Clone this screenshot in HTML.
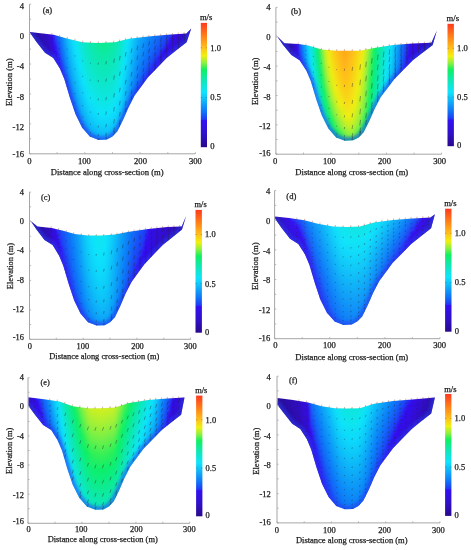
<!DOCTYPE html>
<html><head><meta charset="utf-8"><title>Figure</title><style>html,body{margin:0;padding:0;background:#fff}svg{display:block}text{stroke:#1a1a1a;stroke-width:.25px}</style></head><body>
<svg width="471" height="550" viewBox="0 0 471 550" font-family="'Liberation Serif', serif" font-size="8.6" fill="#1a1a1a">
<rect width="471" height="550" fill="#fff"/>
<defs><linearGradient id="cb" x1="0" y1="0" x2="0" y2="1"><stop offset="0.0000" stop-color="#ff3a20"/><stop offset="0.0960" stop-color="#ff7a18"/><stop offset="0.2000" stop-color="#ffc01a"/><stop offset="0.2640" stop-color="#f0f010"/><stop offset="0.3200" stop-color="#90f040"/><stop offset="0.3760" stop-color="#10f060"/><stop offset="0.4560" stop-color="#10e8b0"/><stop offset="0.5560" stop-color="#10e4fc"/><stop offset="0.6000" stop-color="#10c8f8"/><stop offset="0.7200" stop-color="#1070f8"/><stop offset="0.7776" stop-color="#2038f4"/><stop offset="0.7856" stop-color="#3210f4"/><stop offset="0.8960" stop-color="#3010c8"/><stop offset="1.0000" stop-color="#28088c"/></linearGradient>
<filter id="hb" x="-2%" y="-2%" width="104%" height="104%"><feGaussianBlur stdDeviation="1.3 0"/></filter>
<filter id="bl" x="-5%" y="-5%" width="110%" height="110%"><feGaussianBlur stdDeviation="1.6"/></filter>
<clipPath id="cp_a"><path d="M29.5,32.1 L53.7,34.8 L67.0,38.4 L82.3,42.2 L97.5,43.1 L114.7,42.2 L129.0,38.8 L148.2,36.5 L167.2,34.8 L186.4,33.6 L191.2,28.4 L186.6,42.3 L176.0,50.6 L166.6,58.0 L157.2,67.8 L147.8,77.5 L141.8,85.7 L134.6,95.4 L128.5,107.4 L123.0,120.1 L117.4,131.3 L112.5,136.6 L106.9,139.6 L98.6,139.9 L89.8,136.6 L82.0,127.6 L75.4,114.1 L69.9,97.7 L64.3,79.0 L59.9,68.5 L53.3,58.0 L45.0,52.8 L36.7,42.3 L29.5,31.9Z"/></clipPath>
<linearGradient id="ga0" gradientUnits="userSpaceOnUse" x1="0" y1="32.1" x2="0" y2="32.6"><stop offset="0.00" stop-color="#28088e"/><stop offset="0.15" stop-color="#28088e"/><stop offset="0.30" stop-color="#28088e"/><stop offset="0.45" stop-color="#28088d"/><stop offset="0.60" stop-color="#28088d"/><stop offset="0.73" stop-color="#28088d"/><stop offset="0.85" stop-color="#28088d"/><stop offset="0.94" stop-color="#28088d"/><stop offset="1.00" stop-color="#28088d"/></linearGradient>
<linearGradient id="ga1" gradientUnits="userSpaceOnUse" x1="0" y1="32.4" x2="0" y2="35.5"><stop offset="0.00" stop-color="#290994"/><stop offset="0.15" stop-color="#290994"/><stop offset="0.30" stop-color="#290994"/><stop offset="0.45" stop-color="#290993"/><stop offset="0.60" stop-color="#290993"/><stop offset="0.73" stop-color="#290993"/><stop offset="0.85" stop-color="#290992"/><stop offset="0.94" stop-color="#290992"/><stop offset="1.00" stop-color="#290991"/></linearGradient>
<linearGradient id="ga2" gradientUnits="userSpaceOnUse" x1="0" y1="32.6" x2="0" y2="38.4"><stop offset="0.00" stop-color="#2a0a9b"/><stop offset="0.15" stop-color="#2a0a9b"/><stop offset="0.30" stop-color="#2a0a9a"/><stop offset="0.45" stop-color="#2a0a99"/><stop offset="0.60" stop-color="#2a0a99"/><stop offset="0.73" stop-color="#2a0a98"/><stop offset="0.85" stop-color="#290997"/><stop offset="0.94" stop-color="#290996"/><stop offset="1.00" stop-color="#290995"/></linearGradient>
<linearGradient id="ga3" gradientUnits="userSpaceOnUse" x1="0" y1="32.8" x2="0" y2="41.3"><stop offset="0.00" stop-color="#2b0ba2"/><stop offset="0.15" stop-color="#2b0ba1"/><stop offset="0.30" stop-color="#2b0ba0"/><stop offset="0.45" stop-color="#2b0b9f"/><stop offset="0.60" stop-color="#2a0a9e"/><stop offset="0.73" stop-color="#2a0a9d"/><stop offset="0.85" stop-color="#2a0a9c"/><stop offset="0.94" stop-color="#2a0a9b"/><stop offset="1.00" stop-color="#2a0a99"/></linearGradient>
<linearGradient id="ga4" gradientUnits="userSpaceOnUse" x1="0" y1="33.1" x2="0" y2="44.0"><stop offset="0.00" stop-color="#2c0ca9"/><stop offset="0.15" stop-color="#2c0ca8"/><stop offset="0.30" stop-color="#2c0ca7"/><stop offset="0.45" stop-color="#2b0ba5"/><stop offset="0.60" stop-color="#2b0ba4"/><stop offset="0.73" stop-color="#2b0ba2"/><stop offset="0.85" stop-color="#2b0ba1"/><stop offset="0.94" stop-color="#2b0b9f"/><stop offset="1.00" stop-color="#2a0a9d"/></linearGradient>
<linearGradient id="ga5" gradientUnits="userSpaceOnUse" x1="0" y1="33.3" x2="0" y2="46.5"><stop offset="0.00" stop-color="#2d0db0"/><stop offset="0.15" stop-color="#2d0dae"/><stop offset="0.30" stop-color="#2c0cad"/><stop offset="0.45" stop-color="#2c0cab"/><stop offset="0.60" stop-color="#2c0ca9"/><stop offset="0.73" stop-color="#2c0ca8"/><stop offset="0.85" stop-color="#2b0ba6"/><stop offset="0.94" stop-color="#2b0ba4"/><stop offset="1.00" stop-color="#2b0ba1"/></linearGradient>
<linearGradient id="ga6" gradientUnits="userSpaceOnUse" x1="0" y1="33.5" x2="0" y2="49.0"><stop offset="0.00" stop-color="#2e0eb6"/><stop offset="0.15" stop-color="#2d0db5"/><stop offset="0.30" stop-color="#2d0db3"/><stop offset="0.45" stop-color="#2d0db1"/><stop offset="0.60" stop-color="#2d0daf"/><stop offset="0.73" stop-color="#2c0cad"/><stop offset="0.85" stop-color="#2c0cab"/><stop offset="0.94" stop-color="#2c0ca8"/><stop offset="1.00" stop-color="#2b0ba5"/></linearGradient>
<linearGradient id="ga7" gradientUnits="userSpaceOnUse" x1="0" y1="33.7" x2="0" y2="51.6"><stop offset="0.00" stop-color="#2f0fbd"/><stop offset="0.15" stop-color="#2e0ebb"/><stop offset="0.30" stop-color="#2e0eb9"/><stop offset="0.45" stop-color="#2e0eb7"/><stop offset="0.60" stop-color="#2d0db5"/><stop offset="0.73" stop-color="#2d0db2"/><stop offset="0.85" stop-color="#2d0daf"/><stop offset="0.94" stop-color="#2c0cad"/><stop offset="1.00" stop-color="#2c0ca9"/></linearGradient>
<linearGradient id="ga8" gradientUnits="userSpaceOnUse" x1="0" y1="34.0" x2="0" y2="53.4"><stop offset="0.00" stop-color="#2f0fc4"/><stop offset="0.15" stop-color="#2f0fc2"/><stop offset="0.30" stop-color="#2f0fbf"/><stop offset="0.45" stop-color="#2f0fbd"/><stop offset="0.60" stop-color="#2e0eba"/><stop offset="0.73" stop-color="#2e0eb7"/><stop offset="0.85" stop-color="#2d0db4"/><stop offset="0.94" stop-color="#2d0db1"/><stop offset="1.00" stop-color="#2c0cad"/></linearGradient>
<linearGradient id="ga9" gradientUnits="userSpaceOnUse" x1="0" y1="34.2" x2="0" y2="54.7"><stop offset="0.00" stop-color="#3010ca"/><stop offset="0.15" stop-color="#3010c8"/><stop offset="0.30" stop-color="#3010c6"/><stop offset="0.45" stop-color="#2f0fc3"/><stop offset="0.60" stop-color="#2f0fc0"/><stop offset="0.73" stop-color="#2e0ebd"/><stop offset="0.85" stop-color="#2e0eb9"/><stop offset="0.94" stop-color="#2e0eb6"/><stop offset="1.00" stop-color="#2d0db1"/></linearGradient>
<linearGradient id="ga10" gradientUnits="userSpaceOnUse" x1="0" y1="34.4" x2="0" y2="56.0"><stop offset="0.00" stop-color="#3010cf"/><stop offset="0.15" stop-color="#3010cd"/><stop offset="0.30" stop-color="#3010cb"/><stop offset="0.45" stop-color="#3010c9"/><stop offset="0.60" stop-color="#3010c5"/><stop offset="0.73" stop-color="#2f0fc2"/><stop offset="0.85" stop-color="#2f0fbe"/><stop offset="0.94" stop-color="#2e0eba"/><stop offset="1.00" stop-color="#2d0db5"/></linearGradient>
<linearGradient id="ga11" gradientUnits="userSpaceOnUse" x1="0" y1="34.7" x2="0" y2="57.2"><stop offset="0.00" stop-color="#3110e3"/><stop offset="0.15" stop-color="#3110e0"/><stop offset="0.30" stop-color="#3110dd"/><stop offset="0.45" stop-color="#3110da"/><stop offset="0.60" stop-color="#3110d6"/><stop offset="0.73" stop-color="#3010d3"/><stop offset="0.85" stop-color="#3010cf"/><stop offset="0.94" stop-color="#3010cb"/><stop offset="1.00" stop-color="#3010c5"/></linearGradient>
<linearGradient id="ga12" gradientUnits="userSpaceOnUse" x1="0" y1="34.9" x2="0" y2="59.2"><stop offset="0.00" stop-color="#2a21f4"/><stop offset="0.15" stop-color="#3210f2"/><stop offset="0.30" stop-color="#3210ef"/><stop offset="0.45" stop-color="#3210eb"/><stop offset="0.60" stop-color="#3110e6"/><stop offset="0.73" stop-color="#3110e2"/><stop offset="0.85" stop-color="#3110dd"/><stop offset="0.94" stop-color="#3110d8"/><stop offset="1.00" stop-color="#3010d2"/></linearGradient>
<linearGradient id="ga13" gradientUnits="userSpaceOnUse" x1="0" y1="35.5" x2="0" y2="62.3"><stop offset="0.00" stop-color="#1b49f5"/><stop offset="0.15" stop-color="#1e40f5"/><stop offset="0.30" stop-color="#2430f4"/><stop offset="0.45" stop-color="#3210f2"/><stop offset="0.60" stop-color="#3210ed"/><stop offset="0.73" stop-color="#3110e9"/><stop offset="0.85" stop-color="#3110e3"/><stop offset="0.94" stop-color="#3110de"/><stop offset="1.00" stop-color="#3110d7"/></linearGradient>
<linearGradient id="ga14" gradientUnits="userSpaceOnUse" x1="0" y1="36.0" x2="0" y2="65.5"><stop offset="0.00" stop-color="#155ef7"/><stop offset="0.15" stop-color="#1854f6"/><stop offset="0.30" stop-color="#1b4af5"/><stop offset="0.45" stop-color="#1e3ef4"/><stop offset="0.60" stop-color="#2f17f4"/><stop offset="0.73" stop-color="#3210ef"/><stop offset="0.85" stop-color="#3210ea"/><stop offset="0.94" stop-color="#3110e4"/><stop offset="1.00" stop-color="#3110dc"/></linearGradient>
<linearGradient id="ga15" gradientUnits="userSpaceOnUse" x1="0" y1="36.5" x2="0" y2="68.7"><stop offset="0.00" stop-color="#1072f8"/><stop offset="0.15" stop-color="#1269f7"/><stop offset="0.30" stop-color="#155df7"/><stop offset="0.45" stop-color="#1951f6"/><stop offset="0.60" stop-color="#1d43f5"/><stop offset="0.73" stop-color="#2729f4"/><stop offset="0.85" stop-color="#3210f0"/><stop offset="0.94" stop-color="#3210e9"/><stop offset="1.00" stop-color="#3110e1"/></linearGradient>
<linearGradient id="ga16" gradientUnits="userSpaceOnUse" x1="0" y1="37.0" x2="0" y2="73.4"><stop offset="0.00" stop-color="#1085f8"/><stop offset="0.15" stop-color="#107cf8"/><stop offset="0.30" stop-color="#1073f8"/><stop offset="0.45" stop-color="#1366f7"/><stop offset="0.60" stop-color="#1757f6"/><stop offset="0.73" stop-color="#1c48f5"/><stop offset="0.85" stop-color="#2430f4"/><stop offset="0.94" stop-color="#3210f0"/><stop offset="1.00" stop-color="#3110e7"/></linearGradient>
<linearGradient id="ga17" gradientUnits="userSpaceOnUse" x1="0" y1="37.6" x2="0" y2="78.2"><stop offset="0.00" stop-color="#1099f8"/><stop offset="0.15" stop-color="#108ff8"/><stop offset="0.30" stop-color="#1085f8"/><stop offset="0.45" stop-color="#107af8"/><stop offset="0.60" stop-color="#116cf8"/><stop offset="0.73" stop-color="#165bf7"/><stop offset="0.85" stop-color="#1b49f5"/><stop offset="0.94" stop-color="#242ff4"/><stop offset="1.00" stop-color="#3210ed"/></linearGradient>
<linearGradient id="ga18" gradientUnits="userSpaceOnUse" x1="0" y1="38.1" x2="0" y2="84.6"><stop offset="0.00" stop-color="#10acf8"/><stop offset="0.15" stop-color="#10a2f8"/><stop offset="0.30" stop-color="#1097f8"/><stop offset="0.45" stop-color="#108bf8"/><stop offset="0.60" stop-color="#107df8"/><stop offset="0.73" stop-color="#106ff8"/><stop offset="0.85" stop-color="#165af6"/><stop offset="0.94" stop-color="#1c46f5"/><stop offset="1.00" stop-color="#3210f2"/></linearGradient>
<linearGradient id="ga19" gradientUnits="userSpaceOnUse" x1="0" y1="38.6" x2="0" y2="91.4"><stop offset="0.00" stop-color="#10c0f8"/><stop offset="0.15" stop-color="#10b5f8"/><stop offset="0.30" stop-color="#10a9f8"/><stop offset="0.45" stop-color="#109cf8"/><stop offset="0.60" stop-color="#108cf8"/><stop offset="0.73" stop-color="#107df8"/><stop offset="0.85" stop-color="#116bf8"/><stop offset="0.94" stop-color="#1756f6"/><stop offset="1.00" stop-color="#1f3af4"/></linearGradient>
<linearGradient id="ga20" gradientUnits="userSpaceOnUse" x1="0" y1="39.1" x2="0" y2="98.1"><stop offset="0.00" stop-color="#10cdf9"/><stop offset="0.15" stop-color="#10c2f8"/><stop offset="0.30" stop-color="#10b6f8"/><stop offset="0.45" stop-color="#10a8f8"/><stop offset="0.60" stop-color="#1098f8"/><stop offset="0.73" stop-color="#1089f8"/><stop offset="0.85" stop-color="#1077f8"/><stop offset="0.94" stop-color="#1464f7"/><stop offset="1.00" stop-color="#1c46f5"/></linearGradient>
<linearGradient id="ga21" gradientUnits="userSpaceOnUse" x1="0" y1="39.6" x2="0" y2="104.0"><stop offset="0.00" stop-color="#10d8fa"/><stop offset="0.15" stop-color="#10cef9"/><stop offset="0.30" stop-color="#10c1f8"/><stop offset="0.45" stop-color="#10b3f8"/><stop offset="0.60" stop-color="#10a2f8"/><stop offset="0.73" stop-color="#1092f8"/><stop offset="0.85" stop-color="#1080f8"/><stop offset="0.94" stop-color="#116ef8"/><stop offset="1.00" stop-color="#194ff6"/></linearGradient>
<linearGradient id="ga22" gradientUnits="userSpaceOnUse" x1="0" y1="40.1" x2="0" y2="110.0"><stop offset="0.00" stop-color="#10e3fc"/><stop offset="0.15" stop-color="#10d8fa"/><stop offset="0.30" stop-color="#10ccf9"/><stop offset="0.45" stop-color="#10bef8"/><stop offset="0.60" stop-color="#10acf8"/><stop offset="0.73" stop-color="#109bf8"/><stop offset="0.85" stop-color="#1088f8"/><stop offset="0.94" stop-color="#1076f8"/><stop offset="1.00" stop-color="#1758f6"/></linearGradient>
<linearGradient id="ga23" gradientUnits="userSpaceOnUse" x1="0" y1="40.6" x2="0" y2="115.4"><stop offset="0.00" stop-color="#10e4f3"/><stop offset="0.15" stop-color="#10e1fc"/><stop offset="0.30" stop-color="#10d5fa"/><stop offset="0.45" stop-color="#10c7f8"/><stop offset="0.60" stop-color="#10b5f8"/><stop offset="0.73" stop-color="#10a3f8"/><stop offset="0.85" stop-color="#1090f8"/><stop offset="0.94" stop-color="#107df8"/><stop offset="1.00" stop-color="#1560f7"/></linearGradient>
<linearGradient id="ga24" gradientUnits="userSpaceOnUse" x1="0" y1="41.1" x2="0" y2="119.4"><stop offset="0.00" stop-color="#10e5e8"/><stop offset="0.15" stop-color="#10e4f5"/><stop offset="0.30" stop-color="#10ddfb"/><stop offset="0.45" stop-color="#10cff9"/><stop offset="0.60" stop-color="#10bef8"/><stop offset="0.73" stop-color="#10abf8"/><stop offset="0.85" stop-color="#1097f8"/><stop offset="0.94" stop-color="#1083f8"/><stop offset="1.00" stop-color="#1268f7"/></linearGradient>
<linearGradient id="ga25" gradientUnits="userSpaceOnUse" x1="0" y1="41.6" x2="0" y2="123.5"><stop offset="0.00" stop-color="#10e6dd"/><stop offset="0.15" stop-color="#10e5eb"/><stop offset="0.30" stop-color="#10e4fa"/><stop offset="0.45" stop-color="#10d7fa"/><stop offset="0.60" stop-color="#10c6f8"/><stop offset="0.73" stop-color="#10b3f8"/><stop offset="0.85" stop-color="#109ef8"/><stop offset="0.94" stop-color="#108af8"/><stop offset="1.00" stop-color="#106ff8"/></linearGradient>
<linearGradient id="ga26" gradientUnits="userSpaceOnUse" x1="0" y1="42.1" x2="0" y2="127.5"><stop offset="0.00" stop-color="#10e6d3"/><stop offset="0.15" stop-color="#10e5e1"/><stop offset="0.30" stop-color="#10e5f1"/><stop offset="0.45" stop-color="#10defb"/><stop offset="0.60" stop-color="#10cdf9"/><stop offset="0.73" stop-color="#10baf8"/><stop offset="0.85" stop-color="#10a5f8"/><stop offset="0.94" stop-color="#1090f8"/><stop offset="1.00" stop-color="#1075f8"/></linearGradient>
<linearGradient id="ga27" gradientUnits="userSpaceOnUse" x1="0" y1="42.3" x2="0" y2="129.9"><stop offset="0.00" stop-color="#10e7c8"/><stop offset="0.15" stop-color="#10e6d7"/><stop offset="0.30" stop-color="#10e5e8"/><stop offset="0.45" stop-color="#10e4fa"/><stop offset="0.60" stop-color="#10d4fa"/><stop offset="0.73" stop-color="#10c2f8"/><stop offset="0.85" stop-color="#10acf8"/><stop offset="0.94" stop-color="#1096f8"/><stop offset="1.00" stop-color="#107bf8"/></linearGradient>
<linearGradient id="ga28" gradientUnits="userSpaceOnUse" x1="0" y1="42.4" x2="0" y2="132.2"><stop offset="0.00" stop-color="#10e7be"/><stop offset="0.15" stop-color="#10e6cd"/><stop offset="0.30" stop-color="#10e6de"/><stop offset="0.45" stop-color="#10e5f1"/><stop offset="0.60" stop-color="#10dbfb"/><stop offset="0.73" stop-color="#10c9f8"/><stop offset="0.85" stop-color="#10b3f8"/><stop offset="0.94" stop-color="#109df8"/><stop offset="1.00" stop-color="#1080f8"/></linearGradient>
<linearGradient id="ga29" gradientUnits="userSpaceOnUse" x1="0" y1="42.5" x2="0" y2="134.5"><stop offset="0.00" stop-color="#10e8b5"/><stop offset="0.15" stop-color="#10e7c4"/><stop offset="0.30" stop-color="#10e6d5"/><stop offset="0.45" stop-color="#10e5e8"/><stop offset="0.60" stop-color="#10e2fc"/><stop offset="0.73" stop-color="#10d0f9"/><stop offset="0.85" stop-color="#10b9f8"/><stop offset="0.94" stop-color="#10a3f8"/><stop offset="1.00" stop-color="#1086f8"/></linearGradient>
<linearGradient id="ga30" gradientUnits="userSpaceOnUse" x1="0" y1="42.6" x2="0" y2="136.7"><stop offset="0.00" stop-color="#10e8b0"/><stop offset="0.15" stop-color="#10e7bf"/><stop offset="0.30" stop-color="#10e6d0"/><stop offset="0.45" stop-color="#10e5e3"/><stop offset="0.60" stop-color="#10e4f9"/><stop offset="0.73" stop-color="#10d5fa"/><stop offset="0.85" stop-color="#10c0f8"/><stop offset="0.94" stop-color="#10a9f8"/><stop offset="1.00" stop-color="#108cf8"/></linearGradient>
<linearGradient id="ga31" gradientUnits="userSpaceOnUse" x1="0" y1="42.8" x2="0" y2="137.4"><stop offset="0.00" stop-color="#10e9a9"/><stop offset="0.15" stop-color="#10e7ba"/><stop offset="0.30" stop-color="#10e7cc"/><stop offset="0.45" stop-color="#10e6df"/><stop offset="0.60" stop-color="#10e4f4"/><stop offset="0.73" stop-color="#10d8fa"/><stop offset="0.85" stop-color="#10c4f8"/><stop offset="0.94" stop-color="#10aef8"/><stop offset="1.00" stop-color="#1090f8"/></linearGradient>
<linearGradient id="ga32" gradientUnits="userSpaceOnUse" x1="0" y1="42.9" x2="0" y2="138.2"><stop offset="0.00" stop-color="#10e9a2"/><stop offset="0.15" stop-color="#10e8b6"/><stop offset="0.30" stop-color="#10e7c7"/><stop offset="0.45" stop-color="#10e6da"/><stop offset="0.60" stop-color="#10e5f0"/><stop offset="0.73" stop-color="#10dcfb"/><stop offset="0.85" stop-color="#10c8f8"/><stop offset="0.94" stop-color="#10b1f8"/><stop offset="1.00" stop-color="#1093f8"/></linearGradient>
<linearGradient id="ga33" gradientUnits="userSpaceOnUse" x1="0" y1="43.0" x2="0" y2="138.9"><stop offset="0.00" stop-color="#10ea9c"/><stop offset="0.15" stop-color="#10e8b1"/><stop offset="0.30" stop-color="#10e7c2"/><stop offset="0.45" stop-color="#10e6d6"/><stop offset="0.60" stop-color="#10e5ec"/><stop offset="0.73" stop-color="#10dffb"/><stop offset="0.85" stop-color="#10cbf8"/><stop offset="0.94" stop-color="#10b4f8"/><stop offset="1.00" stop-color="#1096f8"/></linearGradient>
<linearGradient id="ga34" gradientUnits="userSpaceOnUse" x1="0" y1="43.1" x2="0" y2="139.7"><stop offset="0.00" stop-color="#10ea98"/><stop offset="0.15" stop-color="#10e8ad"/><stop offset="0.30" stop-color="#10e7c0"/><stop offset="0.45" stop-color="#10e6d3"/><stop offset="0.60" stop-color="#10e5e8"/><stop offset="0.73" stop-color="#10e2fc"/><stop offset="0.85" stop-color="#10cef9"/><stop offset="0.94" stop-color="#10b7f8"/><stop offset="1.00" stop-color="#1099f8"/></linearGradient>
<linearGradient id="ga35" gradientUnits="userSpaceOnUse" x1="0" y1="42.9" x2="0" y2="139.9"><stop offset="0.00" stop-color="#10eb95"/><stop offset="0.15" stop-color="#10e9aa"/><stop offset="0.30" stop-color="#10e7bd"/><stop offset="0.45" stop-color="#10e6d0"/><stop offset="0.60" stop-color="#10e5e6"/><stop offset="0.73" stop-color="#10e4fc"/><stop offset="0.85" stop-color="#10d0f9"/><stop offset="0.94" stop-color="#10baf8"/><stop offset="1.00" stop-color="#109bf8"/></linearGradient>
<linearGradient id="ga36" gradientUnits="userSpaceOnUse" x1="0" y1="42.8" x2="0" y2="139.8"><stop offset="0.00" stop-color="#10eb91"/><stop offset="0.15" stop-color="#10e9a6"/><stop offset="0.30" stop-color="#10e7ba"/><stop offset="0.45" stop-color="#10e6ce"/><stop offset="0.60" stop-color="#10e5e4"/><stop offset="0.73" stop-color="#10e4fa"/><stop offset="0.85" stop-color="#10d2f9"/><stop offset="0.94" stop-color="#10bcf8"/><stop offset="1.00" stop-color="#109df8"/></linearGradient>
<linearGradient id="ga37" gradientUnits="userSpaceOnUse" x1="0" y1="42.7" x2="0" y2="139.7"><stop offset="0.00" stop-color="#10eb92"/><stop offset="0.15" stop-color="#10e9a7"/><stop offset="0.30" stop-color="#10e7ba"/><stop offset="0.45" stop-color="#10e6cd"/><stop offset="0.60" stop-color="#10e5e2"/><stop offset="0.73" stop-color="#10e4f8"/><stop offset="0.85" stop-color="#10d3fa"/><stop offset="0.94" stop-color="#10bef8"/><stop offset="1.00" stop-color="#109ff8"/></linearGradient>
<linearGradient id="ga38" gradientUnits="userSpaceOnUse" x1="0" y1="42.6" x2="0" y2="139.6"><stop offset="0.00" stop-color="#10eb94"/><stop offset="0.15" stop-color="#10e9a9"/><stop offset="0.30" stop-color="#10e7bc"/><stop offset="0.45" stop-color="#10e6cf"/><stop offset="0.60" stop-color="#10e5e3"/><stop offset="0.73" stop-color="#10e4f8"/><stop offset="0.85" stop-color="#10d4fa"/><stop offset="0.94" stop-color="#10bff8"/><stop offset="1.00" stop-color="#10a0f8"/></linearGradient>
<linearGradient id="ga39" gradientUnits="userSpaceOnUse" x1="0" y1="42.5" x2="0" y2="139.0"><stop offset="0.00" stop-color="#10eb97"/><stop offset="0.15" stop-color="#10e8ac"/><stop offset="0.30" stop-color="#10e7be"/><stop offset="0.45" stop-color="#10e6d0"/><stop offset="0.60" stop-color="#10e5e5"/><stop offset="0.73" stop-color="#10e4f9"/><stop offset="0.85" stop-color="#10d3fa"/><stop offset="0.94" stop-color="#10bef8"/><stop offset="1.00" stop-color="#109ff8"/></linearGradient>
<linearGradient id="ga40" gradientUnits="userSpaceOnUse" x1="0" y1="42.4" x2="0" y2="137.9"><stop offset="0.00" stop-color="#10ea99"/><stop offset="0.15" stop-color="#10e8ae"/><stop offset="0.30" stop-color="#10e7bf"/><stop offset="0.45" stop-color="#10e6d2"/><stop offset="0.60" stop-color="#10e5e6"/><stop offset="0.73" stop-color="#10e4fb"/><stop offset="0.85" stop-color="#10d2f9"/><stop offset="0.94" stop-color="#10bdf8"/><stop offset="1.00" stop-color="#109ef8"/></linearGradient>
<linearGradient id="ga41" gradientUnits="userSpaceOnUse" x1="0" y1="42.3" x2="0" y2="136.8"><stop offset="0.00" stop-color="#10ea9b"/><stop offset="0.15" stop-color="#10e8b0"/><stop offset="0.30" stop-color="#10e7c1"/><stop offset="0.45" stop-color="#10e6d4"/><stop offset="0.60" stop-color="#10e5e8"/><stop offset="0.73" stop-color="#10e4fc"/><stop offset="0.85" stop-color="#10d1f9"/><stop offset="0.94" stop-color="#10bcf8"/><stop offset="1.00" stop-color="#109df8"/></linearGradient>
<linearGradient id="ga42" gradientUnits="userSpaceOnUse" x1="0" y1="42.2" x2="0" y2="134.9"><stop offset="0.00" stop-color="#10e9a4"/><stop offset="0.15" stop-color="#10e8b6"/><stop offset="0.30" stop-color="#10e7c6"/><stop offset="0.45" stop-color="#10e6d7"/><stop offset="0.60" stop-color="#10e5ea"/><stop offset="0.73" stop-color="#10e2fc"/><stop offset="0.85" stop-color="#10cff9"/><stop offset="0.94" stop-color="#10baf8"/><stop offset="1.00" stop-color="#109cf8"/></linearGradient>
<linearGradient id="ga43" gradientUnits="userSpaceOnUse" x1="0" y1="41.9" x2="0" y2="132.8"><stop offset="0.00" stop-color="#10e8ae"/><stop offset="0.15" stop-color="#10e7bd"/><stop offset="0.30" stop-color="#10e6cd"/><stop offset="0.45" stop-color="#10e6de"/><stop offset="0.60" stop-color="#10e5f1"/><stop offset="0.73" stop-color="#10defb"/><stop offset="0.85" stop-color="#10ccf9"/><stop offset="0.94" stop-color="#10b8f8"/><stop offset="1.00" stop-color="#109af8"/></linearGradient>
<linearGradient id="ga44" gradientUnits="userSpaceOnUse" x1="0" y1="41.4" x2="0" y2="130.2"><stop offset="0.00" stop-color="#10e8b6"/><stop offset="0.15" stop-color="#10e7c5"/><stop offset="0.30" stop-color="#10e6d4"/><stop offset="0.45" stop-color="#10e5e5"/><stop offset="0.60" stop-color="#10e4f7"/><stop offset="0.73" stop-color="#10d9fa"/><stop offset="0.85" stop-color="#10c7f8"/><stop offset="0.94" stop-color="#10b3f8"/><stop offset="1.00" stop-color="#1096f8"/></linearGradient>
<linearGradient id="ga45" gradientUnits="userSpaceOnUse" x1="0" y1="40.9" x2="0" y2="126.1"><stop offset="0.00" stop-color="#10e7bf"/><stop offset="0.15" stop-color="#10e6cd"/><stop offset="0.30" stop-color="#10e6dc"/><stop offset="0.45" stop-color="#10e5ec"/><stop offset="0.60" stop-color="#10e3fc"/><stop offset="0.73" stop-color="#10d3fa"/><stop offset="0.85" stop-color="#10c1f8"/><stop offset="0.94" stop-color="#10adf8"/><stop offset="1.00" stop-color="#1091f8"/></linearGradient>
<linearGradient id="ga46" gradientUnits="userSpaceOnUse" x1="0" y1="40.5" x2="0" y2="122.1"><stop offset="0.00" stop-color="#10e6cd"/><stop offset="0.15" stop-color="#10e6db"/><stop offset="0.30" stop-color="#10e5e9"/><stop offset="0.45" stop-color="#10e4f8"/><stop offset="0.60" stop-color="#10dafb"/><stop offset="0.73" stop-color="#10ccf9"/><stop offset="0.85" stop-color="#10bbf8"/><stop offset="0.94" stop-color="#10a8f8"/><stop offset="1.00" stop-color="#108cf8"/></linearGradient>
<linearGradient id="ga47" gradientUnits="userSpaceOnUse" x1="0" y1="40.0" x2="0" y2="117.7"><stop offset="0.00" stop-color="#10e6dc"/><stop offset="0.15" stop-color="#10e5e9"/><stop offset="0.30" stop-color="#10e4f7"/><stop offset="0.45" stop-color="#10dcfb"/><stop offset="0.60" stop-color="#10cff9"/><stop offset="0.73" stop-color="#10c1f8"/><stop offset="0.85" stop-color="#10aff8"/><stop offset="0.94" stop-color="#109df8"/><stop offset="1.00" stop-color="#1083f8"/></linearGradient>
<linearGradient id="ga48" gradientUnits="userSpaceOnUse" x1="0" y1="39.5" x2="0" y2="113.1"><stop offset="0.00" stop-color="#10e5eb"/><stop offset="0.15" stop-color="#10e4f8"/><stop offset="0.30" stop-color="#10ddfb"/><stop offset="0.45" stop-color="#10d1f9"/><stop offset="0.60" stop-color="#10c4f8"/><stop offset="0.73" stop-color="#10b5f8"/><stop offset="0.85" stop-color="#10a4f8"/><stop offset="0.94" stop-color="#1093f8"/><stop offset="1.00" stop-color="#1079f8"/></linearGradient>
<linearGradient id="ga49" gradientUnits="userSpaceOnUse" x1="0" y1="39.1" x2="0" y2="108.5"><stop offset="0.00" stop-color="#10e4f9"/><stop offset="0.15" stop-color="#10dcfb"/><stop offset="0.30" stop-color="#10d1f9"/><stop offset="0.45" stop-color="#10c6f8"/><stop offset="0.60" stop-color="#10b7f8"/><stop offset="0.73" stop-color="#10a9f8"/><stop offset="0.85" stop-color="#1099f8"/><stop offset="0.94" stop-color="#1088f8"/><stop offset="1.00" stop-color="#1070f8"/></linearGradient>
<linearGradient id="ga50" gradientUnits="userSpaceOnUse" x1="0" y1="38.7" x2="0" y2="104.4"><stop offset="0.00" stop-color="#10dcfb"/><stop offset="0.15" stop-color="#10d2f9"/><stop offset="0.30" stop-color="#10c7f8"/><stop offset="0.45" stop-color="#10baf8"/><stop offset="0.60" stop-color="#10acf8"/><stop offset="0.73" stop-color="#109ef8"/><stop offset="0.85" stop-color="#108ef8"/><stop offset="0.94" stop-color="#107ef8"/><stop offset="1.00" stop-color="#1464f7"/></linearGradient>
<linearGradient id="ga51" gradientUnits="userSpaceOnUse" x1="0" y1="38.5" x2="0" y2="100.5"><stop offset="0.00" stop-color="#10d1f9"/><stop offset="0.15" stop-color="#10c7f8"/><stop offset="0.30" stop-color="#10bcf8"/><stop offset="0.45" stop-color="#10aff8"/><stop offset="0.60" stop-color="#10a2f8"/><stop offset="0.73" stop-color="#1094f8"/><stop offset="0.85" stop-color="#1085f8"/><stop offset="0.94" stop-color="#1075f8"/><stop offset="1.00" stop-color="#1759f6"/></linearGradient>
<linearGradient id="ga52" gradientUnits="userSpaceOnUse" x1="0" y1="38.2" x2="0" y2="96.6"><stop offset="0.00" stop-color="#10c6f8"/><stop offset="0.15" stop-color="#10bbf8"/><stop offset="0.30" stop-color="#10b0f8"/><stop offset="0.45" stop-color="#10a4f8"/><stop offset="0.60" stop-color="#1097f8"/><stop offset="0.73" stop-color="#108af8"/><stop offset="0.85" stop-color="#107bf8"/><stop offset="0.94" stop-color="#116bf8"/><stop offset="1.00" stop-color="#1a4ef6"/></linearGradient>
<linearGradient id="ga53" gradientUnits="userSpaceOnUse" x1="0" y1="38.0" x2="0" y2="93.5"><stop offset="0.00" stop-color="#10baf8"/><stop offset="0.15" stop-color="#10aff8"/><stop offset="0.30" stop-color="#10a5f8"/><stop offset="0.45" stop-color="#1099f8"/><stop offset="0.60" stop-color="#108df8"/><stop offset="0.73" stop-color="#1080f8"/><stop offset="0.85" stop-color="#1072f8"/><stop offset="0.94" stop-color="#155ff7"/><stop offset="1.00" stop-color="#1d44f5"/></linearGradient>
<linearGradient id="ga54" gradientUnits="userSpaceOnUse" x1="0" y1="37.7" x2="0" y2="90.8"><stop offset="0.00" stop-color="#10adf8"/><stop offset="0.15" stop-color="#10a4f8"/><stop offset="0.30" stop-color="#1099f8"/><stop offset="0.45" stop-color="#108ef8"/><stop offset="0.60" stop-color="#1082f8"/><stop offset="0.73" stop-color="#1076f8"/><stop offset="0.85" stop-color="#1366f7"/><stop offset="0.94" stop-color="#1854f6"/><stop offset="1.00" stop-color="#203af4"/></linearGradient>
<linearGradient id="ga55" gradientUnits="userSpaceOnUse" x1="0" y1="37.5" x2="0" y2="88.1"><stop offset="0.00" stop-color="#10a5f8"/><stop offset="0.15" stop-color="#109cf8"/><stop offset="0.30" stop-color="#1092f8"/><stop offset="0.45" stop-color="#1087f8"/><stop offset="0.60" stop-color="#107bf8"/><stop offset="0.73" stop-color="#116ef8"/><stop offset="0.85" stop-color="#165cf7"/><stop offset="0.94" stop-color="#1b4af5"/><stop offset="1.00" stop-color="#3211f4"/></linearGradient>
<linearGradient id="ga56" gradientUnits="userSpaceOnUse" x1="0" y1="37.2" x2="0" y2="85.4"><stop offset="0.00" stop-color="#109ff8"/><stop offset="0.15" stop-color="#1095f8"/><stop offset="0.30" stop-color="#108cf8"/><stop offset="0.45" stop-color="#1081f8"/><stop offset="0.60" stop-color="#1075f8"/><stop offset="0.73" stop-color="#1367f7"/><stop offset="0.85" stop-color="#1855f6"/><stop offset="0.94" stop-color="#1d44f5"/><stop offset="1.00" stop-color="#3210f2"/></linearGradient>
<linearGradient id="ga57" gradientUnits="userSpaceOnUse" x1="0" y1="37.0" x2="0" y2="82.7"><stop offset="0.00" stop-color="#1098f8"/><stop offset="0.15" stop-color="#108ff8"/><stop offset="0.30" stop-color="#1085f8"/><stop offset="0.45" stop-color="#107bf8"/><stop offset="0.60" stop-color="#106ff8"/><stop offset="0.73" stop-color="#1560f7"/><stop offset="0.85" stop-color="#1a4ff6"/><stop offset="0.94" stop-color="#1e3df4"/><stop offset="1.00" stop-color="#3210f0"/></linearGradient>
<linearGradient id="ga58" gradientUnits="userSpaceOnUse" x1="0" y1="36.8" x2="0" y2="80.0"><stop offset="0.00" stop-color="#1091f8"/><stop offset="0.15" stop-color="#1089f8"/><stop offset="0.30" stop-color="#107ff8"/><stop offset="0.45" stop-color="#1075f8"/><stop offset="0.60" stop-color="#1268f7"/><stop offset="0.73" stop-color="#1759f6"/><stop offset="0.85" stop-color="#1b48f5"/><stop offset="0.94" stop-color="#2233f4"/><stop offset="1.00" stop-color="#3210ed"/></linearGradient>
<linearGradient id="ga59" gradientUnits="userSpaceOnUse" x1="0" y1="36.5" x2="0" y2="77.3"><stop offset="0.00" stop-color="#108bf8"/><stop offset="0.15" stop-color="#1082f8"/><stop offset="0.30" stop-color="#1079f8"/><stop offset="0.45" stop-color="#106ff8"/><stop offset="0.60" stop-color="#1560f7"/><stop offset="0.73" stop-color="#1952f6"/><stop offset="0.85" stop-color="#1d41f5"/><stop offset="0.94" stop-color="#3113f4"/><stop offset="1.00" stop-color="#3210eb"/></linearGradient>
<linearGradient id="ga60" gradientUnits="userSpaceOnUse" x1="0" y1="36.3" x2="0" y2="75.3"><stop offset="0.00" stop-color="#1084f8"/><stop offset="0.15" stop-color="#107cf8"/><stop offset="0.30" stop-color="#1073f8"/><stop offset="0.45" stop-color="#1267f7"/><stop offset="0.60" stop-color="#1759f6"/><stop offset="0.73" stop-color="#1b4bf5"/><stop offset="0.85" stop-color="#1f3bf4"/><stop offset="0.94" stop-color="#3210f2"/><stop offset="1.00" stop-color="#3110e9"/></linearGradient>
<linearGradient id="ga61" gradientUnits="userSpaceOnUse" x1="0" y1="36.2" x2="0" y2="73.2"><stop offset="0.00" stop-color="#107ff8"/><stop offset="0.15" stop-color="#1077f8"/><stop offset="0.30" stop-color="#116df8"/><stop offset="0.45" stop-color="#1461f7"/><stop offset="0.60" stop-color="#1853f6"/><stop offset="0.73" stop-color="#1c45f5"/><stop offset="0.85" stop-color="#262bf4"/><stop offset="0.94" stop-color="#3210f0"/><stop offset="1.00" stop-color="#3110e7"/></linearGradient>
<linearGradient id="ga62" gradientUnits="userSpaceOnUse" x1="0" y1="36.0" x2="0" y2="71.1"><stop offset="0.00" stop-color="#1079f8"/><stop offset="0.15" stop-color="#1071f8"/><stop offset="0.30" stop-color="#1366f7"/><stop offset="0.45" stop-color="#165af6"/><stop offset="0.60" stop-color="#1a4df5"/><stop offset="0.73" stop-color="#1e3ff5"/><stop offset="0.85" stop-color="#3210f4"/><stop offset="0.94" stop-color="#3210ee"/><stop offset="1.00" stop-color="#3110e5"/></linearGradient>
<linearGradient id="ga63" gradientUnits="userSpaceOnUse" x1="0" y1="35.8" x2="0" y2="69.0"><stop offset="0.00" stop-color="#1074f8"/><stop offset="0.15" stop-color="#126af8"/><stop offset="0.30" stop-color="#155ff7"/><stop offset="0.45" stop-color="#1854f6"/><stop offset="0.60" stop-color="#1c46f5"/><stop offset="0.73" stop-color="#2039f4"/><stop offset="0.85" stop-color="#3210f2"/><stop offset="0.94" stop-color="#3210eb"/><stop offset="1.00" stop-color="#3110e3"/></linearGradient>
<linearGradient id="ga64" gradientUnits="userSpaceOnUse" x1="0" y1="35.6" x2="0" y2="67.0"><stop offset="0.00" stop-color="#116df8"/><stop offset="0.15" stop-color="#1463f7"/><stop offset="0.30" stop-color="#1759f6"/><stop offset="0.45" stop-color="#1a4df5"/><stop offset="0.60" stop-color="#1e40f5"/><stop offset="0.73" stop-color="#2b1ff4"/><stop offset="0.85" stop-color="#3210ef"/><stop offset="0.94" stop-color="#3210e9"/><stop offset="1.00" stop-color="#3110e1"/></linearGradient>
<linearGradient id="ga65" gradientUnits="userSpaceOnUse" x1="0" y1="35.5" x2="0" y2="64.9"><stop offset="0.00" stop-color="#1366f7"/><stop offset="0.15" stop-color="#165cf7"/><stop offset="0.30" stop-color="#1952f6"/><stop offset="0.45" stop-color="#1c46f5"/><stop offset="0.60" stop-color="#1f3af4"/><stop offset="0.73" stop-color="#3210f3"/><stop offset="0.85" stop-color="#3210ed"/><stop offset="0.94" stop-color="#3110e7"/><stop offset="1.00" stop-color="#3110df"/></linearGradient>
<linearGradient id="ga66" gradientUnits="userSpaceOnUse" x1="0" y1="35.3" x2="0" y2="62.8"><stop offset="0.00" stop-color="#155ef7"/><stop offset="0.15" stop-color="#1855f6"/><stop offset="0.30" stop-color="#1b4bf5"/><stop offset="0.45" stop-color="#1e40f5"/><stop offset="0.60" stop-color="#2a21f4"/><stop offset="0.73" stop-color="#3210f0"/><stop offset="0.85" stop-color="#3210eb"/><stop offset="0.94" stop-color="#3110e5"/><stop offset="1.00" stop-color="#3110dd"/></linearGradient>
<linearGradient id="ga67" gradientUnits="userSpaceOnUse" x1="0" y1="35.1" x2="0" y2="60.8"><stop offset="0.00" stop-color="#1757f6"/><stop offset="0.15" stop-color="#1a4ef6"/><stop offset="0.30" stop-color="#1d44f5"/><stop offset="0.45" stop-color="#2039f4"/><stop offset="0.60" stop-color="#3210f3"/><stop offset="0.73" stop-color="#3210ee"/><stop offset="0.85" stop-color="#3110e8"/><stop offset="0.94" stop-color="#3110e3"/><stop offset="1.00" stop-color="#3110dc"/></linearGradient>
<linearGradient id="ga68" gradientUnits="userSpaceOnUse" x1="0" y1="35.0" x2="0" y2="58.7"><stop offset="0.00" stop-color="#1a4ff6"/><stop offset="0.15" stop-color="#1c46f5"/><stop offset="0.30" stop-color="#1f3cf4"/><stop offset="0.45" stop-color="#2e1af4"/><stop offset="0.60" stop-color="#3210f0"/><stop offset="0.73" stop-color="#3210eb"/><stop offset="0.85" stop-color="#3110e6"/><stop offset="0.94" stop-color="#3110e1"/><stop offset="1.00" stop-color="#3110da"/></linearGradient>
<linearGradient id="ga69" gradientUnits="userSpaceOnUse" x1="0" y1="34.8" x2="0" y2="57.0"><stop offset="0.00" stop-color="#1c45f5"/><stop offset="0.15" stop-color="#1f3df4"/><stop offset="0.30" stop-color="#2a22f4"/><stop offset="0.45" stop-color="#3210f1"/><stop offset="0.60" stop-color="#3210ed"/><stop offset="0.73" stop-color="#3110e8"/><stop offset="0.85" stop-color="#3110e3"/><stop offset="0.94" stop-color="#3110de"/><stop offset="1.00" stop-color="#3110d7"/></linearGradient>
<linearGradient id="ga70" gradientUnits="userSpaceOnUse" x1="0" y1="34.7" x2="0" y2="55.4"><stop offset="0.00" stop-color="#1f3cf4"/><stop offset="0.15" stop-color="#2a22f4"/><stop offset="0.30" stop-color="#3210f2"/><stop offset="0.45" stop-color="#3210ee"/><stop offset="0.60" stop-color="#3210ea"/><stop offset="0.73" stop-color="#3110e5"/><stop offset="0.85" stop-color="#3110e0"/><stop offset="0.94" stop-color="#3110dc"/><stop offset="1.00" stop-color="#3110d5"/></linearGradient>
<linearGradient id="ga71" gradientUnits="userSpaceOnUse" x1="0" y1="34.5" x2="0" y2="53.8"><stop offset="0.00" stop-color="#2d1cf4"/><stop offset="0.15" stop-color="#3210f2"/><stop offset="0.30" stop-color="#3210ee"/><stop offset="0.45" stop-color="#3210eb"/><stop offset="0.60" stop-color="#3110e6"/><stop offset="0.73" stop-color="#3110e2"/><stop offset="0.85" stop-color="#3110de"/><stop offset="0.94" stop-color="#3110d9"/><stop offset="1.00" stop-color="#3010d3"/></linearGradient>
<linearGradient id="ga72" gradientUnits="userSpaceOnUse" x1="0" y1="34.4" x2="0" y2="52.2"><stop offset="0.00" stop-color="#3210ed"/><stop offset="0.15" stop-color="#3210ea"/><stop offset="0.30" stop-color="#3110e7"/><stop offset="0.45" stop-color="#3110e4"/><stop offset="0.60" stop-color="#3110e0"/><stop offset="0.73" stop-color="#3110dc"/><stop offset="0.85" stop-color="#3110d8"/><stop offset="0.94" stop-color="#3110d4"/><stop offset="1.00" stop-color="#3010ce"/></linearGradient>
<linearGradient id="ga73" gradientUnits="userSpaceOnUse" x1="0" y1="34.3" x2="0" y2="50.6"><stop offset="0.00" stop-color="#3110e5"/><stop offset="0.15" stop-color="#3110e3"/><stop offset="0.30" stop-color="#3110e0"/><stop offset="0.45" stop-color="#3110dd"/><stop offset="0.60" stop-color="#3110d9"/><stop offset="0.73" stop-color="#3110d6"/><stop offset="0.85" stop-color="#3010d2"/><stop offset="0.94" stop-color="#3010ce"/><stop offset="1.00" stop-color="#3010c9"/></linearGradient>
<linearGradient id="ga74" gradientUnits="userSpaceOnUse" x1="0" y1="34.1" x2="0" y2="49.0"><stop offset="0.00" stop-color="#3110dd"/><stop offset="0.15" stop-color="#3110db"/><stop offset="0.30" stop-color="#3110d9"/><stop offset="0.45" stop-color="#3110d6"/><stop offset="0.60" stop-color="#3010d3"/><stop offset="0.73" stop-color="#3010d0"/><stop offset="0.85" stop-color="#3010cc"/><stop offset="0.94" stop-color="#3010c9"/><stop offset="1.00" stop-color="#2f0fc3"/></linearGradient>
<linearGradient id="ga75" gradientUnits="userSpaceOnUse" x1="0" y1="34.0" x2="0" y2="47.5"><stop offset="0.00" stop-color="#3110d7"/><stop offset="0.15" stop-color="#3110d5"/><stop offset="0.30" stop-color="#3010d3"/><stop offset="0.45" stop-color="#3010d0"/><stop offset="0.60" stop-color="#3010cd"/><stop offset="0.73" stop-color="#3010cb"/><stop offset="0.85" stop-color="#3010c8"/><stop offset="0.94" stop-color="#2f0fc3"/><stop offset="1.00" stop-color="#2f0fbd"/></linearGradient>
<linearGradient id="ga76" gradientUnits="userSpaceOnUse" x1="0" y1="33.9" x2="0" y2="45.9"><stop offset="0.00" stop-color="#3010d1"/><stop offset="0.15" stop-color="#3010cf"/><stop offset="0.30" stop-color="#3010cd"/><stop offset="0.45" stop-color="#3010cb"/><stop offset="0.60" stop-color="#3010c8"/><stop offset="0.73" stop-color="#3010c5"/><stop offset="0.85" stop-color="#2f0fc1"/><stop offset="0.94" stop-color="#2f0fbd"/><stop offset="1.00" stop-color="#2e0eb8"/></linearGradient>
<linearGradient id="ga77" gradientUnits="userSpaceOnUse" x1="0" y1="33.7" x2="0" y2="44.3"><stop offset="0.00" stop-color="#3010ca"/><stop offset="0.15" stop-color="#3010c9"/><stop offset="0.30" stop-color="#3010c6"/><stop offset="0.45" stop-color="#2f0fc4"/><stop offset="0.60" stop-color="#2f0fc1"/><stop offset="0.73" stop-color="#2f0fbd"/><stop offset="0.85" stop-color="#2e0eba"/><stop offset="0.94" stop-color="#2e0eb7"/><stop offset="1.00" stop-color="#2d0db2"/></linearGradient>
<linearGradient id="ga78" gradientUnits="userSpaceOnUse" x1="0" y1="33.6" x2="0" y2="42.8"><stop offset="0.00" stop-color="#2f0fc2"/><stop offset="0.15" stop-color="#2f0fc0"/><stop offset="0.30" stop-color="#2f0fbe"/><stop offset="0.45" stop-color="#2e0ebb"/><stop offset="0.60" stop-color="#2e0eb9"/><stop offset="0.73" stop-color="#2e0eb6"/><stop offset="0.85" stop-color="#2d0db3"/><stop offset="0.94" stop-color="#2d0db0"/><stop offset="1.00" stop-color="#2c0cac"/></linearGradient>
<linearGradient id="ga79" gradientUnits="userSpaceOnUse" x1="0" y1="31.8" x2="0" y2="38.0"><stop offset="0.00" stop-color="#2e0eb9"/><stop offset="0.15" stop-color="#2e0eb7"/><stop offset="0.30" stop-color="#2d0db5"/><stop offset="0.45" stop-color="#2d0db3"/><stop offset="0.60" stop-color="#2d0db1"/><stop offset="0.73" stop-color="#2d0daf"/><stop offset="0.85" stop-color="#2c0cac"/><stop offset="0.94" stop-color="#2c0caa"/><stop offset="1.00" stop-color="#2c0ca7"/></linearGradient>
<linearGradient id="ga80" gradientUnits="userSpaceOnUse" x1="0" y1="29.7" x2="0" y2="32.0"><stop offset="0.00" stop-color="#2d0daf"/><stop offset="0.15" stop-color="#2d0dae"/><stop offset="0.30" stop-color="#2c0cad"/><stop offset="0.45" stop-color="#2c0cab"/><stop offset="0.60" stop-color="#2c0ca9"/><stop offset="0.73" stop-color="#2c0ca8"/><stop offset="0.85" stop-color="#2b0ba6"/><stop offset="0.94" stop-color="#2b0ba4"/><stop offset="1.00" stop-color="#2b0ba1"/></linearGradient>
<linearGradient id="ga81" gradientUnits="userSpaceOnUse" x1="0" y1="28.4" x2="0" y2="30.7"><stop offset="0.00" stop-color="#2b0ba6"/><stop offset="0.15" stop-color="#2b0ba5"/><stop offset="0.30" stop-color="#2b0ba4"/><stop offset="0.45" stop-color="#2b0ba3"/><stop offset="0.60" stop-color="#2b0ba2"/><stop offset="0.73" stop-color="#2b0ba0"/><stop offset="0.85" stop-color="#2b0b9f"/><stop offset="0.94" stop-color="#2a0a9e"/><stop offset="1.00" stop-color="#2a0a9c"/></linearGradient>
<linearGradient id="ga82" gradientUnits="userSpaceOnUse" x1="0" y1="28.4" x2="0" y2="30.7"><stop offset="0.00" stop-color="#2b0ba3"/><stop offset="0.15" stop-color="#2b0ba2"/><stop offset="0.30" stop-color="#2b0ba1"/><stop offset="0.45" stop-color="#2b0ba0"/><stop offset="0.60" stop-color="#2b0b9f"/><stop offset="0.73" stop-color="#2a0a9e"/><stop offset="0.85" stop-color="#2a0a9d"/><stop offset="0.94" stop-color="#2a0a9c"/><stop offset="1.00" stop-color="#2a0a9a"/></linearGradient>
<clipPath id="cp_b"><path d="M275.9,34.9 L284.3,43.2 L298.7,44.1 L308.2,45.6 L321.6,49.5 L336.9,50.7 L359.8,50.7 L374.1,47.9 L393.2,45.1 L412.3,43.5 L431.4,42.8 L436.8,30.7 L432.7,44.9 L422.2,52.9 L412.8,60.3 L403.4,69.8 L394.0,79.4 L388.0,87.4 L380.8,97.0 L374.7,108.7 L369.2,121.2 L363.7,132.2 L358.7,137.4 L353.2,140.3 L344.9,140.7 L336.1,137.4 L328.3,128.6 L321.7,115.3 L316.2,99.2 L310.7,80.8 L306.3,70.6 L299.6,60.3 L291.4,55.1 L283.1,44.9 L275.9,34.6Z"/></clipPath>
<linearGradient id="gb0" gradientUnits="userSpaceOnUse" x1="0" y1="35.4" x2="0" y2="37.6"><stop offset="0.00" stop-color="#28088d"/><stop offset="0.15" stop-color="#28088d"/><stop offset="0.30" stop-color="#28088d"/><stop offset="0.45" stop-color="#28088d"/><stop offset="0.60" stop-color="#28088d"/><stop offset="0.73" stop-color="#28088d"/><stop offset="0.85" stop-color="#28088d"/><stop offset="0.94" stop-color="#28088d"/><stop offset="1.00" stop-color="#28088d"/></linearGradient>
<linearGradient id="gb1" gradientUnits="userSpaceOnUse" x1="0" y1="37.4" x2="0" y2="38.2"><stop offset="0.00" stop-color="#290993"/><stop offset="0.15" stop-color="#290993"/><stop offset="0.30" stop-color="#290993"/><stop offset="0.45" stop-color="#290993"/><stop offset="0.60" stop-color="#290992"/><stop offset="0.73" stop-color="#290992"/><stop offset="0.85" stop-color="#290992"/><stop offset="0.94" stop-color="#290992"/><stop offset="1.00" stop-color="#290991"/></linearGradient>
<linearGradient id="gb2" gradientUnits="userSpaceOnUse" x1="0" y1="39.3" x2="0" y2="41.0"><stop offset="0.00" stop-color="#2a0a99"/><stop offset="0.15" stop-color="#2a0a98"/><stop offset="0.30" stop-color="#2a0a98"/><stop offset="0.45" stop-color="#2a0a98"/><stop offset="0.60" stop-color="#2a0a97"/><stop offset="0.73" stop-color="#290997"/><stop offset="0.85" stop-color="#290997"/><stop offset="0.94" stop-color="#290996"/><stop offset="1.00" stop-color="#290995"/></linearGradient>
<linearGradient id="gb3" gradientUnits="userSpaceOnUse" x1="0" y1="41.3" x2="0" y2="43.9"><stop offset="0.00" stop-color="#2a0a9e"/><stop offset="0.15" stop-color="#2a0a9e"/><stop offset="0.30" stop-color="#2a0a9d"/><stop offset="0.45" stop-color="#2a0a9d"/><stop offset="0.60" stop-color="#2a0a9d"/><stop offset="0.73" stop-color="#2a0a9c"/><stop offset="0.85" stop-color="#2a0a9b"/><stop offset="0.94" stop-color="#2a0a9b"/><stop offset="1.00" stop-color="#2a0a99"/></linearGradient>
<linearGradient id="gb4" gradientUnits="userSpaceOnUse" x1="0" y1="43.2" x2="0" y2="46.5"><stop offset="0.00" stop-color="#2b0ba4"/><stop offset="0.15" stop-color="#2b0ba3"/><stop offset="0.30" stop-color="#2b0ba3"/><stop offset="0.45" stop-color="#2b0ba2"/><stop offset="0.60" stop-color="#2b0ba2"/><stop offset="0.73" stop-color="#2b0ba1"/><stop offset="0.85" stop-color="#2b0ba0"/><stop offset="0.94" stop-color="#2b0b9f"/><stop offset="1.00" stop-color="#2a0a9e"/></linearGradient>
<linearGradient id="gb5" gradientUnits="userSpaceOnUse" x1="0" y1="43.3" x2="0" y2="49.0"><stop offset="0.00" stop-color="#2c0ca9"/><stop offset="0.15" stop-color="#2c0ca9"/><stop offset="0.30" stop-color="#2c0ca8"/><stop offset="0.45" stop-color="#2c0ca7"/><stop offset="0.60" stop-color="#2c0ca7"/><stop offset="0.73" stop-color="#2b0ba6"/><stop offset="0.85" stop-color="#2b0ba5"/><stop offset="0.94" stop-color="#2b0ba4"/><stop offset="1.00" stop-color="#2b0ba2"/></linearGradient>
<linearGradient id="gb6" gradientUnits="userSpaceOnUse" x1="0" y1="43.5" x2="0" y2="51.5"><stop offset="0.00" stop-color="#2d0daf"/><stop offset="0.15" stop-color="#2d0dae"/><stop offset="0.30" stop-color="#2c0cad"/><stop offset="0.45" stop-color="#2c0cad"/><stop offset="0.60" stop-color="#2c0cac"/><stop offset="0.73" stop-color="#2c0cab"/><stop offset="0.85" stop-color="#2c0caa"/><stop offset="0.94" stop-color="#2c0ca8"/><stop offset="1.00" stop-color="#2b0ba6"/></linearGradient>
<linearGradient id="gb7" gradientUnits="userSpaceOnUse" x1="0" y1="43.6" x2="0" y2="54.0"><stop offset="0.00" stop-color="#2d0db4"/><stop offset="0.15" stop-color="#2d0db4"/><stop offset="0.30" stop-color="#2d0db3"/><stop offset="0.45" stop-color="#2d0db2"/><stop offset="0.60" stop-color="#2d0db1"/><stop offset="0.73" stop-color="#2d0db0"/><stop offset="0.85" stop-color="#2d0dae"/><stop offset="0.94" stop-color="#2c0cad"/><stop offset="1.00" stop-color="#2c0caa"/></linearGradient>
<linearGradient id="gb8" gradientUnits="userSpaceOnUse" x1="0" y1="43.7" x2="0" y2="55.8"><stop offset="0.00" stop-color="#2e0eba"/><stop offset="0.15" stop-color="#2e0eb9"/><stop offset="0.30" stop-color="#2e0eb8"/><stop offset="0.45" stop-color="#2e0eb7"/><stop offset="0.60" stop-color="#2e0eb6"/><stop offset="0.73" stop-color="#2d0db4"/><stop offset="0.85" stop-color="#2d0db3"/><stop offset="0.94" stop-color="#2d0db1"/><stop offset="1.00" stop-color="#2d0dae"/></linearGradient>
<linearGradient id="gb9" gradientUnits="userSpaceOnUse" x1="0" y1="43.9" x2="0" y2="57.0"><stop offset="0.00" stop-color="#3010d1"/><stop offset="0.15" stop-color="#3010d0"/><stop offset="0.30" stop-color="#3010cf"/><stop offset="0.45" stop-color="#3010ce"/><stop offset="0.60" stop-color="#3010cc"/><stop offset="0.73" stop-color="#3010cb"/><stop offset="0.85" stop-color="#3010c9"/><stop offset="0.94" stop-color="#3010c6"/><stop offset="1.00" stop-color="#2f0fc1"/></linearGradient>
<linearGradient id="gb10" gradientUnits="userSpaceOnUse" x1="0" y1="44.0" x2="0" y2="58.3"><stop offset="0.00" stop-color="#3110e3"/><stop offset="0.15" stop-color="#3110e2"/><stop offset="0.30" stop-color="#3110e0"/><stop offset="0.45" stop-color="#3110df"/><stop offset="0.60" stop-color="#3110dd"/><stop offset="0.73" stop-color="#3110db"/><stop offset="0.85" stop-color="#3110d8"/><stop offset="0.94" stop-color="#3110d5"/><stop offset="1.00" stop-color="#3010d0"/></linearGradient>
<linearGradient id="gb11" gradientUnits="userSpaceOnUse" x1="0" y1="44.1" x2="0" y2="59.5"><stop offset="0.00" stop-color="#3210f3"/><stop offset="0.15" stop-color="#3210f1"/><stop offset="0.30" stop-color="#3210ef"/><stop offset="0.45" stop-color="#3210ed"/><stop offset="0.60" stop-color="#3210eb"/><stop offset="0.73" stop-color="#3110e8"/><stop offset="0.85" stop-color="#3110e5"/><stop offset="0.94" stop-color="#3110e2"/><stop offset="1.00" stop-color="#3110dc"/></linearGradient>
<linearGradient id="gb12" gradientUnits="userSpaceOnUse" x1="0" y1="44.4" x2="0" y2="61.5"><stop offset="0.00" stop-color="#1855f6"/><stop offset="0.15" stop-color="#1951f6"/><stop offset="0.30" stop-color="#1a4bf5"/><stop offset="0.45" stop-color="#1c45f5"/><stop offset="0.60" stop-color="#1e3ef4"/><stop offset="0.73" stop-color="#2430f4"/><stop offset="0.85" stop-color="#3210f3"/><stop offset="0.94" stop-color="#3210ef"/><stop offset="1.00" stop-color="#3110e7"/></linearGradient>
<linearGradient id="gb13" gradientUnits="userSpaceOnUse" x1="0" y1="44.7" x2="0" y2="64.6"><stop offset="0.00" stop-color="#107cf8"/><stop offset="0.15" stop-color="#1078f8"/><stop offset="0.30" stop-color="#1073f8"/><stop offset="0.45" stop-color="#116df8"/><stop offset="0.60" stop-color="#1364f7"/><stop offset="0.73" stop-color="#165bf6"/><stop offset="0.85" stop-color="#1950f6"/><stop offset="0.94" stop-color="#1c45f5"/><stop offset="1.00" stop-color="#3210f4"/></linearGradient>
<linearGradient id="gb14" gradientUnits="userSpaceOnUse" x1="0" y1="45.0" x2="0" y2="67.7"><stop offset="0.00" stop-color="#109bf8"/><stop offset="0.15" stop-color="#1096f8"/><stop offset="0.30" stop-color="#1091f8"/><stop offset="0.45" stop-color="#108bf8"/><stop offset="0.60" stop-color="#1083f8"/><stop offset="0.73" stop-color="#107bf8"/><stop offset="0.85" stop-color="#1072f8"/><stop offset="0.94" stop-color="#1365f7"/><stop offset="1.00" stop-color="#1a4df5"/></linearGradient>
<linearGradient id="gb15" gradientUnits="userSpaceOnUse" x1="0" y1="45.3" x2="0" y2="70.9"><stop offset="0.00" stop-color="#10baf8"/><stop offset="0.15" stop-color="#10b5f8"/><stop offset="0.30" stop-color="#10aef8"/><stop offset="0.45" stop-color="#10a7f8"/><stop offset="0.60" stop-color="#109ff8"/><stop offset="0.73" stop-color="#1095f8"/><stop offset="0.85" stop-color="#108bf8"/><stop offset="0.94" stop-color="#1080f8"/><stop offset="1.00" stop-color="#1269f8"/></linearGradient>
<linearGradient id="gb16" gradientUnits="userSpaceOnUse" x1="0" y1="45.7" x2="0" y2="75.5"><stop offset="0.00" stop-color="#10d6fa"/><stop offset="0.15" stop-color="#10d1f9"/><stop offset="0.30" stop-color="#10cbf8"/><stop offset="0.45" stop-color="#10c3f8"/><stop offset="0.60" stop-color="#10b9f8"/><stop offset="0.73" stop-color="#10aff8"/><stop offset="0.85" stop-color="#10a3f8"/><stop offset="0.94" stop-color="#1096f8"/><stop offset="1.00" stop-color="#107ff8"/></linearGradient>
<linearGradient id="gb17" gradientUnits="userSpaceOnUse" x1="0" y1="46.2" x2="0" y2="80.2"><stop offset="0.00" stop-color="#10e5ec"/><stop offset="0.15" stop-color="#10e4f3"/><stop offset="0.30" stop-color="#10e4fb"/><stop offset="0.45" stop-color="#10dcfb"/><stop offset="0.60" stop-color="#10d3fa"/><stop offset="0.73" stop-color="#10c9f8"/><stop offset="0.85" stop-color="#10bbf8"/><stop offset="0.94" stop-color="#10adf8"/><stop offset="1.00" stop-color="#1094f8"/></linearGradient>
<linearGradient id="gb18" gradientUnits="userSpaceOnUse" x1="0" y1="46.8" x2="0" y2="86.6"><stop offset="0.00" stop-color="#10e6cd"/><stop offset="0.15" stop-color="#10e6d4"/><stop offset="0.30" stop-color="#10e6dd"/><stop offset="0.45" stop-color="#10e5e8"/><stop offset="0.60" stop-color="#10e4f5"/><stop offset="0.73" stop-color="#10defb"/><stop offset="0.85" stop-color="#10d1f9"/><stop offset="0.94" stop-color="#10c2f8"/><stop offset="1.00" stop-color="#10a6f8"/></linearGradient>
<linearGradient id="gb19" gradientUnits="userSpaceOnUse" x1="0" y1="47.4" x2="0" y2="93.2"><stop offset="0.00" stop-color="#10e8af"/><stop offset="0.15" stop-color="#10e8b8"/><stop offset="0.30" stop-color="#10e7c1"/><stop offset="0.45" stop-color="#10e6cd"/><stop offset="0.60" stop-color="#10e6dc"/><stop offset="0.73" stop-color="#10e5eb"/><stop offset="0.85" stop-color="#10e4fc"/><stop offset="0.94" stop-color="#10d4fa"/><stop offset="1.00" stop-color="#10b8f8"/></linearGradient>
<linearGradient id="gb20" gradientUnits="userSpaceOnUse" x1="0" y1="48.0" x2="0" y2="99.8"><stop offset="0.00" stop-color="#10ec8c"/><stop offset="0.15" stop-color="#10ea98"/><stop offset="0.30" stop-color="#10e9a6"/><stop offset="0.45" stop-color="#10e8b6"/><stop offset="0.60" stop-color="#10e7c6"/><stop offset="0.73" stop-color="#10e6d6"/><stop offset="0.85" stop-color="#10e5e9"/><stop offset="0.94" stop-color="#10e3fc"/><stop offset="1.00" stop-color="#10c8f8"/></linearGradient>
<linearGradient id="gb21" gradientUnits="userSpaceOnUse" x1="0" y1="48.6" x2="0" y2="105.6"><stop offset="0.00" stop-color="#10ef6a"/><stop offset="0.15" stop-color="#10ee76"/><stop offset="0.30" stop-color="#10ec86"/><stop offset="0.45" stop-color="#10ea99"/><stop offset="0.60" stop-color="#10e8b0"/><stop offset="0.73" stop-color="#10e7c2"/><stop offset="0.85" stop-color="#10e6d7"/><stop offset="0.94" stop-color="#10e5ec"/><stop offset="1.00" stop-color="#10d4fa"/></linearGradient>
<linearGradient id="gb22" gradientUnits="userSpaceOnUse" x1="0" y1="49.1" x2="0" y2="111.5"><stop offset="0.00" stop-color="#40f054"/><stop offset="0.15" stop-color="#22f05b"/><stop offset="0.30" stop-color="#10ef68"/><stop offset="0.45" stop-color="#10ed7c"/><stop offset="0.60" stop-color="#10eb94"/><stop offset="0.73" stop-color="#10e8ad"/><stop offset="0.85" stop-color="#10e7c5"/><stop offset="0.94" stop-color="#10e6dc"/><stop offset="1.00" stop-color="#10e0fb"/></linearGradient>
<linearGradient id="gb23" gradientUnits="userSpaceOnUse" x1="0" y1="49.6" x2="0" y2="116.7"><stop offset="0.00" stop-color="#82f043"/><stop offset="0.15" stop-color="#63f04b"/><stop offset="0.30" stop-color="#3cf055"/><stop offset="0.45" stop-color="#10f062"/><stop offset="0.60" stop-color="#10ed7c"/><stop offset="0.73" stop-color="#10eb96"/><stop offset="0.85" stop-color="#10e8b4"/><stop offset="0.94" stop-color="#10e7cb"/><stop offset="1.00" stop-color="#10e5f2"/></linearGradient>
<linearGradient id="gb24" gradientUnits="userSpaceOnUse" x1="0" y1="49.7" x2="0" y2="120.7"><stop offset="0.00" stop-color="#b4f02e"/><stop offset="0.15" stop-color="#9cf03a"/><stop offset="0.30" stop-color="#79f046"/><stop offset="0.45" stop-color="#47f052"/><stop offset="0.60" stop-color="#10f063"/><stop offset="0.73" stop-color="#10ed80"/><stop offset="0.85" stop-color="#10eaa0"/><stop offset="0.94" stop-color="#10e7bd"/><stop offset="1.00" stop-color="#10e5e5"/></linearGradient>
<linearGradient id="gb25" gradientUnits="userSpaceOnUse" x1="0" y1="49.9" x2="0" y2="124.7"><stop offset="0.00" stop-color="#daf01b"/><stop offset="0.15" stop-color="#c1f028"/><stop offset="0.30" stop-color="#a2f037"/><stop offset="0.45" stop-color="#76f046"/><stop offset="0.60" stop-color="#3af056"/><stop offset="0.73" stop-color="#10ef69"/><stop offset="0.85" stop-color="#10ec8c"/><stop offset="0.94" stop-color="#10e8ae"/><stop offset="1.00" stop-color="#10e6d9"/></linearGradient>
<linearGradient id="gb26" gradientUnits="userSpaceOnUse" x1="0" y1="50.1" x2="0" y2="128.6"><stop offset="0.00" stop-color="#f2ea11"/><stop offset="0.15" stop-color="#e5f015"/><stop offset="0.30" stop-color="#c5f025"/><stop offset="0.45" stop-color="#9ef039"/><stop offset="0.60" stop-color="#63f04b"/><stop offset="0.73" stop-color="#21f05c"/><stop offset="0.85" stop-color="#10ed7a"/><stop offset="0.94" stop-color="#10ea9c"/><stop offset="1.00" stop-color="#10e7cc"/></linearGradient>
<linearGradient id="gb27" gradientUnits="userSpaceOnUse" x1="0" y1="50.2" x2="0" y2="130.9"><stop offset="0.00" stop-color="#f5df14"/><stop offset="0.15" stop-color="#f2ea11"/><stop offset="0.30" stop-color="#dff018"/><stop offset="0.45" stop-color="#baf02b"/><stop offset="0.60" stop-color="#8ef041"/><stop offset="0.73" stop-color="#4af052"/><stop offset="0.85" stop-color="#10ef69"/><stop offset="0.94" stop-color="#10ec8c"/><stop offset="1.00" stop-color="#10e7c0"/></linearGradient>
<linearGradient id="gb28" gradientUnits="userSpaceOnUse" x1="0" y1="50.4" x2="0" y2="133.2"><stop offset="0.00" stop-color="#f9d416"/><stop offset="0.15" stop-color="#f5df13"/><stop offset="0.30" stop-color="#f1ed11"/><stop offset="0.45" stop-color="#d1f01f"/><stop offset="0.60" stop-color="#a4f036"/><stop offset="0.73" stop-color="#6bf049"/><stop offset="0.85" stop-color="#21f05c"/><stop offset="0.94" stop-color="#10ed7d"/><stop offset="1.00" stop-color="#10e8b6"/></linearGradient>
<linearGradient id="gb29" gradientUnits="userSpaceOnUse" x1="0" y1="50.5" x2="0" y2="135.5"><stop offset="0.00" stop-color="#fcca18"/><stop offset="0.15" stop-color="#f8d516"/><stop offset="0.30" stop-color="#f4e313"/><stop offset="0.45" stop-color="#e8f014"/><stop offset="0.60" stop-color="#b9f02b"/><stop offset="0.73" stop-color="#86f042"/><stop offset="0.85" stop-color="#3bf055"/><stop offset="0.94" stop-color="#10ee6f"/><stop offset="1.00" stop-color="#10e9aa"/></linearGradient>
<linearGradient id="gb30" gradientUnits="userSpaceOnUse" x1="0" y1="50.7" x2="0" y2="137.5"><stop offset="0.00" stop-color="#ffc11a"/><stop offset="0.15" stop-color="#fbcd17"/><stop offset="0.30" stop-color="#f7da14"/><stop offset="0.45" stop-color="#f2eb11"/><stop offset="0.60" stop-color="#cef021"/><stop offset="0.73" stop-color="#9df03a"/><stop offset="0.85" stop-color="#55f04f"/><stop offset="0.94" stop-color="#10f065"/><stop offset="1.00" stop-color="#10eaa1"/></linearGradient>
<linearGradient id="gb31" gradientUnits="userSpaceOnUse" x1="0" y1="50.7" x2="0" y2="138.2"><stop offset="0.00" stop-color="#ffb91a"/><stop offset="0.15" stop-color="#fec419"/><stop offset="0.30" stop-color="#f9d216"/><stop offset="0.45" stop-color="#f4e313"/><stop offset="0.60" stop-color="#e0f018"/><stop offset="0.73" stop-color="#b0f030"/><stop offset="0.85" stop-color="#70f048"/><stop offset="0.94" stop-color="#1ff05c"/><stop offset="1.00" stop-color="#10eb97"/></linearGradient>
<linearGradient id="gb32" gradientUnits="userSpaceOnUse" x1="0" y1="50.7" x2="0" y2="139.0"><stop offset="0.00" stop-color="#ffb21a"/><stop offset="0.15" stop-color="#ffbd1a"/><stop offset="0.30" stop-color="#fcca18"/><stop offset="0.45" stop-color="#f7db14"/><stop offset="0.60" stop-color="#f0ef10"/><stop offset="0.73" stop-color="#c1f027"/><stop offset="0.85" stop-color="#86f043"/><stop offset="0.94" stop-color="#36f056"/><stop offset="1.00" stop-color="#10ec8c"/></linearGradient>
<linearGradient id="gb33" gradientUnits="userSpaceOnUse" x1="0" y1="50.7" x2="0" y2="139.7"><stop offset="0.00" stop-color="#ffad19"/><stop offset="0.15" stop-color="#ffb81a"/><stop offset="0.30" stop-color="#fec519"/><stop offset="0.45" stop-color="#f8d516"/><stop offset="0.60" stop-color="#f2e812"/><stop offset="0.73" stop-color="#d2f01f"/><stop offset="0.85" stop-color="#99f03c"/><stop offset="0.94" stop-color="#4bf051"/><stop offset="1.00" stop-color="#10ec84"/></linearGradient>
<linearGradient id="gb34" gradientUnits="userSpaceOnUse" x1="0" y1="50.7" x2="0" y2="140.5"><stop offset="0.00" stop-color="#ffa819"/><stop offset="0.15" stop-color="#ffb21a"/><stop offset="0.30" stop-color="#ffbf1a"/><stop offset="0.45" stop-color="#facf17"/><stop offset="0.60" stop-color="#f4e313"/><stop offset="0.73" stop-color="#dff018"/><stop offset="0.85" stop-color="#a9f034"/><stop offset="0.94" stop-color="#5ff04c"/><stop offset="1.00" stop-color="#10ed7b"/></linearGradient>
<linearGradient id="gb35" gradientUnits="userSpaceOnUse" x1="0" y1="50.7" x2="0" y2="140.6"><stop offset="0.00" stop-color="#ffac19"/><stop offset="0.15" stop-color="#ffb61a"/><stop offset="0.30" stop-color="#ffc11a"/><stop offset="0.45" stop-color="#fbcd17"/><stop offset="0.60" stop-color="#f6dd14"/><stop offset="0.73" stop-color="#ecf012"/><stop offset="0.85" stop-color="#b4f02e"/><stop offset="0.94" stop-color="#72f048"/><stop offset="1.00" stop-color="#10ee73"/></linearGradient>
<linearGradient id="gb36" gradientUnits="userSpaceOnUse" x1="0" y1="50.7" x2="0" y2="140.5"><stop offset="0.00" stop-color="#ffb11a"/><stop offset="0.15" stop-color="#ffbb1a"/><stop offset="0.30" stop-color="#fdc519"/><stop offset="0.45" stop-color="#f9d216"/><stop offset="0.60" stop-color="#f5e013"/><stop offset="0.73" stop-color="#f0ee10"/><stop offset="0.85" stop-color="#c0f028"/><stop offset="0.94" stop-color="#81f044"/><stop offset="1.00" stop-color="#10ef6d"/></linearGradient>
<linearGradient id="gb37" gradientUnits="userSpaceOnUse" x1="0" y1="50.7" x2="0" y2="140.4"><stop offset="0.00" stop-color="#ffb51a"/><stop offset="0.15" stop-color="#ffbf1a"/><stop offset="0.30" stop-color="#fcca18"/><stop offset="0.45" stop-color="#f8d615"/><stop offset="0.60" stop-color="#f4e412"/><stop offset="0.73" stop-color="#eaf013"/><stop offset="0.85" stop-color="#c0f028"/><stop offset="0.94" stop-color="#90f040"/><stop offset="1.00" stop-color="#10ef67"/></linearGradient>
<linearGradient id="gb38" gradientUnits="userSpaceOnUse" x1="0" y1="50.7" x2="0" y2="140.3"><stop offset="0.00" stop-color="#ffbd1a"/><stop offset="0.15" stop-color="#fdc719"/><stop offset="0.30" stop-color="#fad116"/><stop offset="0.45" stop-color="#f6dc14"/><stop offset="0.60" stop-color="#f2e912"/><stop offset="0.73" stop-color="#e0f018"/><stop offset="0.85" stop-color="#b7f02d"/><stop offset="0.94" stop-color="#84f043"/><stop offset="1.00" stop-color="#10ef69"/></linearGradient>
<linearGradient id="gb39" gradientUnits="userSpaceOnUse" x1="0" y1="50.7" x2="0" y2="139.6"><stop offset="0.00" stop-color="#fec519"/><stop offset="0.15" stop-color="#facf17"/><stop offset="0.30" stop-color="#f7d915"/><stop offset="0.45" stop-color="#f4e413"/><stop offset="0.60" stop-color="#f0f010"/><stop offset="0.73" stop-color="#d4f01e"/><stop offset="0.85" stop-color="#adf032"/><stop offset="0.94" stop-color="#77f046"/><stop offset="1.00" stop-color="#10ef6e"/></linearGradient>
<linearGradient id="gb40" gradientUnits="userSpaceOnUse" x1="0" y1="50.7" x2="0" y2="138.6"><stop offset="0.00" stop-color="#fbcd17"/><stop offset="0.15" stop-color="#f8d715"/><stop offset="0.30" stop-color="#f5e113"/><stop offset="0.45" stop-color="#f1ec11"/><stop offset="0.60" stop-color="#dff019"/><stop offset="0.73" stop-color="#c2f027"/><stop offset="0.85" stop-color="#9ef039"/><stop offset="0.94" stop-color="#69f04a"/><stop offset="1.00" stop-color="#10ee73"/></linearGradient>
<linearGradient id="gb41" gradientUnits="userSpaceOnUse" x1="0" y1="50.7" x2="0" y2="137.5"><stop offset="0.00" stop-color="#f8d615"/><stop offset="0.15" stop-color="#f5e013"/><stop offset="0.30" stop-color="#f2e911"/><stop offset="0.45" stop-color="#e7f014"/><stop offset="0.60" stop-color="#cdf022"/><stop offset="0.73" stop-color="#b1f030"/><stop offset="0.85" stop-color="#8cf041"/><stop offset="0.94" stop-color="#53f04f"/><stop offset="1.00" stop-color="#10ed7b"/></linearGradient>
<linearGradient id="gb42" gradientUnits="userSpaceOnUse" x1="0" y1="50.6" x2="0" y2="135.6"><stop offset="0.00" stop-color="#f5e013"/><stop offset="0.15" stop-color="#f2e911"/><stop offset="0.30" stop-color="#e9f013"/><stop offset="0.45" stop-color="#d3f01f"/><stop offset="0.60" stop-color="#baf02b"/><stop offset="0.73" stop-color="#9ff039"/><stop offset="0.85" stop-color="#75f047"/><stop offset="0.94" stop-color="#3cf055"/><stop offset="1.00" stop-color="#10ec84"/></linearGradient>
<linearGradient id="gb43" gradientUnits="userSpaceOnUse" x1="0" y1="50.2" x2="0" y2="133.5"><stop offset="0.00" stop-color="#f2e911"/><stop offset="0.15" stop-color="#eaf013"/><stop offset="0.30" stop-color="#d4f01e"/><stop offset="0.45" stop-color="#bef029"/><stop offset="0.60" stop-color="#a5f036"/><stop offset="0.73" stop-color="#89f042"/><stop offset="0.85" stop-color="#5cf04d"/><stop offset="0.94" stop-color="#25f05b"/><stop offset="1.00" stop-color="#10eb8d"/></linearGradient>
<linearGradient id="gb44" gradientUnits="userSpaceOnUse" x1="0" y1="49.8" x2="0" y2="130.8"><stop offset="0.00" stop-color="#def019"/><stop offset="0.15" stop-color="#c9f023"/><stop offset="0.30" stop-color="#b6f02d"/><stop offset="0.45" stop-color="#a4f036"/><stop offset="0.60" stop-color="#8ff040"/><stop offset="0.73" stop-color="#6cf049"/><stop offset="0.85" stop-color="#40f054"/><stop offset="0.94" stop-color="#10f063"/><stop offset="1.00" stop-color="#10ea98"/></linearGradient>
<linearGradient id="gb45" gradientUnits="userSpaceOnUse" x1="0" y1="49.4" x2="0" y2="126.8"><stop offset="0.00" stop-color="#bbf02a"/><stop offset="0.15" stop-color="#a7f035"/><stop offset="0.30" stop-color="#94f03e"/><stop offset="0.45" stop-color="#7df045"/><stop offset="0.60" stop-color="#63f04b"/><stop offset="0.73" stop-color="#47f052"/><stop offset="0.85" stop-color="#22f05c"/><stop offset="0.94" stop-color="#10ee6f"/><stop offset="1.00" stop-color="#10e9a3"/></linearGradient>
<linearGradient id="gb46" gradientUnits="userSpaceOnUse" x1="0" y1="49.0" x2="0" y2="122.8"><stop offset="0.00" stop-color="#98f03c"/><stop offset="0.15" stop-color="#81f044"/><stop offset="0.30" stop-color="#68f04a"/><stop offset="0.45" stop-color="#4ff050"/><stop offset="0.60" stop-color="#35f057"/><stop offset="0.73" stop-color="#19f05e"/><stop offset="0.85" stop-color="#10ef6c"/><stop offset="0.94" stop-color="#10ed81"/><stop offset="1.00" stop-color="#10e8b2"/></linearGradient>
<linearGradient id="gb47" gradientUnits="userSpaceOnUse" x1="0" y1="48.6" x2="0" y2="118.5"><stop offset="0.00" stop-color="#6df049"/><stop offset="0.15" stop-color="#53f04f"/><stop offset="0.30" stop-color="#3af055"/><stop offset="0.45" stop-color="#22f05c"/><stop offset="0.60" stop-color="#10f064"/><stop offset="0.73" stop-color="#10ee71"/><stop offset="0.85" stop-color="#10ed81"/><stop offset="0.94" stop-color="#10eb95"/><stop offset="1.00" stop-color="#10e7c0"/></linearGradient>
<linearGradient id="gb48" gradientUnits="userSpaceOnUse" x1="0" y1="48.2" x2="0" y2="113.9"><stop offset="0.00" stop-color="#3ef054"/><stop offset="0.15" stop-color="#25f05b"/><stop offset="0.30" stop-color="#10f061"/><stop offset="0.45" stop-color="#10ef6c"/><stop offset="0.60" stop-color="#10ee78"/><stop offset="0.73" stop-color="#10ec85"/><stop offset="0.85" stop-color="#10eb95"/><stop offset="0.94" stop-color="#10e9a9"/><stop offset="1.00" stop-color="#10e6ce"/></linearGradient>
<linearGradient id="gb49" gradientUnits="userSpaceOnUse" x1="0" y1="47.8" x2="0" y2="109.4"><stop offset="0.00" stop-color="#10f061"/><stop offset="0.15" stop-color="#10ef6b"/><stop offset="0.30" stop-color="#10ee76"/><stop offset="0.45" stop-color="#10ed80"/><stop offset="0.60" stop-color="#10ec8c"/><stop offset="0.73" stop-color="#10ea99"/><stop offset="0.85" stop-color="#10e9a9"/><stop offset="0.94" stop-color="#10e7ba"/><stop offset="1.00" stop-color="#10e6dc"/></linearGradient>
<linearGradient id="gb50" gradientUnits="userSpaceOnUse" x1="0" y1="47.5" x2="0" y2="105.5"><stop offset="0.00" stop-color="#10ee77"/><stop offset="0.15" stop-color="#10ed81"/><stop offset="0.30" stop-color="#10ec8b"/><stop offset="0.45" stop-color="#10eb96"/><stop offset="0.60" stop-color="#10e9a1"/><stop offset="0.73" stop-color="#10e8ae"/><stop offset="0.85" stop-color="#10e7ba"/><stop offset="0.94" stop-color="#10e7c9"/><stop offset="1.00" stop-color="#10e5ea"/></linearGradient>
<linearGradient id="gb51" gradientUnits="userSpaceOnUse" x1="0" y1="47.3" x2="0" y2="101.6"><stop offset="0.00" stop-color="#10eb8d"/><stop offset="0.15" stop-color="#10ea97"/><stop offset="0.30" stop-color="#10e9a1"/><stop offset="0.45" stop-color="#10e8ab"/><stop offset="0.60" stop-color="#10e8b5"/><stop offset="0.73" stop-color="#10e7bf"/><stop offset="0.85" stop-color="#10e7ca"/><stop offset="0.94" stop-color="#10e6d8"/><stop offset="1.00" stop-color="#10e4f8"/></linearGradient>
<linearGradient id="gb52" gradientUnits="userSpaceOnUse" x1="0" y1="47.0" x2="0" y2="97.7"><stop offset="0.00" stop-color="#10e9a4"/><stop offset="0.15" stop-color="#10e8ad"/><stop offset="0.30" stop-color="#10e8b5"/><stop offset="0.45" stop-color="#10e7bd"/><stop offset="0.60" stop-color="#10e7c6"/><stop offset="0.73" stop-color="#10e6cf"/><stop offset="0.85" stop-color="#10e6da"/><stop offset="0.94" stop-color="#10e5e8"/><stop offset="1.00" stop-color="#10dbfb"/></linearGradient>
<linearGradient id="gb53" gradientUnits="userSpaceOnUse" x1="0" y1="46.7" x2="0" y2="94.8"><stop offset="0.00" stop-color="#10e8b7"/><stop offset="0.15" stop-color="#10e7be"/><stop offset="0.30" stop-color="#10e7c6"/><stop offset="0.45" stop-color="#10e6cd"/><stop offset="0.60" stop-color="#10e6d6"/><stop offset="0.73" stop-color="#10e6df"/><stop offset="0.85" stop-color="#10e5ea"/><stop offset="0.94" stop-color="#10e4f7"/><stop offset="1.00" stop-color="#10cff9"/></linearGradient>
<linearGradient id="gb54" gradientUnits="userSpaceOnUse" x1="0" y1="46.4" x2="0" y2="92.2"><stop offset="0.00" stop-color="#10e7c8"/><stop offset="0.15" stop-color="#10e6cf"/><stop offset="0.30" stop-color="#10e6d6"/><stop offset="0.45" stop-color="#10e6dd"/><stop offset="0.60" stop-color="#10e5e6"/><stop offset="0.73" stop-color="#10e5ee"/><stop offset="0.85" stop-color="#10e4f9"/><stop offset="0.94" stop-color="#10dcfb"/><stop offset="1.00" stop-color="#10c3f8"/></linearGradient>
<linearGradient id="gb55" gradientUnits="userSpaceOnUse" x1="0" y1="46.1" x2="0" y2="89.5"><stop offset="0.00" stop-color="#10e6d9"/><stop offset="0.15" stop-color="#10e5e0"/><stop offset="0.30" stop-color="#10e5e6"/><stop offset="0.45" stop-color="#10e5ed"/><stop offset="0.60" stop-color="#10e4f5"/><stop offset="0.73" stop-color="#10e2fc"/><stop offset="0.85" stop-color="#10dafb"/><stop offset="0.94" stop-color="#10cff9"/><stop offset="1.00" stop-color="#10b6f8"/></linearGradient>
<linearGradient id="gb56" gradientUnits="userSpaceOnUse" x1="0" y1="45.8" x2="0" y2="86.9"><stop offset="0.00" stop-color="#10e5ea"/><stop offset="0.15" stop-color="#10e5f0"/><stop offset="0.30" stop-color="#10e4f7"/><stop offset="0.45" stop-color="#10e3fc"/><stop offset="0.60" stop-color="#10dcfb"/><stop offset="0.73" stop-color="#10d5fa"/><stop offset="0.85" stop-color="#10cdf9"/><stop offset="0.94" stop-color="#10c2f8"/><stop offset="1.00" stop-color="#10a9f8"/></linearGradient>
<linearGradient id="gb57" gradientUnits="userSpaceOnUse" x1="0" y1="45.5" x2="0" y2="84.2"><stop offset="0.00" stop-color="#10e4fb"/><stop offset="0.15" stop-color="#10e0fb"/><stop offset="0.30" stop-color="#10dbfb"/><stop offset="0.45" stop-color="#10d5fa"/><stop offset="0.60" stop-color="#10cff9"/><stop offset="0.73" stop-color="#10c8f8"/><stop offset="0.85" stop-color="#10bff8"/><stop offset="0.94" stop-color="#10b4f8"/><stop offset="1.00" stop-color="#109cf8"/></linearGradient>
<linearGradient id="gb58" gradientUnits="userSpaceOnUse" x1="0" y1="45.2" x2="0" y2="81.5"><stop offset="0.00" stop-color="#10d3fa"/><stop offset="0.15" stop-color="#10cef9"/><stop offset="0.30" stop-color="#10c9f8"/><stop offset="0.45" stop-color="#10c4f8"/><stop offset="0.60" stop-color="#10bdf8"/><stop offset="0.73" stop-color="#10b6f8"/><stop offset="0.85" stop-color="#10aef8"/><stop offset="0.94" stop-color="#10a4f8"/><stop offset="1.00" stop-color="#108df8"/></linearGradient>
<linearGradient id="gb59" gradientUnits="userSpaceOnUse" x1="0" y1="45.0" x2="0" y2="79.0"><stop offset="0.00" stop-color="#10c0f8"/><stop offset="0.15" stop-color="#10bbf8"/><stop offset="0.30" stop-color="#10b6f8"/><stop offset="0.45" stop-color="#10b0f8"/><stop offset="0.60" stop-color="#10aaf8"/><stop offset="0.73" stop-color="#10a4f8"/><stop offset="0.85" stop-color="#109cf8"/><stop offset="0.94" stop-color="#1092f8"/><stop offset="1.00" stop-color="#107df8"/></linearGradient>
<linearGradient id="gb60" gradientUnits="userSpaceOnUse" x1="0" y1="44.8" x2="0" y2="77.0"><stop offset="0.00" stop-color="#10acf8"/><stop offset="0.15" stop-color="#10a7f8"/><stop offset="0.30" stop-color="#10a2f8"/><stop offset="0.45" stop-color="#109df8"/><stop offset="0.60" stop-color="#1097f8"/><stop offset="0.73" stop-color="#1091f8"/><stop offset="0.85" stop-color="#108af8"/><stop offset="0.94" stop-color="#1081f8"/><stop offset="1.00" stop-color="#116cf8"/></linearGradient>
<linearGradient id="gb61" gradientUnits="userSpaceOnUse" x1="0" y1="44.7" x2="0" y2="74.9"><stop offset="0.00" stop-color="#1097f8"/><stop offset="0.15" stop-color="#1093f8"/><stop offset="0.30" stop-color="#108ef8"/><stop offset="0.45" stop-color="#108af8"/><stop offset="0.60" stop-color="#1084f8"/><stop offset="0.73" stop-color="#107ff8"/><stop offset="0.85" stop-color="#1078f8"/><stop offset="0.94" stop-color="#106ff8"/><stop offset="1.00" stop-color="#1757f6"/></linearGradient>
<linearGradient id="gb62" gradientUnits="userSpaceOnUse" x1="0" y1="44.5" x2="0" y2="72.9"><stop offset="0.00" stop-color="#1083f8"/><stop offset="0.15" stop-color="#107ff8"/><stop offset="0.30" stop-color="#107bf8"/><stop offset="0.45" stop-color="#1076f8"/><stop offset="0.60" stop-color="#1071f8"/><stop offset="0.73" stop-color="#116bf8"/><stop offset="0.85" stop-color="#1462f7"/><stop offset="0.94" stop-color="#1758f6"/><stop offset="1.00" stop-color="#1d43f5"/></linearGradient>
<linearGradient id="gb63" gradientUnits="userSpaceOnUse" x1="0" y1="44.3" x2="0" y2="70.9"><stop offset="0.00" stop-color="#116ef8"/><stop offset="0.15" stop-color="#1269f8"/><stop offset="0.30" stop-color="#1364f7"/><stop offset="0.45" stop-color="#155ff7"/><stop offset="0.60" stop-color="#1759f6"/><stop offset="0.73" stop-color="#1852f6"/><stop offset="0.85" stop-color="#1b4bf5"/><stop offset="0.94" stop-color="#1d41f5"/><stop offset="1.00" stop-color="#3210f3"/></linearGradient>
<linearGradient id="gb64" gradientUnits="userSpaceOnUse" x1="0" y1="44.1" x2="0" y2="68.8"><stop offset="0.00" stop-color="#1855f6"/><stop offset="0.15" stop-color="#1950f6"/><stop offset="0.30" stop-color="#1a4cf5"/><stop offset="0.45" stop-color="#1c47f5"/><stop offset="0.60" stop-color="#1d41f5"/><stop offset="0.73" stop-color="#1f3bf4"/><stop offset="0.85" stop-color="#2b1ff4"/><stop offset="0.94" stop-color="#3210f2"/><stop offset="1.00" stop-color="#3210ea"/></linearGradient>
<linearGradient id="gb65" gradientUnits="userSpaceOnUse" x1="0" y1="44.0" x2="0" y2="66.8"><stop offset="0.00" stop-color="#1d43f5"/><stop offset="0.15" stop-color="#1e3ff5"/><stop offset="0.30" stop-color="#1f3bf4"/><stop offset="0.45" stop-color="#252ef4"/><stop offset="0.60" stop-color="#3112f4"/><stop offset="0.73" stop-color="#3210f2"/><stop offset="0.85" stop-color="#3210ef"/><stop offset="0.94" stop-color="#3210ec"/><stop offset="1.00" stop-color="#3110e5"/></linearGradient>
<linearGradient id="gb66" gradientUnits="userSpaceOnUse" x1="0" y1="43.8" x2="0" y2="64.8"><stop offset="0.00" stop-color="#2f17f4"/><stop offset="0.15" stop-color="#3210f3"/><stop offset="0.30" stop-color="#3210f1"/><stop offset="0.45" stop-color="#3210f0"/><stop offset="0.60" stop-color="#3210ed"/><stop offset="0.73" stop-color="#3210eb"/><stop offset="0.85" stop-color="#3110e9"/><stop offset="0.94" stop-color="#3110e5"/><stop offset="1.00" stop-color="#3110df"/></linearGradient>
<linearGradient id="gb67" gradientUnits="userSpaceOnUse" x1="0" y1="43.6" x2="0" y2="62.7"><stop offset="0.00" stop-color="#3210f0"/><stop offset="0.15" stop-color="#3210ee"/><stop offset="0.30" stop-color="#3210ed"/><stop offset="0.45" stop-color="#3210eb"/><stop offset="0.60" stop-color="#3110e9"/><stop offset="0.73" stop-color="#3110e7"/><stop offset="0.85" stop-color="#3110e4"/><stop offset="0.94" stop-color="#3110e1"/><stop offset="1.00" stop-color="#3110db"/></linearGradient>
<linearGradient id="gb68" gradientUnits="userSpaceOnUse" x1="0" y1="43.5" x2="0" y2="60.7"><stop offset="0.00" stop-color="#3210eb"/><stop offset="0.15" stop-color="#3210ea"/><stop offset="0.30" stop-color="#3110e8"/><stop offset="0.45" stop-color="#3110e7"/><stop offset="0.60" stop-color="#3110e5"/><stop offset="0.73" stop-color="#3110e3"/><stop offset="0.85" stop-color="#3110e0"/><stop offset="0.94" stop-color="#3110dd"/><stop offset="1.00" stop-color="#3110d8"/></linearGradient>
<linearGradient id="gb69" gradientUnits="userSpaceOnUse" x1="0" y1="43.4" x2="0" y2="59.0"><stop offset="0.00" stop-color="#3110e6"/><stop offset="0.15" stop-color="#3110e5"/><stop offset="0.30" stop-color="#3110e4"/><stop offset="0.45" stop-color="#3110e2"/><stop offset="0.60" stop-color="#3110e0"/><stop offset="0.73" stop-color="#3110de"/><stop offset="0.85" stop-color="#3110dc"/><stop offset="0.94" stop-color="#3110d9"/><stop offset="1.00" stop-color="#3110d4"/></linearGradient>
<linearGradient id="gb70" gradientUnits="userSpaceOnUse" x1="0" y1="43.3" x2="0" y2="57.5"><stop offset="0.00" stop-color="#3110e2"/><stop offset="0.15" stop-color="#3110e0"/><stop offset="0.30" stop-color="#3110df"/><stop offset="0.45" stop-color="#3110de"/><stop offset="0.60" stop-color="#3110dc"/><stop offset="0.73" stop-color="#3110da"/><stop offset="0.85" stop-color="#3110d8"/><stop offset="0.94" stop-color="#3110d5"/><stop offset="1.00" stop-color="#3010d1"/></linearGradient>
<linearGradient id="gb71" gradientUnits="userSpaceOnUse" x1="0" y1="43.3" x2="0" y2="55.9"><stop offset="0.00" stop-color="#3110dd"/><stop offset="0.15" stop-color="#3110dc"/><stop offset="0.30" stop-color="#3110db"/><stop offset="0.45" stop-color="#3110d9"/><stop offset="0.60" stop-color="#3110d8"/><stop offset="0.73" stop-color="#3110d6"/><stop offset="0.85" stop-color="#3110d4"/><stop offset="0.94" stop-color="#3010d2"/><stop offset="1.00" stop-color="#3010cd"/></linearGradient>
<linearGradient id="gb72" gradientUnits="userSpaceOnUse" x1="0" y1="43.2" x2="0" y2="54.3"><stop offset="0.00" stop-color="#3110d8"/><stop offset="0.15" stop-color="#3110d7"/><stop offset="0.30" stop-color="#3110d6"/><stop offset="0.45" stop-color="#3110d5"/><stop offset="0.60" stop-color="#3110d3"/><stop offset="0.73" stop-color="#3010d2"/><stop offset="0.85" stop-color="#3010d0"/><stop offset="0.94" stop-color="#3010ce"/><stop offset="1.00" stop-color="#3010c9"/></linearGradient>
<linearGradient id="gb73" gradientUnits="userSpaceOnUse" x1="0" y1="43.1" x2="0" y2="52.8"><stop offset="0.00" stop-color="#3110d3"/><stop offset="0.15" stop-color="#3010d2"/><stop offset="0.30" stop-color="#3010d1"/><stop offset="0.45" stop-color="#3010d0"/><stop offset="0.60" stop-color="#3010ce"/><stop offset="0.73" stop-color="#3010cd"/><stop offset="0.85" stop-color="#3010cb"/><stop offset="0.94" stop-color="#3010c9"/><stop offset="1.00" stop-color="#3010c4"/></linearGradient>
<linearGradient id="gb74" gradientUnits="userSpaceOnUse" x1="0" y1="43.1" x2="0" y2="51.2"><stop offset="0.00" stop-color="#3010ce"/><stop offset="0.15" stop-color="#3010cd"/><stop offset="0.30" stop-color="#3010cc"/><stop offset="0.45" stop-color="#3010cb"/><stop offset="0.60" stop-color="#3010ca"/><stop offset="0.73" stop-color="#3010c8"/><stop offset="0.85" stop-color="#3010c6"/><stop offset="0.94" stop-color="#2f0fc4"/><stop offset="1.00" stop-color="#2f0fbf"/></linearGradient>
<linearGradient id="gb75" gradientUnits="userSpaceOnUse" x1="0" y1="43.0" x2="0" y2="49.7"><stop offset="0.00" stop-color="#3010c9"/><stop offset="0.15" stop-color="#3010c8"/><stop offset="0.30" stop-color="#3010c6"/><stop offset="0.45" stop-color="#3010c5"/><stop offset="0.60" stop-color="#2f0fc3"/><stop offset="0.73" stop-color="#2f0fc2"/><stop offset="0.85" stop-color="#2f0fc0"/><stop offset="0.94" stop-color="#2f0fbe"/><stop offset="1.00" stop-color="#2e0eb9"/></linearGradient>
<linearGradient id="gb76" gradientUnits="userSpaceOnUse" x1="0" y1="42.9" x2="0" y2="48.2"><stop offset="0.00" stop-color="#2f0fc1"/><stop offset="0.15" stop-color="#2f0fc0"/><stop offset="0.30" stop-color="#2f0fbf"/><stop offset="0.45" stop-color="#2f0fbe"/><stop offset="0.60" stop-color="#2e0ebd"/><stop offset="0.73" stop-color="#2e0ebb"/><stop offset="0.85" stop-color="#2e0eb9"/><stop offset="0.94" stop-color="#2e0eb7"/><stop offset="1.00" stop-color="#2d0db3"/></linearGradient>
<linearGradient id="gb77" gradientUnits="userSpaceOnUse" x1="0" y1="42.9" x2="0" y2="46.6"><stop offset="0.00" stop-color="#2e0eba"/><stop offset="0.15" stop-color="#2e0eb9"/><stop offset="0.30" stop-color="#2e0eb8"/><stop offset="0.45" stop-color="#2e0eb7"/><stop offset="0.60" stop-color="#2e0eb6"/><stop offset="0.73" stop-color="#2d0db4"/><stop offset="0.85" stop-color="#2d0db3"/><stop offset="0.94" stop-color="#2d0db1"/><stop offset="1.00" stop-color="#2c0cae"/></linearGradient>
<linearGradient id="gb78" gradientUnits="userSpaceOnUse" x1="0" y1="40.6" x2="0" y2="45.1"><stop offset="0.00" stop-color="#2d0db2"/><stop offset="0.15" stop-color="#2d0db1"/><stop offset="0.30" stop-color="#2d0db0"/><stop offset="0.45" stop-color="#2d0db0"/><stop offset="0.60" stop-color="#2d0daf"/><stop offset="0.73" stop-color="#2c0cae"/><stop offset="0.85" stop-color="#2c0cac"/><stop offset="0.94" stop-color="#2c0cab"/><stop offset="1.00" stop-color="#2c0ca8"/></linearGradient>
<linearGradient id="gb79" gradientUnits="userSpaceOnUse" x1="0" y1="36.1" x2="0" y2="38.9"><stop offset="0.00" stop-color="#2c0caa"/><stop offset="0.15" stop-color="#2c0caa"/><stop offset="0.30" stop-color="#2c0ca9"/><stop offset="0.45" stop-color="#2c0ca8"/><stop offset="0.60" stop-color="#2c0ca8"/><stop offset="0.73" stop-color="#2c0ca7"/><stop offset="0.85" stop-color="#2b0ba6"/><stop offset="0.94" stop-color="#2b0ba5"/><stop offset="1.00" stop-color="#2b0ba2"/></linearGradient>
<linearGradient id="gb80" gradientUnits="userSpaceOnUse" x1="0" y1="31.6" x2="0" y2="32.1"><stop offset="0.00" stop-color="#2b0ba3"/><stop offset="0.15" stop-color="#2b0ba2"/><stop offset="0.30" stop-color="#2b0ba2"/><stop offset="0.45" stop-color="#2b0ba1"/><stop offset="0.60" stop-color="#2b0ba1"/><stop offset="0.73" stop-color="#2b0ba0"/><stop offset="0.85" stop-color="#2b0b9f"/><stop offset="0.94" stop-color="#2a0a9e"/><stop offset="1.00" stop-color="#2a0a9d"/></linearGradient>
<linearGradient id="gb81" gradientUnits="userSpaceOnUse" x1="0" y1="30.7" x2="0" y2="32.9"><stop offset="0.00" stop-color="#2a0a9b"/><stop offset="0.15" stop-color="#2a0a9b"/><stop offset="0.30" stop-color="#2a0a9b"/><stop offset="0.45" stop-color="#2a0a9a"/><stop offset="0.60" stop-color="#2a0a9a"/><stop offset="0.73" stop-color="#2a0a99"/><stop offset="0.85" stop-color="#2a0a99"/><stop offset="0.94" stop-color="#2a0a98"/><stop offset="1.00" stop-color="#290997"/></linearGradient>
<clipPath id="cp_c"><path d="M29.5,219.9 L37.4,226.6 L51.8,227.9 L63.2,230.8 L74.7,234.0 L88.0,235.6 L101.4,235.6 L114.8,234.6 L129.1,231.8 L148.2,228.9 L167.3,227.0 L181.7,226.4 L186.1,216.1 L182.0,229.6 L171.8,237.7 L162.7,245.1 L153.5,254.6 L144.4,264.2 L138.5,272.3 L131.5,281.9 L125.6,293.6 L120.3,306.1 L114.9,317.2 L110.1,322.3 L104.7,325.3 L96.6,325.6 L88.0,322.3 L80.5,313.5 L74.1,300.3 L68.7,284.1 L63.3,265.7 L59.0,255.4 L52.6,245.1 L44.5,239.9 L36.5,229.6 L29.5,219.3Z"/></clipPath>
<linearGradient id="gc0" gradientUnits="userSpaceOnUse" x1="0" y1="220.3" x2="0" y2="222.5"><stop offset="0.00" stop-color="#28088d"/><stop offset="0.15" stop-color="#28088d"/><stop offset="0.30" stop-color="#28088d"/><stop offset="0.45" stop-color="#28088d"/><stop offset="0.60" stop-color="#28088d"/><stop offset="0.73" stop-color="#28088d"/><stop offset="0.85" stop-color="#28088d"/><stop offset="0.94" stop-color="#28088d"/><stop offset="1.00" stop-color="#28088d"/></linearGradient>
<linearGradient id="gc1" gradientUnits="userSpaceOnUse" x1="0" y1="222.0" x2="0" y2="223.0"><stop offset="0.00" stop-color="#290992"/><stop offset="0.15" stop-color="#290992"/><stop offset="0.30" stop-color="#290992"/><stop offset="0.45" stop-color="#290992"/><stop offset="0.60" stop-color="#290991"/><stop offset="0.73" stop-color="#290991"/><stop offset="0.85" stop-color="#290991"/><stop offset="0.94" stop-color="#290991"/><stop offset="1.00" stop-color="#290990"/></linearGradient>
<linearGradient id="gc2" gradientUnits="userSpaceOnUse" x1="0" y1="223.7" x2="0" y2="225.9"><stop offset="0.00" stop-color="#290997"/><stop offset="0.15" stop-color="#290997"/><stop offset="0.30" stop-color="#290996"/><stop offset="0.45" stop-color="#290996"/><stop offset="0.60" stop-color="#290996"/><stop offset="0.73" stop-color="#290995"/><stop offset="0.85" stop-color="#290995"/><stop offset="0.94" stop-color="#290994"/><stop offset="1.00" stop-color="#290994"/></linearGradient>
<linearGradient id="gc3" gradientUnits="userSpaceOnUse" x1="0" y1="225.4" x2="0" y2="228.9"><stop offset="0.00" stop-color="#2a0a9c"/><stop offset="0.15" stop-color="#2a0a9c"/><stop offset="0.30" stop-color="#2a0a9b"/><stop offset="0.45" stop-color="#2a0a9b"/><stop offset="0.60" stop-color="#2a0a9a"/><stop offset="0.73" stop-color="#2a0a9a"/><stop offset="0.85" stop-color="#2a0a99"/><stop offset="0.94" stop-color="#2a0a98"/><stop offset="1.00" stop-color="#290997"/></linearGradient>
<linearGradient id="gc4" gradientUnits="userSpaceOnUse" x1="0" y1="226.6" x2="0" y2="231.5"><stop offset="0.00" stop-color="#2b0ba1"/><stop offset="0.15" stop-color="#2b0ba0"/><stop offset="0.30" stop-color="#2b0ba0"/><stop offset="0.45" stop-color="#2b0b9f"/><stop offset="0.60" stop-color="#2a0a9e"/><stop offset="0.73" stop-color="#2a0a9e"/><stop offset="0.85" stop-color="#2a0a9d"/><stop offset="0.94" stop-color="#2a0a9c"/><stop offset="1.00" stop-color="#2a0a9a"/></linearGradient>
<linearGradient id="gc5" gradientUnits="userSpaceOnUse" x1="0" y1="226.8" x2="0" y2="234.1"><stop offset="0.00" stop-color="#2b0ba6"/><stop offset="0.15" stop-color="#2b0ba5"/><stop offset="0.30" stop-color="#2b0ba4"/><stop offset="0.45" stop-color="#2b0ba4"/><stop offset="0.60" stop-color="#2b0ba3"/><stop offset="0.73" stop-color="#2b0ba2"/><stop offset="0.85" stop-color="#2b0ba1"/><stop offset="0.94" stop-color="#2b0ba0"/><stop offset="1.00" stop-color="#2a0a9d"/></linearGradient>
<linearGradient id="gc6" gradientUnits="userSpaceOnUse" x1="0" y1="227.0" x2="0" y2="236.7"><stop offset="0.00" stop-color="#2c0cab"/><stop offset="0.15" stop-color="#2c0caa"/><stop offset="0.30" stop-color="#2c0ca9"/><stop offset="0.45" stop-color="#2c0ca8"/><stop offset="0.60" stop-color="#2c0ca7"/><stop offset="0.73" stop-color="#2b0ba6"/><stop offset="0.85" stop-color="#2b0ba5"/><stop offset="0.94" stop-color="#2b0ba3"/><stop offset="1.00" stop-color="#2b0ba1"/></linearGradient>
<linearGradient id="gc7" gradientUnits="userSpaceOnUse" x1="0" y1="227.2" x2="0" y2="239.2"><stop offset="0.00" stop-color="#2d0db0"/><stop offset="0.15" stop-color="#2d0daf"/><stop offset="0.30" stop-color="#2c0cae"/><stop offset="0.45" stop-color="#2c0cad"/><stop offset="0.60" stop-color="#2c0cab"/><stop offset="0.73" stop-color="#2c0caa"/><stop offset="0.85" stop-color="#2c0ca9"/><stop offset="0.94" stop-color="#2c0ca7"/><stop offset="1.00" stop-color="#2b0ba4"/></linearGradient>
<linearGradient id="gc8" gradientUnits="userSpaceOnUse" x1="0" y1="227.4" x2="0" y2="240.8"><stop offset="0.00" stop-color="#2d0db5"/><stop offset="0.15" stop-color="#2d0db4"/><stop offset="0.30" stop-color="#2d0db2"/><stop offset="0.45" stop-color="#2d0db1"/><stop offset="0.60" stop-color="#2d0db0"/><stop offset="0.73" stop-color="#2d0dae"/><stop offset="0.85" stop-color="#2c0cac"/><stop offset="0.94" stop-color="#2c0cab"/><stop offset="1.00" stop-color="#2c0ca7"/></linearGradient>
<linearGradient id="gc9" gradientUnits="userSpaceOnUse" x1="0" y1="227.6" x2="0" y2="242.1"><stop offset="0.00" stop-color="#2e0eb9"/><stop offset="0.15" stop-color="#2e0eb8"/><stop offset="0.30" stop-color="#2e0eb7"/><stop offset="0.45" stop-color="#2e0eb6"/><stop offset="0.60" stop-color="#2d0db4"/><stop offset="0.73" stop-color="#2d0db2"/><stop offset="0.85" stop-color="#2d0db0"/><stop offset="0.94" stop-color="#2d0dae"/><stop offset="1.00" stop-color="#2c0cab"/></linearGradient>
<linearGradient id="gc10" gradientUnits="userSpaceOnUse" x1="0" y1="227.7" x2="0" y2="243.4"><stop offset="0.00" stop-color="#3010c9"/><stop offset="0.15" stop-color="#3010c7"/><stop offset="0.30" stop-color="#3010c6"/><stop offset="0.45" stop-color="#2f0fc4"/><stop offset="0.60" stop-color="#2f0fc1"/><stop offset="0.73" stop-color="#2f0fbf"/><stop offset="0.85" stop-color="#2e0ebc"/><stop offset="0.94" stop-color="#2e0eb9"/><stop offset="1.00" stop-color="#2d0db5"/></linearGradient>
<linearGradient id="gc11" gradientUnits="userSpaceOnUse" x1="0" y1="228.0" x2="0" y2="244.7"><stop offset="0.00" stop-color="#3110d4"/><stop offset="0.15" stop-color="#3110d3"/><stop offset="0.30" stop-color="#3010d2"/><stop offset="0.45" stop-color="#3010d0"/><stop offset="0.60" stop-color="#3010ce"/><stop offset="0.73" stop-color="#3010cc"/><stop offset="0.85" stop-color="#3010c9"/><stop offset="0.94" stop-color="#3010c6"/><stop offset="1.00" stop-color="#2f0fc0"/></linearGradient>
<linearGradient id="gc12" gradientUnits="userSpaceOnUse" x1="0" y1="228.5" x2="0" y2="247.3"><stop offset="0.00" stop-color="#3110e0"/><stop offset="0.15" stop-color="#3110df"/><stop offset="0.30" stop-color="#3110dd"/><stop offset="0.45" stop-color="#3110db"/><stop offset="0.60" stop-color="#3110d8"/><stop offset="0.73" stop-color="#3110d6"/><stop offset="0.85" stop-color="#3010d3"/><stop offset="0.94" stop-color="#3010d0"/><stop offset="1.00" stop-color="#3010ca"/></linearGradient>
<linearGradient id="gc13" gradientUnits="userSpaceOnUse" x1="0" y1="229.0" x2="0" y2="250.5"><stop offset="0.00" stop-color="#3210ec"/><stop offset="0.15" stop-color="#3210ea"/><stop offset="0.30" stop-color="#3110e8"/><stop offset="0.45" stop-color="#3110e5"/><stop offset="0.60" stop-color="#3110e3"/><stop offset="0.73" stop-color="#3110e0"/><stop offset="0.85" stop-color="#3110dc"/><stop offset="0.94" stop-color="#3110d8"/><stop offset="1.00" stop-color="#3010d2"/></linearGradient>
<linearGradient id="gc14" gradientUnits="userSpaceOnUse" x1="0" y1="229.5" x2="0" y2="253.7"><stop offset="0.00" stop-color="#1f3af4"/><stop offset="0.15" stop-color="#2925f4"/><stop offset="0.30" stop-color="#3210f3"/><stop offset="0.45" stop-color="#3210f0"/><stop offset="0.60" stop-color="#3210ed"/><stop offset="0.73" stop-color="#3210e9"/><stop offset="0.85" stop-color="#3110e5"/><stop offset="0.94" stop-color="#3110e1"/><stop offset="1.00" stop-color="#3110da"/></linearGradient>
<linearGradient id="gc15" gradientUnits="userSpaceOnUse" x1="0" y1="230.0" x2="0" y2="257.7"><stop offset="0.00" stop-color="#1c44f5"/><stop offset="0.15" stop-color="#1e3ff4"/><stop offset="0.30" stop-color="#2038f4"/><stop offset="0.45" stop-color="#3014f4"/><stop offset="0.60" stop-color="#3210f1"/><stop offset="0.73" stop-color="#3210ed"/><stop offset="0.85" stop-color="#3210e9"/><stop offset="0.94" stop-color="#3110e5"/><stop offset="1.00" stop-color="#3110de"/></linearGradient>
<linearGradient id="gc16" gradientUnits="userSpaceOnUse" x1="0" y1="230.5" x2="0" y2="262.5"><stop offset="0.00" stop-color="#194ff6"/><stop offset="0.15" stop-color="#1b49f5"/><stop offset="0.30" stop-color="#1d42f5"/><stop offset="0.45" stop-color="#1f3bf4"/><stop offset="0.60" stop-color="#2e18f4"/><stop offset="0.73" stop-color="#3210f1"/><stop offset="0.85" stop-color="#3210ed"/><stop offset="0.94" stop-color="#3110e8"/><stop offset="1.00" stop-color="#3110e0"/></linearGradient>
<linearGradient id="gc17" gradientUnits="userSpaceOnUse" x1="0" y1="231.0" x2="0" y2="268.0"><stop offset="0.00" stop-color="#1659f6"/><stop offset="0.15" stop-color="#1853f6"/><stop offset="0.30" stop-color="#1a4cf5"/><stop offset="0.45" stop-color="#1d44f5"/><stop offset="0.60" stop-color="#1f3bf4"/><stop offset="0.73" stop-color="#3015f4"/><stop offset="0.85" stop-color="#3210f0"/><stop offset="0.94" stop-color="#3210eb"/><stop offset="1.00" stop-color="#3110e3"/></linearGradient>
<linearGradient id="gc18" gradientUnits="userSpaceOnUse" x1="0" y1="231.6" x2="0" y2="274.8"><stop offset="0.00" stop-color="#1364f7"/><stop offset="0.15" stop-color="#155df7"/><stop offset="0.30" stop-color="#1756f6"/><stop offset="0.45" stop-color="#1a4df6"/><stop offset="0.60" stop-color="#1d44f5"/><stop offset="0.73" stop-color="#2039f4"/><stop offset="0.85" stop-color="#3210f3"/><stop offset="0.94" stop-color="#3210ee"/><stop offset="1.00" stop-color="#3110e6"/></linearGradient>
<linearGradient id="gc19" gradientUnits="userSpaceOnUse" x1="0" y1="232.1" x2="0" y2="281.7"><stop offset="0.00" stop-color="#106ef8"/><stop offset="0.15" stop-color="#1268f7"/><stop offset="0.30" stop-color="#1560f7"/><stop offset="0.45" stop-color="#1757f6"/><stop offset="0.60" stop-color="#1a4cf5"/><stop offset="0.73" stop-color="#1d42f5"/><stop offset="0.85" stop-color="#262af4"/><stop offset="0.94" stop-color="#3210f1"/><stop offset="1.00" stop-color="#3110e8"/></linearGradient>
<linearGradient id="gc20" gradientUnits="userSpaceOnUse" x1="0" y1="232.7" x2="0" y2="288.0"><stop offset="0.00" stop-color="#1077f8"/><stop offset="0.15" stop-color="#1071f8"/><stop offset="0.30" stop-color="#126af8"/><stop offset="0.45" stop-color="#1560f7"/><stop offset="0.60" stop-color="#1855f6"/><stop offset="0.73" stop-color="#1b4af5"/><stop offset="0.85" stop-color="#1f3df4"/><stop offset="0.94" stop-color="#3210f4"/><stop offset="1.00" stop-color="#3210ea"/></linearGradient>
<linearGradient id="gc21" gradientUnits="userSpaceOnUse" x1="0" y1="233.2" x2="0" y2="294.0"><stop offset="0.00" stop-color="#1081f8"/><stop offset="0.15" stop-color="#107bf8"/><stop offset="0.30" stop-color="#1074f8"/><stop offset="0.45" stop-color="#116bf8"/><stop offset="0.60" stop-color="#155ff7"/><stop offset="0.73" stop-color="#1853f6"/><stop offset="0.85" stop-color="#1c45f5"/><stop offset="0.94" stop-color="#242ff4"/><stop offset="1.00" stop-color="#3210ed"/></linearGradient>
<linearGradient id="gc22" gradientUnits="userSpaceOnUse" x1="0" y1="233.8" x2="0" y2="300.0"><stop offset="0.00" stop-color="#108af8"/><stop offset="0.15" stop-color="#1084f8"/><stop offset="0.30" stop-color="#107df8"/><stop offset="0.45" stop-color="#1075f8"/><stop offset="0.60" stop-color="#126af8"/><stop offset="0.73" stop-color="#165cf7"/><stop offset="0.85" stop-color="#1a4ef6"/><stop offset="0.94" stop-color="#1e3ef4"/><stop offset="1.00" stop-color="#3210f0"/></linearGradient>
<linearGradient id="gc23" gradientUnits="userSpaceOnUse" x1="0" y1="234.2" x2="0" y2="304.2"><stop offset="0.00" stop-color="#1094f8"/><stop offset="0.15" stop-color="#108df8"/><stop offset="0.30" stop-color="#1086f8"/><stop offset="0.45" stop-color="#107df8"/><stop offset="0.60" stop-color="#1073f8"/><stop offset="0.73" stop-color="#1366f7"/><stop offset="0.85" stop-color="#1757f6"/><stop offset="0.94" stop-color="#1c47f5"/><stop offset="1.00" stop-color="#3210f3"/></linearGradient>
<linearGradient id="gc24" gradientUnits="userSpaceOnUse" x1="0" y1="234.4" x2="0" y2="308.3"><stop offset="0.00" stop-color="#109df8"/><stop offset="0.15" stop-color="#1097f8"/><stop offset="0.30" stop-color="#108ff8"/><stop offset="0.45" stop-color="#1086f8"/><stop offset="0.60" stop-color="#107bf8"/><stop offset="0.73" stop-color="#1070f8"/><stop offset="0.85" stop-color="#1560f7"/><stop offset="0.94" stop-color="#194ff6"/><stop offset="1.00" stop-color="#2827f4"/></linearGradient>
<linearGradient id="gc25" gradientUnits="userSpaceOnUse" x1="0" y1="234.7" x2="0" y2="312.4"><stop offset="0.00" stop-color="#10a9f8"/><stop offset="0.15" stop-color="#10a2f8"/><stop offset="0.30" stop-color="#109af8"/><stop offset="0.45" stop-color="#1090f8"/><stop offset="0.60" stop-color="#1084f8"/><stop offset="0.73" stop-color="#1078f8"/><stop offset="0.85" stop-color="#1269f7"/><stop offset="0.94" stop-color="#1757f6"/><stop offset="1.00" stop-color="#1f3cf4"/></linearGradient>
<linearGradient id="gc26" gradientUnits="userSpaceOnUse" x1="0" y1="234.9" x2="0" y2="315.2"><stop offset="0.00" stop-color="#10b6f8"/><stop offset="0.15" stop-color="#10aff8"/><stop offset="0.30" stop-color="#10a6f8"/><stop offset="0.45" stop-color="#109bf8"/><stop offset="0.60" stop-color="#108ef8"/><stop offset="0.73" stop-color="#1082f8"/><stop offset="0.85" stop-color="#1073f8"/><stop offset="0.94" stop-color="#1461f7"/><stop offset="1.00" stop-color="#1d44f5"/></linearGradient>
<linearGradient id="gc27" gradientUnits="userSpaceOnUse" x1="0" y1="235.1" x2="0" y2="317.6"><stop offset="0.00" stop-color="#10c3f8"/><stop offset="0.15" stop-color="#10bbf8"/><stop offset="0.30" stop-color="#10b2f8"/><stop offset="0.45" stop-color="#10a7f8"/><stop offset="0.60" stop-color="#1099f8"/><stop offset="0.73" stop-color="#108cf8"/><stop offset="0.85" stop-color="#107cf8"/><stop offset="0.94" stop-color="#116cf8"/><stop offset="1.00" stop-color="#1a4ef6"/></linearGradient>
<linearGradient id="gc28" gradientUnits="userSpaceOnUse" x1="0" y1="235.4" x2="0" y2="319.9"><stop offset="0.00" stop-color="#10cdf9"/><stop offset="0.15" stop-color="#10c6f8"/><stop offset="0.30" stop-color="#10bcf8"/><stop offset="0.45" stop-color="#10b1f8"/><stop offset="0.60" stop-color="#10a4f8"/><stop offset="0.73" stop-color="#1096f8"/><stop offset="0.85" stop-color="#1086f8"/><stop offset="0.94" stop-color="#1076f8"/><stop offset="1.00" stop-color="#1758f6"/></linearGradient>
<linearGradient id="gc29" gradientUnits="userSpaceOnUse" x1="0" y1="235.6" x2="0" y2="322.3"><stop offset="0.00" stop-color="#10d5fa"/><stop offset="0.15" stop-color="#10cef9"/><stop offset="0.30" stop-color="#10c5f8"/><stop offset="0.45" stop-color="#10baf8"/><stop offset="0.60" stop-color="#10acf8"/><stop offset="0.73" stop-color="#109ff8"/><stop offset="0.85" stop-color="#108ff8"/><stop offset="0.94" stop-color="#107ff8"/><stop offset="1.00" stop-color="#1463f7"/></linearGradient>
<linearGradient id="gc30" gradientUnits="userSpaceOnUse" x1="0" y1="235.6" x2="0" y2="323.1"><stop offset="0.00" stop-color="#10dcfb"/><stop offset="0.15" stop-color="#10d5fa"/><stop offset="0.30" stop-color="#10cdf9"/><stop offset="0.45" stop-color="#10c2f8"/><stop offset="0.60" stop-color="#10b4f8"/><stop offset="0.73" stop-color="#10a6f8"/><stop offset="0.85" stop-color="#1096f8"/><stop offset="0.94" stop-color="#1086f8"/><stop offset="1.00" stop-color="#116cf8"/></linearGradient>
<linearGradient id="gc31" gradientUnits="userSpaceOnUse" x1="0" y1="235.6" x2="0" y2="323.9"><stop offset="0.00" stop-color="#10e3fc"/><stop offset="0.15" stop-color="#10dcfb"/><stop offset="0.30" stop-color="#10d4fa"/><stop offset="0.45" stop-color="#10caf8"/><stop offset="0.60" stop-color="#10bcf8"/><stop offset="0.73" stop-color="#10aef8"/><stop offset="0.85" stop-color="#109df8"/><stop offset="0.94" stop-color="#108df8"/><stop offset="1.00" stop-color="#1073f8"/></linearGradient>
<linearGradient id="gc32" gradientUnits="userSpaceOnUse" x1="0" y1="235.6" x2="0" y2="324.6"><stop offset="0.00" stop-color="#10e4f8"/><stop offset="0.15" stop-color="#10e0fb"/><stop offset="0.30" stop-color="#10d8fa"/><stop offset="0.45" stop-color="#10cef9"/><stop offset="0.60" stop-color="#10c2f8"/><stop offset="0.73" stop-color="#10b5f8"/><stop offset="0.85" stop-color="#10a5f8"/><stop offset="0.94" stop-color="#1094f8"/><stop offset="1.00" stop-color="#1079f8"/></linearGradient>
<linearGradient id="gc33" gradientUnits="userSpaceOnUse" x1="0" y1="235.6" x2="0" y2="325.4"><stop offset="0.00" stop-color="#10e4f3"/><stop offset="0.15" stop-color="#10e4fc"/><stop offset="0.30" stop-color="#10dcfb"/><stop offset="0.45" stop-color="#10d2f9"/><stop offset="0.60" stop-color="#10c6f8"/><stop offset="0.73" stop-color="#10b9f8"/><stop offset="0.85" stop-color="#10a9f8"/><stop offset="0.94" stop-color="#1099f8"/><stop offset="1.00" stop-color="#107ff8"/></linearGradient>
<linearGradient id="gc34" gradientUnits="userSpaceOnUse" x1="0" y1="235.6" x2="0" y2="325.6"><stop offset="0.00" stop-color="#10e5ed"/><stop offset="0.15" stop-color="#10e4f6"/><stop offset="0.30" stop-color="#10e0fb"/><stop offset="0.45" stop-color="#10d6fa"/><stop offset="0.60" stop-color="#10caf8"/><stop offset="0.73" stop-color="#10bdf8"/><stop offset="0.85" stop-color="#10adf8"/><stop offset="0.94" stop-color="#109df8"/><stop offset="1.00" stop-color="#1082f8"/></linearGradient>
<linearGradient id="gc35" gradientUnits="userSpaceOnUse" x1="0" y1="235.6" x2="0" y2="325.5"><stop offset="0.00" stop-color="#10e5ee"/><stop offset="0.15" stop-color="#10e4f7"/><stop offset="0.30" stop-color="#10e0fb"/><stop offset="0.45" stop-color="#10d8fa"/><stop offset="0.60" stop-color="#10cef9"/><stop offset="0.73" stop-color="#10c1f8"/><stop offset="0.85" stop-color="#10b1f8"/><stop offset="0.94" stop-color="#10a1f8"/><stop offset="1.00" stop-color="#1086f8"/></linearGradient>
<linearGradient id="gc36" gradientUnits="userSpaceOnUse" x1="0" y1="235.6" x2="0" y2="325.4"><stop offset="0.00" stop-color="#10e5f0"/><stop offset="0.15" stop-color="#10e4f9"/><stop offset="0.30" stop-color="#10dffb"/><stop offset="0.45" stop-color="#10d6fa"/><stop offset="0.60" stop-color="#10ccf9"/><stop offset="0.73" stop-color="#10c2f8"/><stop offset="0.85" stop-color="#10b4f8"/><stop offset="0.94" stop-color="#10a4f8"/><stop offset="1.00" stop-color="#1089f8"/></linearGradient>
<linearGradient id="gc37" gradientUnits="userSpaceOnUse" x1="0" y1="235.4" x2="0" y2="325.3"><stop offset="0.00" stop-color="#10e5f2"/><stop offset="0.15" stop-color="#10e4fb"/><stop offset="0.30" stop-color="#10ddfb"/><stop offset="0.45" stop-color="#10d5fa"/><stop offset="0.60" stop-color="#10cbf8"/><stop offset="0.73" stop-color="#10c0f8"/><stop offset="0.85" stop-color="#10b2f8"/><stop offset="0.94" stop-color="#10a3f8"/><stop offset="1.00" stop-color="#1089f8"/></linearGradient>
<linearGradient id="gc38" gradientUnits="userSpaceOnUse" x1="0" y1="235.3" x2="0" y2="324.6"><stop offset="0.00" stop-color="#10e4f9"/><stop offset="0.15" stop-color="#10e0fb"/><stop offset="0.30" stop-color="#10d9fa"/><stop offset="0.45" stop-color="#10d2f9"/><stop offset="0.60" stop-color="#10caf8"/><stop offset="0.73" stop-color="#10bef8"/><stop offset="0.85" stop-color="#10b1f8"/><stop offset="0.94" stop-color="#10a2f8"/><stop offset="1.00" stop-color="#1088f8"/></linearGradient>
<linearGradient id="gc39" gradientUnits="userSpaceOnUse" x1="0" y1="235.1" x2="0" y2="323.5"><stop offset="0.00" stop-color="#10dffb"/><stop offset="0.15" stop-color="#10d8fa"/><stop offset="0.30" stop-color="#10d1f9"/><stop offset="0.45" stop-color="#10cbf8"/><stop offset="0.60" stop-color="#10c3f8"/><stop offset="0.73" stop-color="#10baf8"/><stop offset="0.85" stop-color="#10aff8"/><stop offset="0.94" stop-color="#10a1f8"/><stop offset="1.00" stop-color="#1087f8"/></linearGradient>
<linearGradient id="gc40" gradientUnits="userSpaceOnUse" x1="0" y1="235.0" x2="0" y2="322.4"><stop offset="0.00" stop-color="#10d7fa"/><stop offset="0.15" stop-color="#10d0f9"/><stop offset="0.30" stop-color="#10caf8"/><stop offset="0.45" stop-color="#10c3f8"/><stop offset="0.60" stop-color="#10baf8"/><stop offset="0.73" stop-color="#10b2f8"/><stop offset="0.85" stop-color="#10a7f8"/><stop offset="0.94" stop-color="#109bf8"/><stop offset="1.00" stop-color="#1083f8"/></linearGradient>
<linearGradient id="gc41" gradientUnits="userSpaceOnUse" x1="0" y1="234.8" x2="0" y2="320.3"><stop offset="0.00" stop-color="#10cef9"/><stop offset="0.15" stop-color="#10c8f8"/><stop offset="0.30" stop-color="#10c1f8"/><stop offset="0.45" stop-color="#10baf8"/><stop offset="0.60" stop-color="#10b2f8"/><stop offset="0.73" stop-color="#10aaf8"/><stop offset="0.85" stop-color="#109ff8"/><stop offset="0.94" stop-color="#1093f8"/><stop offset="1.00" stop-color="#107cf8"/></linearGradient>
<linearGradient id="gc42" gradientUnits="userSpaceOnUse" x1="0" y1="234.7" x2="0" y2="318.1"><stop offset="0.00" stop-color="#10c5f8"/><stop offset="0.15" stop-color="#10bef8"/><stop offset="0.30" stop-color="#10b7f8"/><stop offset="0.45" stop-color="#10b1f8"/><stop offset="0.60" stop-color="#10a9f8"/><stop offset="0.73" stop-color="#10a1f8"/><stop offset="0.85" stop-color="#1097f8"/><stop offset="0.94" stop-color="#108cf8"/><stop offset="1.00" stop-color="#1075f8"/></linearGradient>
<linearGradient id="gc43" gradientUnits="userSpaceOnUse" x1="0" y1="234.4" x2="0" y2="314.9"><stop offset="0.00" stop-color="#10bbf8"/><stop offset="0.15" stop-color="#10b4f8"/><stop offset="0.30" stop-color="#10aef8"/><stop offset="0.45" stop-color="#10a7f8"/><stop offset="0.60" stop-color="#10a0f8"/><stop offset="0.73" stop-color="#1098f8"/><stop offset="0.85" stop-color="#108ef8"/><stop offset="0.94" stop-color="#1083f8"/><stop offset="1.00" stop-color="#116df8"/></linearGradient>
<linearGradient id="gc44" gradientUnits="userSpaceOnUse" x1="0" y1="234.0" x2="0" y2="310.8"><stop offset="0.00" stop-color="#10b0f8"/><stop offset="0.15" stop-color="#10aaf8"/><stop offset="0.30" stop-color="#10a4f8"/><stop offset="0.45" stop-color="#109df8"/><stop offset="0.60" stop-color="#1096f8"/><stop offset="0.73" stop-color="#108ef8"/><stop offset="0.85" stop-color="#1085f8"/><stop offset="0.94" stop-color="#107af8"/><stop offset="1.00" stop-color="#1462f7"/></linearGradient>
<linearGradient id="gc45" gradientUnits="userSpaceOnUse" x1="0" y1="233.6" x2="0" y2="306.7"><stop offset="0.00" stop-color="#10a6f8"/><stop offset="0.15" stop-color="#10a0f8"/><stop offset="0.30" stop-color="#109af8"/><stop offset="0.45" stop-color="#1093f8"/><stop offset="0.60" stop-color="#108cf8"/><stop offset="0.73" stop-color="#1085f8"/><stop offset="0.85" stop-color="#107cf8"/><stop offset="0.94" stop-color="#1072f8"/><stop offset="1.00" stop-color="#1757f6"/></linearGradient>
<linearGradient id="gc46" gradientUnits="userSpaceOnUse" x1="0" y1="233.2" x2="0" y2="302.1"><stop offset="0.00" stop-color="#109df8"/><stop offset="0.15" stop-color="#1097f8"/><stop offset="0.30" stop-color="#1091f8"/><stop offset="0.45" stop-color="#108af8"/><stop offset="0.60" stop-color="#1083f8"/><stop offset="0.73" stop-color="#107cf8"/><stop offset="0.85" stop-color="#1073f8"/><stop offset="0.94" stop-color="#1366f7"/><stop offset="1.00" stop-color="#1a4df5"/></linearGradient>
<linearGradient id="gc47" gradientUnits="userSpaceOnUse" x1="0" y1="232.8" x2="0" y2="297.4"><stop offset="0.00" stop-color="#1094f8"/><stop offset="0.15" stop-color="#108ef8"/><stop offset="0.30" stop-color="#1088f8"/><stop offset="0.45" stop-color="#1082f8"/><stop offset="0.60" stop-color="#107bf8"/><stop offset="0.73" stop-color="#1074f8"/><stop offset="0.85" stop-color="#1269f7"/><stop offset="0.94" stop-color="#165cf7"/><stop offset="1.00" stop-color="#1d43f5"/></linearGradient>
<linearGradient id="gc48" gradientUnits="userSpaceOnUse" x1="0" y1="232.4" x2="0" y2="292.9"><stop offset="0.00" stop-color="#108bf8"/><stop offset="0.15" stop-color="#1086f8"/><stop offset="0.30" stop-color="#1080f8"/><stop offset="0.45" stop-color="#107af8"/><stop offset="0.60" stop-color="#1073f8"/><stop offset="0.73" stop-color="#126af8"/><stop offset="0.85" stop-color="#155ef7"/><stop offset="0.94" stop-color="#1951f6"/><stop offset="1.00" stop-color="#2039f4"/></linearGradient>
<linearGradient id="gc49" gradientUnits="userSpaceOnUse" x1="0" y1="232.0" x2="0" y2="288.9"><stop offset="0.00" stop-color="#1082f8"/><stop offset="0.15" stop-color="#107df8"/><stop offset="0.30" stop-color="#1077f8"/><stop offset="0.45" stop-color="#1071f8"/><stop offset="0.60" stop-color="#1269f7"/><stop offset="0.73" stop-color="#155ff7"/><stop offset="0.85" stop-color="#1854f6"/><stop offset="0.94" stop-color="#1c48f5"/><stop offset="1.00" stop-color="#3111f4"/></linearGradient>
<linearGradient id="gc50" gradientUnits="userSpaceOnUse" x1="0" y1="231.7" x2="0" y2="284.9"><stop offset="0.00" stop-color="#1079f8"/><stop offset="0.15" stop-color="#1074f8"/><stop offset="0.30" stop-color="#116ef8"/><stop offset="0.45" stop-color="#1366f7"/><stop offset="0.60" stop-color="#155ef7"/><stop offset="0.73" stop-color="#1855f6"/><stop offset="0.85" stop-color="#1b4af5"/><stop offset="0.94" stop-color="#1e3ef4"/><stop offset="1.00" stop-color="#3210f0"/></linearGradient>
<linearGradient id="gc51" gradientUnits="userSpaceOnUse" x1="0" y1="231.4" x2="0" y2="281.2"><stop offset="0.00" stop-color="#1070f8"/><stop offset="0.15" stop-color="#126af8"/><stop offset="0.30" stop-color="#1463f7"/><stop offset="0.45" stop-color="#165bf7"/><stop offset="0.60" stop-color="#1853f6"/><stop offset="0.73" stop-color="#1b4af5"/><stop offset="0.85" stop-color="#1e40f5"/><stop offset="0.94" stop-color="#2923f4"/><stop offset="1.00" stop-color="#3210ed"/></linearGradient>
<linearGradient id="gc52" gradientUnits="userSpaceOnUse" x1="0" y1="231.0" x2="0" y2="278.5"><stop offset="0.00" stop-color="#1269f8"/><stop offset="0.15" stop-color="#1462f7"/><stop offset="0.30" stop-color="#165cf7"/><stop offset="0.45" stop-color="#1854f6"/><stop offset="0.60" stop-color="#1b4bf5"/><stop offset="0.73" stop-color="#1d42f5"/><stop offset="0.85" stop-color="#2136f4"/><stop offset="0.94" stop-color="#3210f2"/><stop offset="1.00" stop-color="#3210ea"/></linearGradient>
<linearGradient id="gc53" gradientUnits="userSpaceOnUse" x1="0" y1="230.7" x2="0" y2="275.7"><stop offset="0.00" stop-color="#1462f7"/><stop offset="0.15" stop-color="#165bf7"/><stop offset="0.30" stop-color="#1855f6"/><stop offset="0.45" stop-color="#1a4df6"/><stop offset="0.60" stop-color="#1c45f5"/><stop offset="0.73" stop-color="#1f3cf4"/><stop offset="0.85" stop-color="#2f17f4"/><stop offset="0.94" stop-color="#3210f0"/><stop offset="1.00" stop-color="#3110e8"/></linearGradient>
<linearGradient id="gc54" gradientUnits="userSpaceOnUse" x1="0" y1="230.4" x2="0" y2="273.0"><stop offset="0.00" stop-color="#165bf6"/><stop offset="0.15" stop-color="#1854f6"/><stop offset="0.30" stop-color="#1a4ef6"/><stop offset="0.45" stop-color="#1c46f5"/><stop offset="0.60" stop-color="#1e3ef4"/><stop offset="0.73" stop-color="#262cf4"/><stop offset="0.85" stop-color="#3210f2"/><stop offset="0.94" stop-color="#3210ed"/><stop offset="1.00" stop-color="#3110e5"/></linearGradient>
<linearGradient id="gc55" gradientUnits="userSpaceOnUse" x1="0" y1="230.1" x2="0" y2="270.2"><stop offset="0.00" stop-color="#1853f6"/><stop offset="0.15" stop-color="#1a4df6"/><stop offset="0.30" stop-color="#1c47f5"/><stop offset="0.45" stop-color="#1e40f5"/><stop offset="0.60" stop-color="#2136f4"/><stop offset="0.73" stop-color="#3210f4"/><stop offset="0.85" stop-color="#3210f0"/><stop offset="0.94" stop-color="#3210eb"/><stop offset="1.00" stop-color="#3110e3"/></linearGradient>
<linearGradient id="gc56" gradientUnits="userSpaceOnUse" x1="0" y1="229.8" x2="0" y2="267.5"><stop offset="0.00" stop-color="#1a4cf5"/><stop offset="0.15" stop-color="#1c46f5"/><stop offset="0.30" stop-color="#1e40f5"/><stop offset="0.45" stop-color="#2039f4"/><stop offset="0.60" stop-color="#3015f4"/><stop offset="0.73" stop-color="#3210f1"/><stop offset="0.85" stop-color="#3210ed"/><stop offset="0.94" stop-color="#3110e9"/><stop offset="1.00" stop-color="#3110e1"/></linearGradient>
<linearGradient id="gc57" gradientUnits="userSpaceOnUse" x1="0" y1="229.5" x2="0" y2="264.8"><stop offset="0.00" stop-color="#1c45f5"/><stop offset="0.15" stop-color="#1e3ff5"/><stop offset="0.30" stop-color="#2039f4"/><stop offset="0.45" stop-color="#2d1bf4"/><stop offset="0.60" stop-color="#3210f2"/><stop offset="0.73" stop-color="#3210ee"/><stop offset="0.85" stop-color="#3210eb"/><stop offset="0.94" stop-color="#3110e6"/><stop offset="1.00" stop-color="#3110df"/></linearGradient>
<linearGradient id="gc58" gradientUnits="userSpaceOnUse" x1="0" y1="229.2" x2="0" y2="262.5"><stop offset="0.00" stop-color="#1f3bf4"/><stop offset="0.15" stop-color="#262bf4"/><stop offset="0.30" stop-color="#3210f4"/><stop offset="0.45" stop-color="#3210f1"/><stop offset="0.60" stop-color="#3210ee"/><stop offset="0.73" stop-color="#3210eb"/><stop offset="0.85" stop-color="#3110e8"/><stop offset="0.94" stop-color="#3110e4"/><stop offset="1.00" stop-color="#3110dd"/></linearGradient>
<linearGradient id="gc59" gradientUnits="userSpaceOnUse" x1="0" y1="228.9" x2="0" y2="260.4"><stop offset="0.00" stop-color="#3210f3"/><stop offset="0.15" stop-color="#3210f1"/><stop offset="0.30" stop-color="#3210ef"/><stop offset="0.45" stop-color="#3210ed"/><stop offset="0.60" stop-color="#3210ea"/><stop offset="0.73" stop-color="#3110e7"/><stop offset="0.85" stop-color="#3110e3"/><stop offset="0.94" stop-color="#3110e0"/><stop offset="1.00" stop-color="#3110d9"/></linearGradient>
<linearGradient id="gc60" gradientUnits="userSpaceOnUse" x1="0" y1="228.7" x2="0" y2="258.3"><stop offset="0.00" stop-color="#3210ee"/><stop offset="0.15" stop-color="#3210ec"/><stop offset="0.30" stop-color="#3210ea"/><stop offset="0.45" stop-color="#3110e8"/><stop offset="0.60" stop-color="#3110e5"/><stop offset="0.73" stop-color="#3110e2"/><stop offset="0.85" stop-color="#3110df"/><stop offset="0.94" stop-color="#3110dc"/><stop offset="1.00" stop-color="#3110d5"/></linearGradient>
<linearGradient id="gc61" gradientUnits="userSpaceOnUse" x1="0" y1="228.5" x2="0" y2="256.2"><stop offset="0.00" stop-color="#3110e8"/><stop offset="0.15" stop-color="#3110e7"/><stop offset="0.30" stop-color="#3110e5"/><stop offset="0.45" stop-color="#3110e3"/><stop offset="0.60" stop-color="#3110e0"/><stop offset="0.73" stop-color="#3110de"/><stop offset="0.85" stop-color="#3110db"/><stop offset="0.94" stop-color="#3110d7"/><stop offset="1.00" stop-color="#3010d2"/></linearGradient>
<linearGradient id="gc62" gradientUnits="userSpaceOnUse" x1="0" y1="228.3" x2="0" y2="254.1"><stop offset="0.00" stop-color="#3110e3"/><stop offset="0.15" stop-color="#3110e1"/><stop offset="0.30" stop-color="#3110df"/><stop offset="0.45" stop-color="#3110dd"/><stop offset="0.60" stop-color="#3110db"/><stop offset="0.73" stop-color="#3110d9"/><stop offset="0.85" stop-color="#3110d6"/><stop offset="0.94" stop-color="#3110d3"/><stop offset="1.00" stop-color="#3010ce"/></linearGradient>
<linearGradient id="gc63" gradientUnits="userSpaceOnUse" x1="0" y1="228.1" x2="0" y2="252.0"><stop offset="0.00" stop-color="#3110de"/><stop offset="0.15" stop-color="#3110dc"/><stop offset="0.30" stop-color="#3110db"/><stop offset="0.45" stop-color="#3110d9"/><stop offset="0.60" stop-color="#3110d7"/><stop offset="0.73" stop-color="#3110d4"/><stop offset="0.85" stop-color="#3010d2"/><stop offset="0.94" stop-color="#3010cf"/><stop offset="1.00" stop-color="#3010ca"/></linearGradient>
<linearGradient id="gc64" gradientUnits="userSpaceOnUse" x1="0" y1="227.9" x2="0" y2="250.0"><stop offset="0.00" stop-color="#3110dc"/><stop offset="0.15" stop-color="#3110da"/><stop offset="0.30" stop-color="#3110d8"/><stop offset="0.45" stop-color="#3110d7"/><stop offset="0.60" stop-color="#3110d5"/><stop offset="0.73" stop-color="#3010d2"/><stop offset="0.85" stop-color="#3010d0"/><stop offset="0.94" stop-color="#3010cd"/><stop offset="1.00" stop-color="#3010c8"/></linearGradient>
<linearGradient id="gc65" gradientUnits="userSpaceOnUse" x1="0" y1="227.7" x2="0" y2="247.9"><stop offset="0.00" stop-color="#3110d9"/><stop offset="0.15" stop-color="#3110d8"/><stop offset="0.30" stop-color="#3110d6"/><stop offset="0.45" stop-color="#3110d4"/><stop offset="0.60" stop-color="#3010d2"/><stop offset="0.73" stop-color="#3010d0"/><stop offset="0.85" stop-color="#3010ce"/><stop offset="0.94" stop-color="#3010cb"/><stop offset="1.00" stop-color="#3010c6"/></linearGradient>
<linearGradient id="gc66" gradientUnits="userSpaceOnUse" x1="0" y1="227.5" x2="0" y2="245.8"><stop offset="0.00" stop-color="#3110d7"/><stop offset="0.15" stop-color="#3110d5"/><stop offset="0.30" stop-color="#3110d4"/><stop offset="0.45" stop-color="#3010d2"/><stop offset="0.60" stop-color="#3010d0"/><stop offset="0.73" stop-color="#3010ce"/><stop offset="0.85" stop-color="#3010cc"/><stop offset="0.94" stop-color="#3010c9"/><stop offset="1.00" stop-color="#2f0fc4"/></linearGradient>
<linearGradient id="gc67" gradientUnits="userSpaceOnUse" x1="0" y1="227.3" x2="0" y2="244.0"><stop offset="0.00" stop-color="#3110d4"/><stop offset="0.15" stop-color="#3110d3"/><stop offset="0.30" stop-color="#3010d2"/><stop offset="0.45" stop-color="#3010d0"/><stop offset="0.60" stop-color="#3010ce"/><stop offset="0.73" stop-color="#3010cc"/><stop offset="0.85" stop-color="#3010ca"/><stop offset="0.94" stop-color="#3010c7"/><stop offset="1.00" stop-color="#2f0fc1"/></linearGradient>
<linearGradient id="gc68" gradientUnits="userSpaceOnUse" x1="0" y1="227.1" x2="0" y2="242.4"><stop offset="0.00" stop-color="#3010d2"/><stop offset="0.15" stop-color="#3010d1"/><stop offset="0.30" stop-color="#3010cf"/><stop offset="0.45" stop-color="#3010ce"/><stop offset="0.60" stop-color="#3010cc"/><stop offset="0.73" stop-color="#3010ca"/><stop offset="0.85" stop-color="#3010c8"/><stop offset="0.94" stop-color="#3010c5"/><stop offset="1.00" stop-color="#2f0fbf"/></linearGradient>
<linearGradient id="gc69" gradientUnits="userSpaceOnUse" x1="0" y1="227.0" x2="0" y2="240.8"><stop offset="0.00" stop-color="#3010cf"/><stop offset="0.15" stop-color="#3010ce"/><stop offset="0.30" stop-color="#3010cc"/><stop offset="0.45" stop-color="#3010cb"/><stop offset="0.60" stop-color="#3010c9"/><stop offset="0.73" stop-color="#3010c7"/><stop offset="0.85" stop-color="#3010c5"/><stop offset="0.94" stop-color="#2f0fc1"/><stop offset="1.00" stop-color="#2e0ebc"/></linearGradient>
<linearGradient id="gc70" gradientUnits="userSpaceOnUse" x1="0" y1="226.9" x2="0" y2="239.1"><stop offset="0.00" stop-color="#3010cc"/><stop offset="0.15" stop-color="#3010cb"/><stop offset="0.30" stop-color="#3010c9"/><stop offset="0.45" stop-color="#3010c8"/><stop offset="0.60" stop-color="#3010c6"/><stop offset="0.73" stop-color="#2f0fc3"/><stop offset="0.85" stop-color="#2f0fc1"/><stop offset="0.94" stop-color="#2f0fbe"/><stop offset="1.00" stop-color="#2e0eb9"/></linearGradient>
<linearGradient id="gc71" gradientUnits="userSpaceOnUse" x1="0" y1="226.8" x2="0" y2="237.5"><stop offset="0.00" stop-color="#3010c8"/><stop offset="0.15" stop-color="#3010c7"/><stop offset="0.30" stop-color="#3010c6"/><stop offset="0.45" stop-color="#2f0fc4"/><stop offset="0.60" stop-color="#2f0fc2"/><stop offset="0.73" stop-color="#2f0fbf"/><stop offset="0.85" stop-color="#2f0fbd"/><stop offset="0.94" stop-color="#2e0eba"/><stop offset="1.00" stop-color="#2e0eb5"/></linearGradient>
<linearGradient id="gc72" gradientUnits="userSpaceOnUse" x1="0" y1="226.7" x2="0" y2="236.0"><stop offset="0.00" stop-color="#2f0fc4"/><stop offset="0.15" stop-color="#2f0fc3"/><stop offset="0.30" stop-color="#2f0fc1"/><stop offset="0.45" stop-color="#2f0fbf"/><stop offset="0.60" stop-color="#2f0fbd"/><stop offset="0.73" stop-color="#2e0ebb"/><stop offset="0.85" stop-color="#2e0eb9"/><stop offset="0.94" stop-color="#2e0eb7"/><stop offset="1.00" stop-color="#2d0db2"/></linearGradient>
<linearGradient id="gc73" gradientUnits="userSpaceOnUse" x1="0" y1="226.7" x2="0" y2="234.4"><stop offset="0.00" stop-color="#2f0fbf"/><stop offset="0.15" stop-color="#2f0fbe"/><stop offset="0.30" stop-color="#2e0ebd"/><stop offset="0.45" stop-color="#2e0ebb"/><stop offset="0.60" stop-color="#2e0eb9"/><stop offset="0.73" stop-color="#2e0eb7"/><stop offset="0.85" stop-color="#2d0db5"/><stop offset="0.94" stop-color="#2d0db3"/><stop offset="1.00" stop-color="#2d0daf"/></linearGradient>
<linearGradient id="gc74" gradientUnits="userSpaceOnUse" x1="0" y1="226.6" x2="0" y2="232.8"><stop offset="0.00" stop-color="#2e0ebb"/><stop offset="0.15" stop-color="#2e0eb9"/><stop offset="0.30" stop-color="#2e0eb8"/><stop offset="0.45" stop-color="#2e0eb7"/><stop offset="0.60" stop-color="#2d0db5"/><stop offset="0.73" stop-color="#2d0db3"/><stop offset="0.85" stop-color="#2d0db1"/><stop offset="0.94" stop-color="#2d0daf"/><stop offset="1.00" stop-color="#2c0cac"/></linearGradient>
<linearGradient id="gc75" gradientUnits="userSpaceOnUse" x1="0" y1="226.5" x2="0" y2="231.2"><stop offset="0.00" stop-color="#2e0eb6"/><stop offset="0.15" stop-color="#2d0db5"/><stop offset="0.30" stop-color="#2d0db4"/><stop offset="0.45" stop-color="#2d0db2"/><stop offset="0.60" stop-color="#2d0db1"/><stop offset="0.73" stop-color="#2d0daf"/><stop offset="0.85" stop-color="#2c0cae"/><stop offset="0.94" stop-color="#2c0cac"/><stop offset="1.00" stop-color="#2c0ca8"/></linearGradient>
<linearGradient id="gc76" gradientUnits="userSpaceOnUse" x1="0" y1="225.7" x2="0" y2="229.6"><stop offset="0.00" stop-color="#2d0db1"/><stop offset="0.15" stop-color="#2d0db0"/><stop offset="0.30" stop-color="#2d0daf"/><stop offset="0.45" stop-color="#2d0dae"/><stop offset="0.60" stop-color="#2c0cad"/><stop offset="0.73" stop-color="#2c0cab"/><stop offset="0.85" stop-color="#2c0caa"/><stop offset="0.94" stop-color="#2c0ca8"/><stop offset="1.00" stop-color="#2b0ba5"/></linearGradient>
<linearGradient id="gc77" gradientUnits="userSpaceOnUse" x1="0" y1="221.0" x2="0" y2="223.0"><stop offset="0.00" stop-color="#2c0cac"/><stop offset="0.15" stop-color="#2c0cac"/><stop offset="0.30" stop-color="#2c0cab"/><stop offset="0.45" stop-color="#2c0caa"/><stop offset="0.60" stop-color="#2c0ca9"/><stop offset="0.73" stop-color="#2c0ca7"/><stop offset="0.85" stop-color="#2b0ba6"/><stop offset="0.94" stop-color="#2b0ba5"/><stop offset="1.00" stop-color="#2b0ba2"/></linearGradient>
<linearGradient id="gc78" gradientUnits="userSpaceOnUse" x1="0" y1="216.3" x2="0" y2="218.5"><stop offset="0.00" stop-color="#2c0ca8"/><stop offset="0.15" stop-color="#2c0ca7"/><stop offset="0.30" stop-color="#2b0ba6"/><stop offset="0.45" stop-color="#2b0ba5"/><stop offset="0.60" stop-color="#2b0ba4"/><stop offset="0.73" stop-color="#2b0ba3"/><stop offset="0.85" stop-color="#2b0ba2"/><stop offset="0.94" stop-color="#2b0ba1"/><stop offset="1.00" stop-color="#2b0b9f"/></linearGradient>
<linearGradient id="gc79" gradientUnits="userSpaceOnUse" x1="0" y1="216.1" x2="0" y2="218.3"><stop offset="0.00" stop-color="#2b0ba3"/><stop offset="0.15" stop-color="#2b0ba3"/><stop offset="0.30" stop-color="#2b0ba2"/><stop offset="0.45" stop-color="#2b0ba1"/><stop offset="0.60" stop-color="#2b0ba0"/><stop offset="0.73" stop-color="#2b0ba0"/><stop offset="0.85" stop-color="#2a0a9f"/><stop offset="0.94" stop-color="#2a0a9e"/><stop offset="1.00" stop-color="#2a0a9c"/></linearGradient>
<clipPath id="cp_d"><path d="M274.6,216.5 L289.1,218.0 L304.4,220.3 L317.8,223.7 L333.1,226.4 L346.4,227.0 L359.8,226.4 L374.1,222.6 L393.2,219.9 L412.3,218.4 L430.5,217.4 L434.9,214.2 L431.1,228.3 L420.6,236.5 L411.2,243.9 L401.9,253.5 L392.5,263.1 L386.5,271.3 L379.3,280.9 L373.2,292.7 L367.7,305.3 L362.2,316.4 L357.2,321.6 L351.7,324.5 L343.5,324.9 L334.7,321.6 L326.9,312.7 L320.3,299.4 L314.8,283.1 L309.3,264.6 L304.9,254.2 L298.3,243.9 L290.0,238.7 L281.8,228.3 L274.6,218.0Z"/></clipPath>
<linearGradient id="gd0" gradientUnits="userSpaceOnUse" x1="0" y1="216.6" x2="0" y2="218.7"><stop offset="0.00" stop-color="#290990"/><stop offset="0.15" stop-color="#290990"/><stop offset="0.30" stop-color="#280890"/><stop offset="0.45" stop-color="#28088f"/><stop offset="0.60" stop-color="#28088f"/><stop offset="0.73" stop-color="#28088f"/><stop offset="0.85" stop-color="#28088f"/><stop offset="0.94" stop-color="#28088f"/><stop offset="1.00" stop-color="#28088f"/></linearGradient>
<linearGradient id="gd1" gradientUnits="userSpaceOnUse" x1="0" y1="216.8" x2="0" y2="221.6"><stop offset="0.00" stop-color="#2b0ba1"/><stop offset="0.15" stop-color="#2b0ba0"/><stop offset="0.30" stop-color="#2a0a9f"/><stop offset="0.45" stop-color="#2a0a9d"/><stop offset="0.60" stop-color="#2a0a9c"/><stop offset="0.73" stop-color="#2a0a9b"/><stop offset="0.85" stop-color="#2a0a9a"/><stop offset="0.94" stop-color="#2a0a99"/><stop offset="1.00" stop-color="#2a0a99"/></linearGradient>
<linearGradient id="gd2" gradientUnits="userSpaceOnUse" x1="0" y1="217.0" x2="0" y2="224.5"><stop offset="0.00" stop-color="#2d0db2"/><stop offset="0.15" stop-color="#2d0db0"/><stop offset="0.30" stop-color="#2c0cad"/><stop offset="0.45" stop-color="#2c0cab"/><stop offset="0.60" stop-color="#2c0ca9"/><stop offset="0.73" stop-color="#2c0ca7"/><stop offset="0.85" stop-color="#2b0ba5"/><stop offset="0.94" stop-color="#2b0ba4"/><stop offset="1.00" stop-color="#2b0ba3"/></linearGradient>
<linearGradient id="gd3" gradientUnits="userSpaceOnUse" x1="0" y1="217.2" x2="0" y2="227.4"><stop offset="0.00" stop-color="#2f0fc2"/><stop offset="0.15" stop-color="#2f0fbf"/><stop offset="0.30" stop-color="#2e0ebc"/><stop offset="0.45" stop-color="#2e0eb9"/><stop offset="0.60" stop-color="#2e0eb6"/><stop offset="0.73" stop-color="#2d0db3"/><stop offset="0.85" stop-color="#2d0db1"/><stop offset="0.94" stop-color="#2d0daf"/><stop offset="1.00" stop-color="#2c0cae"/></linearGradient>
<linearGradient id="gd4" gradientUnits="userSpaceOnUse" x1="0" y1="217.4" x2="0" y2="230.0"><stop offset="0.00" stop-color="#3010d0"/><stop offset="0.15" stop-color="#3010cd"/><stop offset="0.30" stop-color="#3010ca"/><stop offset="0.45" stop-color="#3010c7"/><stop offset="0.60" stop-color="#2f0fc3"/><stop offset="0.73" stop-color="#2f0fbf"/><stop offset="0.85" stop-color="#2e0ebc"/><stop offset="0.94" stop-color="#2e0eb9"/><stop offset="1.00" stop-color="#2e0eb8"/></linearGradient>
<linearGradient id="gd5" gradientUnits="userSpaceOnUse" x1="0" y1="217.6" x2="0" y2="232.5"><stop offset="0.00" stop-color="#3110db"/><stop offset="0.15" stop-color="#3110d8"/><stop offset="0.30" stop-color="#3110d4"/><stop offset="0.45" stop-color="#3010d1"/><stop offset="0.60" stop-color="#3010cd"/><stop offset="0.73" stop-color="#3010ca"/><stop offset="0.85" stop-color="#3010c7"/><stop offset="0.94" stop-color="#2f0fc4"/><stop offset="1.00" stop-color="#2f0fc2"/></linearGradient>
<linearGradient id="gd6" gradientUnits="userSpaceOnUse" x1="0" y1="217.8" x2="0" y2="235.0"><stop offset="0.00" stop-color="#3110e7"/><stop offset="0.15" stop-color="#3110e3"/><stop offset="0.30" stop-color="#3110df"/><stop offset="0.45" stop-color="#3110da"/><stop offset="0.60" stop-color="#3110d6"/><stop offset="0.73" stop-color="#3010d3"/><stop offset="0.85" stop-color="#3010cf"/><stop offset="0.94" stop-color="#3010cd"/><stop offset="1.00" stop-color="#3010cb"/></linearGradient>
<linearGradient id="gd7" gradientUnits="userSpaceOnUse" x1="0" y1="218.0" x2="0" y2="237.5"><stop offset="0.00" stop-color="#3210f2"/><stop offset="0.15" stop-color="#3210ed"/><stop offset="0.30" stop-color="#3110e8"/><stop offset="0.45" stop-color="#3110e3"/><stop offset="0.60" stop-color="#3110df"/><stop offset="0.73" stop-color="#3110db"/><stop offset="0.85" stop-color="#3110d7"/><stop offset="0.94" stop-color="#3110d4"/><stop offset="1.00" stop-color="#3010d2"/></linearGradient>
<linearGradient id="gd8" gradientUnits="userSpaceOnUse" x1="0" y1="218.3" x2="0" y2="239.4"><stop offset="0.00" stop-color="#2f16f4"/><stop offset="0.15" stop-color="#3210f0"/><stop offset="0.30" stop-color="#3210eb"/><stop offset="0.45" stop-color="#3110e6"/><stop offset="0.60" stop-color="#3110e1"/><stop offset="0.73" stop-color="#3110dd"/><stop offset="0.85" stop-color="#3110d9"/><stop offset="0.94" stop-color="#3110d6"/><stop offset="1.00" stop-color="#3110d4"/></linearGradient>
<linearGradient id="gd9" gradientUnits="userSpaceOnUse" x1="0" y1="218.6" x2="0" y2="240.6"><stop offset="0.00" stop-color="#2038f4"/><stop offset="0.15" stop-color="#3210f2"/><stop offset="0.30" stop-color="#3210ed"/><stop offset="0.45" stop-color="#3110e8"/><stop offset="0.60" stop-color="#3110e3"/><stop offset="0.73" stop-color="#3110df"/><stop offset="0.85" stop-color="#3110da"/><stop offset="0.94" stop-color="#3110d7"/><stop offset="1.00" stop-color="#3110d5"/></linearGradient>
<linearGradient id="gd10" gradientUnits="userSpaceOnUse" x1="0" y1="218.9" x2="0" y2="241.9"><stop offset="0.00" stop-color="#1e3ff4"/><stop offset="0.15" stop-color="#2e19f4"/><stop offset="0.30" stop-color="#3210f0"/><stop offset="0.45" stop-color="#3210ea"/><stop offset="0.60" stop-color="#3110e5"/><stop offset="0.73" stop-color="#3110e0"/><stop offset="0.85" stop-color="#3110dc"/><stop offset="0.94" stop-color="#3110d9"/><stop offset="1.00" stop-color="#3110d7"/></linearGradient>
<linearGradient id="gd11" gradientUnits="userSpaceOnUse" x1="0" y1="219.2" x2="0" y2="243.1"><stop offset="0.00" stop-color="#1c45f5"/><stop offset="0.15" stop-color="#2038f4"/><stop offset="0.30" stop-color="#3210f2"/><stop offset="0.45" stop-color="#3210ed"/><stop offset="0.60" stop-color="#3110e7"/><stop offset="0.73" stop-color="#3110e2"/><stop offset="0.85" stop-color="#3110de"/><stop offset="0.94" stop-color="#3110db"/><stop offset="1.00" stop-color="#3110d9"/></linearGradient>
<linearGradient id="gd12" gradientUnits="userSpaceOnUse" x1="0" y1="219.5" x2="0" y2="245.1"><stop offset="0.00" stop-color="#1a4cf5"/><stop offset="0.15" stop-color="#1e3ff4"/><stop offset="0.30" stop-color="#3015f4"/><stop offset="0.45" stop-color="#3210ef"/><stop offset="0.60" stop-color="#3210e9"/><stop offset="0.73" stop-color="#3110e4"/><stop offset="0.85" stop-color="#3110e0"/><stop offset="0.94" stop-color="#3110dd"/><stop offset="1.00" stop-color="#3110da"/></linearGradient>
<linearGradient id="gd13" gradientUnits="userSpaceOnUse" x1="0" y1="219.8" x2="0" y2="248.3"><stop offset="0.00" stop-color="#1855f6"/><stop offset="0.15" stop-color="#1c47f5"/><stop offset="0.30" stop-color="#2039f4"/><stop offset="0.45" stop-color="#3210f2"/><stop offset="0.60" stop-color="#3210ec"/><stop offset="0.73" stop-color="#3110e7"/><stop offset="0.85" stop-color="#3110e2"/><stop offset="0.94" stop-color="#3110df"/><stop offset="1.00" stop-color="#3110dc"/></linearGradient>
<linearGradient id="gd14" gradientUnits="userSpaceOnUse" x1="0" y1="220.1" x2="0" y2="251.4"><stop offset="0.00" stop-color="#1463f7"/><stop offset="0.15" stop-color="#1854f6"/><stop offset="0.30" stop-color="#1c45f5"/><stop offset="0.45" stop-color="#2430f4"/><stop offset="0.60" stop-color="#3210f0"/><stop offset="0.73" stop-color="#3210eb"/><stop offset="0.85" stop-color="#3110e6"/><stop offset="0.94" stop-color="#3110e2"/><stop offset="1.00" stop-color="#3110e0"/></linearGradient>
<linearGradient id="gd15" gradientUnits="userSpaceOnUse" x1="0" y1="220.5" x2="0" y2="254.7"><stop offset="0.00" stop-color="#1071f8"/><stop offset="0.15" stop-color="#1462f7"/><stop offset="0.30" stop-color="#1952f6"/><stop offset="0.45" stop-color="#1d42f5"/><stop offset="0.60" stop-color="#2e19f4"/><stop offset="0.73" stop-color="#3210ef"/><stop offset="0.85" stop-color="#3210ea"/><stop offset="0.94" stop-color="#3110e6"/><stop offset="1.00" stop-color="#3110e3"/></linearGradient>
<linearGradient id="gd16" gradientUnits="userSpaceOnUse" x1="0" y1="221.0" x2="0" y2="259.4"><stop offset="0.00" stop-color="#107cf8"/><stop offset="0.15" stop-color="#106ff8"/><stop offset="0.30" stop-color="#155ef7"/><stop offset="0.45" stop-color="#1a4ef6"/><stop offset="0.60" stop-color="#1f3df4"/><stop offset="0.73" stop-color="#3210f3"/><stop offset="0.85" stop-color="#3210ee"/><stop offset="0.94" stop-color="#3210e9"/><stop offset="1.00" stop-color="#3110e7"/></linearGradient>
<linearGradient id="gd17" gradientUnits="userSpaceOnUse" x1="0" y1="221.5" x2="0" y2="264.1"><stop offset="0.00" stop-color="#1085f8"/><stop offset="0.15" stop-color="#1078f8"/><stop offset="0.30" stop-color="#1269f7"/><stop offset="0.45" stop-color="#1758f6"/><stop offset="0.60" stop-color="#1c46f5"/><stop offset="0.73" stop-color="#2232f4"/><stop offset="0.85" stop-color="#3210f1"/><stop offset="0.94" stop-color="#3210ed"/><stop offset="1.00" stop-color="#3210ea"/></linearGradient>
<linearGradient id="gd18" gradientUnits="userSpaceOnUse" x1="0" y1="222.0" x2="0" y2="270.6"><stop offset="0.00" stop-color="#108bf8"/><stop offset="0.15" stop-color="#107ef8"/><stop offset="0.30" stop-color="#1071f8"/><stop offset="0.45" stop-color="#155ff7"/><stop offset="0.60" stop-color="#1a4df5"/><stop offset="0.73" stop-color="#1f3df4"/><stop offset="0.85" stop-color="#3210f3"/><stop offset="0.94" stop-color="#3210ef"/><stop offset="1.00" stop-color="#3210ec"/></linearGradient>
<linearGradient id="gd19" gradientUnits="userSpaceOnUse" x1="0" y1="222.5" x2="0" y2="277.3"><stop offset="0.00" stop-color="#1092f8"/><stop offset="0.15" stop-color="#1085f8"/><stop offset="0.30" stop-color="#1077f8"/><stop offset="0.45" stop-color="#1366f7"/><stop offset="0.60" stop-color="#1853f6"/><stop offset="0.73" stop-color="#1d43f5"/><stop offset="0.85" stop-color="#2924f4"/><stop offset="0.94" stop-color="#3210f1"/><stop offset="1.00" stop-color="#3210ee"/></linearGradient>
<linearGradient id="gd20" gradientUnits="userSpaceOnUse" x1="0" y1="223.0" x2="0" y2="283.9"><stop offset="0.00" stop-color="#1099f8"/><stop offset="0.15" stop-color="#108bf8"/><stop offset="0.30" stop-color="#107df8"/><stop offset="0.45" stop-color="#116ef8"/><stop offset="0.60" stop-color="#165af6"/><stop offset="0.73" stop-color="#1b49f5"/><stop offset="0.85" stop-color="#203af4"/><stop offset="0.94" stop-color="#3210f3"/><stop offset="1.00" stop-color="#3210f0"/></linearGradient>
<linearGradient id="gd21" gradientUnits="userSpaceOnUse" x1="0" y1="223.5" x2="0" y2="289.8"><stop offset="0.00" stop-color="#10a0f8"/><stop offset="0.15" stop-color="#1091f8"/><stop offset="0.30" stop-color="#1083f8"/><stop offset="0.45" stop-color="#1074f8"/><stop offset="0.60" stop-color="#1461f7"/><stop offset="0.73" stop-color="#194ff6"/><stop offset="0.85" stop-color="#1e3ff5"/><stop offset="0.94" stop-color="#2c1ef4"/><stop offset="1.00" stop-color="#3210f2"/></linearGradient>
<linearGradient id="gd22" gradientUnits="userSpaceOnUse" x1="0" y1="223.9" x2="0" y2="295.7"><stop offset="0.00" stop-color="#10a7f8"/><stop offset="0.15" stop-color="#1098f8"/><stop offset="0.30" stop-color="#1089f8"/><stop offset="0.45" stop-color="#1079f8"/><stop offset="0.60" stop-color="#1267f7"/><stop offset="0.73" stop-color="#1855f6"/><stop offset="0.85" stop-color="#1c45f5"/><stop offset="0.94" stop-color="#2038f4"/><stop offset="1.00" stop-color="#3210f4"/></linearGradient>
<linearGradient id="gd23" gradientUnits="userSpaceOnUse" x1="0" y1="224.3" x2="0" y2="300.9"><stop offset="0.00" stop-color="#10aef8"/><stop offset="0.15" stop-color="#109ef8"/><stop offset="0.30" stop-color="#108ff8"/><stop offset="0.45" stop-color="#107ff8"/><stop offset="0.60" stop-color="#116ef8"/><stop offset="0.73" stop-color="#165bf7"/><stop offset="0.85" stop-color="#1b4af5"/><stop offset="0.94" stop-color="#1f3df4"/><stop offset="1.00" stop-color="#2825f4"/></linearGradient>
<linearGradient id="gd24" gradientUnits="userSpaceOnUse" x1="0" y1="224.6" x2="0" y2="305.0"><stop offset="0.00" stop-color="#10b5f8"/><stop offset="0.15" stop-color="#10a5f8"/><stop offset="0.30" stop-color="#1095f8"/><stop offset="0.45" stop-color="#1084f8"/><stop offset="0.60" stop-color="#1074f8"/><stop offset="0.73" stop-color="#1461f7"/><stop offset="0.85" stop-color="#1950f6"/><stop offset="0.94" stop-color="#1d42f5"/><stop offset="1.00" stop-color="#2039f4"/></linearGradient>
<linearGradient id="gd25" gradientUnits="userSpaceOnUse" x1="0" y1="225.0" x2="0" y2="309.0"><stop offset="0.00" stop-color="#10bcf8"/><stop offset="0.15" stop-color="#10acf8"/><stop offset="0.30" stop-color="#109bf8"/><stop offset="0.45" stop-color="#108af8"/><stop offset="0.60" stop-color="#1079f8"/><stop offset="0.73" stop-color="#1268f7"/><stop offset="0.85" stop-color="#1855f6"/><stop offset="0.94" stop-color="#1c47f5"/><stop offset="1.00" stop-color="#1e3ef4"/></linearGradient>
<linearGradient id="gd26" gradientUnits="userSpaceOnUse" x1="0" y1="225.3" x2="0" y2="312.9"><stop offset="0.00" stop-color="#10c4f8"/><stop offset="0.15" stop-color="#10b3f8"/><stop offset="0.30" stop-color="#10a2f8"/><stop offset="0.45" stop-color="#1091f8"/><stop offset="0.60" stop-color="#107ff8"/><stop offset="0.73" stop-color="#106ff8"/><stop offset="0.85" stop-color="#165bf7"/><stop offset="0.94" stop-color="#1a4df5"/><stop offset="1.00" stop-color="#1d43f5"/></linearGradient>
<linearGradient id="gd27" gradientUnits="userSpaceOnUse" x1="0" y1="225.7" x2="0" y2="315.2"><stop offset="0.00" stop-color="#10ccf9"/><stop offset="0.15" stop-color="#10bbf8"/><stop offset="0.30" stop-color="#10a9f8"/><stop offset="0.45" stop-color="#1097f8"/><stop offset="0.60" stop-color="#1085f8"/><stop offset="0.73" stop-color="#1075f8"/><stop offset="0.85" stop-color="#1462f7"/><stop offset="0.94" stop-color="#1853f6"/><stop offset="1.00" stop-color="#1b49f5"/></linearGradient>
<linearGradient id="gd28" gradientUnits="userSpaceOnUse" x1="0" y1="226.1" x2="0" y2="317.5"><stop offset="0.00" stop-color="#10d3fa"/><stop offset="0.15" stop-color="#10c2f8"/><stop offset="0.30" stop-color="#10b0f8"/><stop offset="0.45" stop-color="#109ef8"/><stop offset="0.60" stop-color="#108bf8"/><stop offset="0.73" stop-color="#107af8"/><stop offset="0.85" stop-color="#1269f7"/><stop offset="0.94" stop-color="#165af6"/><stop offset="1.00" stop-color="#1950f6"/></linearGradient>
<linearGradient id="gd29" gradientUnits="userSpaceOnUse" x1="0" y1="226.4" x2="0" y2="319.8"><stop offset="0.00" stop-color="#10d9fa"/><stop offset="0.15" stop-color="#10caf8"/><stop offset="0.30" stop-color="#10b7f8"/><stop offset="0.45" stop-color="#10a4f8"/><stop offset="0.60" stop-color="#1091f8"/><stop offset="0.73" stop-color="#1080f8"/><stop offset="0.85" stop-color="#1070f8"/><stop offset="0.94" stop-color="#1560f7"/><stop offset="1.00" stop-color="#1757f6"/></linearGradient>
<linearGradient id="gd30" gradientUnits="userSpaceOnUse" x1="0" y1="226.5" x2="0" y2="321.7"><stop offset="0.00" stop-color="#10dffb"/><stop offset="0.15" stop-color="#10cff9"/><stop offset="0.30" stop-color="#10bdf8"/><stop offset="0.45" stop-color="#10aaf8"/><stop offset="0.60" stop-color="#1096f8"/><stop offset="0.73" stop-color="#1085f8"/><stop offset="0.85" stop-color="#1075f8"/><stop offset="0.94" stop-color="#1367f7"/><stop offset="1.00" stop-color="#155df7"/></linearGradient>
<linearGradient id="gd31" gradientUnits="userSpaceOnUse" x1="0" y1="226.6" x2="0" y2="322.5"><stop offset="0.00" stop-color="#10e4fa"/><stop offset="0.15" stop-color="#10d5fa"/><stop offset="0.30" stop-color="#10c4f8"/><stop offset="0.45" stop-color="#10b0f8"/><stop offset="0.60" stop-color="#109cf8"/><stop offset="0.73" stop-color="#108af8"/><stop offset="0.85" stop-color="#107af8"/><stop offset="0.94" stop-color="#116df8"/><stop offset="1.00" stop-color="#1463f7"/></linearGradient>
<linearGradient id="gd32" gradientUnits="userSpaceOnUse" x1="0" y1="226.7" x2="0" y2="323.3"><stop offset="0.00" stop-color="#10e4f3"/><stop offset="0.15" stop-color="#10dbfb"/><stop offset="0.30" stop-color="#10caf8"/><stop offset="0.45" stop-color="#10b6f8"/><stop offset="0.60" stop-color="#10a1f8"/><stop offset="0.73" stop-color="#108ff8"/><stop offset="0.85" stop-color="#107ef8"/><stop offset="0.94" stop-color="#1072f8"/><stop offset="1.00" stop-color="#1269f8"/></linearGradient>
<linearGradient id="gd33" gradientUnits="userSpaceOnUse" x1="0" y1="226.8" x2="0" y2="324.0"><stop offset="0.00" stop-color="#10e5ec"/><stop offset="0.15" stop-color="#10e0fb"/><stop offset="0.30" stop-color="#10cff9"/><stop offset="0.45" stop-color="#10bcf8"/><stop offset="0.60" stop-color="#10a6f8"/><stop offset="0.73" stop-color="#1094f8"/><stop offset="0.85" stop-color="#1083f8"/><stop offset="0.94" stop-color="#1077f8"/><stop offset="1.00" stop-color="#106ff8"/></linearGradient>
<linearGradient id="gd34" gradientUnits="userSpaceOnUse" x1="0" y1="226.9" x2="0" y2="324.8"><stop offset="0.00" stop-color="#10e5ea"/><stop offset="0.15" stop-color="#10e2fc"/><stop offset="0.30" stop-color="#10d1f9"/><stop offset="0.45" stop-color="#10bef8"/><stop offset="0.60" stop-color="#10aaf8"/><stop offset="0.73" stop-color="#1099f8"/><stop offset="0.85" stop-color="#1088f8"/><stop offset="0.94" stop-color="#107bf8"/><stop offset="1.00" stop-color="#1074f8"/></linearGradient>
<linearGradient id="gd35" gradientUnits="userSpaceOnUse" x1="0" y1="227.0" x2="0" y2="324.8"><stop offset="0.00" stop-color="#10e5e8"/><stop offset="0.15" stop-color="#10e4fc"/><stop offset="0.30" stop-color="#10d2f9"/><stop offset="0.45" stop-color="#10c0f8"/><stop offset="0.60" stop-color="#10acf8"/><stop offset="0.73" stop-color="#109af8"/><stop offset="0.85" stop-color="#108af8"/><stop offset="0.94" stop-color="#107ef8"/><stop offset="1.00" stop-color="#1076f8"/></linearGradient>
<linearGradient id="gd36" gradientUnits="userSpaceOnUse" x1="0" y1="227.0" x2="0" y2="324.7"><stop offset="0.00" stop-color="#10e5e6"/><stop offset="0.15" stop-color="#10e4fa"/><stop offset="0.30" stop-color="#10d4fa"/><stop offset="0.45" stop-color="#10c2f8"/><stop offset="0.60" stop-color="#10adf8"/><stop offset="0.73" stop-color="#109cf8"/><stop offset="0.85" stop-color="#108cf8"/><stop offset="0.94" stop-color="#107ff8"/><stop offset="1.00" stop-color="#1078f8"/></linearGradient>
<linearGradient id="gd37" gradientUnits="userSpaceOnUse" x1="0" y1="226.9" x2="0" y2="324.7"><stop offset="0.00" stop-color="#10e5e4"/><stop offset="0.15" stop-color="#10e4f8"/><stop offset="0.30" stop-color="#10d6fa"/><stop offset="0.45" stop-color="#10c3f8"/><stop offset="0.60" stop-color="#10aff8"/><stop offset="0.73" stop-color="#109df8"/><stop offset="0.85" stop-color="#108df8"/><stop offset="0.94" stop-color="#1081f8"/><stop offset="1.00" stop-color="#1079f8"/></linearGradient>
<linearGradient id="gd38" gradientUnits="userSpaceOnUse" x1="0" y1="226.8" x2="0" y2="324.6"><stop offset="0.00" stop-color="#10e5e1"/><stop offset="0.15" stop-color="#10e4f6"/><stop offset="0.30" stop-color="#10d7fa"/><stop offset="0.45" stop-color="#10c5f8"/><stop offset="0.60" stop-color="#10b1f8"/><stop offset="0.73" stop-color="#109ff8"/><stop offset="0.85" stop-color="#108ef8"/><stop offset="0.94" stop-color="#1082f8"/><stop offset="1.00" stop-color="#107af8"/></linearGradient>
<linearGradient id="gd39" gradientUnits="userSpaceOnUse" x1="0" y1="226.7" x2="0" y2="323.8"><stop offset="0.00" stop-color="#10e5e1"/><stop offset="0.15" stop-color="#10e4f5"/><stop offset="0.30" stop-color="#10d8fa"/><stop offset="0.45" stop-color="#10c6f8"/><stop offset="0.60" stop-color="#10b2f8"/><stop offset="0.73" stop-color="#10a0f8"/><stop offset="0.85" stop-color="#1090f8"/><stop offset="0.94" stop-color="#1084f8"/><stop offset="1.00" stop-color="#107cf8"/></linearGradient>
<linearGradient id="gd40" gradientUnits="userSpaceOnUse" x1="0" y1="226.6" x2="0" y2="322.7"><stop offset="0.00" stop-color="#10e5e1"/><stop offset="0.15" stop-color="#10e4f5"/><stop offset="0.30" stop-color="#10d8fa"/><stop offset="0.45" stop-color="#10c6f8"/><stop offset="0.60" stop-color="#10b2f8"/><stop offset="0.73" stop-color="#10a1f8"/><stop offset="0.85" stop-color="#1091f8"/><stop offset="0.94" stop-color="#1085f8"/><stop offset="1.00" stop-color="#107df8"/></linearGradient>
<linearGradient id="gd41" gradientUnits="userSpaceOnUse" x1="0" y1="226.5" x2="0" y2="321.7"><stop offset="0.00" stop-color="#10e5e1"/><stop offset="0.15" stop-color="#10e4f5"/><stop offset="0.30" stop-color="#10d8fa"/><stop offset="0.45" stop-color="#10c6f8"/><stop offset="0.60" stop-color="#10b2f8"/><stop offset="0.73" stop-color="#10a1f8"/><stop offset="0.85" stop-color="#1091f8"/><stop offset="0.94" stop-color="#1085f8"/><stop offset="1.00" stop-color="#107df8"/></linearGradient>
<linearGradient id="gd42" gradientUnits="userSpaceOnUse" x1="0" y1="226.4" x2="0" y2="319.6"><stop offset="0.00" stop-color="#10e5e1"/><stop offset="0.15" stop-color="#10e4f5"/><stop offset="0.30" stop-color="#10d8fa"/><stop offset="0.45" stop-color="#10c6f8"/><stop offset="0.60" stop-color="#10b2f8"/><stop offset="0.73" stop-color="#10a1f8"/><stop offset="0.85" stop-color="#1091f8"/><stop offset="0.94" stop-color="#1085f8"/><stop offset="1.00" stop-color="#107df8"/></linearGradient>
<linearGradient id="gd43" gradientUnits="userSpaceOnUse" x1="0" y1="226.1" x2="0" y2="317.6"><stop offset="0.00" stop-color="#10e5e1"/><stop offset="0.15" stop-color="#10e4f5"/><stop offset="0.30" stop-color="#10d8fa"/><stop offset="0.45" stop-color="#10c6f8"/><stop offset="0.60" stop-color="#10b2f8"/><stop offset="0.73" stop-color="#10a1f8"/><stop offset="0.85" stop-color="#1091f8"/><stop offset="0.94" stop-color="#1085f8"/><stop offset="1.00" stop-color="#107df8"/></linearGradient>
<linearGradient id="gd44" gradientUnits="userSpaceOnUse" x1="0" y1="225.5" x2="0" y2="314.6"><stop offset="0.00" stop-color="#10e5e1"/><stop offset="0.15" stop-color="#10e4f5"/><stop offset="0.30" stop-color="#10d8fa"/><stop offset="0.45" stop-color="#10c6f8"/><stop offset="0.60" stop-color="#10b2f8"/><stop offset="0.73" stop-color="#10a1f8"/><stop offset="0.85" stop-color="#1091f8"/><stop offset="0.94" stop-color="#1085f8"/><stop offset="1.00" stop-color="#107df8"/></linearGradient>
<linearGradient id="gd45" gradientUnits="userSpaceOnUse" x1="0" y1="225.0" x2="0" y2="310.6"><stop offset="0.00" stop-color="#10e5e1"/><stop offset="0.15" stop-color="#10e4f5"/><stop offset="0.30" stop-color="#10d8fa"/><stop offset="0.45" stop-color="#10c6f8"/><stop offset="0.60" stop-color="#10b2f8"/><stop offset="0.73" stop-color="#10a1f8"/><stop offset="0.85" stop-color="#1091f8"/><stop offset="0.94" stop-color="#1085f8"/><stop offset="1.00" stop-color="#107df8"/></linearGradient>
<linearGradient id="gd46" gradientUnits="userSpaceOnUse" x1="0" y1="224.5" x2="0" y2="306.5"><stop offset="0.00" stop-color="#10e5e4"/><stop offset="0.15" stop-color="#10e4f9"/><stop offset="0.30" stop-color="#10d6fa"/><stop offset="0.45" stop-color="#10c5f8"/><stop offset="0.60" stop-color="#10b1f8"/><stop offset="0.73" stop-color="#10a1f8"/><stop offset="0.85" stop-color="#1091f8"/><stop offset="0.94" stop-color="#1085f8"/><stop offset="1.00" stop-color="#107df8"/></linearGradient>
<linearGradient id="gd47" gradientUnits="userSpaceOnUse" x1="0" y1="223.9" x2="0" y2="302.1"><stop offset="0.00" stop-color="#10e5e9"/><stop offset="0.15" stop-color="#10e3fc"/><stop offset="0.30" stop-color="#10d3fa"/><stop offset="0.45" stop-color="#10c1f8"/><stop offset="0.60" stop-color="#10aef8"/><stop offset="0.73" stop-color="#109ef8"/><stop offset="0.85" stop-color="#108ef8"/><stop offset="0.94" stop-color="#1083f8"/><stop offset="1.00" stop-color="#107cf8"/></linearGradient>
<linearGradient id="gd48" gradientUnits="userSpaceOnUse" x1="0" y1="223.4" x2="0" y2="297.6"><stop offset="0.00" stop-color="#10e5ed"/><stop offset="0.15" stop-color="#10e0fb"/><stop offset="0.30" stop-color="#10cff9"/><stop offset="0.45" stop-color="#10bdf8"/><stop offset="0.60" stop-color="#10abf8"/><stop offset="0.73" stop-color="#109af8"/><stop offset="0.85" stop-color="#108bf8"/><stop offset="0.94" stop-color="#1080f8"/><stop offset="1.00" stop-color="#1079f8"/></linearGradient>
<linearGradient id="gd49" gradientUnits="userSpaceOnUse" x1="0" y1="222.8" x2="0" y2="293.0"><stop offset="0.00" stop-color="#10e5f1"/><stop offset="0.15" stop-color="#10dcfb"/><stop offset="0.30" stop-color="#10ccf9"/><stop offset="0.45" stop-color="#10baf8"/><stop offset="0.60" stop-color="#10a7f8"/><stop offset="0.73" stop-color="#1097f8"/><stop offset="0.85" stop-color="#1088f8"/><stop offset="0.94" stop-color="#107df8"/><stop offset="1.00" stop-color="#1076f8"/></linearGradient>
<linearGradient id="gd50" gradientUnits="userSpaceOnUse" x1="0" y1="222.4" x2="0" y2="289.1"><stop offset="0.00" stop-color="#10e4f6"/><stop offset="0.15" stop-color="#10d9fa"/><stop offset="0.30" stop-color="#10c9f8"/><stop offset="0.45" stop-color="#10b6f8"/><stop offset="0.60" stop-color="#10a4f8"/><stop offset="0.73" stop-color="#1094f8"/><stop offset="0.85" stop-color="#1085f8"/><stop offset="0.94" stop-color="#107af8"/><stop offset="1.00" stop-color="#1073f8"/></linearGradient>
<linearGradient id="gd51" gradientUnits="userSpaceOnUse" x1="0" y1="222.2" x2="0" y2="285.2"><stop offset="0.00" stop-color="#10e4fb"/><stop offset="0.15" stop-color="#10d5fa"/><stop offset="0.30" stop-color="#10c5f8"/><stop offset="0.45" stop-color="#10b2f8"/><stop offset="0.60" stop-color="#10a0f8"/><stop offset="0.73" stop-color="#1091f8"/><stop offset="0.85" stop-color="#1082f8"/><stop offset="0.94" stop-color="#1077f8"/><stop offset="1.00" stop-color="#1070f8"/></linearGradient>
<linearGradient id="gd52" gradientUnits="userSpaceOnUse" x1="0" y1="221.9" x2="0" y2="281.3"><stop offset="0.00" stop-color="#10dffb"/><stop offset="0.15" stop-color="#10d0f9"/><stop offset="0.30" stop-color="#10bff8"/><stop offset="0.45" stop-color="#10adf8"/><stop offset="0.60" stop-color="#109bf8"/><stop offset="0.73" stop-color="#108cf8"/><stop offset="0.85" stop-color="#107ef8"/><stop offset="0.94" stop-color="#1073f8"/><stop offset="1.00" stop-color="#116bf8"/></linearGradient>
<linearGradient id="gd53" gradientUnits="userSpaceOnUse" x1="0" y1="221.6" x2="0" y2="278.4"><stop offset="0.00" stop-color="#10dafb"/><stop offset="0.15" stop-color="#10caf8"/><stop offset="0.30" stop-color="#10b9f8"/><stop offset="0.45" stop-color="#10a8f8"/><stop offset="0.60" stop-color="#1096f8"/><stop offset="0.73" stop-color="#1087f8"/><stop offset="0.85" stop-color="#1079f8"/><stop offset="0.94" stop-color="#106ff8"/><stop offset="1.00" stop-color="#1365f7"/></linearGradient>
<linearGradient id="gd54" gradientUnits="userSpaceOnUse" x1="0" y1="221.3" x2="0" y2="275.8"><stop offset="0.00" stop-color="#10d4fa"/><stop offset="0.15" stop-color="#10c5f8"/><stop offset="0.30" stop-color="#10b3f8"/><stop offset="0.45" stop-color="#10a2f8"/><stop offset="0.60" stop-color="#1091f8"/><stop offset="0.73" stop-color="#1082f8"/><stop offset="0.85" stop-color="#1075f8"/><stop offset="0.94" stop-color="#1269f7"/><stop offset="1.00" stop-color="#1560f7"/></linearGradient>
<linearGradient id="gd55" gradientUnits="userSpaceOnUse" x1="0" y1="221.0" x2="0" y2="273.1"><stop offset="0.00" stop-color="#10cff9"/><stop offset="0.15" stop-color="#10bff8"/><stop offset="0.30" stop-color="#10aef8"/><stop offset="0.45" stop-color="#109df8"/><stop offset="0.60" stop-color="#108cf8"/><stop offset="0.73" stop-color="#107ef8"/><stop offset="0.85" stop-color="#1070f8"/><stop offset="0.94" stop-color="#1463f7"/><stop offset="1.00" stop-color="#165af6"/></linearGradient>
<linearGradient id="gd56" gradientUnits="userSpaceOnUse" x1="0" y1="220.8" x2="0" y2="270.4"><stop offset="0.00" stop-color="#10c9f8"/><stop offset="0.15" stop-color="#10b9f8"/><stop offset="0.30" stop-color="#10a8f8"/><stop offset="0.45" stop-color="#1098f8"/><stop offset="0.60" stop-color="#1087f8"/><stop offset="0.73" stop-color="#1079f8"/><stop offset="0.85" stop-color="#126af8"/><stop offset="0.94" stop-color="#155df7"/><stop offset="1.00" stop-color="#1855f6"/></linearGradient>
<linearGradient id="gd57" gradientUnits="userSpaceOnUse" x1="0" y1="220.5" x2="0" y2="267.7"><stop offset="0.00" stop-color="#10c3f8"/><stop offset="0.15" stop-color="#10b2f8"/><stop offset="0.30" stop-color="#10a2f8"/><stop offset="0.45" stop-color="#1092f8"/><stop offset="0.60" stop-color="#1082f8"/><stop offset="0.73" stop-color="#1074f8"/><stop offset="0.85" stop-color="#1364f7"/><stop offset="0.94" stop-color="#1758f6"/><stop offset="1.00" stop-color="#194ff6"/></linearGradient>
<linearGradient id="gd58" gradientUnits="userSpaceOnUse" x1="0" y1="220.2" x2="0" y2="265.0"><stop offset="0.00" stop-color="#10bcf8"/><stop offset="0.15" stop-color="#10acf8"/><stop offset="0.30" stop-color="#109cf8"/><stop offset="0.45" stop-color="#108cf8"/><stop offset="0.60" stop-color="#107df8"/><stop offset="0.73" stop-color="#106ff8"/><stop offset="0.85" stop-color="#155ef7"/><stop offset="0.94" stop-color="#1952f6"/><stop offset="1.00" stop-color="#1b49f5"/></linearGradient>
<linearGradient id="gd59" gradientUnits="userSpaceOnUse" x1="0" y1="219.9" x2="0" y2="262.5"><stop offset="0.00" stop-color="#10b5f8"/><stop offset="0.15" stop-color="#10a6f8"/><stop offset="0.30" stop-color="#1096f8"/><stop offset="0.45" stop-color="#1087f8"/><stop offset="0.60" stop-color="#1077f8"/><stop offset="0.73" stop-color="#1268f7"/><stop offset="0.85" stop-color="#1758f6"/><stop offset="0.94" stop-color="#1a4cf5"/><stop offset="1.00" stop-color="#1d43f5"/></linearGradient>
<linearGradient id="gd60" gradientUnits="userSpaceOnUse" x1="0" y1="219.8" x2="0" y2="260.5"><stop offset="0.00" stop-color="#10aef8"/><stop offset="0.15" stop-color="#109ff8"/><stop offset="0.30" stop-color="#1090f8"/><stop offset="0.45" stop-color="#1081f8"/><stop offset="0.60" stop-color="#1072f8"/><stop offset="0.73" stop-color="#1461f7"/><stop offset="0.85" stop-color="#1952f6"/><stop offset="0.94" stop-color="#1c46f5"/><stop offset="1.00" stop-color="#1e3ef4"/></linearGradient>
<linearGradient id="gd61" gradientUnits="userSpaceOnUse" x1="0" y1="219.6" x2="0" y2="258.4"><stop offset="0.00" stop-color="#10a7f8"/><stop offset="0.15" stop-color="#1099f8"/><stop offset="0.30" stop-color="#108af8"/><stop offset="0.45" stop-color="#107bf8"/><stop offset="0.60" stop-color="#116cf8"/><stop offset="0.73" stop-color="#165bf6"/><stop offset="0.85" stop-color="#1a4bf5"/><stop offset="0.94" stop-color="#1e40f5"/><stop offset="1.00" stop-color="#2038f4"/></linearGradient>
<linearGradient id="gd62" gradientUnits="userSpaceOnUse" x1="0" y1="219.4" x2="0" y2="256.4"><stop offset="0.00" stop-color="#10a1f8"/><stop offset="0.15" stop-color="#1092f8"/><stop offset="0.30" stop-color="#1084f8"/><stop offset="0.45" stop-color="#1076f8"/><stop offset="0.60" stop-color="#1364f7"/><stop offset="0.73" stop-color="#1854f6"/><stop offset="0.85" stop-color="#1c45f5"/><stop offset="0.94" stop-color="#203af4"/><stop offset="1.00" stop-color="#2e1af4"/></linearGradient>
<linearGradient id="gd63" gradientUnits="userSpaceOnUse" x1="0" y1="219.3" x2="0" y2="254.3"><stop offset="0.00" stop-color="#109af8"/><stop offset="0.15" stop-color="#108cf8"/><stop offset="0.30" stop-color="#107ef8"/><stop offset="0.45" stop-color="#1070f8"/><stop offset="0.60" stop-color="#155df7"/><stop offset="0.73" stop-color="#1a4df6"/><stop offset="0.85" stop-color="#1e3ff4"/><stop offset="0.94" stop-color="#2a22f4"/><stop offset="1.00" stop-color="#3210f2"/></linearGradient>
<linearGradient id="gd64" gradientUnits="userSpaceOnUse" x1="0" y1="219.1" x2="0" y2="252.2"><stop offset="0.00" stop-color="#1092f8"/><stop offset="0.15" stop-color="#1084f8"/><stop offset="0.30" stop-color="#1076f8"/><stop offset="0.45" stop-color="#1367f7"/><stop offset="0.60" stop-color="#1855f6"/><stop offset="0.73" stop-color="#1c46f5"/><stop offset="0.85" stop-color="#2135f4"/><stop offset="0.94" stop-color="#3210f3"/><stop offset="1.00" stop-color="#3210f0"/></linearGradient>
<linearGradient id="gd65" gradientUnits="userSpaceOnUse" x1="0" y1="219.0" x2="0" y2="250.2"><stop offset="0.00" stop-color="#1089f8"/><stop offset="0.15" stop-color="#107cf8"/><stop offset="0.30" stop-color="#106ff8"/><stop offset="0.45" stop-color="#155df7"/><stop offset="0.60" stop-color="#1a4cf5"/><stop offset="0.73" stop-color="#1e3df4"/><stop offset="0.85" stop-color="#3210f4"/><stop offset="0.94" stop-color="#3210f0"/><stop offset="1.00" stop-color="#3210ed"/></linearGradient>
<linearGradient id="gd66" gradientUnits="userSpaceOnUse" x1="0" y1="218.8" x2="0" y2="248.1"><stop offset="0.00" stop-color="#1080f8"/><stop offset="0.15" stop-color="#1074f8"/><stop offset="0.30" stop-color="#1365f7"/><stop offset="0.45" stop-color="#1854f6"/><stop offset="0.60" stop-color="#1d43f5"/><stop offset="0.73" stop-color="#2729f4"/><stop offset="0.85" stop-color="#3210f1"/><stop offset="0.94" stop-color="#3210ed"/><stop offset="1.00" stop-color="#3210ea"/></linearGradient>
<linearGradient id="gd67" gradientUnits="userSpaceOnUse" x1="0" y1="218.7" x2="0" y2="246.1"><stop offset="0.00" stop-color="#1078f8"/><stop offset="0.15" stop-color="#126af8"/><stop offset="0.30" stop-color="#165af6"/><stop offset="0.45" stop-color="#1b4bf5"/><stop offset="0.60" stop-color="#1f3bf4"/><stop offset="0.73" stop-color="#3210f3"/><stop offset="0.85" stop-color="#3210ed"/><stop offset="0.94" stop-color="#3210e9"/><stop offset="1.00" stop-color="#3110e7"/></linearGradient>
<linearGradient id="gd68" gradientUnits="userSpaceOnUse" x1="0" y1="218.5" x2="0" y2="244.0"><stop offset="0.00" stop-color="#106ff8"/><stop offset="0.15" stop-color="#1560f7"/><stop offset="0.30" stop-color="#1950f6"/><stop offset="0.45" stop-color="#1d41f5"/><stop offset="0.60" stop-color="#2e18f4"/><stop offset="0.73" stop-color="#3210ef"/><stop offset="0.85" stop-color="#3210ea"/><stop offset="0.94" stop-color="#3110e6"/><stop offset="1.00" stop-color="#3110e4"/></linearGradient>
<linearGradient id="gd69" gradientUnits="userSpaceOnUse" x1="0" y1="218.4" x2="0" y2="242.4"><stop offset="0.00" stop-color="#1364f7"/><stop offset="0.15" stop-color="#1855f6"/><stop offset="0.30" stop-color="#1c46f5"/><stop offset="0.45" stop-color="#2137f4"/><stop offset="0.60" stop-color="#3210f1"/><stop offset="0.73" stop-color="#3210ec"/><stop offset="0.85" stop-color="#3110e7"/><stop offset="0.94" stop-color="#3110e3"/><stop offset="1.00" stop-color="#3110e1"/></linearGradient>
<linearGradient id="gd70" gradientUnits="userSpaceOnUse" x1="0" y1="218.3" x2="0" y2="240.8"><stop offset="0.00" stop-color="#1759f6"/><stop offset="0.15" stop-color="#1b4bf5"/><stop offset="0.30" stop-color="#1f3cf4"/><stop offset="0.45" stop-color="#3210f3"/><stop offset="0.60" stop-color="#3210ed"/><stop offset="0.73" stop-color="#3110e8"/><stop offset="0.85" stop-color="#3110e4"/><stop offset="0.94" stop-color="#3110e0"/><stop offset="1.00" stop-color="#3110de"/></linearGradient>
<linearGradient id="gd71" gradientUnits="userSpaceOnUse" x1="0" y1="218.2" x2="0" y2="239.3"><stop offset="0.00" stop-color="#1a4cf5"/><stop offset="0.15" stop-color="#1e3ef4"/><stop offset="0.30" stop-color="#3013f4"/><stop offset="0.45" stop-color="#3210ef"/><stop offset="0.60" stop-color="#3210e9"/><stop offset="0.73" stop-color="#3110e5"/><stop offset="0.85" stop-color="#3110e0"/><stop offset="0.94" stop-color="#3110dd"/><stop offset="1.00" stop-color="#3110db"/></linearGradient>
<linearGradient id="gd72" gradientUnits="userSpaceOnUse" x1="0" y1="218.0" x2="0" y2="237.7"><stop offset="0.00" stop-color="#1e3ff4"/><stop offset="0.15" stop-color="#2e19f4"/><stop offset="0.30" stop-color="#3210f0"/><stop offset="0.45" stop-color="#3210ea"/><stop offset="0.60" stop-color="#3110e5"/><stop offset="0.73" stop-color="#3110e1"/><stop offset="0.85" stop-color="#3110dd"/><stop offset="0.94" stop-color="#3110da"/><stop offset="1.00" stop-color="#3110d7"/></linearGradient>
<linearGradient id="gd73" gradientUnits="userSpaceOnUse" x1="0" y1="217.9" x2="0" y2="236.1"><stop offset="0.00" stop-color="#2f17f4"/><stop offset="0.15" stop-color="#3210f0"/><stop offset="0.30" stop-color="#3210eb"/><stop offset="0.45" stop-color="#3110e6"/><stop offset="0.60" stop-color="#3110e1"/><stop offset="0.73" stop-color="#3110dd"/><stop offset="0.85" stop-color="#3110d9"/><stop offset="0.94" stop-color="#3110d6"/><stop offset="1.00" stop-color="#3110d4"/></linearGradient>
<linearGradient id="gd74" gradientUnits="userSpaceOnUse" x1="0" y1="217.8" x2="0" y2="234.5"><stop offset="0.00" stop-color="#3210ee"/><stop offset="0.15" stop-color="#3210ea"/><stop offset="0.30" stop-color="#3110e5"/><stop offset="0.45" stop-color="#3110e1"/><stop offset="0.60" stop-color="#3110dc"/><stop offset="0.73" stop-color="#3110d8"/><stop offset="0.85" stop-color="#3110d5"/><stop offset="0.94" stop-color="#3010d2"/><stop offset="1.00" stop-color="#3010d0"/></linearGradient>
<linearGradient id="gd75" gradientUnits="userSpaceOnUse" x1="0" y1="217.7" x2="0" y2="233.0"><stop offset="0.00" stop-color="#3110e7"/><stop offset="0.15" stop-color="#3110e2"/><stop offset="0.30" stop-color="#3110de"/><stop offset="0.45" stop-color="#3110da"/><stop offset="0.60" stop-color="#3110d6"/><stop offset="0.73" stop-color="#3010d3"/><stop offset="0.85" stop-color="#3010cf"/><stop offset="0.94" stop-color="#3010cd"/><stop offset="1.00" stop-color="#3010cb"/></linearGradient>
<linearGradient id="gd76" gradientUnits="userSpaceOnUse" x1="0" y1="217.6" x2="0" y2="231.4"><stop offset="0.00" stop-color="#3110df"/><stop offset="0.15" stop-color="#3110db"/><stop offset="0.30" stop-color="#3110d8"/><stop offset="0.45" stop-color="#3110d4"/><stop offset="0.60" stop-color="#3010d0"/><stop offset="0.73" stop-color="#3010cd"/><stop offset="0.85" stop-color="#3010ca"/><stop offset="0.94" stop-color="#3010c8"/><stop offset="1.00" stop-color="#3010c6"/></linearGradient>
<linearGradient id="gd77" gradientUnits="userSpaceOnUse" x1="0" y1="217.5" x2="0" y2="229.9"><stop offset="0.00" stop-color="#3110d7"/><stop offset="0.15" stop-color="#3110d4"/><stop offset="0.30" stop-color="#3010d1"/><stop offset="0.45" stop-color="#3010cd"/><stop offset="0.60" stop-color="#3010ca"/><stop offset="0.73" stop-color="#3010c7"/><stop offset="0.85" stop-color="#2f0fc4"/><stop offset="0.94" stop-color="#2f0fc1"/><stop offset="1.00" stop-color="#2f0fbf"/></linearGradient>
<linearGradient id="gd78" gradientUnits="userSpaceOnUse" x1="0" y1="217.0" x2="0" y2="228.3"><stop offset="0.00" stop-color="#3010cf"/><stop offset="0.15" stop-color="#3010cd"/><stop offset="0.30" stop-color="#3010ca"/><stop offset="0.45" stop-color="#3010c7"/><stop offset="0.60" stop-color="#2f0fc3"/><stop offset="0.73" stop-color="#2f0fbf"/><stop offset="0.85" stop-color="#2e0ebc"/><stop offset="0.94" stop-color="#2e0eba"/><stop offset="1.00" stop-color="#2e0eb8"/></linearGradient>
<linearGradient id="gd79" gradientUnits="userSpaceOnUse" x1="0" y1="215.5" x2="0" y2="221.0"><stop offset="0.00" stop-color="#3010c8"/><stop offset="0.15" stop-color="#2f0fc4"/><stop offset="0.30" stop-color="#2f0fc1"/><stop offset="0.45" stop-color="#2f0fbd"/><stop offset="0.60" stop-color="#2e0eba"/><stop offset="0.73" stop-color="#2e0eb7"/><stop offset="0.85" stop-color="#2d0db4"/><stop offset="0.94" stop-color="#2d0db2"/><stop offset="1.00" stop-color="#2d0db1"/></linearGradient>
<linearGradient id="gd80" gradientUnits="userSpaceOnUse" x1="0" y1="214.2" x2="0" y2="216.4"><stop offset="0.00" stop-color="#2e0ebc"/><stop offset="0.15" stop-color="#2e0eba"/><stop offset="0.30" stop-color="#2e0eb7"/><stop offset="0.45" stop-color="#2d0db4"/><stop offset="0.60" stop-color="#2d0db1"/><stop offset="0.73" stop-color="#2d0daf"/><stop offset="0.85" stop-color="#2c0cad"/><stop offset="0.94" stop-color="#2c0cab"/><stop offset="1.00" stop-color="#2c0caa"/></linearGradient>
<linearGradient id="gd81" gradientUnits="userSpaceOnUse" x1="0" y1="214.2" x2="0" y2="216.4"><stop offset="0.00" stop-color="#2d0db1"/><stop offset="0.15" stop-color="#2d0daf"/><stop offset="0.30" stop-color="#2c0cad"/><stop offset="0.45" stop-color="#2c0cab"/><stop offset="0.60" stop-color="#2c0ca9"/><stop offset="0.73" stop-color="#2c0ca7"/><stop offset="0.85" stop-color="#2b0ba5"/><stop offset="0.94" stop-color="#2b0ba4"/><stop offset="1.00" stop-color="#2b0ba3"/></linearGradient>
<clipPath id="cp_e"><path d="M28.0,397.3 L44.1,399.2 L59.4,401.5 L72.8,406.2 L88.1,408.2 L101.4,408.2 L114.8,407.6 L129.1,403.0 L148.2,399.9 L167.3,398.6 L184.5,397.6 L181.1,414.8 L170.8,422.8 L161.7,430.1 L152.5,439.6 L143.3,449.0 L137.4,457.0 L130.4,466.5 L124.5,478.1 L119.1,490.5 L113.7,501.4 L108.9,506.5 L103.5,509.4 L95.4,509.8 L86.8,506.5 L79.2,497.8 L72.7,484.7 L67.3,468.7 L62.0,450.5 L57.6,440.3 L51.2,430.1 L43.1,425.0 L35.0,414.8 L28.0,405.3Z"/></clipPath>
<linearGradient id="ge0" gradientUnits="userSpaceOnUse" x1="0" y1="397.4" x2="0" y2="405.3"><stop offset="0.00" stop-color="#2f0fbe"/><stop offset="0.15" stop-color="#2e0ebd"/><stop offset="0.30" stop-color="#2e0ebb"/><stop offset="0.45" stop-color="#2e0eb9"/><stop offset="0.60" stop-color="#2e0eb7"/><stop offset="0.73" stop-color="#2d0db5"/><stop offset="0.85" stop-color="#2d0db3"/><stop offset="0.94" stop-color="#2d0db2"/><stop offset="1.00" stop-color="#2d0db0"/></linearGradient>
<linearGradient id="ge1" gradientUnits="userSpaceOnUse" x1="0" y1="397.6" x2="0" y2="408.3"><stop offset="0.00" stop-color="#3010cd"/><stop offset="0.15" stop-color="#3010cc"/><stop offset="0.30" stop-color="#3010ca"/><stop offset="0.45" stop-color="#3010c8"/><stop offset="0.60" stop-color="#3010c6"/><stop offset="0.73" stop-color="#2f0fc3"/><stop offset="0.85" stop-color="#2f0fc1"/><stop offset="0.94" stop-color="#2f0fbe"/><stop offset="1.00" stop-color="#2e0ebc"/></linearGradient>
<linearGradient id="ge2" gradientUnits="userSpaceOnUse" x1="0" y1="397.9" x2="0" y2="411.2"><stop offset="0.00" stop-color="#3110d9"/><stop offset="0.15" stop-color="#3110d7"/><stop offset="0.30" stop-color="#3110d5"/><stop offset="0.45" stop-color="#3110d3"/><stop offset="0.60" stop-color="#3010d1"/><stop offset="0.73" stop-color="#3010cf"/><stop offset="0.85" stop-color="#3010cc"/><stop offset="0.94" stop-color="#3010ca"/><stop offset="1.00" stop-color="#3010c9"/></linearGradient>
<linearGradient id="ge3" gradientUnits="userSpaceOnUse" x1="0" y1="398.1" x2="0" y2="414.1"><stop offset="0.00" stop-color="#3210ea"/><stop offset="0.15" stop-color="#3110e7"/><stop offset="0.30" stop-color="#3110e5"/><stop offset="0.45" stop-color="#3110e2"/><stop offset="0.60" stop-color="#3110df"/><stop offset="0.73" stop-color="#3110dc"/><stop offset="0.85" stop-color="#3110d9"/><stop offset="0.94" stop-color="#3110d7"/><stop offset="1.00" stop-color="#3110d4"/></linearGradient>
<linearGradient id="ge4" gradientUnits="userSpaceOnUse" x1="0" y1="398.3" x2="0" y2="416.7"><stop offset="0.00" stop-color="#3210f2"/><stop offset="0.15" stop-color="#3210ef"/><stop offset="0.30" stop-color="#3210ec"/><stop offset="0.45" stop-color="#3210e9"/><stop offset="0.60" stop-color="#3110e6"/><stop offset="0.73" stop-color="#3110e3"/><stop offset="0.85" stop-color="#3110e0"/><stop offset="0.94" stop-color="#3110dd"/><stop offset="1.00" stop-color="#3110da"/></linearGradient>
<linearGradient id="ge5" gradientUnits="userSpaceOnUse" x1="0" y1="398.6" x2="0" y2="419.2"><stop offset="0.00" stop-color="#2234f4"/><stop offset="0.15" stop-color="#3210f4"/><stop offset="0.30" stop-color="#3210f1"/><stop offset="0.45" stop-color="#3210ed"/><stop offset="0.60" stop-color="#3210ea"/><stop offset="0.73" stop-color="#3110e7"/><stop offset="0.85" stop-color="#3110e3"/><stop offset="0.94" stop-color="#3110e0"/><stop offset="1.00" stop-color="#3110de"/></linearGradient>
<linearGradient id="ge6" gradientUnits="userSpaceOnUse" x1="0" y1="398.8" x2="0" y2="421.7"><stop offset="0.00" stop-color="#1d43f5"/><stop offset="0.15" stop-color="#1f3bf4"/><stop offset="0.30" stop-color="#2b20f4"/><stop offset="0.45" stop-color="#3210f2"/><stop offset="0.60" stop-color="#3210ee"/><stop offset="0.73" stop-color="#3210eb"/><stop offset="0.85" stop-color="#3110e7"/><stop offset="0.94" stop-color="#3110e4"/><stop offset="1.00" stop-color="#3110e1"/></linearGradient>
<linearGradient id="ge7" gradientUnits="userSpaceOnUse" x1="0" y1="399.0" x2="0" y2="424.3"><stop offset="0.00" stop-color="#1855f6"/><stop offset="0.15" stop-color="#1a4cf5"/><stop offset="0.30" stop-color="#1d43f5"/><stop offset="0.45" stop-color="#1f3af4"/><stop offset="0.60" stop-color="#3210f4"/><stop offset="0.73" stop-color="#3210f0"/><stop offset="0.85" stop-color="#3210ec"/><stop offset="0.94" stop-color="#3110e9"/><stop offset="1.00" stop-color="#3110e6"/></linearGradient>
<linearGradient id="ge8" gradientUnits="userSpaceOnUse" x1="0" y1="399.3" x2="0" y2="425.9"><stop offset="0.00" stop-color="#116bf8"/><stop offset="0.15" stop-color="#1462f7"/><stop offset="0.30" stop-color="#1759f6"/><stop offset="0.45" stop-color="#1a4ef6"/><stop offset="0.60" stop-color="#1d43f5"/><stop offset="0.73" stop-color="#2039f4"/><stop offset="0.85" stop-color="#3210f3"/><stop offset="0.94" stop-color="#3210f0"/><stop offset="1.00" stop-color="#3210ed"/></linearGradient>
<linearGradient id="ge9" gradientUnits="userSpaceOnUse" x1="0" y1="399.6" x2="0" y2="427.1"><stop offset="0.00" stop-color="#107ef8"/><stop offset="0.15" stop-color="#1076f8"/><stop offset="0.30" stop-color="#116ef8"/><stop offset="0.45" stop-color="#1463f7"/><stop offset="0.60" stop-color="#1757f6"/><stop offset="0.73" stop-color="#1a4cf5"/><stop offset="0.85" stop-color="#1e41f5"/><stop offset="0.94" stop-color="#2233f4"/><stop offset="1.00" stop-color="#3210f3"/></linearGradient>
<linearGradient id="ge10" gradientUnits="userSpaceOnUse" x1="0" y1="399.9" x2="0" y2="428.4"><stop offset="0.00" stop-color="#108ff8"/><stop offset="0.15" stop-color="#1087f8"/><stop offset="0.30" stop-color="#107ef8"/><stop offset="0.45" stop-color="#1075f8"/><stop offset="0.60" stop-color="#126af8"/><stop offset="0.73" stop-color="#155ef7"/><stop offset="0.85" stop-color="#1952f6"/><stop offset="0.94" stop-color="#1b48f5"/><stop offset="1.00" stop-color="#1e3ef4"/></linearGradient>
<linearGradient id="ge11" gradientUnits="userSpaceOnUse" x1="0" y1="400.2" x2="0" y2="429.7"><stop offset="0.00" stop-color="#10a2f8"/><stop offset="0.15" stop-color="#1099f8"/><stop offset="0.30" stop-color="#1090f8"/><stop offset="0.45" stop-color="#1086f8"/><stop offset="0.60" stop-color="#107cf8"/><stop offset="0.73" stop-color="#1072f8"/><stop offset="0.85" stop-color="#1366f7"/><stop offset="0.94" stop-color="#165af6"/><stop offset="1.00" stop-color="#1950f6"/></linearGradient>
<linearGradient id="ge12" gradientUnits="userSpaceOnUse" x1="0" y1="400.5" x2="0" y2="432.2"><stop offset="0.00" stop-color="#10b7f8"/><stop offset="0.15" stop-color="#10adf8"/><stop offset="0.30" stop-color="#10a3f8"/><stop offset="0.45" stop-color="#1098f8"/><stop offset="0.60" stop-color="#108df8"/><stop offset="0.73" stop-color="#1083f8"/><stop offset="0.85" stop-color="#1078f8"/><stop offset="0.94" stop-color="#116ef8"/><stop offset="1.00" stop-color="#1463f7"/></linearGradient>
<linearGradient id="ge13" gradientUnits="userSpaceOnUse" x1="0" y1="400.8" x2="0" y2="435.3"><stop offset="0.00" stop-color="#10caf8"/><stop offset="0.15" stop-color="#10c1f8"/><stop offset="0.30" stop-color="#10b6f8"/><stop offset="0.45" stop-color="#10aaf8"/><stop offset="0.60" stop-color="#109ef8"/><stop offset="0.73" stop-color="#1093f8"/><stop offset="0.85" stop-color="#1087f8"/><stop offset="0.94" stop-color="#107df8"/><stop offset="1.00" stop-color="#1074f8"/></linearGradient>
<linearGradient id="ge14" gradientUnits="userSpaceOnUse" x1="0" y1="401.1" x2="0" y2="438.5"><stop offset="0.00" stop-color="#10dcfb"/><stop offset="0.15" stop-color="#10d3fa"/><stop offset="0.30" stop-color="#10c9f8"/><stop offset="0.45" stop-color="#10bcf8"/><stop offset="0.60" stop-color="#10aff8"/><stop offset="0.73" stop-color="#10a3f8"/><stop offset="0.85" stop-color="#1097f8"/><stop offset="0.94" stop-color="#108cf8"/><stop offset="1.00" stop-color="#1082f8"/></linearGradient>
<linearGradient id="ge15" gradientUnits="userSpaceOnUse" x1="0" y1="401.3" x2="0" y2="442.3"><stop offset="0.00" stop-color="#10e5f1"/><stop offset="0.15" stop-color="#10e3fc"/><stop offset="0.30" stop-color="#10d8fa"/><stop offset="0.45" stop-color="#10cdf9"/><stop offset="0.60" stop-color="#10c0f8"/><stop offset="0.73" stop-color="#10b3f8"/><stop offset="0.85" stop-color="#10a5f8"/><stop offset="0.94" stop-color="#109af8"/><stop offset="1.00" stop-color="#1090f8"/></linearGradient>
<linearGradient id="ge16" gradientUnits="userSpaceOnUse" x1="0" y1="401.9" x2="0" y2="447.0"><stop offset="0.00" stop-color="#10e6de"/><stop offset="0.15" stop-color="#10e5ea"/><stop offset="0.30" stop-color="#10e4f8"/><stop offset="0.45" stop-color="#10dbfb"/><stop offset="0.60" stop-color="#10cef9"/><stop offset="0.73" stop-color="#10c2f8"/><stop offset="0.85" stop-color="#10b3f8"/><stop offset="0.94" stop-color="#10a7f8"/><stop offset="1.00" stop-color="#109cf8"/></linearGradient>
<linearGradient id="ge17" gradientUnits="userSpaceOnUse" x1="0" y1="402.6" x2="0" y2="452.3"><stop offset="0.00" stop-color="#10e7ca"/><stop offset="0.15" stop-color="#10e6d7"/><stop offset="0.30" stop-color="#10e5e6"/><stop offset="0.45" stop-color="#10e4f5"/><stop offset="0.60" stop-color="#10dcfb"/><stop offset="0.73" stop-color="#10cff9"/><stop offset="0.85" stop-color="#10c1f8"/><stop offset="0.94" stop-color="#10b4f8"/><stop offset="1.00" stop-color="#10a9f8"/></linearGradient>
<linearGradient id="ge18" gradientUnits="userSpaceOnUse" x1="0" y1="403.3" x2="0" y2="459.1"><stop offset="0.00" stop-color="#10e8b6"/><stop offset="0.15" stop-color="#10e7c4"/><stop offset="0.30" stop-color="#10e6d3"/><stop offset="0.45" stop-color="#10e5e4"/><stop offset="0.60" stop-color="#10e4f5"/><stop offset="0.73" stop-color="#10dcfb"/><stop offset="0.85" stop-color="#10cef9"/><stop offset="0.94" stop-color="#10c1f8"/><stop offset="1.00" stop-color="#10b5f8"/></linearGradient>
<linearGradient id="ge19" gradientUnits="userSpaceOnUse" x1="0" y1="404.0" x2="0" y2="465.8"><stop offset="0.00" stop-color="#10e9a2"/><stop offset="0.15" stop-color="#10e8b4"/><stop offset="0.30" stop-color="#10e7c4"/><stop offset="0.45" stop-color="#10e6d4"/><stop offset="0.60" stop-color="#10e5e6"/><stop offset="0.73" stop-color="#10e4f7"/><stop offset="0.85" stop-color="#10d9fa"/><stop offset="0.94" stop-color="#10cdf9"/><stop offset="1.00" stop-color="#10c0f8"/></linearGradient>
<linearGradient id="ge20" gradientUnits="userSpaceOnUse" x1="0" y1="404.7" x2="0" y2="472.1"><stop offset="0.00" stop-color="#10eb92"/><stop offset="0.15" stop-color="#10e9a6"/><stop offset="0.30" stop-color="#10e8b9"/><stop offset="0.45" stop-color="#10e7ca"/><stop offset="0.60" stop-color="#10e6dc"/><stop offset="0.73" stop-color="#10e5ee"/><stop offset="0.85" stop-color="#10e1fc"/><stop offset="0.94" stop-color="#10d5fa"/><stop offset="1.00" stop-color="#10c9f8"/></linearGradient>
<linearGradient id="ge21" gradientUnits="userSpaceOnUse" x1="0" y1="405.4" x2="0" y2="478.0"><stop offset="0.00" stop-color="#10ed83"/><stop offset="0.15" stop-color="#10ea97"/><stop offset="0.30" stop-color="#10e8ad"/><stop offset="0.45" stop-color="#10e7c0"/><stop offset="0.60" stop-color="#10e6d3"/><stop offset="0.73" stop-color="#10e5e5"/><stop offset="0.85" stop-color="#10e4f7"/><stop offset="0.94" stop-color="#10dbfb"/><stop offset="1.00" stop-color="#10cff9"/></linearGradient>
<linearGradient id="ge22" gradientUnits="userSpaceOnUse" x1="0" y1="406.1" x2="0" y2="484.0"><stop offset="0.00" stop-color="#10ee73"/><stop offset="0.15" stop-color="#10ec88"/><stop offset="0.30" stop-color="#10ea9f"/><stop offset="0.45" stop-color="#10e8b5"/><stop offset="0.60" stop-color="#10e7c9"/><stop offset="0.73" stop-color="#10e6dc"/><stop offset="0.85" stop-color="#10e5ef"/><stop offset="0.94" stop-color="#10e2fc"/><stop offset="1.00" stop-color="#10d5fa"/></linearGradient>
<linearGradient id="ge23" gradientUnits="userSpaceOnUse" x1="0" y1="406.4" x2="0" y2="488.3"><stop offset="0.00" stop-color="#10f063"/><stop offset="0.15" stop-color="#10ee79"/><stop offset="0.30" stop-color="#10eb90"/><stop offset="0.45" stop-color="#10e9a9"/><stop offset="0.60" stop-color="#10e7bf"/><stop offset="0.73" stop-color="#10e6d3"/><stop offset="0.85" stop-color="#10e5e6"/><stop offset="0.94" stop-color="#10e4f7"/><stop offset="1.00" stop-color="#10dcfb"/></linearGradient>
<linearGradient id="ge24" gradientUnits="userSpaceOnUse" x1="0" y1="406.7" x2="0" y2="492.3"><stop offset="0.00" stop-color="#29f05a"/><stop offset="0.15" stop-color="#10ef6b"/><stop offset="0.30" stop-color="#10ed83"/><stop offset="0.45" stop-color="#10ea9c"/><stop offset="0.60" stop-color="#10e8b6"/><stop offset="0.73" stop-color="#10e7ca"/><stop offset="0.85" stop-color="#10e6de"/><stop offset="0.94" stop-color="#10e5ef"/><stop offset="1.00" stop-color="#10e2fc"/></linearGradient>
<linearGradient id="ge25" gradientUnits="userSpaceOnUse" x1="0" y1="407.0" x2="0" y2="496.4"><stop offset="0.00" stop-color="#49f052"/><stop offset="0.15" stop-color="#15f05f"/><stop offset="0.30" stop-color="#10ee76"/><stop offset="0.45" stop-color="#10eb90"/><stop offset="0.60" stop-color="#10e8ad"/><stop offset="0.73" stop-color="#10e7c2"/><stop offset="0.85" stop-color="#10e6d6"/><stop offset="0.94" stop-color="#10e5e8"/><stop offset="1.00" stop-color="#10e4f7"/></linearGradient>
<linearGradient id="ge26" gradientUnits="userSpaceOnUse" x1="0" y1="407.2" x2="0" y2="499.3"><stop offset="0.00" stop-color="#69f04a"/><stop offset="0.15" stop-color="#34f057"/><stop offset="0.30" stop-color="#10ef69"/><stop offset="0.45" stop-color="#10ec84"/><stop offset="0.60" stop-color="#10e9a1"/><stop offset="0.73" stop-color="#10e7ba"/><stop offset="0.85" stop-color="#10e6ce"/><stop offset="0.94" stop-color="#10e5e0"/><stop offset="1.00" stop-color="#10e5ef"/></linearGradient>
<linearGradient id="ge27" gradientUnits="userSpaceOnUse" x1="0" y1="407.5" x2="0" y2="501.6"><stop offset="0.00" stop-color="#88f042"/><stop offset="0.15" stop-color="#52f04f"/><stop offset="0.30" stop-color="#18f05e"/><stop offset="0.45" stop-color="#10ee78"/><stop offset="0.60" stop-color="#10eb96"/><stop offset="0.73" stop-color="#10e8b1"/><stop offset="0.85" stop-color="#10e7c7"/><stop offset="0.94" stop-color="#10e6d9"/><stop offset="1.00" stop-color="#10e5e7"/></linearGradient>
<linearGradient id="ge28" gradientUnits="userSpaceOnUse" x1="0" y1="407.7" x2="0" y2="503.9"><stop offset="0.00" stop-color="#9cf03a"/><stop offset="0.15" stop-color="#69f04a"/><stop offset="0.30" stop-color="#2ff058"/><stop offset="0.45" stop-color="#10ef6d"/><stop offset="0.60" stop-color="#10ec8a"/><stop offset="0.73" stop-color="#10e9a7"/><stop offset="0.85" stop-color="#10e7bf"/><stop offset="0.94" stop-color="#10e6d1"/><stop offset="1.00" stop-color="#10e5e0"/></linearGradient>
<linearGradient id="ge29" gradientUnits="userSpaceOnUse" x1="0" y1="408.0" x2="0" y2="506.2"><stop offset="0.00" stop-color="#acf032"/><stop offset="0.15" stop-color="#7ef045"/><stop offset="0.30" stop-color="#43f053"/><stop offset="0.45" stop-color="#10ef65"/><stop offset="0.60" stop-color="#10ed83"/><stop offset="0.73" stop-color="#10ea9f"/><stop offset="0.85" stop-color="#10e8b8"/><stop offset="0.94" stop-color="#10e7c9"/><stop offset="1.00" stop-color="#10e6d9"/></linearGradient>
<linearGradient id="ge30" gradientUnits="userSpaceOnUse" x1="0" y1="408.2" x2="0" y2="507.2"><stop offset="0.00" stop-color="#bbf02a"/><stop offset="0.15" stop-color="#91f03f"/><stop offset="0.30" stop-color="#56f04f"/><stop offset="0.45" stop-color="#16f05e"/><stop offset="0.60" stop-color="#10ed7b"/><stop offset="0.73" stop-color="#10ea97"/><stop offset="0.85" stop-color="#10e8b3"/><stop offset="0.94" stop-color="#10e7c4"/><stop offset="1.00" stop-color="#10e6d4"/></linearGradient>
<linearGradient id="ge31" gradientUnits="userSpaceOnUse" x1="0" y1="408.2" x2="0" y2="508.0"><stop offset="0.00" stop-color="#c8f024"/><stop offset="0.15" stop-color="#9ef039"/><stop offset="0.30" stop-color="#68f04a"/><stop offset="0.45" stop-color="#29f05a"/><stop offset="0.60" stop-color="#10ee73"/><stop offset="0.73" stop-color="#10eb90"/><stop offset="0.85" stop-color="#10e8ad"/><stop offset="0.94" stop-color="#10e7bf"/><stop offset="1.00" stop-color="#10e6cf"/></linearGradient>
<linearGradient id="ge32" gradientUnits="userSpaceOnUse" x1="0" y1="408.2" x2="0" y2="508.7"><stop offset="0.00" stop-color="#caf023"/><stop offset="0.15" stop-color="#a0f038"/><stop offset="0.30" stop-color="#6bf049"/><stop offset="0.45" stop-color="#2ef058"/><stop offset="0.60" stop-color="#10ef6f"/><stop offset="0.73" stop-color="#10ec89"/><stop offset="0.85" stop-color="#10e9a6"/><stop offset="0.94" stop-color="#10e7ba"/><stop offset="1.00" stop-color="#10e7ca"/></linearGradient>
<linearGradient id="ge33" gradientUnits="userSpaceOnUse" x1="0" y1="408.2" x2="0" y2="509.5"><stop offset="0.00" stop-color="#cdf022"/><stop offset="0.15" stop-color="#a3f037"/><stop offset="0.30" stop-color="#6ff048"/><stop offset="0.45" stop-color="#31f058"/><stop offset="0.60" stop-color="#10ef6e"/><stop offset="0.73" stop-color="#10ec88"/><stop offset="0.85" stop-color="#10e9a3"/><stop offset="0.94" stop-color="#10e8b7"/><stop offset="1.00" stop-color="#10e7c7"/></linearGradient>
<linearGradient id="ge34" gradientUnits="userSpaceOnUse" x1="0" y1="408.2" x2="0" y2="509.8"><stop offset="0.00" stop-color="#cff020"/><stop offset="0.15" stop-color="#a5f035"/><stop offset="0.30" stop-color="#72f048"/><stop offset="0.45" stop-color="#34f057"/><stop offset="0.60" stop-color="#10ef6c"/><stop offset="0.73" stop-color="#10ec87"/><stop offset="0.85" stop-color="#10e9a2"/><stop offset="0.94" stop-color="#10e8b6"/><stop offset="1.00" stop-color="#10e7c7"/></linearGradient>
<linearGradient id="ge35" gradientUnits="userSpaceOnUse" x1="0" y1="408.2" x2="0" y2="509.7"><stop offset="0.00" stop-color="#d2f01f"/><stop offset="0.15" stop-color="#a8f034"/><stop offset="0.30" stop-color="#75f047"/><stop offset="0.45" stop-color="#37f056"/><stop offset="0.60" stop-color="#10ef6b"/><stop offset="0.73" stop-color="#10ec86"/><stop offset="0.85" stop-color="#10eaa1"/><stop offset="0.94" stop-color="#10e8b6"/><stop offset="1.00" stop-color="#10e7c6"/></linearGradient>
<linearGradient id="ge36" gradientUnits="userSpaceOnUse" x1="0" y1="408.2" x2="0" y2="509.6"><stop offset="0.00" stop-color="#d4f01e"/><stop offset="0.15" stop-color="#aaf033"/><stop offset="0.30" stop-color="#78f046"/><stop offset="0.45" stop-color="#3bf055"/><stop offset="0.60" stop-color="#10ef6a"/><stop offset="0.73" stop-color="#10ec84"/><stop offset="0.85" stop-color="#10ea9f"/><stop offset="0.94" stop-color="#10e8b5"/><stop offset="1.00" stop-color="#10e7c5"/></linearGradient>
<linearGradient id="ge37" gradientUnits="userSpaceOnUse" x1="0" y1="408.1" x2="0" y2="509.5"><stop offset="0.00" stop-color="#d3f01f"/><stop offset="0.15" stop-color="#a9f034"/><stop offset="0.30" stop-color="#77f046"/><stop offset="0.45" stop-color="#3bf055"/><stop offset="0.60" stop-color="#10ef69"/><stop offset="0.73" stop-color="#10ec83"/><stop offset="0.85" stop-color="#10ea9e"/><stop offset="0.94" stop-color="#10e8b4"/><stop offset="1.00" stop-color="#10e7c4"/></linearGradient>
<linearGradient id="ge38" gradientUnits="userSpaceOnUse" x1="0" y1="408.0" x2="0" y2="508.9"><stop offset="0.00" stop-color="#d1f020"/><stop offset="0.15" stop-color="#a7f035"/><stop offset="0.30" stop-color="#75f047"/><stop offset="0.45" stop-color="#39f056"/><stop offset="0.60" stop-color="#10ef6a"/><stop offset="0.73" stop-color="#10ec84"/><stop offset="0.85" stop-color="#10ea9e"/><stop offset="0.94" stop-color="#10e8b3"/><stop offset="1.00" stop-color="#10e7c4"/></linearGradient>
<linearGradient id="ge39" gradientUnits="userSpaceOnUse" x1="0" y1="408.0" x2="0" y2="507.8"><stop offset="0.00" stop-color="#cff021"/><stop offset="0.15" stop-color="#a5f036"/><stop offset="0.30" stop-color="#72f047"/><stop offset="0.45" stop-color="#36f056"/><stop offset="0.60" stop-color="#10ef6b"/><stop offset="0.73" stop-color="#10ec85"/><stop offset="0.85" stop-color="#10ea9f"/><stop offset="0.94" stop-color="#10e8b4"/><stop offset="1.00" stop-color="#10e7c4"/></linearGradient>
<linearGradient id="ge40" gradientUnits="userSpaceOnUse" x1="0" y1="407.9" x2="0" y2="506.7"><stop offset="0.00" stop-color="#cdf022"/><stop offset="0.15" stop-color="#a3f037"/><stop offset="0.30" stop-color="#70f048"/><stop offset="0.45" stop-color="#34f057"/><stop offset="0.60" stop-color="#10ef6c"/><stop offset="0.73" stop-color="#10ec86"/><stop offset="0.85" stop-color="#10eaa0"/><stop offset="0.94" stop-color="#10e8b5"/><stop offset="1.00" stop-color="#10e7c5"/></linearGradient>
<linearGradient id="ge41" gradientUnits="userSpaceOnUse" x1="0" y1="407.8" x2="0" y2="504.8"><stop offset="0.00" stop-color="#cbf023"/><stop offset="0.15" stop-color="#a1f038"/><stop offset="0.30" stop-color="#6df049"/><stop offset="0.45" stop-color="#31f058"/><stop offset="0.60" stop-color="#10ef6d"/><stop offset="0.73" stop-color="#10ec87"/><stop offset="0.85" stop-color="#10eaa1"/><stop offset="0.94" stop-color="#10e8b6"/><stop offset="1.00" stop-color="#10e7c6"/></linearGradient>
<linearGradient id="ge42" gradientUnits="userSpaceOnUse" x1="0" y1="407.7" x2="0" y2="502.7"><stop offset="0.00" stop-color="#c9f024"/><stop offset="0.15" stop-color="#9ff039"/><stop offset="0.30" stop-color="#6bf049"/><stop offset="0.45" stop-color="#2ff058"/><stop offset="0.60" stop-color="#10ef6e"/><stop offset="0.73" stop-color="#10ec88"/><stop offset="0.85" stop-color="#10e9a2"/><stop offset="0.94" stop-color="#10e8b6"/><stop offset="1.00" stop-color="#10e7c6"/></linearGradient>
<linearGradient id="ge43" gradientUnits="userSpaceOnUse" x1="0" y1="407.6" x2="0" y2="499.8"><stop offset="0.00" stop-color="#c4f026"/><stop offset="0.15" stop-color="#9cf03a"/><stop offset="0.30" stop-color="#68f04a"/><stop offset="0.45" stop-color="#2cf059"/><stop offset="0.60" stop-color="#10ee6f"/><stop offset="0.73" stop-color="#10ec89"/><stop offset="0.85" stop-color="#10e9a3"/><stop offset="0.94" stop-color="#10e8b7"/><stop offset="1.00" stop-color="#10e7c7"/></linearGradient>
<linearGradient id="ge44" gradientUnits="userSpaceOnUse" x1="0" y1="407.1" x2="0" y2="495.8"><stop offset="0.00" stop-color="#b2f02f"/><stop offset="0.15" stop-color="#88f042"/><stop offset="0.30" stop-color="#52f050"/><stop offset="0.45" stop-color="#1af05d"/><stop offset="0.60" stop-color="#10ee74"/><stop offset="0.73" stop-color="#10ec8c"/><stop offset="0.85" stop-color="#10e9a4"/><stop offset="0.94" stop-color="#10e8b8"/><stop offset="1.00" stop-color="#10e7c8"/></linearGradient>
<linearGradient id="ge45" gradientUnits="userSpaceOnUse" x1="0" y1="406.4" x2="0" y2="491.7"><stop offset="0.00" stop-color="#9ff038"/><stop offset="0.15" stop-color="#70f048"/><stop offset="0.30" stop-color="#3af055"/><stop offset="0.45" stop-color="#10ef65"/><stop offset="0.60" stop-color="#10ed7e"/><stop offset="0.73" stop-color="#10eb95"/><stop offset="0.85" stop-color="#10e8ac"/><stop offset="0.94" stop-color="#10e7bd"/><stop offset="1.00" stop-color="#10e7cb"/></linearGradient>
<linearGradient id="ge46" gradientUnits="userSpaceOnUse" x1="0" y1="405.8" x2="0" y2="487.3"><stop offset="0.00" stop-color="#8bf041"/><stop offset="0.15" stop-color="#57f04e"/><stop offset="0.30" stop-color="#23f05b"/><stop offset="0.45" stop-color="#10ee6f"/><stop offset="0.60" stop-color="#10ec88"/><stop offset="0.73" stop-color="#10ea9e"/><stop offset="0.85" stop-color="#10e8b4"/><stop offset="0.94" stop-color="#10e7c3"/><stop offset="1.00" stop-color="#10e6d2"/></linearGradient>
<linearGradient id="ge47" gradientUnits="userSpaceOnUse" x1="0" y1="405.1" x2="0" y2="482.7"><stop offset="0.00" stop-color="#6ff048"/><stop offset="0.15" stop-color="#3cf055"/><stop offset="0.30" stop-color="#10f063"/><stop offset="0.45" stop-color="#10ed7a"/><stop offset="0.60" stop-color="#10eb92"/><stop offset="0.73" stop-color="#10e9a8"/><stop offset="0.85" stop-color="#10e7bb"/><stop offset="0.94" stop-color="#10e7ca"/><stop offset="1.00" stop-color="#10e6d9"/></linearGradient>
<linearGradient id="ge48" gradientUnits="userSpaceOnUse" x1="0" y1="404.5" x2="0" y2="478.1"><stop offset="0.00" stop-color="#53f04f"/><stop offset="0.15" stop-color="#21f05c"/><stop offset="0.30" stop-color="#10ef6f"/><stop offset="0.45" stop-color="#10ec85"/><stop offset="0.60" stop-color="#10ea9d"/><stop offset="0.73" stop-color="#10e8b2"/><stop offset="0.85" stop-color="#10e7c3"/><stop offset="0.94" stop-color="#10e6d2"/><stop offset="1.00" stop-color="#10e5e0"/></linearGradient>
<linearGradient id="ge49" gradientUnits="userSpaceOnUse" x1="0" y1="403.9" x2="0" y2="474.2"><stop offset="0.00" stop-color="#38f056"/><stop offset="0.15" stop-color="#10f064"/><stop offset="0.30" stop-color="#10ed7a"/><stop offset="0.45" stop-color="#10eb91"/><stop offset="0.60" stop-color="#10e9a8"/><stop offset="0.73" stop-color="#10e7ba"/><stop offset="0.85" stop-color="#10e7cb"/><stop offset="0.94" stop-color="#10e6da"/><stop offset="1.00" stop-color="#10e5e8"/></linearGradient>
<linearGradient id="ge50" gradientUnits="userSpaceOnUse" x1="0" y1="403.2" x2="0" y2="470.2"><stop offset="0.00" stop-color="#1cf05d"/><stop offset="0.15" stop-color="#10ee70"/><stop offset="0.30" stop-color="#10ec86"/><stop offset="0.45" stop-color="#10ea9c"/><stop offset="0.60" stop-color="#10e8b2"/><stop offset="0.73" stop-color="#10e7c2"/><stop offset="0.85" stop-color="#10e6d3"/><stop offset="0.94" stop-color="#10e5e1"/><stop offset="1.00" stop-color="#10e5ef"/></linearGradient>
<linearGradient id="ge51" gradientUnits="userSpaceOnUse" x1="0" y1="402.8" x2="0" y2="466.4"><stop offset="0.00" stop-color="#10ef69"/><stop offset="0.15" stop-color="#10ed7d"/><stop offset="0.30" stop-color="#10eb92"/><stop offset="0.45" stop-color="#10e9a8"/><stop offset="0.60" stop-color="#10e7bb"/><stop offset="0.73" stop-color="#10e7cb"/><stop offset="0.85" stop-color="#10e6db"/><stop offset="0.94" stop-color="#10e5e9"/><stop offset="1.00" stop-color="#10e4f6"/></linearGradient>
<linearGradient id="ge52" gradientUnits="userSpaceOnUse" x1="0" y1="402.5" x2="0" y2="463.7"><stop offset="0.00" stop-color="#10ee78"/><stop offset="0.15" stop-color="#10ec8c"/><stop offset="0.30" stop-color="#10eaa0"/><stop offset="0.45" stop-color="#10e8b4"/><stop offset="0.60" stop-color="#10e7c5"/><stop offset="0.73" stop-color="#10e6d4"/><stop offset="0.85" stop-color="#10e5e4"/><stop offset="0.94" stop-color="#10e5f1"/><stop offset="1.00" stop-color="#10e2fc"/></linearGradient>
<linearGradient id="ge53" gradientUnits="userSpaceOnUse" x1="0" y1="402.1" x2="0" y2="461.0"><stop offset="0.00" stop-color="#10ec86"/><stop offset="0.15" stop-color="#10ea9a"/><stop offset="0.30" stop-color="#10e8ae"/><stop offset="0.45" stop-color="#10e7be"/><stop offset="0.60" stop-color="#10e6cf"/><stop offset="0.73" stop-color="#10e6de"/><stop offset="0.85" stop-color="#10e5ed"/><stop offset="0.94" stop-color="#10e4fa"/><stop offset="1.00" stop-color="#10dbfb"/></linearGradient>
<linearGradient id="ge54" gradientUnits="userSpaceOnUse" x1="0" y1="401.8" x2="0" y2="458.3"><stop offset="0.00" stop-color="#10eb95"/><stop offset="0.15" stop-color="#10e9a8"/><stop offset="0.30" stop-color="#10e8b9"/><stop offset="0.45" stop-color="#10e7c8"/><stop offset="0.60" stop-color="#10e6d8"/><stop offset="0.73" stop-color="#10e5e7"/><stop offset="0.85" stop-color="#10e4f6"/><stop offset="0.94" stop-color="#10defb"/><stop offset="1.00" stop-color="#10d4fa"/></linearGradient>
<linearGradient id="ge55" gradientUnits="userSpaceOnUse" x1="0" y1="401.5" x2="0" y2="455.6"><stop offset="0.00" stop-color="#10e9a4"/><stop offset="0.15" stop-color="#10e8b5"/><stop offset="0.30" stop-color="#10e7c4"/><stop offset="0.45" stop-color="#10e6d3"/><stop offset="0.60" stop-color="#10e5e2"/><stop offset="0.73" stop-color="#10e5f1"/><stop offset="0.85" stop-color="#10e1fc"/><stop offset="0.94" stop-color="#10d6fa"/><stop offset="1.00" stop-color="#10ccf9"/></linearGradient>
<linearGradient id="ge56" gradientUnits="userSpaceOnUse" x1="0" y1="401.1" x2="0" y2="452.9"><stop offset="0.00" stop-color="#10e8b2"/><stop offset="0.15" stop-color="#10e7c0"/><stop offset="0.30" stop-color="#10e6ce"/><stop offset="0.45" stop-color="#10e6dd"/><stop offset="0.60" stop-color="#10e5ec"/><stop offset="0.73" stop-color="#10e4fa"/><stop offset="0.85" stop-color="#10dafb"/><stop offset="0.94" stop-color="#10cff9"/><stop offset="1.00" stop-color="#10c5f8"/></linearGradient>
<linearGradient id="ge57" gradientUnits="userSpaceOnUse" x1="0" y1="400.8" x2="0" y2="450.2"><stop offset="0.00" stop-color="#10e7be"/><stop offset="0.15" stop-color="#10e7cc"/><stop offset="0.30" stop-color="#10e6d9"/><stop offset="0.45" stop-color="#10e5e7"/><stop offset="0.60" stop-color="#10e4f6"/><stop offset="0.73" stop-color="#10ddfb"/><stop offset="0.85" stop-color="#10d2f9"/><stop offset="0.94" stop-color="#10c7f8"/><stop offset="1.00" stop-color="#10bcf8"/></linearGradient>
<linearGradient id="ge58" gradientUnits="userSpaceOnUse" x1="0" y1="400.5" x2="0" y2="447.8"><stop offset="0.00" stop-color="#10e7ca"/><stop offset="0.15" stop-color="#10e6d7"/><stop offset="0.30" stop-color="#10e5e4"/><stop offset="0.45" stop-color="#10e5f2"/><stop offset="0.60" stop-color="#10e0fb"/><stop offset="0.73" stop-color="#10d5fa"/><stop offset="0.85" stop-color="#10caf8"/><stop offset="0.94" stop-color="#10bff8"/><stop offset="1.00" stop-color="#10b4f8"/></linearGradient>
<linearGradient id="ge59" gradientUnits="userSpaceOnUse" x1="0" y1="400.2" x2="0" y2="445.8"><stop offset="0.00" stop-color="#10e6d5"/><stop offset="0.15" stop-color="#10e5e2"/><stop offset="0.30" stop-color="#10e5ef"/><stop offset="0.45" stop-color="#10e4fc"/><stop offset="0.60" stop-color="#10d8fa"/><stop offset="0.73" stop-color="#10cdf9"/><stop offset="0.85" stop-color="#10c1f8"/><stop offset="0.94" stop-color="#10b6f8"/><stop offset="1.00" stop-color="#10abf8"/></linearGradient>
<linearGradient id="ge60" gradientUnits="userSpaceOnUse" x1="0" y1="399.9" x2="0" y2="443.7"><stop offset="0.00" stop-color="#10e5e1"/><stop offset="0.15" stop-color="#10e5ee"/><stop offset="0.30" stop-color="#10e4fa"/><stop offset="0.45" stop-color="#10dbfb"/><stop offset="0.60" stop-color="#10cff9"/><stop offset="0.73" stop-color="#10c4f8"/><stop offset="0.85" stop-color="#10b8f8"/><stop offset="0.94" stop-color="#10adf8"/><stop offset="1.00" stop-color="#10a3f8"/></linearGradient>
<linearGradient id="ge61" gradientUnits="userSpaceOnUse" x1="0" y1="399.7" x2="0" y2="441.6"><stop offset="0.00" stop-color="#10e5ed"/><stop offset="0.15" stop-color="#10e4f9"/><stop offset="0.30" stop-color="#10dcfb"/><stop offset="0.45" stop-color="#10d2f9"/><stop offset="0.60" stop-color="#10c7f8"/><stop offset="0.73" stop-color="#10bbf8"/><stop offset="0.85" stop-color="#10aff8"/><stop offset="0.94" stop-color="#10a4f8"/><stop offset="1.00" stop-color="#109bf8"/></linearGradient>
<linearGradient id="ge62" gradientUnits="userSpaceOnUse" x1="0" y1="399.6" x2="0" y2="439.6"><stop offset="0.00" stop-color="#10e4f9"/><stop offset="0.15" stop-color="#10ddfb"/><stop offset="0.30" stop-color="#10d3fa"/><stop offset="0.45" stop-color="#10c9f8"/><stop offset="0.60" stop-color="#10bdf8"/><stop offset="0.73" stop-color="#10b1f8"/><stop offset="0.85" stop-color="#10a6f8"/><stop offset="0.94" stop-color="#109cf8"/><stop offset="1.00" stop-color="#1092f8"/></linearGradient>
<linearGradient id="ge63" gradientUnits="userSpaceOnUse" x1="0" y1="399.5" x2="0" y2="437.5"><stop offset="0.00" stop-color="#10d9fa"/><stop offset="0.15" stop-color="#10d0f9"/><stop offset="0.30" stop-color="#10c7f8"/><stop offset="0.45" stop-color="#10bcf8"/><stop offset="0.60" stop-color="#10b0f8"/><stop offset="0.73" stop-color="#10a6f8"/><stop offset="0.85" stop-color="#109bf8"/><stop offset="0.94" stop-color="#1092f8"/><stop offset="1.00" stop-color="#1089f8"/></linearGradient>
<linearGradient id="ge64" gradientUnits="userSpaceOnUse" x1="0" y1="399.3" x2="0" y2="435.4"><stop offset="0.00" stop-color="#10c8f8"/><stop offset="0.15" stop-color="#10bef8"/><stop offset="0.30" stop-color="#10b4f8"/><stop offset="0.45" stop-color="#10a9f8"/><stop offset="0.60" stop-color="#109ff8"/><stop offset="0.73" stop-color="#1095f8"/><stop offset="0.85" stop-color="#108bf8"/><stop offset="0.94" stop-color="#1082f8"/><stop offset="1.00" stop-color="#107af8"/></linearGradient>
<linearGradient id="ge65" gradientUnits="userSpaceOnUse" x1="0" y1="399.2" x2="0" y2="433.4"><stop offset="0.00" stop-color="#10b3f8"/><stop offset="0.15" stop-color="#10aaf8"/><stop offset="0.30" stop-color="#10a1f8"/><stop offset="0.45" stop-color="#1097f8"/><stop offset="0.60" stop-color="#108df8"/><stop offset="0.73" stop-color="#1084f8"/><stop offset="0.85" stop-color="#107af8"/><stop offset="0.94" stop-color="#1072f8"/><stop offset="1.00" stop-color="#1269f7"/></linearGradient>
<linearGradient id="ge66" gradientUnits="userSpaceOnUse" x1="0" y1="399.0" x2="0" y2="431.3"><stop offset="0.00" stop-color="#109ff8"/><stop offset="0.15" stop-color="#1096f8"/><stop offset="0.30" stop-color="#108ef8"/><stop offset="0.45" stop-color="#1085f8"/><stop offset="0.60" stop-color="#107bf8"/><stop offset="0.73" stop-color="#1073f8"/><stop offset="0.85" stop-color="#1268f7"/><stop offset="0.94" stop-color="#155ef7"/><stop offset="1.00" stop-color="#1855f6"/></linearGradient>
<linearGradient id="ge67" gradientUnits="userSpaceOnUse" x1="0" y1="398.9" x2="0" y2="429.4"><stop offset="0.00" stop-color="#108bf8"/><stop offset="0.15" stop-color="#1083f8"/><stop offset="0.30" stop-color="#107bf8"/><stop offset="0.45" stop-color="#1073f8"/><stop offset="0.60" stop-color="#1268f7"/><stop offset="0.73" stop-color="#155ef7"/><stop offset="0.85" stop-color="#1853f6"/><stop offset="0.94" stop-color="#1b4af5"/><stop offset="1.00" stop-color="#1d41f5"/></linearGradient>
<linearGradient id="ge68" gradientUnits="userSpaceOnUse" x1="0" y1="398.8" x2="0" y2="427.8"><stop offset="0.00" stop-color="#107bf8"/><stop offset="0.15" stop-color="#1073f8"/><stop offset="0.30" stop-color="#126bf8"/><stop offset="0.45" stop-color="#1460f7"/><stop offset="0.60" stop-color="#1856f6"/><stop offset="0.73" stop-color="#1a4cf5"/><stop offset="0.85" stop-color="#1d42f5"/><stop offset="0.94" stop-color="#2039f4"/><stop offset="1.00" stop-color="#3113f4"/></linearGradient>
<linearGradient id="ge69" gradientUnits="userSpaceOnUse" x1="0" y1="398.6" x2="0" y2="426.3"><stop offset="0.00" stop-color="#1268f7"/><stop offset="0.15" stop-color="#1560f7"/><stop offset="0.30" stop-color="#1756f6"/><stop offset="0.45" stop-color="#1a4df5"/><stop offset="0.60" stop-color="#1d43f5"/><stop offset="0.73" stop-color="#1f3af4"/><stop offset="0.85" stop-color="#3112f4"/><stop offset="0.94" stop-color="#3210f1"/><stop offset="1.00" stop-color="#3210ee"/></linearGradient>
<linearGradient id="ge70" gradientUnits="userSpaceOnUse" x1="0" y1="398.5" x2="0" y2="424.7"><stop offset="0.00" stop-color="#1853f6"/><stop offset="0.15" stop-color="#1b4bf5"/><stop offset="0.30" stop-color="#1d42f5"/><stop offset="0.45" stop-color="#203af4"/><stop offset="0.60" stop-color="#3211f4"/><stop offset="0.73" stop-color="#3210f1"/><stop offset="0.85" stop-color="#3210ed"/><stop offset="0.94" stop-color="#3210ea"/><stop offset="1.00" stop-color="#3110e7"/></linearGradient>
<linearGradient id="ge71" gradientUnits="userSpaceOnUse" x1="0" y1="398.4" x2="0" y2="423.1"><stop offset="0.00" stop-color="#1f3df4"/><stop offset="0.15" stop-color="#252cf4"/><stop offset="0.30" stop-color="#3210f3"/><stop offset="0.45" stop-color="#3210f0"/><stop offset="0.60" stop-color="#3210ec"/><stop offset="0.73" stop-color="#3210e9"/><stop offset="0.85" stop-color="#3110e6"/><stop offset="0.94" stop-color="#3110e3"/><stop offset="1.00" stop-color="#3110e1"/></linearGradient>
<linearGradient id="ge72" gradientUnits="userSpaceOnUse" x1="0" y1="398.3" x2="0" y2="421.5"><stop offset="0.00" stop-color="#3210f1"/><stop offset="0.15" stop-color="#3210ee"/><stop offset="0.30" stop-color="#3210eb"/><stop offset="0.45" stop-color="#3110e8"/><stop offset="0.60" stop-color="#3110e5"/><stop offset="0.73" stop-color="#3110e2"/><stop offset="0.85" stop-color="#3110df"/><stop offset="0.94" stop-color="#3110dd"/><stop offset="1.00" stop-color="#3110da"/></linearGradient>
<linearGradient id="ge73" gradientUnits="userSpaceOnUse" x1="0" y1="398.2" x2="0" y2="420.0"><stop offset="0.00" stop-color="#3110e8"/><stop offset="0.15" stop-color="#3110e6"/><stop offset="0.30" stop-color="#3110e3"/><stop offset="0.45" stop-color="#3110e0"/><stop offset="0.60" stop-color="#3110de"/><stop offset="0.73" stop-color="#3110db"/><stop offset="0.85" stop-color="#3110d9"/><stop offset="0.94" stop-color="#3110d6"/><stop offset="1.00" stop-color="#3110d4"/></linearGradient>
<linearGradient id="ge74" gradientUnits="userSpaceOnUse" x1="0" y1="398.1" x2="0" y2="418.4"><stop offset="0.00" stop-color="#3110e0"/><stop offset="0.15" stop-color="#3110dd"/><stop offset="0.30" stop-color="#3110db"/><stop offset="0.45" stop-color="#3110d9"/><stop offset="0.60" stop-color="#3110d6"/><stop offset="0.73" stop-color="#3110d4"/><stop offset="0.85" stop-color="#3010d2"/><stop offset="0.94" stop-color="#3010d0"/><stop offset="1.00" stop-color="#3010ce"/></linearGradient>
<linearGradient id="ge75" gradientUnits="userSpaceOnUse" x1="0" y1="398.0" x2="0" y2="416.8"><stop offset="0.00" stop-color="#3110d7"/><stop offset="0.15" stop-color="#3110d5"/><stop offset="0.30" stop-color="#3110d3"/><stop offset="0.45" stop-color="#3010d1"/><stop offset="0.60" stop-color="#3010cf"/><stop offset="0.73" stop-color="#3010cd"/><stop offset="0.85" stop-color="#3010cb"/><stop offset="0.94" stop-color="#3010c9"/><stop offset="1.00" stop-color="#3010c8"/></linearGradient>
<linearGradient id="ge76" gradientUnits="userSpaceOnUse" x1="0" y1="397.8" x2="0" y2="415.3"><stop offset="0.00" stop-color="#3010cf"/><stop offset="0.15" stop-color="#3010cd"/><stop offset="0.30" stop-color="#3010cb"/><stop offset="0.45" stop-color="#3010ca"/><stop offset="0.60" stop-color="#3010c8"/><stop offset="0.73" stop-color="#3010c5"/><stop offset="0.85" stop-color="#2f0fc3"/><stop offset="0.94" stop-color="#2f0fc1"/><stop offset="1.00" stop-color="#2f0fbf"/></linearGradient>
<linearGradient id="ge77" gradientUnits="userSpaceOnUse" x1="0" y1="397.7" x2="0" y2="407.7"><stop offset="0.00" stop-color="#2f0fc3"/><stop offset="0.15" stop-color="#2f0fc1"/><stop offset="0.30" stop-color="#2f0fbf"/><stop offset="0.45" stop-color="#2f0fbd"/><stop offset="0.60" stop-color="#2e0ebb"/><stop offset="0.73" stop-color="#2e0eb9"/><stop offset="0.85" stop-color="#2e0eb7"/><stop offset="0.94" stop-color="#2e0eb6"/><stop offset="1.00" stop-color="#2d0db4"/></linearGradient>
<linearGradient id="ge78" gradientUnits="userSpaceOnUse" x1="0" y1="397.6" x2="0" y2="399.8"><stop offset="0.00" stop-color="#2d0db5"/><stop offset="0.15" stop-color="#2d0db4"/><stop offset="0.30" stop-color="#2d0db2"/><stop offset="0.45" stop-color="#2d0db1"/><stop offset="0.60" stop-color="#2d0daf"/><stop offset="0.73" stop-color="#2c0cae"/><stop offset="0.85" stop-color="#2c0cac"/><stop offset="0.94" stop-color="#2c0cab"/><stop offset="1.00" stop-color="#2c0ca9"/></linearGradient>
<linearGradient id="ge79" gradientUnits="userSpaceOnUse" x1="0" y1="397.6" x2="0" y2="399.8"><stop offset="0.00" stop-color="#2c0ca7"/><stop offset="0.15" stop-color="#2b0ba6"/><stop offset="0.30" stop-color="#2b0ba5"/><stop offset="0.45" stop-color="#2b0ba4"/><stop offset="0.60" stop-color="#2b0ba3"/><stop offset="0.73" stop-color="#2b0ba2"/><stop offset="0.85" stop-color="#2b0ba1"/><stop offset="0.94" stop-color="#2b0ba0"/><stop offset="1.00" stop-color="#2b0b9f"/></linearGradient>
<linearGradient id="ge80" gradientUnits="userSpaceOnUse" x1="0" y1="397.6" x2="0" y2="399.8"><stop offset="0.00" stop-color="#2b0ba3"/><stop offset="0.15" stop-color="#2b0ba2"/><stop offset="0.30" stop-color="#2b0ba1"/><stop offset="0.45" stop-color="#2b0ba1"/><stop offset="0.60" stop-color="#2b0ba0"/><stop offset="0.73" stop-color="#2b0b9f"/><stop offset="0.85" stop-color="#2a0a9e"/><stop offset="0.94" stop-color="#2a0a9d"/><stop offset="1.00" stop-color="#2a0a9d"/></linearGradient>
<clipPath id="cp_f"><path d="M277.3,398.0 L292.9,399.9 L308.2,402.4 L321.6,406.2 L335.0,408.2 L346.4,408.5 L359.8,408.2 L374.1,403.8 L393.2,401.1 L412.3,399.6 L434.9,397.6 L431.2,413.6 L420.9,421.6 L411.7,429.0 L402.4,438.5 L393.2,448.0 L387.2,456.1 L380.2,465.6 L374.2,477.3 L368.8,489.8 L363.3,500.8 L358.4,505.9 L353.0,508.9 L344.9,509.2 L336.2,505.9 L328.6,497.1 L322.1,483.9 L316.6,467.8 L311.2,449.5 L306.9,439.2 L300.3,429.0 L292.2,423.8 L284.1,413.6 L277.0,404.3Z"/></clipPath>
<linearGradient id="gf0" gradientUnits="userSpaceOnUse" x1="0" y1="398.1" x2="0" y2="404.0"><stop offset="0.00" stop-color="#290996"/><stop offset="0.15" stop-color="#290996"/><stop offset="0.30" stop-color="#290995"/><stop offset="0.45" stop-color="#290994"/><stop offset="0.60" stop-color="#290994"/><stop offset="0.73" stop-color="#290993"/><stop offset="0.85" stop-color="#290993"/><stop offset="0.94" stop-color="#290992"/><stop offset="1.00" stop-color="#290992"/></linearGradient>
<linearGradient id="gf1" gradientUnits="userSpaceOnUse" x1="0" y1="398.3" x2="0" y2="406.9"><stop offset="0.00" stop-color="#2a0a9b"/><stop offset="0.15" stop-color="#2a0a9a"/><stop offset="0.30" stop-color="#2a0a99"/><stop offset="0.45" stop-color="#2a0a98"/><stop offset="0.60" stop-color="#290997"/><stop offset="0.73" stop-color="#290996"/><stop offset="0.85" stop-color="#290996"/><stop offset="0.94" stop-color="#290995"/><stop offset="1.00" stop-color="#290995"/></linearGradient>
<linearGradient id="gf2" gradientUnits="userSpaceOnUse" x1="0" y1="398.5" x2="0" y2="409.8"><stop offset="0.00" stop-color="#2b0b9f"/><stop offset="0.15" stop-color="#2a0a9e"/><stop offset="0.30" stop-color="#2a0a9d"/><stop offset="0.45" stop-color="#2a0a9b"/><stop offset="0.60" stop-color="#2a0a9a"/><stop offset="0.73" stop-color="#2a0a99"/><stop offset="0.85" stop-color="#2a0a98"/><stop offset="0.94" stop-color="#2a0a98"/><stop offset="1.00" stop-color="#290997"/></linearGradient>
<linearGradient id="gf3" gradientUnits="userSpaceOnUse" x1="0" y1="398.8" x2="0" y2="412.8"><stop offset="0.00" stop-color="#2b0ba3"/><stop offset="0.15" stop-color="#2b0ba2"/><stop offset="0.30" stop-color="#2b0ba0"/><stop offset="0.45" stop-color="#2b0b9f"/><stop offset="0.60" stop-color="#2a0a9d"/><stop offset="0.73" stop-color="#2a0a9c"/><stop offset="0.85" stop-color="#2a0a9b"/><stop offset="0.94" stop-color="#2a0a9a"/><stop offset="1.00" stop-color="#2a0a9a"/></linearGradient>
<linearGradient id="gf4" gradientUnits="userSpaceOnUse" x1="0" y1="399.0" x2="0" y2="415.4"><stop offset="0.00" stop-color="#2c0ca7"/><stop offset="0.15" stop-color="#2b0ba6"/><stop offset="0.30" stop-color="#2b0ba4"/><stop offset="0.45" stop-color="#2b0ba2"/><stop offset="0.60" stop-color="#2b0ba1"/><stop offset="0.73" stop-color="#2b0b9f"/><stop offset="0.85" stop-color="#2a0a9e"/><stop offset="0.94" stop-color="#2a0a9d"/><stop offset="1.00" stop-color="#2a0a9c"/></linearGradient>
<linearGradient id="gf5" gradientUnits="userSpaceOnUse" x1="0" y1="399.3" x2="0" y2="417.9"><stop offset="0.00" stop-color="#2c0cac"/><stop offset="0.15" stop-color="#2c0caa"/><stop offset="0.30" stop-color="#2c0ca8"/><stop offset="0.45" stop-color="#2b0ba6"/><stop offset="0.60" stop-color="#2b0ba4"/><stop offset="0.73" stop-color="#2b0ba2"/><stop offset="0.85" stop-color="#2b0ba1"/><stop offset="0.94" stop-color="#2b0ba0"/><stop offset="1.00" stop-color="#2a0a9f"/></linearGradient>
<linearGradient id="gf6" gradientUnits="userSpaceOnUse" x1="0" y1="399.5" x2="0" y2="420.4"><stop offset="0.00" stop-color="#2d0db0"/><stop offset="0.15" stop-color="#2c0cae"/><stop offset="0.30" stop-color="#2c0cab"/><stop offset="0.45" stop-color="#2c0ca9"/><stop offset="0.60" stop-color="#2c0ca7"/><stop offset="0.73" stop-color="#2b0ba5"/><stop offset="0.85" stop-color="#2b0ba3"/><stop offset="0.94" stop-color="#2b0ba2"/><stop offset="1.00" stop-color="#2b0ba1"/></linearGradient>
<linearGradient id="gf7" gradientUnits="userSpaceOnUse" x1="0" y1="399.8" x2="0" y2="422.9"><stop offset="0.00" stop-color="#2d0db4"/><stop offset="0.15" stop-color="#2d0db2"/><stop offset="0.30" stop-color="#2d0daf"/><stop offset="0.45" stop-color="#2c0cad"/><stop offset="0.60" stop-color="#2c0caa"/><stop offset="0.73" stop-color="#2c0ca8"/><stop offset="0.85" stop-color="#2b0ba6"/><stop offset="0.94" stop-color="#2b0ba5"/><stop offset="1.00" stop-color="#2b0ba4"/></linearGradient>
<linearGradient id="gf8" gradientUnits="userSpaceOnUse" x1="0" y1="400.0" x2="0" y2="424.6"><stop offset="0.00" stop-color="#2e0eb8"/><stop offset="0.15" stop-color="#2e0eb6"/><stop offset="0.30" stop-color="#2d0db3"/><stop offset="0.45" stop-color="#2d0db0"/><stop offset="0.60" stop-color="#2c0cae"/><stop offset="0.73" stop-color="#2c0cab"/><stop offset="0.85" stop-color="#2c0ca9"/><stop offset="0.94" stop-color="#2c0ca7"/><stop offset="1.00" stop-color="#2c0ca6"/></linearGradient>
<linearGradient id="gf9" gradientUnits="userSpaceOnUse" x1="0" y1="400.4" x2="0" y2="425.9"><stop offset="0.00" stop-color="#2e0ebd"/><stop offset="0.15" stop-color="#2e0eba"/><stop offset="0.30" stop-color="#2e0eb7"/><stop offset="0.45" stop-color="#2d0db4"/><stop offset="0.60" stop-color="#2d0db1"/><stop offset="0.73" stop-color="#2d0dae"/><stop offset="0.85" stop-color="#2c0cac"/><stop offset="0.94" stop-color="#2c0caa"/><stop offset="1.00" stop-color="#2c0ca9"/></linearGradient>
<linearGradient id="gf10" gradientUnits="userSpaceOnUse" x1="0" y1="400.7" x2="0" y2="427.2"><stop offset="0.00" stop-color="#2f0fc1"/><stop offset="0.15" stop-color="#2f0fbe"/><stop offset="0.30" stop-color="#2e0eba"/><stop offset="0.45" stop-color="#2e0eb7"/><stop offset="0.60" stop-color="#2d0db4"/><stop offset="0.73" stop-color="#2d0db1"/><stop offset="0.85" stop-color="#2d0daf"/><stop offset="0.94" stop-color="#2c0cad"/><stop offset="1.00" stop-color="#2c0cab"/></linearGradient>
<linearGradient id="gf11" gradientUnits="userSpaceOnUse" x1="0" y1="401.0" x2="0" y2="428.4"><stop offset="0.00" stop-color="#3010c8"/><stop offset="0.15" stop-color="#2f0fc4"/><stop offset="0.30" stop-color="#2f0fc0"/><stop offset="0.45" stop-color="#2e0ebd"/><stop offset="0.60" stop-color="#2e0eb9"/><stop offset="0.73" stop-color="#2e0eb6"/><stop offset="0.85" stop-color="#2d0db3"/><stop offset="0.94" stop-color="#2d0db0"/><stop offset="1.00" stop-color="#2d0daf"/></linearGradient>
<linearGradient id="gf12" gradientUnits="userSpaceOnUse" x1="0" y1="401.3" x2="0" y2="430.8"><stop offset="0.00" stop-color="#3010d0"/><stop offset="0.15" stop-color="#3010cd"/><stop offset="0.30" stop-color="#3010ca"/><stop offset="0.45" stop-color="#3010c6"/><stop offset="0.60" stop-color="#2f0fc1"/><stop offset="0.73" stop-color="#2f0fbe"/><stop offset="0.85" stop-color="#2e0eba"/><stop offset="0.94" stop-color="#2e0eb7"/><stop offset="1.00" stop-color="#2e0eb5"/></linearGradient>
<linearGradient id="gf13" gradientUnits="userSpaceOnUse" x1="0" y1="401.7" x2="0" y2="433.9"><stop offset="0.00" stop-color="#3110d8"/><stop offset="0.15" stop-color="#3110d4"/><stop offset="0.30" stop-color="#3010d1"/><stop offset="0.45" stop-color="#3010cd"/><stop offset="0.60" stop-color="#3010c9"/><stop offset="0.73" stop-color="#3010c5"/><stop offset="0.85" stop-color="#2f0fc1"/><stop offset="0.94" stop-color="#2f0fbe"/><stop offset="1.00" stop-color="#2e0ebc"/></linearGradient>
<linearGradient id="gf14" gradientUnits="userSpaceOnUse" x1="0" y1="402.0" x2="0" y2="437.1"><stop offset="0.00" stop-color="#3110df"/><stop offset="0.15" stop-color="#3110db"/><stop offset="0.30" stop-color="#3110d7"/><stop offset="0.45" stop-color="#3110d3"/><stop offset="0.60" stop-color="#3010cf"/><stop offset="0.73" stop-color="#3010cc"/><stop offset="0.85" stop-color="#3010c8"/><stop offset="0.94" stop-color="#3010c5"/><stop offset="1.00" stop-color="#2f0fc3"/></linearGradient>
<linearGradient id="gf15" gradientUnits="userSpaceOnUse" x1="0" y1="402.3" x2="0" y2="440.7"><stop offset="0.00" stop-color="#3110e7"/><stop offset="0.15" stop-color="#3110e3"/><stop offset="0.30" stop-color="#3110de"/><stop offset="0.45" stop-color="#3110da"/><stop offset="0.60" stop-color="#3110d5"/><stop offset="0.73" stop-color="#3010d1"/><stop offset="0.85" stop-color="#3010cd"/><stop offset="0.94" stop-color="#3010cb"/><stop offset="1.00" stop-color="#3010c9"/></linearGradient>
<linearGradient id="gf16" gradientUnits="userSpaceOnUse" x1="0" y1="402.8" x2="0" y2="445.4"><stop offset="0.00" stop-color="#1e3ef4"/><stop offset="0.15" stop-color="#3112f4"/><stop offset="0.30" stop-color="#3210ee"/><stop offset="0.45" stop-color="#3110e8"/><stop offset="0.60" stop-color="#3110e1"/><stop offset="0.73" stop-color="#3110db"/><stop offset="0.85" stop-color="#3110d5"/><stop offset="0.94" stop-color="#3010d1"/><stop offset="1.00" stop-color="#3010cf"/></linearGradient>
<linearGradient id="gf17" gradientUnits="userSpaceOnUse" x1="0" y1="403.4" x2="0" y2="450.5"><stop offset="0.00" stop-color="#116ef8"/><stop offset="0.15" stop-color="#155df7"/><stop offset="0.30" stop-color="#1a4df5"/><stop offset="0.45" stop-color="#1f3cf4"/><stop offset="0.60" stop-color="#3210f2"/><stop offset="0.73" stop-color="#3210ec"/><stop offset="0.85" stop-color="#3110e6"/><stop offset="0.94" stop-color="#3110e2"/><stop offset="1.00" stop-color="#3110df"/></linearGradient>
<linearGradient id="gf18" gradientUnits="userSpaceOnUse" x1="0" y1="403.9" x2="0" y2="457.2"><stop offset="0.00" stop-color="#1078f8"/><stop offset="0.15" stop-color="#1269f8"/><stop offset="0.30" stop-color="#1758f6"/><stop offset="0.45" stop-color="#1c46f5"/><stop offset="0.60" stop-color="#2825f4"/><stop offset="0.73" stop-color="#3210ef"/><stop offset="0.85" stop-color="#3210e9"/><stop offset="0.94" stop-color="#3110e5"/><stop offset="1.00" stop-color="#3110e2"/></linearGradient>
<linearGradient id="gf19" gradientUnits="userSpaceOnUse" x1="0" y1="404.5" x2="0" y2="464.0"><stop offset="0.00" stop-color="#1081f8"/><stop offset="0.15" stop-color="#1074f8"/><stop offset="0.30" stop-color="#1463f7"/><stop offset="0.45" stop-color="#1950f6"/><stop offset="0.60" stop-color="#1e3ef4"/><stop offset="0.73" stop-color="#3210f3"/><stop offset="0.85" stop-color="#3210ed"/><stop offset="0.94" stop-color="#3110e8"/><stop offset="1.00" stop-color="#3110e5"/></linearGradient>
<linearGradient id="gf20" gradientUnits="userSpaceOnUse" x1="0" y1="405.1" x2="0" y2="470.4"><stop offset="0.00" stop-color="#108bf8"/><stop offset="0.15" stop-color="#107df8"/><stop offset="0.30" stop-color="#116ef8"/><stop offset="0.45" stop-color="#165af6"/><stop offset="0.60" stop-color="#1c47f5"/><stop offset="0.73" stop-color="#262bf4"/><stop offset="0.85" stop-color="#3210f0"/><stop offset="0.94" stop-color="#3210eb"/><stop offset="1.00" stop-color="#3110e7"/></linearGradient>
<linearGradient id="gf21" gradientUnits="userSpaceOnUse" x1="0" y1="405.6" x2="0" y2="476.3"><stop offset="0.00" stop-color="#1095f8"/><stop offset="0.15" stop-color="#1086f8"/><stop offset="0.30" stop-color="#1077f8"/><stop offset="0.45" stop-color="#1365f7"/><stop offset="0.60" stop-color="#1950f6"/><stop offset="0.73" stop-color="#1e3ef4"/><stop offset="0.85" stop-color="#3210f3"/><stop offset="0.94" stop-color="#3210ee"/><stop offset="1.00" stop-color="#3210ea"/></linearGradient>
<linearGradient id="gf22" gradientUnits="userSpaceOnUse" x1="0" y1="406.2" x2="0" y2="482.2"><stop offset="0.00" stop-color="#109ef8"/><stop offset="0.15" stop-color="#108ff8"/><stop offset="0.30" stop-color="#107ff8"/><stop offset="0.45" stop-color="#106ff8"/><stop offset="0.60" stop-color="#1759f6"/><stop offset="0.73" stop-color="#1c46f5"/><stop offset="0.85" stop-color="#2826f4"/><stop offset="0.94" stop-color="#3210f0"/><stop offset="1.00" stop-color="#3210ed"/></linearGradient>
<linearGradient id="gf23" gradientUnits="userSpaceOnUse" x1="0" y1="406.5" x2="0" y2="486.8"><stop offset="0.00" stop-color="#10a8f8"/><stop offset="0.15" stop-color="#1098f8"/><stop offset="0.30" stop-color="#1088f8"/><stop offset="0.45" stop-color="#1077f8"/><stop offset="0.60" stop-color="#1462f7"/><stop offset="0.73" stop-color="#1a4ef6"/><stop offset="0.85" stop-color="#1f3cf4"/><stop offset="0.94" stop-color="#3210f3"/><stop offset="1.00" stop-color="#3210ef"/></linearGradient>
<linearGradient id="gf24" gradientUnits="userSpaceOnUse" x1="0" y1="406.8" x2="0" y2="490.9"><stop offset="0.00" stop-color="#10b2f8"/><stop offset="0.15" stop-color="#10a1f8"/><stop offset="0.30" stop-color="#1090f8"/><stop offset="0.45" stop-color="#107ef8"/><stop offset="0.60" stop-color="#116cf8"/><stop offset="0.73" stop-color="#1757f6"/><stop offset="0.85" stop-color="#1d44f5"/><stop offset="0.94" stop-color="#262bf4"/><stop offset="1.00" stop-color="#3210f2"/></linearGradient>
<linearGradient id="gf25" gradientUnits="userSpaceOnUse" x1="0" y1="407.1" x2="0" y2="494.9"><stop offset="0.00" stop-color="#10bbf8"/><stop offset="0.15" stop-color="#10aaf8"/><stop offset="0.30" stop-color="#1098f8"/><stop offset="0.45" stop-color="#1086f8"/><stop offset="0.60" stop-color="#1074f8"/><stop offset="0.73" stop-color="#155ff7"/><stop offset="0.85" stop-color="#1a4bf5"/><stop offset="0.94" stop-color="#1f3cf4"/><stop offset="1.00" stop-color="#2d1cf4"/></linearGradient>
<linearGradient id="gf26" gradientUnits="userSpaceOnUse" x1="0" y1="407.4" x2="0" y2="498.2"><stop offset="0.00" stop-color="#10c5f8"/><stop offset="0.15" stop-color="#10b3f8"/><stop offset="0.30" stop-color="#10a1f8"/><stop offset="0.45" stop-color="#108ef8"/><stop offset="0.60" stop-color="#107bf8"/><stop offset="0.73" stop-color="#1268f7"/><stop offset="0.85" stop-color="#1853f6"/><stop offset="0.94" stop-color="#1d44f5"/><stop offset="1.00" stop-color="#1f3af4"/></linearGradient>
<linearGradient id="gf27" gradientUnits="userSpaceOnUse" x1="0" y1="407.7" x2="0" y2="500.5"><stop offset="0.00" stop-color="#10cef9"/><stop offset="0.15" stop-color="#10bcf8"/><stop offset="0.30" stop-color="#10a9f8"/><stop offset="0.45" stop-color="#1096f8"/><stop offset="0.60" stop-color="#1082f8"/><stop offset="0.73" stop-color="#1071f8"/><stop offset="0.85" stop-color="#165bf7"/><stop offset="0.94" stop-color="#1b4bf5"/><stop offset="1.00" stop-color="#1d42f5"/></linearGradient>
<linearGradient id="gf28" gradientUnits="userSpaceOnUse" x1="0" y1="408.0" x2="0" y2="502.8"><stop offset="0.00" stop-color="#10d7fa"/><stop offset="0.15" stop-color="#10c6f8"/><stop offset="0.30" stop-color="#10b2f8"/><stop offset="0.45" stop-color="#109ef8"/><stop offset="0.60" stop-color="#1089f8"/><stop offset="0.73" stop-color="#1077f8"/><stop offset="0.85" stop-color="#1463f7"/><stop offset="0.94" stop-color="#1853f6"/><stop offset="1.00" stop-color="#1b4af5"/></linearGradient>
<linearGradient id="gf29" gradientUnits="userSpaceOnUse" x1="0" y1="408.2" x2="0" y2="505.1"><stop offset="0.00" stop-color="#10dffb"/><stop offset="0.15" stop-color="#10cef9"/><stop offset="0.30" stop-color="#10bbf8"/><stop offset="0.45" stop-color="#10a6f8"/><stop offset="0.60" stop-color="#1091f8"/><stop offset="0.73" stop-color="#107ef8"/><stop offset="0.85" stop-color="#116cf8"/><stop offset="0.94" stop-color="#165bf7"/><stop offset="1.00" stop-color="#1952f6"/></linearGradient>
<linearGradient id="gf30" gradientUnits="userSpaceOnUse" x1="0" y1="408.3" x2="0" y2="506.4"><stop offset="0.00" stop-color="#10e4f7"/><stop offset="0.15" stop-color="#10d7fa"/><stop offset="0.30" stop-color="#10c4f8"/><stop offset="0.45" stop-color="#10aef8"/><stop offset="0.60" stop-color="#1098f8"/><stop offset="0.73" stop-color="#1085f8"/><stop offset="0.85" stop-color="#1073f8"/><stop offset="0.94" stop-color="#1464f7"/><stop offset="1.00" stop-color="#165af6"/></linearGradient>
<linearGradient id="gf31" gradientUnits="userSpaceOnUse" x1="0" y1="408.3" x2="0" y2="507.2"><stop offset="0.00" stop-color="#10e5ed"/><stop offset="0.15" stop-color="#10dffb"/><stop offset="0.30" stop-color="#10ccf9"/><stop offset="0.45" stop-color="#10b6f8"/><stop offset="0.60" stop-color="#10a0f8"/><stop offset="0.73" stop-color="#108cf8"/><stop offset="0.85" stop-color="#107af8"/><stop offset="0.94" stop-color="#116cf8"/><stop offset="1.00" stop-color="#1462f7"/></linearGradient>
<linearGradient id="gf32" gradientUnits="userSpaceOnUse" x1="0" y1="408.4" x2="0" y2="507.9"><stop offset="0.00" stop-color="#10e5e8"/><stop offset="0.15" stop-color="#10e2fc"/><stop offset="0.30" stop-color="#10d0f9"/><stop offset="0.45" stop-color="#10bcf8"/><stop offset="0.60" stop-color="#10a6f8"/><stop offset="0.73" stop-color="#1093f8"/><stop offset="0.85" stop-color="#1080f8"/><stop offset="0.94" stop-color="#1073f8"/><stop offset="1.00" stop-color="#126af8"/></linearGradient>
<linearGradient id="gf33" gradientUnits="userSpaceOnUse" x1="0" y1="408.4" x2="0" y2="508.7"><stop offset="0.00" stop-color="#10e5e4"/><stop offset="0.15" stop-color="#10e4fa"/><stop offset="0.30" stop-color="#10d3fa"/><stop offset="0.45" stop-color="#10bff8"/><stop offset="0.60" stop-color="#10a9f8"/><stop offset="0.73" stop-color="#1096f8"/><stop offset="0.85" stop-color="#1085f8"/><stop offset="0.94" stop-color="#1078f8"/><stop offset="1.00" stop-color="#1070f8"/></linearGradient>
<linearGradient id="gf34" gradientUnits="userSpaceOnUse" x1="0" y1="408.5" x2="0" y2="509.2"><stop offset="0.00" stop-color="#10e6df"/><stop offset="0.15" stop-color="#10e4f5"/><stop offset="0.30" stop-color="#10d7fa"/><stop offset="0.45" stop-color="#10c3f8"/><stop offset="0.60" stop-color="#10adf8"/><stop offset="0.73" stop-color="#1099f8"/><stop offset="0.85" stop-color="#1087f8"/><stop offset="0.94" stop-color="#107bf8"/><stop offset="1.00" stop-color="#1072f8"/></linearGradient>
<linearGradient id="gf35" gradientUnits="userSpaceOnUse" x1="0" y1="408.5" x2="0" y2="509.1"><stop offset="0.00" stop-color="#10e6db"/><stop offset="0.15" stop-color="#10e5f1"/><stop offset="0.30" stop-color="#10dafb"/><stop offset="0.45" stop-color="#10c6f8"/><stop offset="0.60" stop-color="#10b0f8"/><stop offset="0.73" stop-color="#109cf8"/><stop offset="0.85" stop-color="#108af8"/><stop offset="0.94" stop-color="#107df8"/><stop offset="1.00" stop-color="#1075f8"/></linearGradient>
<linearGradient id="gf36" gradientUnits="userSpaceOnUse" x1="0" y1="408.4" x2="0" y2="509.0"><stop offset="0.00" stop-color="#10e6db"/><stop offset="0.15" stop-color="#10e5f1"/><stop offset="0.30" stop-color="#10dbfb"/><stop offset="0.45" stop-color="#10c8f8"/><stop offset="0.60" stop-color="#10b3f8"/><stop offset="0.73" stop-color="#109ff8"/><stop offset="0.85" stop-color="#108df8"/><stop offset="0.94" stop-color="#1080f8"/><stop offset="1.00" stop-color="#1078f8"/></linearGradient>
<linearGradient id="gf37" gradientUnits="userSpaceOnUse" x1="0" y1="408.4" x2="0" y2="508.9"><stop offset="0.00" stop-color="#10e6db"/><stop offset="0.15" stop-color="#10e5f1"/><stop offset="0.30" stop-color="#10dbfb"/><stop offset="0.45" stop-color="#10c8f8"/><stop offset="0.60" stop-color="#10b3f8"/><stop offset="0.73" stop-color="#10a0f8"/><stop offset="0.85" stop-color="#108ff8"/><stop offset="0.94" stop-color="#1082f8"/><stop offset="1.00" stop-color="#1079f8"/></linearGradient>
<linearGradient id="gf38" gradientUnits="userSpaceOnUse" x1="0" y1="408.3" x2="0" y2="508.6"><stop offset="0.00" stop-color="#10e6db"/><stop offset="0.15" stop-color="#10e5f1"/><stop offset="0.30" stop-color="#10dbfb"/><stop offset="0.45" stop-color="#10c8f8"/><stop offset="0.60" stop-color="#10b3f8"/><stop offset="0.73" stop-color="#10a0f8"/><stop offset="0.85" stop-color="#108ff8"/><stop offset="0.94" stop-color="#1082f8"/><stop offset="1.00" stop-color="#1079f8"/></linearGradient>
<linearGradient id="gf39" gradientUnits="userSpaceOnUse" x1="0" y1="408.3" x2="0" y2="507.5"><stop offset="0.00" stop-color="#10e6db"/><stop offset="0.15" stop-color="#10e5f1"/><stop offset="0.30" stop-color="#10dbfb"/><stop offset="0.45" stop-color="#10c8f8"/><stop offset="0.60" stop-color="#10b3f8"/><stop offset="0.73" stop-color="#10a0f8"/><stop offset="0.85" stop-color="#108ff8"/><stop offset="0.94" stop-color="#1082f8"/><stop offset="1.00" stop-color="#1079f8"/></linearGradient>
<linearGradient id="gf40" gradientUnits="userSpaceOnUse" x1="0" y1="408.3" x2="0" y2="506.4"><stop offset="0.00" stop-color="#10e6db"/><stop offset="0.15" stop-color="#10e5f1"/><stop offset="0.30" stop-color="#10dbfb"/><stop offset="0.45" stop-color="#10c8f8"/><stop offset="0.60" stop-color="#10b3f8"/><stop offset="0.73" stop-color="#10a0f8"/><stop offset="0.85" stop-color="#108ff8"/><stop offset="0.94" stop-color="#1082f8"/><stop offset="1.00" stop-color="#1079f8"/></linearGradient>
<linearGradient id="gf41" gradientUnits="userSpaceOnUse" x1="0" y1="408.2" x2="0" y2="504.8"><stop offset="0.00" stop-color="#10e5e1"/><stop offset="0.15" stop-color="#10e4f7"/><stop offset="0.30" stop-color="#10d7fa"/><stop offset="0.45" stop-color="#10c5f8"/><stop offset="0.60" stop-color="#10b1f8"/><stop offset="0.73" stop-color="#10a0f8"/><stop offset="0.85" stop-color="#108ff8"/><stop offset="0.94" stop-color="#1082f8"/><stop offset="1.00" stop-color="#1079f8"/></linearGradient>
<linearGradient id="gf42" gradientUnits="userSpaceOnUse" x1="0" y1="407.7" x2="0" y2="502.7"><stop offset="0.00" stop-color="#10e5e8"/><stop offset="0.15" stop-color="#10e3fc"/><stop offset="0.30" stop-color="#10d2f9"/><stop offset="0.45" stop-color="#10c0f8"/><stop offset="0.60" stop-color="#10acf8"/><stop offset="0.73" stop-color="#109bf8"/><stop offset="0.85" stop-color="#108cf8"/><stop offset="0.94" stop-color="#1080f8"/><stop offset="1.00" stop-color="#1078f8"/></linearGradient>
<linearGradient id="gf43" gradientUnits="userSpaceOnUse" x1="0" y1="407.1" x2="0" y2="500.5"><stop offset="0.00" stop-color="#10e5ee"/><stop offset="0.15" stop-color="#10defb"/><stop offset="0.30" stop-color="#10cdf9"/><stop offset="0.45" stop-color="#10baf8"/><stop offset="0.60" stop-color="#10a7f8"/><stop offset="0.73" stop-color="#1097f8"/><stop offset="0.85" stop-color="#1088f8"/><stop offset="0.94" stop-color="#107cf8"/><stop offset="1.00" stop-color="#1074f8"/></linearGradient>
<linearGradient id="gf44" gradientUnits="userSpaceOnUse" x1="0" y1="406.5" x2="0" y2="496.4"><stop offset="0.00" stop-color="#10e4f6"/><stop offset="0.15" stop-color="#10d8fa"/><stop offset="0.30" stop-color="#10c8f8"/><stop offset="0.45" stop-color="#10b5f8"/><stop offset="0.60" stop-color="#10a2f8"/><stop offset="0.73" stop-color="#1092f8"/><stop offset="0.85" stop-color="#1083f8"/><stop offset="0.94" stop-color="#1078f8"/><stop offset="1.00" stop-color="#1070f8"/></linearGradient>
<linearGradient id="gf45" gradientUnits="userSpaceOnUse" x1="0" y1="405.8" x2="0" y2="492.4"><stop offset="0.00" stop-color="#10e1fc"/><stop offset="0.15" stop-color="#10d1f9"/><stop offset="0.30" stop-color="#10bff8"/><stop offset="0.45" stop-color="#10adf8"/><stop offset="0.60" stop-color="#109cf8"/><stop offset="0.73" stop-color="#108df8"/><stop offset="0.85" stop-color="#107ff8"/><stop offset="0.94" stop-color="#1074f8"/><stop offset="1.00" stop-color="#116bf8"/></linearGradient>
<linearGradient id="gf46" gradientUnits="userSpaceOnUse" x1="0" y1="405.2" x2="0" y2="488.1"><stop offset="0.00" stop-color="#10d9fa"/><stop offset="0.15" stop-color="#10c9f8"/><stop offset="0.30" stop-color="#10b7f8"/><stop offset="0.45" stop-color="#10a5f8"/><stop offset="0.60" stop-color="#1094f8"/><stop offset="0.73" stop-color="#1085f8"/><stop offset="0.85" stop-color="#1078f8"/><stop offset="0.94" stop-color="#116df8"/><stop offset="1.00" stop-color="#1464f7"/></linearGradient>
<linearGradient id="gf47" gradientUnits="userSpaceOnUse" x1="0" y1="404.6" x2="0" y2="483.5"><stop offset="0.00" stop-color="#10d0f9"/><stop offset="0.15" stop-color="#10c0f8"/><stop offset="0.30" stop-color="#10aef8"/><stop offset="0.45" stop-color="#109df8"/><stop offset="0.60" stop-color="#108cf8"/><stop offset="0.73" stop-color="#107ef8"/><stop offset="0.85" stop-color="#1071f8"/><stop offset="0.94" stop-color="#1464f7"/><stop offset="1.00" stop-color="#165bf6"/></linearGradient>
<linearGradient id="gf48" gradientUnits="userSpaceOnUse" x1="0" y1="404.0" x2="0" y2="478.9"><stop offset="0.00" stop-color="#10c8f8"/><stop offset="0.15" stop-color="#10b7f8"/><stop offset="0.30" stop-color="#10a6f8"/><stop offset="0.45" stop-color="#1095f8"/><stop offset="0.60" stop-color="#1085f8"/><stop offset="0.73" stop-color="#1077f8"/><stop offset="0.85" stop-color="#1268f7"/><stop offset="0.94" stop-color="#165bf6"/><stop offset="1.00" stop-color="#1952f6"/></linearGradient>
<linearGradient id="gf49" gradientUnits="userSpaceOnUse" x1="0" y1="403.6" x2="0" y2="474.8"><stop offset="0.00" stop-color="#10bff8"/><stop offset="0.15" stop-color="#10aef8"/><stop offset="0.30" stop-color="#109ef8"/><stop offset="0.45" stop-color="#108df8"/><stop offset="0.60" stop-color="#107df8"/><stop offset="0.73" stop-color="#106ff8"/><stop offset="0.85" stop-color="#155ff7"/><stop offset="0.94" stop-color="#1952f6"/><stop offset="1.00" stop-color="#1b4af5"/></linearGradient>
<linearGradient id="gf50" gradientUnits="userSpaceOnUse" x1="0" y1="403.3" x2="0" y2="470.8"><stop offset="0.00" stop-color="#10b8f8"/><stop offset="0.15" stop-color="#10a7f8"/><stop offset="0.30" stop-color="#1097f8"/><stop offset="0.45" stop-color="#1087f8"/><stop offset="0.60" stop-color="#1077f8"/><stop offset="0.73" stop-color="#1267f7"/><stop offset="0.85" stop-color="#1757f6"/><stop offset="0.94" stop-color="#1b4af5"/><stop offset="1.00" stop-color="#1d42f5"/></linearGradient>
<linearGradient id="gf51" gradientUnits="userSpaceOnUse" x1="0" y1="403.0" x2="0" y2="466.9"><stop offset="0.00" stop-color="#10b0f8"/><stop offset="0.15" stop-color="#10a0f8"/><stop offset="0.30" stop-color="#1090f8"/><stop offset="0.45" stop-color="#1081f8"/><stop offset="0.60" stop-color="#1071f8"/><stop offset="0.73" stop-color="#1560f7"/><stop offset="0.85" stop-color="#1950f6"/><stop offset="0.94" stop-color="#1d43f5"/><stop offset="1.00" stop-color="#1f3bf4"/></linearGradient>
<linearGradient id="gf52" gradientUnits="userSpaceOnUse" x1="0" y1="402.8" x2="0" y2="463.8"><stop offset="0.00" stop-color="#10a9f8"/><stop offset="0.15" stop-color="#1099f8"/><stop offset="0.30" stop-color="#108af8"/><stop offset="0.45" stop-color="#107af8"/><stop offset="0.60" stop-color="#126af8"/><stop offset="0.73" stop-color="#1759f6"/><stop offset="0.85" stop-color="#1b49f5"/><stop offset="0.94" stop-color="#1f3df4"/><stop offset="1.00" stop-color="#2728f4"/></linearGradient>
<linearGradient id="gf53" gradientUnits="userSpaceOnUse" x1="0" y1="402.5" x2="0" y2="461.1"><stop offset="0.00" stop-color="#10a1f8"/><stop offset="0.15" stop-color="#1092f8"/><stop offset="0.30" stop-color="#1083f8"/><stop offset="0.45" stop-color="#1074f8"/><stop offset="0.60" stop-color="#1462f7"/><stop offset="0.73" stop-color="#1951f6"/><stop offset="0.85" stop-color="#1d42f5"/><stop offset="0.94" stop-color="#242ff4"/><stop offset="1.00" stop-color="#3210f3"/></linearGradient>
<linearGradient id="gf54" gradientUnits="userSpaceOnUse" x1="0" y1="402.2" x2="0" y2="458.4"><stop offset="0.00" stop-color="#1099f8"/><stop offset="0.15" stop-color="#108bf8"/><stop offset="0.30" stop-color="#107cf8"/><stop offset="0.45" stop-color="#116df8"/><stop offset="0.60" stop-color="#165af6"/><stop offset="0.73" stop-color="#1b4af5"/><stop offset="0.85" stop-color="#1f3bf4"/><stop offset="0.94" stop-color="#3210f4"/><stop offset="1.00" stop-color="#3210f1"/></linearGradient>
<linearGradient id="gf55" gradientUnits="userSpaceOnUse" x1="0" y1="401.9" x2="0" y2="455.7"><stop offset="0.00" stop-color="#1092f8"/><stop offset="0.15" stop-color="#1084f8"/><stop offset="0.30" stop-color="#1076f8"/><stop offset="0.45" stop-color="#1365f7"/><stop offset="0.60" stop-color="#1853f6"/><stop offset="0.73" stop-color="#1d43f5"/><stop offset="0.85" stop-color="#2924f4"/><stop offset="0.94" stop-color="#3210f1"/><stop offset="1.00" stop-color="#3210ee"/></linearGradient>
<linearGradient id="gf56" gradientUnits="userSpaceOnUse" x1="0" y1="401.6" x2="0" y2="453.0"><stop offset="0.00" stop-color="#108bf8"/><stop offset="0.15" stop-color="#107df8"/><stop offset="0.30" stop-color="#106ff8"/><stop offset="0.45" stop-color="#155df7"/><stop offset="0.60" stop-color="#1a4bf5"/><stop offset="0.73" stop-color="#1f3cf4"/><stop offset="0.85" stop-color="#3210f3"/><stop offset="0.94" stop-color="#3210ef"/><stop offset="1.00" stop-color="#3210ec"/></linearGradient>
<linearGradient id="gf57" gradientUnits="userSpaceOnUse" x1="0" y1="401.3" x2="0" y2="450.3"><stop offset="0.00" stop-color="#1084f8"/><stop offset="0.15" stop-color="#1076f8"/><stop offset="0.30" stop-color="#1367f7"/><stop offset="0.45" stop-color="#1855f6"/><stop offset="0.60" stop-color="#1d44f5"/><stop offset="0.73" stop-color="#2728f4"/><stop offset="0.85" stop-color="#3210f0"/><stop offset="0.94" stop-color="#3210ec"/><stop offset="1.00" stop-color="#3210e9"/></linearGradient>
<linearGradient id="gf58" gradientUnits="userSpaceOnUse" x1="0" y1="401.1" x2="0" y2="447.7"><stop offset="0.00" stop-color="#107df8"/><stop offset="0.15" stop-color="#106ff8"/><stop offset="0.30" stop-color="#155ef7"/><stop offset="0.45" stop-color="#1a4df6"/><stop offset="0.60" stop-color="#1f3df4"/><stop offset="0.73" stop-color="#3210f3"/><stop offset="0.85" stop-color="#3210ee"/><stop offset="0.94" stop-color="#3210e9"/><stop offset="1.00" stop-color="#3110e7"/></linearGradient>
<linearGradient id="gf59" gradientUnits="userSpaceOnUse" x1="0" y1="400.9" x2="0" y2="445.6"><stop offset="0.00" stop-color="#1075f8"/><stop offset="0.15" stop-color="#1366f7"/><stop offset="0.30" stop-color="#1856f6"/><stop offset="0.45" stop-color="#1c45f5"/><stop offset="0.60" stop-color="#2728f4"/><stop offset="0.73" stop-color="#3210f0"/><stop offset="0.85" stop-color="#3210eb"/><stop offset="0.94" stop-color="#3110e7"/><stop offset="1.00" stop-color="#3110e4"/></linearGradient>
<linearGradient id="gf60" gradientUnits="userSpaceOnUse" x1="0" y1="400.8" x2="0" y2="443.6"><stop offset="0.00" stop-color="#116df8"/><stop offset="0.15" stop-color="#165df7"/><stop offset="0.30" stop-color="#1a4df5"/><stop offset="0.45" stop-color="#1f3df4"/><stop offset="0.60" stop-color="#3210f3"/><stop offset="0.73" stop-color="#3210ed"/><stop offset="0.85" stop-color="#3110e8"/><stop offset="0.94" stop-color="#3110e4"/><stop offset="1.00" stop-color="#3110e2"/></linearGradient>
<linearGradient id="gf61" gradientUnits="userSpaceOnUse" x1="0" y1="400.6" x2="0" y2="441.5"><stop offset="0.00" stop-color="#1462f7"/><stop offset="0.15" stop-color="#1853f6"/><stop offset="0.30" stop-color="#1d44f5"/><stop offset="0.45" stop-color="#2826f4"/><stop offset="0.60" stop-color="#3210f0"/><stop offset="0.73" stop-color="#3210ea"/><stop offset="0.85" stop-color="#3110e5"/><stop offset="0.94" stop-color="#3110e2"/><stop offset="1.00" stop-color="#3110df"/></linearGradient>
<linearGradient id="gf62" gradientUnits="userSpaceOnUse" x1="0" y1="400.5" x2="0" y2="439.4"><stop offset="0.00" stop-color="#1758f6"/><stop offset="0.15" stop-color="#1b4af5"/><stop offset="0.30" stop-color="#1f3bf4"/><stop offset="0.45" stop-color="#3210f2"/><stop offset="0.60" stop-color="#3210ec"/><stop offset="0.73" stop-color="#3110e7"/><stop offset="0.85" stop-color="#3110e2"/><stop offset="0.94" stop-color="#3110df"/><stop offset="1.00" stop-color="#3110dc"/></linearGradient>
<linearGradient id="gf63" gradientUnits="userSpaceOnUse" x1="0" y1="400.3" x2="0" y2="437.4"><stop offset="0.00" stop-color="#1a4ff6"/><stop offset="0.15" stop-color="#1e40f5"/><stop offset="0.30" stop-color="#2e1af4"/><stop offset="0.45" stop-color="#3210ef"/><stop offset="0.60" stop-color="#3210e9"/><stop offset="0.73" stop-color="#3110e4"/><stop offset="0.85" stop-color="#3110e0"/><stop offset="0.94" stop-color="#3110dc"/><stop offset="1.00" stop-color="#3110da"/></linearGradient>
<linearGradient id="gf64" gradientUnits="userSpaceOnUse" x1="0" y1="400.2" x2="0" y2="435.3"><stop offset="0.00" stop-color="#1c46f5"/><stop offset="0.15" stop-color="#2038f4"/><stop offset="0.30" stop-color="#3210f2"/><stop offset="0.45" stop-color="#3210ec"/><stop offset="0.60" stop-color="#3110e6"/><stop offset="0.73" stop-color="#3110e2"/><stop offset="0.85" stop-color="#3110dd"/><stop offset="0.94" stop-color="#3110da"/><stop offset="1.00" stop-color="#3110d8"/></linearGradient>
<linearGradient id="gf65" gradientUnits="userSpaceOnUse" x1="0" y1="400.0" x2="0" y2="433.3"><stop offset="0.00" stop-color="#1f3df4"/><stop offset="0.15" stop-color="#3210f4"/><stop offset="0.30" stop-color="#3210ee"/><stop offset="0.45" stop-color="#3210e9"/><stop offset="0.60" stop-color="#3110e4"/><stop offset="0.73" stop-color="#3110df"/><stop offset="0.85" stop-color="#3110db"/><stop offset="0.94" stop-color="#3110d8"/><stop offset="1.00" stop-color="#3110d5"/></linearGradient>
<linearGradient id="gf66" gradientUnits="userSpaceOnUse" x1="0" y1="399.9" x2="0" y2="431.2"><stop offset="0.00" stop-color="#2924f4"/><stop offset="0.15" stop-color="#3210f0"/><stop offset="0.30" stop-color="#3210eb"/><stop offset="0.45" stop-color="#3110e6"/><stop offset="0.60" stop-color="#3110e1"/><stop offset="0.73" stop-color="#3110dc"/><stop offset="0.85" stop-color="#3110d8"/><stop offset="0.94" stop-color="#3110d5"/><stop offset="1.00" stop-color="#3110d3"/></linearGradient>
<linearGradient id="gf67" gradientUnits="userSpaceOnUse" x1="0" y1="399.7" x2="0" y2="429.1"><stop offset="0.00" stop-color="#3210ef"/><stop offset="0.15" stop-color="#3210ea"/><stop offset="0.30" stop-color="#3110e5"/><stop offset="0.45" stop-color="#3110e0"/><stop offset="0.60" stop-color="#3110dc"/><stop offset="0.73" stop-color="#3110d8"/><stop offset="0.85" stop-color="#3110d4"/><stop offset="0.94" stop-color="#3010d1"/><stop offset="1.00" stop-color="#3010cf"/></linearGradient>
<linearGradient id="gf68" gradientUnits="userSpaceOnUse" x1="0" y1="399.5" x2="0" y2="427.5"><stop offset="0.00" stop-color="#3110e6"/><stop offset="0.15" stop-color="#3110e2"/><stop offset="0.30" stop-color="#3110de"/><stop offset="0.45" stop-color="#3110da"/><stop offset="0.60" stop-color="#3110d6"/><stop offset="0.73" stop-color="#3010d2"/><stop offset="0.85" stop-color="#3010cf"/><stop offset="0.94" stop-color="#3010cc"/><stop offset="1.00" stop-color="#3010ca"/></linearGradient>
<linearGradient id="gf69" gradientUnits="userSpaceOnUse" x1="0" y1="399.3" x2="0" y2="425.9"><stop offset="0.00" stop-color="#3110de"/><stop offset="0.15" stop-color="#3110da"/><stop offset="0.30" stop-color="#3110d7"/><stop offset="0.45" stop-color="#3010d3"/><stop offset="0.60" stop-color="#3010cf"/><stop offset="0.73" stop-color="#3010cc"/><stop offset="0.85" stop-color="#3010c9"/><stop offset="0.94" stop-color="#3010c6"/><stop offset="1.00" stop-color="#3010c4"/></linearGradient>
<linearGradient id="gf70" gradientUnits="userSpaceOnUse" x1="0" y1="399.2" x2="0" y2="424.3"><stop offset="0.00" stop-color="#3110da"/><stop offset="0.15" stop-color="#3110d6"/><stop offset="0.30" stop-color="#3010d3"/><stop offset="0.45" stop-color="#3010cf"/><stop offset="0.60" stop-color="#3010cc"/><stop offset="0.73" stop-color="#3010c9"/><stop offset="0.85" stop-color="#3010c5"/><stop offset="0.94" stop-color="#2f0fc2"/><stop offset="1.00" stop-color="#2f0fc0"/></linearGradient>
<linearGradient id="gf71" gradientUnits="userSpaceOnUse" x1="0" y1="399.0" x2="0" y2="422.7"><stop offset="0.00" stop-color="#3110d5"/><stop offset="0.15" stop-color="#3010d2"/><stop offset="0.30" stop-color="#3010ce"/><stop offset="0.45" stop-color="#3010cb"/><stop offset="0.60" stop-color="#3010c8"/><stop offset="0.73" stop-color="#2f0fc4"/><stop offset="0.85" stop-color="#2f0fc0"/><stop offset="0.94" stop-color="#2f0fbd"/><stop offset="1.00" stop-color="#2e0ebc"/></linearGradient>
<linearGradient id="gf72" gradientUnits="userSpaceOnUse" x1="0" y1="398.8" x2="0" y2="421.2"><stop offset="0.00" stop-color="#3010d0"/><stop offset="0.15" stop-color="#3010cd"/><stop offset="0.30" stop-color="#3010ca"/><stop offset="0.45" stop-color="#3010c7"/><stop offset="0.60" stop-color="#2f0fc3"/><stop offset="0.73" stop-color="#2f0fbf"/><stop offset="0.85" stop-color="#2e0ebc"/><stop offset="0.94" stop-color="#2e0eb9"/><stop offset="1.00" stop-color="#2e0eb8"/></linearGradient>
<linearGradient id="gf73" gradientUnits="userSpaceOnUse" x1="0" y1="398.6" x2="0" y2="419.6"><stop offset="0.00" stop-color="#3010cb"/><stop offset="0.15" stop-color="#3010c9"/><stop offset="0.30" stop-color="#3010c5"/><stop offset="0.45" stop-color="#2f0fc1"/><stop offset="0.60" stop-color="#2f0fbe"/><stop offset="0.73" stop-color="#2e0eba"/><stop offset="0.85" stop-color="#2e0eb7"/><stop offset="0.94" stop-color="#2d0db5"/><stop offset="1.00" stop-color="#2d0db3"/></linearGradient>
<linearGradient id="gf74" gradientUnits="userSpaceOnUse" x1="0" y1="398.4" x2="0" y2="418.0"><stop offset="0.00" stop-color="#3010c6"/><stop offset="0.15" stop-color="#2f0fc3"/><stop offset="0.30" stop-color="#2f0fbf"/><stop offset="0.45" stop-color="#2e0ebc"/><stop offset="0.60" stop-color="#2e0eb8"/><stop offset="0.73" stop-color="#2e0eb5"/><stop offset="0.85" stop-color="#2d0db3"/><stop offset="0.94" stop-color="#2d0db1"/><stop offset="1.00" stop-color="#2d0daf"/></linearGradient>
<linearGradient id="gf75" gradientUnits="userSpaceOnUse" x1="0" y1="398.3" x2="0" y2="416.5"><stop offset="0.00" stop-color="#2f0fbf"/><stop offset="0.15" stop-color="#2e0ebc"/><stop offset="0.30" stop-color="#2e0eb9"/><stop offset="0.45" stop-color="#2e0eb6"/><stop offset="0.60" stop-color="#2d0db3"/><stop offset="0.73" stop-color="#2d0db1"/><stop offset="0.85" stop-color="#2d0dae"/><stop offset="0.94" stop-color="#2c0cac"/><stop offset="1.00" stop-color="#2c0cab"/></linearGradient>
<linearGradient id="gf76" gradientUnits="userSpaceOnUse" x1="0" y1="398.1" x2="0" y2="414.9"><stop offset="0.00" stop-color="#2e0eb9"/><stop offset="0.15" stop-color="#2e0eb6"/><stop offset="0.30" stop-color="#2d0db3"/><stop offset="0.45" stop-color="#2d0db1"/><stop offset="0.60" stop-color="#2d0dae"/><stop offset="0.73" stop-color="#2c0cac"/><stop offset="0.85" stop-color="#2c0caa"/><stop offset="0.94" stop-color="#2c0ca8"/><stop offset="1.00" stop-color="#2c0ca7"/></linearGradient>
<linearGradient id="gf77" gradientUnits="userSpaceOnUse" x1="0" y1="397.9" x2="0" y2="412.3"><stop offset="0.00" stop-color="#2d0db2"/><stop offset="0.15" stop-color="#2d0db0"/><stop offset="0.30" stop-color="#2c0cad"/><stop offset="0.45" stop-color="#2c0cab"/><stop offset="0.60" stop-color="#2c0ca9"/><stop offset="0.73" stop-color="#2c0ca7"/><stop offset="0.85" stop-color="#2b0ba5"/><stop offset="0.94" stop-color="#2b0ba4"/><stop offset="1.00" stop-color="#2b0ba3"/></linearGradient>
<linearGradient id="gf78" gradientUnits="userSpaceOnUse" x1="0" y1="397.7" x2="0" y2="403.7"><stop offset="0.00" stop-color="#2c0cab"/><stop offset="0.15" stop-color="#2c0ca9"/><stop offset="0.30" stop-color="#2c0ca7"/><stop offset="0.45" stop-color="#2b0ba5"/><stop offset="0.60" stop-color="#2b0ba4"/><stop offset="0.73" stop-color="#2b0ba2"/><stop offset="0.85" stop-color="#2b0ba0"/><stop offset="0.94" stop-color="#2b0b9f"/><stop offset="1.00" stop-color="#2a0a9f"/></linearGradient>
<linearGradient id="gf79" gradientUnits="userSpaceOnUse" x1="0" y1="397.6" x2="0" y2="399.8"><stop offset="0.00" stop-color="#2b0ba4"/><stop offset="0.15" stop-color="#2b0ba3"/><stop offset="0.30" stop-color="#2b0ba1"/><stop offset="0.45" stop-color="#2b0ba0"/><stop offset="0.60" stop-color="#2a0a9e"/><stop offset="0.73" stop-color="#2a0a9d"/><stop offset="0.85" stop-color="#2a0a9c"/><stop offset="0.94" stop-color="#2a0a9b"/><stop offset="1.00" stop-color="#2a0a9b"/></linearGradient>
<linearGradient id="gf80" gradientUnits="userSpaceOnUse" x1="0" y1="397.6" x2="0" y2="399.8"><stop offset="0.00" stop-color="#2a0a9e"/><stop offset="0.15" stop-color="#2a0a9d"/><stop offset="0.30" stop-color="#2a0a9c"/><stop offset="0.45" stop-color="#2a0a9b"/><stop offset="0.60" stop-color="#2a0a9a"/><stop offset="0.73" stop-color="#2a0a99"/><stop offset="0.85" stop-color="#2a0a98"/><stop offset="0.94" stop-color="#2a0a98"/><stop offset="1.00" stop-color="#290997"/></linearGradient></defs>
<g clip-path="url(#cp_a)"><g filter="url(#hb)">
<rect x="29.0" y="24.1" width="2.6" height="24.4" fill="url(#ga0)"/>
<rect x="31.0" y="24.4" width="2.6" height="27.1" fill="url(#ga1)"/>
<rect x="33.0" y="24.6" width="2.6" height="29.8" fill="url(#ga2)"/>
<rect x="35.0" y="24.8" width="2.6" height="32.5" fill="url(#ga3)"/>
<rect x="37.0" y="25.1" width="2.6" height="34.9" fill="url(#ga4)"/>
<rect x="39.0" y="25.3" width="2.6" height="37.2" fill="url(#ga5)"/>
<rect x="41.0" y="25.5" width="2.6" height="39.5" fill="url(#ga6)"/>
<rect x="43.0" y="25.7" width="2.6" height="41.8" fill="url(#ga7)"/>
<rect x="45.0" y="26.0" width="2.6" height="43.5" fill="url(#ga8)"/>
<rect x="47.0" y="26.2" width="2.6" height="44.5" fill="url(#ga9)"/>
<rect x="49.0" y="26.4" width="2.6" height="45.5" fill="url(#ga10)"/>
<rect x="51.0" y="26.7" width="2.6" height="46.6" fill="url(#ga11)"/>
<rect x="53.0" y="26.9" width="2.6" height="48.3" fill="url(#ga12)"/>
<rect x="55.0" y="27.5" width="2.6" height="50.9" fill="url(#ga13)"/>
<rect x="57.0" y="28.0" width="2.6" height="53.5" fill="url(#ga14)"/>
<rect x="59.0" y="28.5" width="2.6" height="56.2" fill="url(#ga15)"/>
<rect x="61.0" y="29.0" width="2.6" height="60.4" fill="url(#ga16)"/>
<rect x="63.0" y="29.6" width="2.6" height="64.6" fill="url(#ga17)"/>
<rect x="65.0" y="30.1" width="2.6" height="70.5" fill="url(#ga18)"/>
<rect x="67.0" y="30.6" width="2.6" height="76.7" fill="url(#ga19)"/>
<rect x="69.0" y="31.1" width="2.6" height="83.0" fill="url(#ga20)"/>
<rect x="71.0" y="31.6" width="2.6" height="88.4" fill="url(#ga21)"/>
<rect x="73.0" y="32.1" width="2.6" height="93.9" fill="url(#ga22)"/>
<rect x="75.0" y="32.6" width="2.6" height="98.7" fill="url(#ga23)"/>
<rect x="77.0" y="33.1" width="2.6" height="102.3" fill="url(#ga24)"/>
<rect x="79.0" y="33.6" width="2.6" height="105.9" fill="url(#ga25)"/>
<rect x="81.0" y="34.1" width="2.6" height="109.4" fill="url(#ga26)"/>
<rect x="83.0" y="34.3" width="2.6" height="111.6" fill="url(#ga27)"/>
<rect x="85.0" y="34.4" width="2.6" height="113.8" fill="url(#ga28)"/>
<rect x="87.0" y="34.5" width="2.6" height="116.0" fill="url(#ga29)"/>
<rect x="89.0" y="34.6" width="2.6" height="118.0" fill="url(#ga30)"/>
<rect x="91.0" y="34.8" width="2.6" height="118.7" fill="url(#ga31)"/>
<rect x="93.0" y="34.9" width="2.6" height="119.3" fill="url(#ga32)"/>
<rect x="95.0" y="35.0" width="2.6" height="120.0" fill="url(#ga33)"/>
<rect x="97.0" y="35.1" width="2.6" height="120.7" fill="url(#ga34)"/>
<rect x="99.0" y="34.9" width="2.6" height="120.9" fill="url(#ga35)"/>
<rect x="101.0" y="34.8" width="2.6" height="120.9" fill="url(#ga36)"/>
<rect x="103.0" y="34.7" width="2.6" height="121.0" fill="url(#ga37)"/>
<rect x="105.0" y="34.6" width="2.6" height="121.0" fill="url(#ga38)"/>
<rect x="107.0" y="34.5" width="2.6" height="120.5" fill="url(#ga39)"/>
<rect x="109.0" y="34.4" width="2.6" height="119.5" fill="url(#ga40)"/>
<rect x="111.0" y="34.3" width="2.6" height="118.5" fill="url(#ga41)"/>
<rect x="113.0" y="34.2" width="2.6" height="116.7" fill="url(#ga42)"/>
<rect x="115.0" y="33.9" width="2.6" height="115.0" fill="url(#ga43)"/>
<rect x="117.0" y="33.4" width="2.6" height="112.8" fill="url(#ga44)"/>
<rect x="119.0" y="32.9" width="2.6" height="109.2" fill="url(#ga45)"/>
<rect x="121.0" y="32.5" width="2.6" height="105.6" fill="url(#ga46)"/>
<rect x="123.0" y="32.0" width="2.6" height="101.7" fill="url(#ga47)"/>
<rect x="125.0" y="31.5" width="2.6" height="97.6" fill="url(#ga48)"/>
<rect x="127.0" y="31.1" width="2.6" height="93.5" fill="url(#ga49)"/>
<rect x="129.0" y="30.7" width="2.6" height="89.7" fill="url(#ga50)"/>
<rect x="131.0" y="30.5" width="2.6" height="86.0" fill="url(#ga51)"/>
<rect x="133.0" y="30.2" width="2.6" height="82.3" fill="url(#ga52)"/>
<rect x="135.0" y="30.0" width="2.6" height="79.5" fill="url(#ga53)"/>
<rect x="137.0" y="29.7" width="2.6" height="77.1" fill="url(#ga54)"/>
<rect x="139.0" y="29.5" width="2.6" height="74.6" fill="url(#ga55)"/>
<rect x="141.0" y="29.2" width="2.6" height="72.1" fill="url(#ga56)"/>
<rect x="143.0" y="29.0" width="2.6" height="69.7" fill="url(#ga57)"/>
<rect x="145.0" y="28.8" width="2.6" height="67.2" fill="url(#ga58)"/>
<rect x="147.0" y="28.5" width="2.6" height="64.8" fill="url(#ga59)"/>
<rect x="149.0" y="28.3" width="2.6" height="62.9" fill="url(#ga60)"/>
<rect x="151.0" y="28.2" width="2.6" height="61.0" fill="url(#ga61)"/>
<rect x="153.0" y="28.0" width="2.6" height="59.1" fill="url(#ga62)"/>
<rect x="155.0" y="27.8" width="2.6" height="57.2" fill="url(#ga63)"/>
<rect x="157.0" y="27.6" width="2.6" height="55.3" fill="url(#ga64)"/>
<rect x="159.0" y="27.5" width="2.6" height="53.4" fill="url(#ga65)"/>
<rect x="161.0" y="27.3" width="2.6" height="51.5" fill="url(#ga66)"/>
<rect x="163.0" y="27.1" width="2.6" height="49.6" fill="url(#ga67)"/>
<rect x="165.0" y="27.0" width="2.6" height="47.8" fill="url(#ga68)"/>
<rect x="167.0" y="26.8" width="2.6" height="46.2" fill="url(#ga69)"/>
<rect x="169.0" y="26.7" width="2.6" height="44.7" fill="url(#ga70)"/>
<rect x="171.0" y="26.5" width="2.6" height="43.2" fill="url(#ga71)"/>
<rect x="173.0" y="26.4" width="2.6" height="41.8" fill="url(#ga72)"/>
<rect x="175.0" y="26.3" width="2.6" height="40.3" fill="url(#ga73)"/>
<rect x="177.0" y="26.1" width="2.6" height="38.9" fill="url(#ga74)"/>
<rect x="179.0" y="26.0" width="2.6" height="37.5" fill="url(#ga75)"/>
<rect x="181.0" y="25.9" width="2.6" height="36.0" fill="url(#ga76)"/>
<rect x="183.0" y="25.7" width="2.6" height="34.6" fill="url(#ga77)"/>
<rect x="185.0" y="25.6" width="2.6" height="33.2" fill="url(#ga78)"/>
<rect x="187.0" y="23.8" width="2.6" height="30.1" fill="url(#ga79)"/>
<rect x="189.0" y="21.7" width="2.6" height="26.3" fill="url(#ga80)"/>
<rect x="191.0" y="20.4" width="2.6" height="26.2" fill="url(#ga81)"/>
<rect x="193.0" y="20.4" width="2.6" height="26.2" fill="url(#ga82)"/>
</g>
<path d="M29.5,31.9 L36.7,42.3 L45.0,52.8 L53.3,58.0 L59.9,68.5 L64.3,79.0 L69.9,97.7 L75.4,114.1 L82.0,127.6 L89.8,136.6 L98.6,139.9 L106.9,139.6 L112.5,136.6 L117.4,131.3 L123.0,120.1 L128.5,107.4 L134.6,95.4 L141.8,85.7 L147.8,77.5 L157.2,67.8 L166.6,58.0 L176.0,50.6 L186.6,42.3 L191.2,28.4" stroke="#2438f0" stroke-width="7" stroke-opacity="0.55" fill="none" filter="url(#bl)"/>
<path d="M36.1,33.1l0.2,-1.0M36.1,36.6l0.2,-1.0M36.1,40.7l0.2,-1.0M43.9,34.0l0.2,-1.0M43.9,37.9l0.2,-1.0M43.9,44.5l0.2,-1.0M43.9,49.4l0.2,-1.0M51.6,34.9l0.2,-1.0M51.6,39.8l0.2,-1.0M51.6,43.9l0.2,-1.0M51.6,48.1l0.2,-1.0M51.6,54.4l0.2,-1.0M59.4,36.6l0.2,-1.0M59.4,43.5l0.2,-1.0M59.4,49.2l0.2,-1.0M59.4,55.1l0.2,-1.0M59.4,59.8l0.2,-1.0M59.4,63.9l0.2,-1.0M59.4,67.9l0.2,-1.0M67.1,38.7l0.2,-1.0M67.1,49.7l0.2,-1.0M67.1,58.7l0.2,-1.0M67.1,68.2l0.2,-1.0M67.1,75.6l0.2,-1.0M67.1,82.1l0.2,-1.0M67.1,86.6l0.2,-1.0M74.8,40.6l0.2,-1.0M74.8,56.5l0.2,-1.0M74.8,69.5l0.2,-1.0M74.8,83.2l0.2,-1.0M74.8,94.0l0.2,-1.0M74.8,103.4l0.2,-1.0M74.8,109.9l0.2,-1.0M82.6,42.5l0.2,-1.0M82.6,61.4l0.2,-1.0M82.6,76.9l0.2,-1.0M82.6,93.3l0.2,-1.0M82.6,106.2l0.2,-1.0M82.6,117.4l0.2,-1.0M82.6,125.1l0.2,-1.0M82.6,128.5l0.2,-1.0M90.3,43.0l0.2,-1.0M90.3,63.7l0.2,-1.0M90.3,80.6l0.2,-1.0M90.3,98.5l0.2,-1.0M90.3,112.6l0.2,-1.0M90.3,124.8l0.2,-1.0M90.3,133.3l0.2,-1.0M90.3,137.1l0.2,-1.0M98.1,43.3l0.3,-1.9M98.1,64.6l0.3,-1.9M98.1,82.0l0.3,-1.9M98.1,100.4l0.3,-1.9M98.1,114.9l0.3,-1.9M98.1,127.5l0.3,-1.9M98.1,136.2l0.3,-1.9M98.1,140.0l0.3,-1.9M105.8,42.9l0.6,-3.2M105.8,64.3l0.6,-3.2M105.8,81.7l0.6,-3.2M105.8,100.2l0.6,-3.2M105.8,114.7l0.6,-3.2M105.8,127.3l0.6,-3.2M105.8,136.0l0.6,-3.2M105.8,139.9l0.6,-3.2M113.6,42.5l0.8,-4.4M113.6,63.0l0.8,-4.4M113.6,79.8l0.8,-4.4M113.6,97.5l0.8,-4.4M113.6,111.5l0.8,-4.4M113.6,123.6l0.8,-4.4M113.6,132.0l0.8,-4.4M113.6,135.7l0.8,-4.4M119.4,41.4l0.8,-4.4M119.4,60.3l0.8,-4.4M119.4,75.9l0.8,-4.4M119.4,92.2l0.8,-4.4M119.4,105.2l0.8,-4.4M119.4,116.4l0.8,-4.4M119.4,124.2l0.8,-4.4M119.4,127.6l0.8,-4.4M125.3,40.0l0.8,-4.4M125.3,56.5l0.8,-4.4M125.3,70.0l0.8,-4.4M125.3,84.3l0.8,-4.4M125.3,95.6l0.8,-4.4M125.3,105.3l0.8,-4.4M125.3,112.1l0.8,-4.4M131.1,38.9l0.8,-4.4M131.1,52.9l0.8,-4.4M131.1,64.3l0.8,-4.4M131.1,76.4l0.8,-4.4M131.1,85.9l0.8,-4.4M131.1,94.2l0.8,-4.4M131.1,99.9l0.8,-4.4M137.0,38.1l0.8,-4.4M137.0,50.1l0.8,-4.4M137.0,59.9l0.8,-4.4M137.0,70.2l0.8,-4.4M137.0,78.3l0.8,-4.4M137.0,85.4l0.8,-4.4M137.0,90.3l0.8,-4.4M142.9,37.4l0.8,-4.4M142.9,47.8l0.8,-4.4M142.9,56.3l0.8,-4.4M142.9,65.2l0.8,-4.4M142.9,72.3l0.8,-4.4M142.9,78.4l0.8,-4.4M142.9,82.6l0.8,-4.4M148.7,36.7l0.8,-4.4M148.7,45.6l0.8,-4.4M148.7,52.8l0.8,-4.4M148.7,60.4l0.8,-4.4M148.7,66.4l0.8,-4.4M148.7,71.7l0.8,-4.4M148.7,75.3l0.8,-4.4M154.6,36.2l0.8,-4.4M154.6,43.8l0.8,-4.4M154.6,50.1l0.8,-4.4M154.6,56.6l0.8,-4.4M154.6,61.8l0.8,-4.4M154.6,66.3l0.8,-4.4M154.6,70.8l0.8,-4.4M160.5,35.7l0.8,-4.4M160.5,42.1l0.8,-4.4M160.5,47.3l0.8,-4.4M160.5,52.8l0.8,-4.4M160.5,57.2l0.8,-4.4M160.5,61.0l0.8,-4.4M160.5,64.7l0.8,-4.4M166.3,35.2l0.8,-4.4M166.3,40.4l0.8,-4.4M166.3,44.6l0.8,-4.4M166.3,49.1l0.8,-4.4M166.3,52.6l0.8,-4.4M166.3,57.7l0.8,-4.4M172.2,34.8l0.8,-4.4M172.2,39.0l0.8,-4.4M172.2,42.5l0.8,-4.4M172.2,46.1l0.8,-4.4M172.2,51.5l0.8,-4.4M178.0,34.4l0.8,-4.4M178.0,40.4l0.8,-4.4M178.0,45.4l0.8,-4.4M178.0,49.3l0.8,-4.4M183.9,34.0l0.8,-4.4M183.9,38.3l0.8,-4.4M183.9,41.9l0.8,-4.4" stroke="#20262c" stroke-opacity="0.5" stroke-width="0.8" fill="none"/>
</g>
<path d="M51.6,34.8l0.3,-1.7M59.4,36.5l0.3,-1.7M67.1,38.6l0.3,-1.7M74.8,40.5l0.3,-1.7M82.6,42.4l0.3,-1.7M90.3,42.9l0.3,-1.7M98.1,43.2l0.3,-1.7M105.8,42.8l0.3,-1.7M113.6,42.4l0.3,-1.7M119.4,41.3l0.3,-1.7M125.3,39.9l0.3,-1.7M131.1,38.8l0.3,-1.7M137.0,38.0l0.3,-1.7M142.9,37.3l0.3,-1.7M148.7,36.6l0.3,-1.7M154.6,36.1l0.3,-1.7M160.5,35.6l0.3,-1.7M166.3,35.1l0.3,-1.7M172.2,34.7l0.3,-1.7M178.0,34.3l0.3,-1.7M183.9,33.9l0.3,-1.7" stroke="#b87858" stroke-opacity="0.7" stroke-width="0.8" fill="none"/>
<path d="M29.5,4.2 V153.8 H195.4" stroke="#a6a6a6" stroke-width="1" fill="none"/>
<path d="M29.5,4.2 h1.6 M29.5,19.2 h1.6 M29.5,34.1 h1.6 M29.5,49.1 h1.6 M29.5,64.0 h1.6 M29.5,79.0 h1.6 M29.5,94.0 h1.6 M29.5,108.9 h1.6 M29.5,123.9 h1.6 M29.5,138.8 h1.6 M29.5,153.8 h1.6 M29.5,153.8 v-1.6 M57.1,153.8 v-1.6 M84.8,153.8 v-1.6 M112.5,153.8 v-1.6 M140.1,153.8 v-1.6 M167.8,153.8 v-1.6 M195.4,153.8 v-1.6" stroke="#a6a6a6" stroke-width="0.8" fill="none"/>
<g font-size="8.6"><text x="24.0" y="9.3" text-anchor="end">4</text>
<text x="24.0" y="39.4" text-anchor="end">0</text>
<text x="24.0" y="69.4" text-anchor="end">-4</text>
<text x="24.0" y="99.5" text-anchor="end">-8</text>
<text x="24.0" y="129.6" text-anchor="end">-12</text>
<text x="24.0" y="157.1" text-anchor="end">-16</text>
<text x="29.5" y="164.2" text-anchor="middle">0</text>
<text x="84.4" y="164.2" text-anchor="middle">100</text>
<text x="140.5" y="164.2" text-anchor="middle">200</text>
<text x="195.4" y="164.2" text-anchor="middle">300</text>
<text x="50.7" y="175.2">Distance along cross-section (m)</text>
<text transform="translate(11.8,82.2) rotate(-90)" text-anchor="middle">Elevation (m)</text>
<text x="42.7" y="12.6">(a)</text>
<rect x="200.8" y="22.9" width="6.2" height="124.3" fill="url(#cb)"/>
<text x="210.2" y="149.1">0</text>
<text x="210.2" y="100.4">0.5</text>
<path d="M200.8,97.5 h1.2 M207.0,97.5 h-1.2" stroke="#444" stroke-opacity="0.6" stroke-width="0.6"/>
<text x="210.2" y="50.7">1.0</text>
<path d="M200.8,47.8 h1.2 M207.0,47.8 h-1.2" stroke="#444" stroke-opacity="0.6" stroke-width="0.6"/>
<text x="199.9" y="20.4">m/s</text></g>
<g clip-path="url(#cp_b)"><g filter="url(#hb)">
<rect x="275.4" y="27.4" width="2.6" height="26.2" fill="url(#gb0)"/>
<rect x="277.4" y="29.4" width="2.6" height="24.8" fill="url(#gb1)"/>
<rect x="279.4" y="31.3" width="2.6" height="25.7" fill="url(#gb2)"/>
<rect x="281.4" y="33.3" width="2.6" height="26.6" fill="url(#gb3)"/>
<rect x="283.4" y="35.2" width="2.6" height="27.3" fill="url(#gb4)"/>
<rect x="285.4" y="35.3" width="2.6" height="29.7" fill="url(#gb5)"/>
<rect x="287.4" y="35.5" width="2.6" height="32.0" fill="url(#gb6)"/>
<rect x="289.4" y="35.6" width="2.6" height="34.4" fill="url(#gb7)"/>
<rect x="291.4" y="35.7" width="2.6" height="36.1" fill="url(#gb8)"/>
<rect x="293.4" y="35.9" width="2.6" height="37.2" fill="url(#gb9)"/>
<rect x="295.4" y="36.0" width="2.6" height="38.3" fill="url(#gb10)"/>
<rect x="297.4" y="36.1" width="2.6" height="39.4" fill="url(#gb11)"/>
<rect x="299.4" y="36.4" width="2.6" height="41.1" fill="url(#gb12)"/>
<rect x="301.4" y="36.7" width="2.6" height="43.9" fill="url(#gb13)"/>
<rect x="303.4" y="37.0" width="2.6" height="46.7" fill="url(#gb14)"/>
<rect x="305.4" y="37.3" width="2.6" height="49.6" fill="url(#gb15)"/>
<rect x="307.4" y="37.7" width="2.6" height="53.9" fill="url(#gb16)"/>
<rect x="309.4" y="38.2" width="2.6" height="57.9" fill="url(#gb17)"/>
<rect x="311.4" y="38.8" width="2.6" height="63.7" fill="url(#gb18)"/>
<rect x="313.4" y="39.4" width="2.6" height="69.8" fill="url(#gb19)"/>
<rect x="315.4" y="40.0" width="2.6" height="75.8" fill="url(#gb20)"/>
<rect x="317.4" y="40.6" width="2.6" height="81.1" fill="url(#gb21)"/>
<rect x="319.4" y="41.1" width="2.6" height="86.3" fill="url(#gb22)"/>
<rect x="321.4" y="41.6" width="2.6" height="91.1" fill="url(#gb23)"/>
<rect x="323.4" y="41.7" width="2.6" height="95.0" fill="url(#gb24)"/>
<rect x="325.4" y="41.9" width="2.6" height="98.8" fill="url(#gb25)"/>
<rect x="327.4" y="42.1" width="2.6" height="102.6" fill="url(#gb26)"/>
<rect x="329.4" y="42.2" width="2.6" height="104.7" fill="url(#gb27)"/>
<rect x="331.4" y="42.4" width="2.6" height="106.8" fill="url(#gb28)"/>
<rect x="333.4" y="42.5" width="2.6" height="108.9" fill="url(#gb29)"/>
<rect x="335.4" y="42.7" width="2.6" height="110.8" fill="url(#gb30)"/>
<rect x="337.4" y="42.7" width="2.6" height="111.5" fill="url(#gb31)"/>
<rect x="339.4" y="42.7" width="2.6" height="112.2" fill="url(#gb32)"/>
<rect x="341.4" y="42.7" width="2.6" height="113.0" fill="url(#gb33)"/>
<rect x="343.4" y="42.7" width="2.6" height="113.7" fill="url(#gb34)"/>
<rect x="345.4" y="42.7" width="2.6" height="113.8" fill="url(#gb35)"/>
<rect x="347.4" y="42.7" width="2.6" height="113.8" fill="url(#gb36)"/>
<rect x="349.4" y="42.7" width="2.6" height="113.7" fill="url(#gb37)"/>
<rect x="351.4" y="42.7" width="2.6" height="113.6" fill="url(#gb38)"/>
<rect x="353.4" y="42.7" width="2.6" height="112.9" fill="url(#gb39)"/>
<rect x="355.4" y="42.7" width="2.6" height="111.8" fill="url(#gb40)"/>
<rect x="357.4" y="42.7" width="2.6" height="110.8" fill="url(#gb41)"/>
<rect x="359.4" y="42.6" width="2.6" height="109.0" fill="url(#gb42)"/>
<rect x="361.4" y="42.2" width="2.6" height="107.3" fill="url(#gb43)"/>
<rect x="363.4" y="41.8" width="2.6" height="104.9" fill="url(#gb44)"/>
<rect x="365.4" y="41.4" width="2.6" height="101.3" fill="url(#gb45)"/>
<rect x="367.4" y="41.0" width="2.6" height="97.8" fill="url(#gb46)"/>
<rect x="369.4" y="40.6" width="2.6" height="93.8" fill="url(#gb47)"/>
<rect x="371.4" y="40.2" width="2.6" height="89.7" fill="url(#gb48)"/>
<rect x="373.4" y="39.8" width="2.6" height="85.6" fill="url(#gb49)"/>
<rect x="375.4" y="39.5" width="2.6" height="81.9" fill="url(#gb50)"/>
<rect x="377.4" y="39.3" width="2.6" height="78.3" fill="url(#gb51)"/>
<rect x="379.4" y="39.0" width="2.6" height="74.8" fill="url(#gb52)"/>
<rect x="381.4" y="38.7" width="2.6" height="72.2" fill="url(#gb53)"/>
<rect x="383.4" y="38.4" width="2.6" height="69.8" fill="url(#gb54)"/>
<rect x="385.4" y="38.1" width="2.6" height="67.4" fill="url(#gb55)"/>
<rect x="387.4" y="37.8" width="2.6" height="65.1" fill="url(#gb56)"/>
<rect x="389.4" y="37.5" width="2.6" height="62.7" fill="url(#gb57)"/>
<rect x="391.4" y="37.2" width="2.6" height="60.3" fill="url(#gb58)"/>
<rect x="393.4" y="37.0" width="2.6" height="58.0" fill="url(#gb59)"/>
<rect x="395.4" y="36.8" width="2.6" height="56.1" fill="url(#gb60)"/>
<rect x="397.4" y="36.7" width="2.6" height="54.3" fill="url(#gb61)"/>
<rect x="399.4" y="36.5" width="2.6" height="52.4" fill="url(#gb62)"/>
<rect x="401.4" y="36.3" width="2.6" height="50.5" fill="url(#gb63)"/>
<rect x="403.4" y="36.1" width="2.6" height="48.7" fill="url(#gb64)"/>
<rect x="405.4" y="36.0" width="2.6" height="46.8" fill="url(#gb65)"/>
<rect x="407.4" y="35.8" width="2.6" height="44.9" fill="url(#gb66)"/>
<rect x="409.4" y="35.6" width="2.6" height="43.1" fill="url(#gb67)"/>
<rect x="411.4" y="35.5" width="2.6" height="41.2" fill="url(#gb68)"/>
<rect x="413.4" y="35.4" width="2.6" height="39.6" fill="url(#gb69)"/>
<rect x="415.4" y="35.3" width="2.6" height="38.1" fill="url(#gb70)"/>
<rect x="417.4" y="35.3" width="2.6" height="36.6" fill="url(#gb71)"/>
<rect x="419.4" y="35.2" width="2.6" height="35.1" fill="url(#gb72)"/>
<rect x="421.4" y="35.1" width="2.6" height="33.6" fill="url(#gb73)"/>
<rect x="423.4" y="35.1" width="2.6" height="32.2" fill="url(#gb74)"/>
<rect x="425.4" y="35.0" width="2.6" height="30.7" fill="url(#gb75)"/>
<rect x="427.4" y="34.9" width="2.6" height="29.2" fill="url(#gb76)"/>
<rect x="429.4" y="34.9" width="2.6" height="27.8" fill="url(#gb77)"/>
<rect x="431.4" y="32.6" width="2.6" height="28.5" fill="url(#gb78)"/>
<rect x="433.4" y="28.1" width="2.6" height="26.8" fill="url(#gb79)"/>
<rect x="435.4" y="23.6" width="2.6" height="24.5" fill="url(#gb80)"/>
<rect x="437.4" y="22.7" width="2.6" height="26.2" fill="url(#gb81)"/>
</g>
<path d="M275.9,34.6 L283.1,44.9 L291.4,55.1 L299.6,60.3 L306.3,70.6 L310.7,80.8 L316.2,99.2 L321.7,115.3 L328.3,128.6 L336.1,137.4 L344.9,140.7 L353.2,140.3 L358.7,137.4 L363.7,132.2 L369.2,121.2 L374.7,108.7 L380.8,97.0 L388.0,87.4 L394.0,79.4 L403.4,69.8 L412.8,60.3 L422.2,52.9 L432.7,44.9 L436.8,30.7" stroke="#2438f0" stroke-width="7" stroke-opacity="0.55" fill="none" filter="url(#bl)"/>
<path d="M290.3,43.9l0.1,-1.0M290.3,48.0l0.1,-1.0M290.3,51.4l0.1,-1.0M298.0,44.4l0.1,-1.0M298.0,50.5l0.1,-1.0M298.0,55.6l0.1,-1.0M298.0,59.6l0.1,-1.0M305.7,45.5l0.1,-1.0M305.7,50.9l0.1,-1.0M305.7,55.3l0.1,-1.0M305.7,60.0l0.1,-1.0M305.7,63.6l0.1,-1.0M305.7,69.0l0.1,-1.0M313.4,47.4l0.1,-1.0M313.4,56.9l0.1,-1.0M313.4,64.6l0.1,-1.0M313.4,72.7l0.1,-1.0M313.4,79.2l0.1,-1.0M313.4,84.7l0.1,-1.0M313.4,88.6l0.1,-1.0M321.2,49.7l0.1,-1.0M321.2,63.8l0.1,-1.0M321.2,75.4l0.1,-1.0M321.2,87.6l0.1,-1.0M321.2,97.3l0.1,-1.0M321.2,105.7l0.1,-1.0M321.2,111.4l0.1,-1.0M328.9,50.4l0.1,-1.0M328.9,67.8l0.1,-1.0M328.9,82.0l0.1,-1.0M328.9,97.1l0.1,-1.0M328.9,108.9l0.1,-1.0M328.9,119.2l0.1,-1.0M328.9,126.3l0.1,-1.0M336.6,51.0l0.1,-1.0M336.6,70.1l0.1,-1.0M336.6,85.8l0.1,-1.0M336.6,102.3l0.1,-1.0M336.6,115.3l0.1,-1.0M336.6,126.6l0.1,-1.0M336.6,134.4l0.1,-1.0M336.6,137.9l0.1,-1.0M344.3,51.0l0.3,-2.1M344.3,70.8l0.3,-2.1M344.3,86.9l0.3,-2.1M344.3,104.0l0.3,-2.1M344.3,117.4l0.3,-2.1M344.3,129.1l0.3,-2.1M344.3,137.2l0.3,-2.1M344.3,140.8l0.3,-2.1M352.1,51.0l0.5,-3.9M352.1,70.8l0.5,-3.9M352.1,86.9l0.5,-3.9M352.1,103.9l0.5,-3.9M352.1,117.3l0.5,-3.9M352.1,129.0l0.5,-3.9M352.1,137.1l0.5,-3.9M352.1,140.6l0.5,-3.9M359.8,51.0l0.7,-5.5M359.8,69.8l0.7,-5.5M359.8,85.2l0.7,-5.5M359.8,101.5l0.7,-5.5M359.8,114.3l0.7,-5.5M359.8,125.4l0.7,-5.5M359.8,133.1l0.7,-5.5M359.8,136.5l0.7,-5.5M365.7,49.9l0.7,-5.5M365.7,67.2l0.7,-5.5M365.7,81.3l0.7,-5.5M365.7,96.3l0.7,-5.5M365.7,108.1l0.7,-5.5M365.7,118.3l0.7,-5.5M365.7,125.4l0.7,-5.5M371.5,48.7l0.7,-5.5M371.5,63.6l0.7,-5.5M371.5,75.7l0.7,-5.5M371.5,88.6l0.7,-5.5M371.5,98.7l0.7,-5.5M371.5,107.5l0.7,-5.5M371.5,113.6l0.7,-5.5M377.4,47.7l0.7,-5.5M377.4,60.1l0.7,-5.5M377.4,70.2l0.7,-5.5M377.4,80.9l0.7,-5.5M377.4,89.3l0.7,-5.5M377.4,96.6l0.7,-5.5M377.4,101.7l0.7,-5.5M383.2,46.9l0.7,-5.5M383.2,57.2l0.7,-5.5M383.2,65.7l0.7,-5.5M383.2,74.7l0.7,-5.5M383.2,81.8l0.7,-5.5M383.2,87.9l0.7,-5.5M383.2,92.2l0.7,-5.5M389.1,46.0l0.7,-5.5M389.1,54.9l0.7,-5.5M389.1,62.1l0.7,-5.5M389.1,69.8l0.7,-5.5M389.1,75.8l0.7,-5.5M389.1,81.0l0.7,-5.5M389.1,84.7l0.7,-5.5M394.9,45.2l0.7,-5.5M394.9,52.6l0.7,-5.5M394.9,58.7l0.7,-5.5M394.9,65.0l0.7,-5.5M394.9,70.1l0.7,-5.5M394.9,74.4l0.7,-5.5M394.9,78.8l0.7,-5.5M400.8,44.8l0.7,-5.5M400.8,50.9l0.7,-5.5M400.8,56.0l0.7,-5.5M400.8,61.3l0.7,-5.5M400.8,65.5l0.7,-5.5M400.8,69.2l0.7,-5.5M400.8,72.8l0.7,-5.5M406.6,44.3l0.7,-5.5M406.6,49.2l0.7,-5.5M406.6,53.3l0.7,-5.5M406.6,57.6l0.7,-5.5M406.6,63.9l0.7,-5.5M412.5,43.8l0.7,-5.5M412.5,47.5l0.7,-5.5M412.5,53.9l0.7,-5.5M412.5,58.7l0.7,-5.5M418.3,43.6l0.7,-5.5M418.3,48.7l0.7,-5.5M418.3,53.0l0.7,-5.5M424.2,43.4l0.7,-5.5M424.2,48.3l0.7,-5.5M424.2,51.7l0.7,-5.5M430.0,43.2l0.7,-5.5M430.0,46.7l0.7,-5.5" stroke="#20262c" stroke-opacity="0.5" stroke-width="0.8" fill="none"/>
</g>
<path d="M298.0,44.3l0.3,-1.7M305.7,45.4l0.3,-1.7M313.4,47.3l0.3,-1.7M321.2,49.6l0.3,-1.7M328.9,50.3l0.3,-1.7M336.6,50.9l0.3,-1.7M344.3,50.9l0.3,-1.7M352.1,50.9l0.3,-1.7M359.8,50.9l0.3,-1.7M365.7,49.8l0.3,-1.7M371.5,48.6l0.3,-1.7M377.4,47.6l0.3,-1.7M383.2,46.8l0.3,-1.7M389.1,45.9l0.3,-1.7M394.9,45.1l0.3,-1.7M400.8,44.7l0.3,-1.7M406.6,44.2l0.3,-1.7M412.5,43.7l0.3,-1.7M418.3,43.5l0.3,-1.7M424.2,43.3l0.3,-1.7M430.0,43.1l0.3,-1.7" stroke="#b87858" stroke-opacity="0.7" stroke-width="0.8" fill="none"/>
<path d="M275.9,7.4 V154.2 H441.6" stroke="#a6a6a6" stroke-width="1" fill="none"/>
<path d="M275.9,7.4 h1.6 M275.9,22.1 h1.6 M275.9,36.8 h1.6 M275.9,51.4 h1.6 M275.9,66.1 h1.6 M275.9,80.8 h1.6 M275.9,95.5 h1.6 M275.9,110.2 h1.6 M275.9,124.8 h1.6 M275.9,139.5 h1.6 M275.9,154.2 h1.6 M275.9,154.2 v-1.6 M303.5,154.2 v-1.6 M331.1,154.2 v-1.6 M358.8,154.2 v-1.6 M386.4,154.2 v-1.6 M414.0,154.2 v-1.6 M441.6,154.2 v-1.6" stroke="#a6a6a6" stroke-width="0.8" fill="none"/>
<g font-size="8.6"><text x="270.6" y="10.2" text-anchor="end">4</text>
<text x="270.6" y="40.0" text-anchor="end">0</text>
<text x="270.6" y="69.7" text-anchor="end">-4</text>
<text x="270.6" y="99.5" text-anchor="end">-8</text>
<text x="270.6" y="129.3" text-anchor="end">-12</text>
<text x="270.6" y="156.2" text-anchor="end">-16</text>
<text x="275.2" y="164.4" text-anchor="middle">0</text>
<text x="329.4" y="164.4" text-anchor="middle">100</text>
<text x="384.5" y="164.4" text-anchor="middle">200</text>
<text x="439.7" y="164.4" text-anchor="middle">300</text>
<text x="295.3" y="175.1">Distance along cross-section (m)</text>
<text transform="translate(258.3,81.3) rotate(-90)" text-anchor="middle">Elevation (m)</text>
<text x="291.0" y="14.3">(b)</text>
<rect x="447.5" y="23.8" width="6.4" height="122.4" fill="url(#cb)"/>
<text x="457.1" y="148.1">0</text>
<text x="457.1" y="100.1">0.5</text>
<path d="M447.5,97.2 h1.2 M453.9,97.2 h-1.2" stroke="#444" stroke-opacity="0.6" stroke-width="0.6"/>
<text x="457.1" y="51.2">1.0</text>
<path d="M447.5,48.3 h1.2 M453.9,48.3 h-1.2" stroke="#444" stroke-opacity="0.6" stroke-width="0.6"/>
<text x="446.6" y="21.3">m/s</text></g>
<g clip-path="url(#cp_c)"><g filter="url(#hb)">
<rect x="29.0" y="212.3" width="2.6" height="26.2" fill="url(#gc0)"/>
<rect x="31.0" y="214.0" width="2.6" height="25.0" fill="url(#gc1)"/>
<rect x="33.0" y="215.7" width="2.6" height="26.2" fill="url(#gc2)"/>
<rect x="35.0" y="217.4" width="2.6" height="27.5" fill="url(#gc3)"/>
<rect x="37.0" y="218.6" width="2.6" height="28.9" fill="url(#gc4)"/>
<rect x="39.0" y="218.8" width="2.6" height="31.3" fill="url(#gc5)"/>
<rect x="41.0" y="219.0" width="2.6" height="33.7" fill="url(#gc6)"/>
<rect x="43.0" y="219.2" width="2.6" height="36.0" fill="url(#gc7)"/>
<rect x="45.0" y="219.4" width="2.6" height="37.5" fill="url(#gc8)"/>
<rect x="47.0" y="219.6" width="2.6" height="38.6" fill="url(#gc9)"/>
<rect x="49.0" y="219.7" width="2.6" height="39.7" fill="url(#gc10)"/>
<rect x="51.0" y="220.0" width="2.6" height="40.7" fill="url(#gc11)"/>
<rect x="53.0" y="220.5" width="2.6" height="42.8" fill="url(#gc12)"/>
<rect x="55.0" y="221.0" width="2.6" height="45.5" fill="url(#gc13)"/>
<rect x="57.0" y="221.5" width="2.6" height="48.2" fill="url(#gc14)"/>
<rect x="59.0" y="222.0" width="2.6" height="51.7" fill="url(#gc15)"/>
<rect x="61.0" y="222.5" width="2.6" height="56.0" fill="url(#gc16)"/>
<rect x="63.0" y="223.0" width="2.6" height="61.0" fill="url(#gc17)"/>
<rect x="65.0" y="223.6" width="2.6" height="67.2" fill="url(#gc18)"/>
<rect x="67.0" y="224.1" width="2.6" height="73.5" fill="url(#gc19)"/>
<rect x="69.0" y="224.7" width="2.6" height="79.3" fill="url(#gc20)"/>
<rect x="71.0" y="225.2" width="2.6" height="84.8" fill="url(#gc21)"/>
<rect x="73.0" y="225.8" width="2.6" height="90.2" fill="url(#gc22)"/>
<rect x="75.0" y="226.2" width="2.6" height="94.0" fill="url(#gc23)"/>
<rect x="77.0" y="226.4" width="2.6" height="97.9" fill="url(#gc24)"/>
<rect x="79.0" y="226.7" width="2.6" height="101.8" fill="url(#gc25)"/>
<rect x="81.0" y="226.9" width="2.6" height="104.3" fill="url(#gc26)"/>
<rect x="83.0" y="227.1" width="2.6" height="106.5" fill="url(#gc27)"/>
<rect x="85.0" y="227.4" width="2.6" height="108.6" fill="url(#gc28)"/>
<rect x="87.0" y="227.6" width="2.6" height="110.7" fill="url(#gc29)"/>
<rect x="89.0" y="227.6" width="2.6" height="111.5" fill="url(#gc30)"/>
<rect x="91.0" y="227.6" width="2.6" height="112.2" fill="url(#gc31)"/>
<rect x="93.0" y="227.6" width="2.6" height="113.0" fill="url(#gc32)"/>
<rect x="95.0" y="227.6" width="2.6" height="113.8" fill="url(#gc33)"/>
<rect x="97.0" y="227.6" width="2.6" height="113.9" fill="url(#gc34)"/>
<rect x="99.0" y="227.6" width="2.6" height="113.9" fill="url(#gc35)"/>
<rect x="101.0" y="227.6" width="2.6" height="113.8" fill="url(#gc36)"/>
<rect x="103.0" y="227.4" width="2.6" height="113.9" fill="url(#gc37)"/>
<rect x="105.0" y="227.3" width="2.6" height="113.3" fill="url(#gc38)"/>
<rect x="107.0" y="227.1" width="2.6" height="112.3" fill="url(#gc39)"/>
<rect x="109.0" y="227.0" width="2.6" height="111.4" fill="url(#gc40)"/>
<rect x="111.0" y="226.8" width="2.6" height="109.4" fill="url(#gc41)"/>
<rect x="113.0" y="226.7" width="2.6" height="107.5" fill="url(#gc42)"/>
<rect x="115.0" y="226.4" width="2.6" height="104.5" fill="url(#gc43)"/>
<rect x="117.0" y="226.0" width="2.6" height="100.8" fill="url(#gc44)"/>
<rect x="119.0" y="225.6" width="2.6" height="97.1" fill="url(#gc45)"/>
<rect x="121.0" y="225.2" width="2.6" height="92.9" fill="url(#gc46)"/>
<rect x="123.0" y="224.8" width="2.6" height="88.6" fill="url(#gc47)"/>
<rect x="125.0" y="224.4" width="2.6" height="84.5" fill="url(#gc48)"/>
<rect x="127.0" y="224.0" width="2.6" height="80.9" fill="url(#gc49)"/>
<rect x="129.0" y="223.7" width="2.6" height="77.2" fill="url(#gc50)"/>
<rect x="131.0" y="223.4" width="2.6" height="73.8" fill="url(#gc51)"/>
<rect x="133.0" y="223.0" width="2.6" height="71.4" fill="url(#gc52)"/>
<rect x="135.0" y="222.7" width="2.6" height="69.0" fill="url(#gc53)"/>
<rect x="137.0" y="222.4" width="2.6" height="66.6" fill="url(#gc54)"/>
<rect x="139.0" y="222.1" width="2.6" height="64.1" fill="url(#gc55)"/>
<rect x="141.0" y="221.8" width="2.6" height="61.7" fill="url(#gc56)"/>
<rect x="143.0" y="221.5" width="2.6" height="59.3" fill="url(#gc57)"/>
<rect x="145.0" y="221.2" width="2.6" height="57.3" fill="url(#gc58)"/>
<rect x="147.0" y="220.9" width="2.6" height="55.5" fill="url(#gc59)"/>
<rect x="149.0" y="220.7" width="2.6" height="53.7" fill="url(#gc60)"/>
<rect x="151.0" y="220.5" width="2.6" height="51.7" fill="url(#gc61)"/>
<rect x="153.0" y="220.3" width="2.6" height="49.8" fill="url(#gc62)"/>
<rect x="155.0" y="220.1" width="2.6" height="47.9" fill="url(#gc63)"/>
<rect x="157.0" y="219.9" width="2.6" height="46.0" fill="url(#gc64)"/>
<rect x="159.0" y="219.7" width="2.6" height="44.1" fill="url(#gc65)"/>
<rect x="161.0" y="219.5" width="2.6" height="42.2" fill="url(#gc66)"/>
<rect x="163.0" y="219.3" width="2.6" height="40.6" fill="url(#gc67)"/>
<rect x="165.0" y="219.1" width="2.6" height="39.2" fill="url(#gc68)"/>
<rect x="167.0" y="219.0" width="2.6" height="37.8" fill="url(#gc69)"/>
<rect x="169.0" y="218.9" width="2.6" height="36.2" fill="url(#gc70)"/>
<rect x="171.0" y="218.8" width="2.6" height="34.7" fill="url(#gc71)"/>
<rect x="173.0" y="218.7" width="2.6" height="33.2" fill="url(#gc72)"/>
<rect x="175.0" y="218.7" width="2.6" height="31.7" fill="url(#gc73)"/>
<rect x="177.0" y="218.6" width="2.6" height="30.2" fill="url(#gc74)"/>
<rect x="179.0" y="218.5" width="2.6" height="28.7" fill="url(#gc75)"/>
<rect x="181.0" y="217.7" width="2.6" height="27.9" fill="url(#gc76)"/>
<rect x="183.0" y="213.0" width="2.6" height="26.0" fill="url(#gc77)"/>
<rect x="185.0" y="208.3" width="2.6" height="26.2" fill="url(#gc78)"/>
<rect x="187.0" y="208.1" width="2.6" height="26.2" fill="url(#gc79)"/>
</g>
<path d="M29.5,219.3 L36.5,229.6 L44.5,239.9 L52.6,245.1 L59.0,255.4 L63.3,265.7 L68.7,284.1 L74.1,300.3 L80.5,313.5 L88.0,322.3 L96.6,325.6 L104.7,325.3 L110.1,322.3 L114.9,317.2 L120.3,306.1 L125.6,293.6 L131.5,281.9 L138.5,272.3 L144.4,264.2 L153.5,254.6 L162.7,245.1 L171.8,237.7 L182.0,229.6 L186.1,216.1" stroke="#2438f0" stroke-width="7" stroke-opacity="0.55" fill="none" filter="url(#bl)"/>
<path d="M35.9,225.6l0.2,-1.0M35.9,229.1l0.2,-1.0M43.5,227.4l0.2,-1.0M43.5,232.0l0.2,-1.0M43.5,235.9l0.2,-1.0M51.0,228.1l0.2,-1.0M51.0,231.7l0.2,-1.0M51.0,237.7l0.2,-1.0M51.0,242.2l0.2,-1.0M58.5,229.9l0.2,-1.0M58.5,235.4l0.2,-1.0M58.5,239.9l0.2,-1.0M58.5,244.6l0.2,-1.0M58.5,248.3l0.2,-1.0M58.5,253.8l0.2,-1.0M66.0,231.9l0.2,-1.0M66.0,241.4l0.2,-1.0M66.0,249.2l0.2,-1.0M66.0,257.4l0.2,-1.0M66.0,263.9l0.2,-1.0M66.0,269.5l0.2,-1.0M66.0,273.4l0.2,-1.0M73.5,234.0l0.2,-1.0M73.5,248.3l0.2,-1.0M73.5,260.0l0.2,-1.0M73.5,272.3l0.2,-1.0M73.5,282.0l0.2,-1.0M73.5,290.5l0.2,-1.0M73.5,296.3l0.2,-1.0M81.1,235.1l0.2,-1.0M81.1,252.5l0.2,-1.0M81.1,266.8l0.2,-1.0M81.1,281.9l0.2,-1.0M81.1,293.8l0.2,-1.0M81.1,304.1l0.2,-1.0M81.1,311.3l0.2,-1.0M88.6,235.9l0.2,-1.0M88.6,255.1l0.2,-1.0M88.6,270.7l0.2,-1.0M88.6,287.2l0.2,-1.0M88.6,300.2l0.2,-1.0M88.6,311.5l0.2,-1.0M88.6,319.4l0.2,-1.0M88.6,322.8l0.2,-1.0M96.1,235.9l0.3,-1.7M96.1,255.7l0.3,-1.7M96.1,271.9l0.3,-1.7M96.1,288.9l0.3,-1.7M96.1,302.4l0.3,-1.7M96.1,314.1l0.3,-1.7M96.1,322.1l0.3,-1.7M96.1,325.7l0.3,-1.7M103.6,235.8l0.5,-2.9M103.6,255.5l0.5,-2.9M103.6,271.7l0.5,-2.9M103.6,288.8l0.5,-2.9M103.6,302.3l0.5,-2.9M103.6,313.9l0.5,-2.9M103.6,322.0l0.5,-2.9M103.6,325.6l0.5,-2.9M111.1,235.2l0.7,-3.9M111.1,254.2l0.7,-3.9M111.1,269.7l0.7,-3.9M111.1,286.1l0.7,-3.9M111.1,299.0l0.7,-3.9M111.1,310.3l0.7,-3.9M111.1,318.0l0.7,-3.9M111.1,321.5l0.7,-3.9M116.8,234.5l0.7,-3.9M116.8,251.9l0.7,-3.9M116.8,266.1l0.7,-3.9M116.8,281.1l0.7,-3.9M116.8,293.0l0.7,-3.9M116.8,303.2l0.7,-3.9M116.8,310.3l0.7,-3.9M122.5,233.4l0.7,-3.9M122.5,248.3l0.7,-3.9M122.5,260.5l0.7,-3.9M122.5,273.4l0.7,-3.9M122.5,283.6l0.7,-3.9M122.5,292.4l0.7,-3.9M122.5,298.5l0.7,-3.9M128.2,232.3l0.7,-3.9M128.2,244.7l0.7,-3.9M128.2,254.9l0.7,-3.9M128.2,265.6l0.7,-3.9M128.2,274.1l0.7,-3.9M128.2,281.4l0.7,-3.9M128.2,286.5l0.7,-3.9M133.9,231.4l0.7,-3.9M133.9,241.8l0.7,-3.9M133.9,250.4l0.7,-3.9M133.9,259.4l0.7,-3.9M133.9,266.6l0.7,-3.9M133.9,272.7l0.7,-3.9M133.9,277.0l0.7,-3.9M139.6,230.5l0.7,-3.9M139.6,239.4l0.7,-3.9M139.6,246.7l0.7,-3.9M139.6,254.5l0.7,-3.9M139.6,260.5l0.7,-3.9M139.6,265.8l0.7,-3.9M139.6,269.5l0.7,-3.9M145.3,229.6l0.7,-3.9M145.3,237.1l0.7,-3.9M145.3,243.2l0.7,-3.9M145.3,249.7l0.7,-3.9M145.3,254.8l0.7,-3.9M145.3,259.2l0.7,-3.9M145.3,263.6l0.7,-3.9M151.0,228.9l0.7,-3.9M151.0,235.2l0.7,-3.9M151.0,240.4l0.7,-3.9M151.0,245.8l0.7,-3.9M151.0,250.2l0.7,-3.9M151.0,253.9l0.7,-3.9M151.0,257.6l0.7,-3.9M156.7,228.3l0.7,-3.9M156.7,233.5l0.7,-3.9M156.7,237.7l0.7,-3.9M156.7,242.1l0.7,-3.9M156.7,245.6l0.7,-3.9M156.7,250.7l0.7,-3.9M162.4,227.8l0.7,-3.9M162.4,231.7l0.7,-3.9M162.4,238.4l0.7,-3.9M162.4,243.4l0.7,-3.9M168.0,227.3l0.7,-3.9M168.0,232.8l0.7,-3.9M168.0,237.5l0.7,-3.9M168.0,241.0l0.7,-3.9M173.7,227.1l0.7,-3.9M173.7,230.8l0.7,-3.9M173.7,235.2l0.7,-3.9M179.4,226.8l0.7,-3.9M179.4,230.6l0.7,-3.9" stroke="#20262c" stroke-opacity="0.5" stroke-width="0.8" fill="none"/>
</g>
<path d="M51.0,228.0l0.3,-1.7M58.5,229.8l0.3,-1.7M66.0,231.8l0.3,-1.7M73.5,233.9l0.3,-1.7M81.1,235.0l0.3,-1.7M88.6,235.8l0.3,-1.7M96.1,235.8l0.3,-1.7M103.6,235.7l0.3,-1.7M111.1,235.1l0.3,-1.7M116.8,234.4l0.3,-1.7M122.5,233.3l0.3,-1.7M128.2,232.2l0.3,-1.7M133.9,231.3l0.3,-1.7M139.6,230.4l0.3,-1.7M145.3,229.5l0.3,-1.7M151.0,228.8l0.3,-1.7M156.7,228.2l0.3,-1.7M162.4,227.7l0.3,-1.7M168.0,227.2l0.3,-1.7M173.7,227.0l0.3,-1.7M179.4,226.7l0.3,-1.7" stroke="#b87858" stroke-opacity="0.7" stroke-width="0.8" fill="none"/>
<path d="M29.5,192.1 V339.3 H190.6" stroke="#a6a6a6" stroke-width="1" fill="none"/>
<path d="M29.5,192.1 h1.6 M29.5,206.8 h1.6 M29.5,221.5 h1.6 M29.5,236.3 h1.6 M29.5,251.0 h1.6 M29.5,265.7 h1.6 M29.5,280.4 h1.6 M29.5,295.1 h1.6 M29.5,309.9 h1.6 M29.5,324.6 h1.6 M29.5,339.3 h1.6 M29.5,339.3 v-1.6 M56.3,339.3 v-1.6 M83.2,339.3 v-1.6 M110.0,339.3 v-1.6 M136.9,339.3 v-1.6 M163.8,339.3 v-1.6 M190.6,339.3 v-1.6" stroke="#a6a6a6" stroke-width="0.8" fill="none"/>
<g font-size="8.4"><text x="24.0" y="194.5" text-anchor="end">4</text>
<text x="24.0" y="224.0" text-anchor="end">0</text>
<text x="24.0" y="253.4" text-anchor="end">-4</text>
<text x="24.0" y="282.8" text-anchor="end">-8</text>
<text x="24.0" y="312.3" text-anchor="end">-12</text>
<text x="24.0" y="340.2" text-anchor="end">-16</text>
<text x="29.8" y="348.5" text-anchor="middle">0</text>
<text x="82.8" y="348.5" text-anchor="middle">100</text>
<text x="137.5" y="348.5" text-anchor="middle">200</text>
<text x="190.4" y="348.5" text-anchor="middle">300</text>
<text x="49.3" y="359.2">Distance along cross-section (m)</text>
<text transform="translate(12.7,266.0) rotate(-90)" text-anchor="middle">Elevation (m)</text>
<text x="41.0" y="200.3">(c)</text>
<rect x="195.5" y="209.9" width="6.4" height="122.8" fill="url(#cb)"/>
<text x="205.1" y="334.6">0</text>
<text x="205.1" y="286.5">0.5</text>
<path d="M195.5,283.6 h1.2 M201.9,283.6 h-1.2" stroke="#444" stroke-opacity="0.6" stroke-width="0.6"/>
<text x="205.1" y="237.4">1.0</text>
<path d="M195.5,234.5 h1.2 M201.9,234.5 h-1.2" stroke="#444" stroke-opacity="0.6" stroke-width="0.6"/>
<text x="194.6" y="207.4">m/s</text></g>
<g clip-path="url(#cp_d)"><g filter="url(#hb)">
<rect x="274.1" y="208.6" width="2.6" height="26.2" fill="url(#gd0)"/>
<rect x="276.1" y="208.8" width="2.6" height="28.8" fill="url(#gd1)"/>
<rect x="278.1" y="209.0" width="2.6" height="31.5" fill="url(#gd2)"/>
<rect x="280.1" y="209.2" width="2.6" height="34.2" fill="url(#gd3)"/>
<rect x="282.1" y="209.4" width="2.6" height="36.6" fill="url(#gd4)"/>
<rect x="284.1" y="209.6" width="2.6" height="39.0" fill="url(#gd5)"/>
<rect x="286.1" y="209.8" width="2.6" height="41.3" fill="url(#gd6)"/>
<rect x="288.1" y="210.0" width="2.6" height="43.6" fill="url(#gd7)"/>
<rect x="290.1" y="210.3" width="2.6" height="45.1" fill="url(#gd8)"/>
<rect x="292.1" y="210.6" width="2.6" height="46.0" fill="url(#gd9)"/>
<rect x="294.1" y="210.9" width="2.6" height="47.0" fill="url(#gd10)"/>
<rect x="296.1" y="211.2" width="2.6" height="47.9" fill="url(#gd11)"/>
<rect x="298.1" y="211.5" width="2.6" height="49.7" fill="url(#gd12)"/>
<rect x="300.1" y="211.8" width="2.6" height="52.5" fill="url(#gd13)"/>
<rect x="302.1" y="212.1" width="2.6" height="55.3" fill="url(#gd14)"/>
<rect x="304.1" y="212.5" width="2.6" height="58.2" fill="url(#gd15)"/>
<rect x="306.1" y="213.0" width="2.6" height="62.4" fill="url(#gd16)"/>
<rect x="308.1" y="213.5" width="2.6" height="66.6" fill="url(#gd17)"/>
<rect x="310.1" y="214.0" width="2.6" height="72.6" fill="url(#gd18)"/>
<rect x="312.1" y="214.5" width="2.6" height="78.8" fill="url(#gd19)"/>
<rect x="314.1" y="215.0" width="2.6" height="84.9" fill="url(#gd20)"/>
<rect x="316.1" y="215.5" width="2.6" height="90.3" fill="url(#gd21)"/>
<rect x="318.1" y="215.9" width="2.6" height="95.8" fill="url(#gd22)"/>
<rect x="320.1" y="216.3" width="2.6" height="100.7" fill="url(#gd23)"/>
<rect x="322.1" y="216.6" width="2.6" height="104.3" fill="url(#gd24)"/>
<rect x="324.1" y="217.0" width="2.6" height="108.0" fill="url(#gd25)"/>
<rect x="326.1" y="217.3" width="2.6" height="111.5" fill="url(#gd26)"/>
<rect x="328.1" y="217.7" width="2.6" height="113.5" fill="url(#gd27)"/>
<rect x="330.1" y="218.1" width="2.6" height="115.4" fill="url(#gd28)"/>
<rect x="332.1" y="218.4" width="2.6" height="117.4" fill="url(#gd29)"/>
<rect x="334.1" y="218.5" width="2.6" height="119.2" fill="url(#gd30)"/>
<rect x="336.1" y="218.6" width="2.6" height="119.9" fill="url(#gd31)"/>
<rect x="338.1" y="218.7" width="2.6" height="120.6" fill="url(#gd32)"/>
<rect x="340.1" y="218.8" width="2.6" height="121.2" fill="url(#gd33)"/>
<rect x="342.1" y="218.9" width="2.6" height="121.9" fill="url(#gd34)"/>
<rect x="344.1" y="219.0" width="2.6" height="121.9" fill="url(#gd35)"/>
<rect x="346.1" y="219.0" width="2.6" height="121.8" fill="url(#gd36)"/>
<rect x="348.1" y="218.9" width="2.6" height="121.8" fill="url(#gd37)"/>
<rect x="350.1" y="218.8" width="2.6" height="121.8" fill="url(#gd38)"/>
<rect x="352.1" y="218.7" width="2.6" height="121.1" fill="url(#gd39)"/>
<rect x="354.1" y="218.6" width="2.6" height="120.1" fill="url(#gd40)"/>
<rect x="356.1" y="218.5" width="2.6" height="119.1" fill="url(#gd41)"/>
<rect x="358.1" y="218.4" width="2.6" height="117.2" fill="url(#gd42)"/>
<rect x="360.1" y="218.1" width="2.6" height="115.5" fill="url(#gd43)"/>
<rect x="362.1" y="217.5" width="2.6" height="113.1" fill="url(#gd44)"/>
<rect x="364.1" y="217.0" width="2.6" height="109.6" fill="url(#gd45)"/>
<rect x="366.1" y="216.5" width="2.6" height="106.1" fill="url(#gd46)"/>
<rect x="368.1" y="215.9" width="2.6" height="102.2" fill="url(#gd47)"/>
<rect x="370.1" y="215.4" width="2.6" height="98.2" fill="url(#gd48)"/>
<rect x="372.1" y="214.8" width="2.6" height="94.2" fill="url(#gd49)"/>
<rect x="374.1" y="214.4" width="2.6" height="90.6" fill="url(#gd50)"/>
<rect x="376.1" y="214.2" width="2.6" height="87.0" fill="url(#gd51)"/>
<rect x="378.1" y="213.9" width="2.6" height="83.4" fill="url(#gd52)"/>
<rect x="380.1" y="213.6" width="2.6" height="80.9" fill="url(#gd53)"/>
<rect x="382.1" y="213.3" width="2.6" height="78.5" fill="url(#gd54)"/>
<rect x="384.1" y="213.0" width="2.6" height="76.0" fill="url(#gd55)"/>
<rect x="386.1" y="212.8" width="2.6" height="73.6" fill="url(#gd56)"/>
<rect x="388.1" y="212.5" width="2.6" height="71.2" fill="url(#gd57)"/>
<rect x="390.1" y="212.2" width="2.6" height="68.8" fill="url(#gd58)"/>
<rect x="392.1" y="211.9" width="2.6" height="66.6" fill="url(#gd59)"/>
<rect x="394.1" y="211.8" width="2.6" height="64.7" fill="url(#gd60)"/>
<rect x="396.1" y="211.6" width="2.6" height="62.8" fill="url(#gd61)"/>
<rect x="398.1" y="211.4" width="2.6" height="60.9" fill="url(#gd62)"/>
<rect x="400.1" y="211.3" width="2.6" height="59.0" fill="url(#gd63)"/>
<rect x="402.1" y="211.1" width="2.6" height="57.1" fill="url(#gd64)"/>
<rect x="404.1" y="211.0" width="2.6" height="55.2" fill="url(#gd65)"/>
<rect x="406.1" y="210.8" width="2.6" height="53.3" fill="url(#gd66)"/>
<rect x="408.1" y="210.7" width="2.6" height="51.4" fill="url(#gd67)"/>
<rect x="410.1" y="210.5" width="2.6" height="49.5" fill="url(#gd68)"/>
<rect x="412.1" y="210.4" width="2.6" height="48.0" fill="url(#gd69)"/>
<rect x="414.1" y="210.3" width="2.6" height="46.6" fill="url(#gd70)"/>
<rect x="416.1" y="210.2" width="2.6" height="45.1" fill="url(#gd71)"/>
<rect x="418.1" y="210.0" width="2.6" height="43.6" fill="url(#gd72)"/>
<rect x="420.1" y="209.9" width="2.6" height="42.2" fill="url(#gd73)"/>
<rect x="422.1" y="209.8" width="2.6" height="40.7" fill="url(#gd74)"/>
<rect x="424.1" y="209.7" width="2.6" height="39.3" fill="url(#gd75)"/>
<rect x="426.1" y="209.6" width="2.6" height="37.9" fill="url(#gd76)"/>
<rect x="428.1" y="209.5" width="2.6" height="36.4" fill="url(#gd77)"/>
<rect x="430.1" y="209.0" width="2.6" height="35.3" fill="url(#gd78)"/>
<rect x="432.1" y="207.5" width="2.6" height="29.4" fill="url(#gd79)"/>
<rect x="434.1" y="206.2" width="2.6" height="26.2" fill="url(#gd80)"/>
<rect x="436.1" y="206.2" width="2.6" height="26.2" fill="url(#gd81)"/>
</g>
<path d="M274.6,218.0 L281.8,228.3 L290.0,238.7 L298.3,243.9 L304.9,254.2 L309.3,264.6 L314.8,283.1 L320.3,299.4 L326.9,312.7 L334.7,321.6 L343.5,324.9 L351.7,324.5 L357.2,321.6 L362.2,316.4 L367.7,305.3 L373.2,292.7 L379.3,280.9 L386.5,271.3 L392.5,263.1 L401.9,253.5 L411.2,243.9 L420.6,236.5 L431.1,228.3 L434.9,214.2" stroke="#2438f0" stroke-width="7" stroke-opacity="0.55" fill="none" filter="url(#bl)"/>
<path d="M281.2,217.5l0.3,-1.0M281.2,221.6l0.3,-1.0M281.2,225.1l0.3,-1.0M288.9,218.3l0.3,-1.0M288.9,222.5l0.3,-1.0M288.9,226.0l0.3,-1.0M288.9,229.7l0.3,-1.0M288.9,233.9l0.3,-1.0M288.9,237.6l0.3,-1.0M296.6,219.4l0.3,-1.0M296.6,224.6l0.3,-1.0M296.6,228.9l0.3,-1.0M296.6,233.4l0.3,-1.0M296.6,237.0l0.3,-1.0M296.6,241.2l0.3,-1.0M304.4,220.6l0.3,-1.0M304.4,224.2l0.3,-1.0M304.4,227.9l0.3,-1.0M304.4,233.8l0.3,-1.0M304.4,240.1l0.3,-1.0M304.4,245.1l0.3,-1.0M304.4,249.4l0.3,-1.0M304.4,253.7l0.3,-1.0M312.1,222.5l0.3,-1.0M312.1,228.2l0.3,-1.0M312.1,233.9l0.3,-1.0M312.1,238.5l0.3,-1.0M312.1,243.2l0.3,-1.0M312.1,248.3l0.3,-1.0M312.1,253.0l0.3,-1.0M312.1,257.1l0.3,-1.0M312.1,260.7l0.3,-1.0M312.1,264.3l0.3,-1.0M312.1,270.0l0.3,-1.0M312.1,274.2l0.3,-1.0M319.8,224.3l0.3,-1.0M319.8,232.4l0.3,-1.0M319.8,240.6l0.3,-1.0M319.8,247.2l0.3,-1.0M319.8,253.8l0.3,-1.0M319.8,261.2l0.3,-1.0M319.8,267.8l0.3,-1.0M319.8,273.7l0.3,-1.0M319.8,278.9l0.3,-1.0M319.8,284.0l0.3,-1.0M319.8,288.5l0.3,-1.0M319.8,292.2l0.3,-1.0M319.8,298.1l0.3,-1.0M327.5,225.7l0.3,-1.0M327.5,235.4l0.3,-1.0M327.5,245.1l0.3,-1.0M327.5,253.0l0.3,-1.0M327.5,260.9l0.3,-1.0M327.5,269.7l0.3,-1.0M327.5,277.6l0.3,-1.0M327.5,284.6l0.3,-1.0M327.5,290.8l0.3,-1.0M327.5,296.9l0.3,-1.0M327.5,302.2l0.3,-1.0M327.5,306.6l0.3,-1.0M327.5,310.1l0.3,-1.0M327.5,313.6l0.3,-1.0M335.2,226.8l0.3,-1.0M335.2,237.3l0.3,-1.0M335.2,247.8l0.3,-1.0M335.2,256.3l0.3,-1.0M335.2,264.9l0.3,-1.0M335.2,274.4l0.3,-1.0M335.2,283.0l0.3,-1.0M335.2,290.6l0.3,-1.0M335.2,297.3l0.3,-1.0M335.2,304.0l0.3,-1.0M335.2,309.7l0.3,-1.0M335.2,314.5l0.3,-1.0M335.2,318.3l0.3,-1.0M335.2,322.1l0.3,-1.0M342.9,227.2l0.4,-1.1M342.9,237.9l0.4,-1.1M342.9,248.7l0.4,-1.1M342.9,257.5l0.4,-1.1M342.9,266.3l0.4,-1.1M342.9,276.1l0.4,-1.1M342.9,284.9l0.4,-1.1M342.9,292.7l0.4,-1.1M342.9,299.6l0.4,-1.1M342.9,306.4l0.4,-1.1M342.9,312.3l0.4,-1.1M342.9,317.2l0.4,-1.1M342.9,321.1l0.4,-1.1M342.9,325.0l0.4,-1.1M350.6,227.1l0.5,-1.5M350.6,237.9l0.5,-1.5M350.6,248.6l0.5,-1.5M350.6,257.4l0.5,-1.5M350.6,266.2l0.5,-1.5M350.6,276.0l0.5,-1.5M350.6,284.8l0.5,-1.5M350.6,292.6l0.5,-1.5M350.6,299.5l0.5,-1.5M350.6,306.3l0.5,-1.5M350.6,312.2l0.5,-1.5M350.6,317.1l0.5,-1.5M350.6,321.0l0.5,-1.5M350.6,324.9l0.5,-1.5M358.4,226.8l0.6,-1.7M358.4,237.1l0.6,-1.7M358.4,247.4l0.6,-1.7M358.4,255.9l0.6,-1.7M358.4,264.4l0.6,-1.7M358.4,273.8l0.6,-1.7M358.4,282.2l0.6,-1.7M358.4,289.7l0.6,-1.7M358.4,296.3l0.6,-1.7M358.4,302.9l0.6,-1.7M358.4,308.5l0.6,-1.7M358.4,313.2l0.6,-1.7M358.4,317.0l0.6,-1.7M358.4,320.7l0.6,-1.7M364.2,225.5l0.6,-1.7M364.2,235.1l0.6,-1.7M364.2,244.7l0.6,-1.7M364.2,252.6l0.6,-1.7M364.2,260.4l0.6,-1.7M364.2,269.1l0.6,-1.7M364.2,277.0l0.6,-1.7M364.2,283.9l0.6,-1.7M364.2,290.0l0.6,-1.7M364.2,296.1l0.6,-1.7M364.2,301.4l0.6,-1.7M364.2,305.7l0.6,-1.7M364.2,309.2l0.6,-1.7M364.2,312.7l0.6,-1.7M370.0,224.0l0.6,-1.7M370.0,232.4l0.6,-1.7M370.0,240.8l0.6,-1.7M370.0,247.6l0.6,-1.7M370.0,254.5l0.6,-1.7M370.0,262.1l0.6,-1.7M370.0,269.0l0.6,-1.7M370.0,275.1l0.6,-1.7M370.0,280.5l0.6,-1.7M370.0,285.8l0.6,-1.7M370.0,290.4l0.6,-1.7M370.0,294.2l0.6,-1.7M370.0,300.3l0.6,-1.7M375.9,222.6l0.6,-1.7M375.9,229.8l0.6,-1.7M375.9,237.0l0.6,-1.7M375.9,242.8l0.6,-1.7M375.9,248.7l0.6,-1.7M375.9,255.2l0.6,-1.7M375.9,261.1l0.6,-1.7M375.9,266.3l0.6,-1.7M375.9,270.9l0.6,-1.7M375.9,275.5l0.6,-1.7M375.9,279.4l0.6,-1.7M375.9,285.2l0.6,-1.7M381.7,221.8l0.6,-1.7M381.7,228.0l0.6,-1.7M381.7,234.2l0.6,-1.7M381.7,239.2l0.6,-1.7M381.7,244.3l0.6,-1.7M381.7,249.9l0.6,-1.7M381.7,254.9l0.6,-1.7M381.7,259.4l0.6,-1.7M381.7,263.3l0.6,-1.7M381.7,267.3l0.6,-1.7M381.7,273.4l0.6,-1.7M381.7,277.9l0.6,-1.7M387.6,221.0l0.6,-1.7M387.6,226.4l0.6,-1.7M387.6,231.8l0.6,-1.7M387.6,236.2l0.6,-1.7M387.6,240.6l0.6,-1.7M387.6,245.5l0.6,-1.7M387.6,250.0l0.6,-1.7M387.6,253.9l0.6,-1.7M387.6,257.3l0.6,-1.7M387.6,260.8l0.6,-1.7M387.6,266.2l0.6,-1.7M387.6,270.1l0.6,-1.7M393.4,220.2l0.6,-1.7M393.4,224.8l0.6,-1.7M393.4,229.5l0.6,-1.7M393.4,233.3l0.6,-1.7M393.4,237.1l0.6,-1.7M393.4,241.4l0.6,-1.7M393.4,245.2l0.6,-1.7M393.4,251.5l0.6,-1.7M393.4,257.0l0.6,-1.7M393.4,260.8l0.6,-1.7M399.2,219.7l0.6,-1.7M399.2,223.8l0.6,-1.7M399.2,227.8l0.6,-1.7M399.2,234.4l0.6,-1.7M399.2,238.1l0.6,-1.7M399.2,244.4l0.6,-1.7M399.2,249.5l0.6,-1.7M399.2,253.6l0.6,-1.7M405.1,219.3l0.6,-1.7M405.1,222.7l0.6,-1.7M405.1,226.2l0.6,-1.7M405.1,231.8l0.6,-1.7M405.1,237.7l0.6,-1.7M405.1,242.4l0.6,-1.7M405.1,246.5l0.6,-1.7M405.1,250.5l0.6,-1.7M410.9,218.8l0.6,-1.7M410.9,224.5l0.6,-1.7M410.9,229.1l0.6,-1.7M410.9,234.0l0.6,-1.7M410.9,237.8l0.6,-1.7M410.9,242.5l0.6,-1.7M416.8,218.5l0.6,-1.7M416.8,223.2l0.6,-1.7M416.8,227.0l0.6,-1.7M416.8,231.1l0.6,-1.7M416.8,235.8l0.6,-1.7M416.8,239.8l0.6,-1.7M422.6,218.1l0.6,-1.7M422.6,221.9l0.6,-1.7M422.6,226.7l0.6,-1.7M422.6,230.8l0.6,-1.7M422.6,234.6l0.6,-1.7M428.4,217.8l0.6,-1.7M428.4,221.8l0.6,-1.7M428.4,225.4l0.6,-1.7M428.4,229.0l0.6,-1.7" stroke="#20262c" stroke-opacity="0.5" stroke-width="0.8" fill="none"/>
</g>
<path d="M296.6,219.3l0.3,-1.7M304.4,220.5l0.3,-1.7M312.1,222.4l0.3,-1.7M319.8,224.2l0.3,-1.7M327.5,225.6l0.3,-1.7M335.2,226.7l0.3,-1.7M342.9,227.1l0.3,-1.7M350.6,227.0l0.3,-1.7M358.4,226.7l0.3,-1.7M364.2,225.4l0.3,-1.7M370.0,223.9l0.3,-1.7M375.9,222.5l0.3,-1.7M381.7,221.7l0.3,-1.7M387.6,220.9l0.3,-1.7M393.4,220.1l0.3,-1.7M399.2,219.6l0.3,-1.7M405.1,219.2l0.3,-1.7M410.9,218.7l0.3,-1.7M416.8,218.4l0.3,-1.7M422.6,218.0l0.3,-1.7M428.4,217.7l0.3,-1.7" stroke="#b87858" stroke-opacity="0.7" stroke-width="0.8" fill="none"/>
<path d="M274.6,190.6 V338.7 H440.0" stroke="#a6a6a6" stroke-width="1" fill="none"/>
<path d="M274.6,190.6 h1.6 M274.6,205.4 h1.6 M274.6,220.2 h1.6 M274.6,235.0 h1.6 M274.6,249.8 h1.6 M274.6,264.6 h1.6 M274.6,279.5 h1.6 M274.6,294.3 h1.6 M274.6,309.1 h1.6 M274.6,323.9 h1.6 M274.6,338.7 h1.6 M274.6,338.7 v-1.6 M302.2,338.7 v-1.6 M329.7,338.7 v-1.6 M357.3,338.7 v-1.6 M384.9,338.7 v-1.6 M412.4,338.7 v-1.6 M440.0,338.7 v-1.6" stroke="#a6a6a6" stroke-width="0.8" fill="none"/>
<g font-size="8.6"><text x="270.2" y="194.1" text-anchor="end">4</text>
<text x="270.2" y="223.8" text-anchor="end">0</text>
<text x="270.2" y="253.5" text-anchor="end">-4</text>
<text x="270.2" y="283.2" text-anchor="end">-8</text>
<text x="270.2" y="312.9" text-anchor="end">-12</text>
<text x="270.2" y="340.7" text-anchor="end">-16</text>
<text x="275.5" y="347.9" text-anchor="middle">0</text>
<text x="329.4" y="347.9" text-anchor="middle">100</text>
<text x="384.5" y="347.9" text-anchor="middle">200</text>
<text x="439.7" y="347.9" text-anchor="middle">300</text>
<text x="295.3" y="359.5">Distance along cross-section (m)</text>
<text transform="translate(257.6,266.2) rotate(-90)" text-anchor="middle">Elevation (m)</text>
<text x="286.3" y="199.0">(d)</text>
<rect x="445.1" y="208.7" width="6.4" height="123.0" fill="url(#cb)"/>
<text x="454.7" y="333.6">0</text>
<text x="454.7" y="285.4">0.5</text>
<path d="M445.1,282.5 h1.2 M451.5,282.5 h-1.2" stroke="#444" stroke-opacity="0.6" stroke-width="0.6"/>
<text x="454.7" y="236.2">1.0</text>
<path d="M445.1,233.3 h1.2 M451.5,233.3 h-1.2" stroke="#444" stroke-opacity="0.6" stroke-width="0.6"/>
<text x="444.2" y="206.2">m/s</text></g>
<g clip-path="url(#cp_e)"><g filter="url(#hb)">
<rect x="27.5" y="389.4" width="2.6" height="31.9" fill="url(#ge0)"/>
<rect x="29.5" y="389.6" width="2.6" height="34.6" fill="url(#ge1)"/>
<rect x="31.5" y="389.9" width="2.6" height="37.3" fill="url(#ge2)"/>
<rect x="33.5" y="390.1" width="2.6" height="40.0" fill="url(#ge3)"/>
<rect x="35.5" y="390.3" width="2.6" height="42.4" fill="url(#ge4)"/>
<rect x="37.5" y="390.6" width="2.6" height="44.6" fill="url(#ge5)"/>
<rect x="39.5" y="390.8" width="2.6" height="46.9" fill="url(#ge6)"/>
<rect x="41.5" y="391.0" width="2.6" height="49.2" fill="url(#ge7)"/>
<rect x="43.5" y="391.3" width="2.6" height="50.6" fill="url(#ge8)"/>
<rect x="45.5" y="391.6" width="2.6" height="51.6" fill="url(#ge9)"/>
<rect x="47.5" y="391.9" width="2.6" height="52.5" fill="url(#ge10)"/>
<rect x="49.5" y="392.2" width="2.6" height="53.5" fill="url(#ge11)"/>
<rect x="51.5" y="392.5" width="2.6" height="55.7" fill="url(#ge12)"/>
<rect x="53.5" y="392.8" width="2.6" height="58.6" fill="url(#ge13)"/>
<rect x="55.5" y="393.1" width="2.6" height="61.4" fill="url(#ge14)"/>
<rect x="57.5" y="393.3" width="2.6" height="65.0" fill="url(#ge15)"/>
<rect x="59.5" y="393.9" width="2.6" height="69.2" fill="url(#ge16)"/>
<rect x="61.5" y="394.6" width="2.6" height="73.7" fill="url(#ge17)"/>
<rect x="63.5" y="395.3" width="2.6" height="79.8" fill="url(#ge18)"/>
<rect x="65.5" y="396.0" width="2.6" height="85.8" fill="url(#ge19)"/>
<rect x="67.5" y="396.7" width="2.6" height="91.4" fill="url(#ge20)"/>
<rect x="69.5" y="397.4" width="2.6" height="96.6" fill="url(#ge21)"/>
<rect x="71.5" y="398.1" width="2.6" height="101.9" fill="url(#ge22)"/>
<rect x="73.5" y="398.4" width="2.6" height="105.8" fill="url(#ge23)"/>
<rect x="75.5" y="398.7" width="2.6" height="109.6" fill="url(#ge24)"/>
<rect x="77.5" y="399.0" width="2.6" height="113.4" fill="url(#ge25)"/>
<rect x="79.5" y="399.2" width="2.6" height="116.1" fill="url(#ge26)"/>
<rect x="81.5" y="399.5" width="2.6" height="118.2" fill="url(#ge27)"/>
<rect x="83.5" y="399.7" width="2.6" height="120.2" fill="url(#ge28)"/>
<rect x="85.5" y="400.0" width="2.6" height="122.3" fill="url(#ge29)"/>
<rect x="87.5" y="400.2" width="2.6" height="123.0" fill="url(#ge30)"/>
<rect x="89.5" y="400.2" width="2.6" height="123.8" fill="url(#ge31)"/>
<rect x="91.5" y="400.2" width="2.6" height="124.5" fill="url(#ge32)"/>
<rect x="93.5" y="400.2" width="2.6" height="125.3" fill="url(#ge33)"/>
<rect x="95.5" y="400.2" width="2.6" height="125.6" fill="url(#ge34)"/>
<rect x="97.5" y="400.2" width="2.6" height="125.5" fill="url(#ge35)"/>
<rect x="99.5" y="400.2" width="2.6" height="125.4" fill="url(#ge36)"/>
<rect x="101.5" y="400.1" width="2.6" height="125.4" fill="url(#ge37)"/>
<rect x="103.5" y="400.0" width="2.6" height="124.8" fill="url(#ge38)"/>
<rect x="105.5" y="400.0" width="2.6" height="123.8" fill="url(#ge39)"/>
<rect x="107.5" y="399.9" width="2.6" height="122.9" fill="url(#ge40)"/>
<rect x="109.5" y="399.8" width="2.6" height="121.0" fill="url(#ge41)"/>
<rect x="111.5" y="399.7" width="2.6" height="119.0" fill="url(#ge42)"/>
<rect x="113.5" y="399.6" width="2.6" height="116.2" fill="url(#ge43)"/>
<rect x="115.5" y="399.1" width="2.6" height="112.7" fill="url(#ge44)"/>
<rect x="117.5" y="398.4" width="2.6" height="109.3" fill="url(#ge45)"/>
<rect x="119.5" y="397.8" width="2.6" height="105.5" fill="url(#ge46)"/>
<rect x="121.5" y="397.1" width="2.6" height="101.6" fill="url(#ge47)"/>
<rect x="123.5" y="396.5" width="2.6" height="97.6" fill="url(#ge48)"/>
<rect x="125.5" y="395.9" width="2.6" height="94.3" fill="url(#ge49)"/>
<rect x="127.5" y="395.2" width="2.6" height="91.0" fill="url(#ge50)"/>
<rect x="129.5" y="394.8" width="2.6" height="87.6" fill="url(#ge51)"/>
<rect x="131.5" y="394.5" width="2.6" height="85.2" fill="url(#ge52)"/>
<rect x="133.5" y="394.1" width="2.6" height="82.8" fill="url(#ge53)"/>
<rect x="135.5" y="393.8" width="2.6" height="80.5" fill="url(#ge54)"/>
<rect x="137.5" y="393.5" width="2.6" height="78.1" fill="url(#ge55)"/>
<rect x="139.5" y="393.1" width="2.6" height="75.7" fill="url(#ge56)"/>
<rect x="141.5" y="392.8" width="2.6" height="73.3" fill="url(#ge57)"/>
<rect x="143.5" y="392.5" width="2.6" height="71.3" fill="url(#ge58)"/>
<rect x="145.5" y="392.2" width="2.6" height="69.6" fill="url(#ge59)"/>
<rect x="147.5" y="391.9" width="2.6" height="67.8" fill="url(#ge60)"/>
<rect x="149.5" y="391.7" width="2.6" height="65.9" fill="url(#ge61)"/>
<rect x="151.5" y="391.6" width="2.6" height="64.0" fill="url(#ge62)"/>
<rect x="153.5" y="391.5" width="2.6" height="62.1" fill="url(#ge63)"/>
<rect x="155.5" y="391.3" width="2.6" height="60.1" fill="url(#ge64)"/>
<rect x="157.5" y="391.2" width="2.6" height="58.2" fill="url(#ge65)"/>
<rect x="159.5" y="391.0" width="2.6" height="56.3" fill="url(#ge66)"/>
<rect x="161.5" y="390.9" width="2.6" height="54.5" fill="url(#ge67)"/>
<rect x="163.5" y="390.8" width="2.6" height="53.1" fill="url(#ge68)"/>
<rect x="165.5" y="390.6" width="2.6" height="51.6" fill="url(#ge69)"/>
<rect x="167.5" y="390.5" width="2.6" height="50.2" fill="url(#ge70)"/>
<rect x="169.5" y="390.4" width="2.6" height="48.7" fill="url(#ge71)"/>
<rect x="171.5" y="390.3" width="2.6" height="47.2" fill="url(#ge72)"/>
<rect x="173.5" y="390.2" width="2.6" height="45.8" fill="url(#ge73)"/>
<rect x="175.5" y="390.1" width="2.6" height="44.3" fill="url(#ge74)"/>
<rect x="177.5" y="390.0" width="2.6" height="42.9" fill="url(#ge75)"/>
<rect x="179.5" y="389.8" width="2.6" height="41.4" fill="url(#ge76)"/>
<rect x="181.5" y="389.7" width="2.6" height="34.0" fill="url(#ge77)"/>
<rect x="183.5" y="389.6" width="2.6" height="26.2" fill="url(#ge78)"/>
<rect x="185.5" y="389.6" width="2.6" height="26.2" fill="url(#ge79)"/>
<rect x="187.5" y="389.6" width="2.6" height="26.2" fill="url(#ge80)"/>
</g>
<path d="M28.0,404.6 L35.0,414.8 L43.1,425.0 L51.2,430.1 L57.6,440.3 L62.0,450.5 L67.3,468.7 L72.7,484.7 L79.2,497.8 L86.8,506.5 L95.4,509.8 L103.5,509.4 L108.9,506.5 L113.7,501.4 L119.1,490.5 L124.5,478.1 L130.4,466.5 L137.4,457.0 L143.3,449.0 L152.5,439.6 L161.7,430.1 L170.8,422.8 L181.1,414.8 L184.5,397.6" stroke="#2438f0" stroke-width="7" stroke-opacity="0.55" fill="none" filter="url(#bl)"/>
<path d="M34.5,398.4l0.4,-1.3M34.5,401.9l0.4,-1.3M34.5,407.8l0.4,-1.3M34.5,412.3l0.4,-1.3M42.0,399.3l0.4,-1.4M42.0,404.7l0.4,-1.4M42.0,409.1l0.4,-1.4M42.0,413.8l0.4,-1.4M42.0,417.5l0.4,-1.4M42.0,423.0l0.4,-1.4M49.6,400.3l0.7,-2.0M49.6,406.7l0.7,-2.0M49.6,411.9l0.7,-2.0M49.6,417.5l0.7,-2.0M49.6,421.8l0.7,-2.0M49.6,425.6l0.7,-2.0M49.6,429.4l0.7,-2.0M57.1,401.4l0.9,-2.7M57.1,409.9l0.9,-2.7M57.1,416.8l0.9,-2.7M57.1,424.0l0.9,-2.7M57.1,429.8l0.9,-2.7M57.1,434.8l0.9,-2.7M57.1,438.2l0.9,-2.7M64.7,403.6l1.1,-3.3M64.7,416.0l1.1,-3.3M64.7,426.1l1.1,-3.3M64.7,436.8l1.1,-3.3M64.7,445.3l1.1,-3.3M64.7,452.6l1.1,-3.3M64.7,457.6l1.1,-3.3M72.2,406.3l1.2,-3.6M72.2,423.3l1.2,-3.6M72.2,437.1l1.2,-3.6M72.2,451.8l1.2,-3.6M72.2,463.4l1.2,-3.6M72.2,473.4l1.2,-3.6M72.2,480.3l1.2,-3.6M79.7,407.4l1.2,-3.6M79.7,427.5l1.2,-3.6M79.7,443.9l1.2,-3.6M79.7,461.3l1.2,-3.6M79.7,475.0l1.2,-3.6M79.7,486.9l1.2,-3.6M79.7,495.1l1.2,-3.6M79.7,498.7l1.2,-3.6M87.3,408.4l1.2,-3.6M87.3,430.1l1.2,-3.6M87.3,447.8l1.2,-3.6M87.3,466.6l1.2,-3.6M87.3,481.4l1.2,-3.6M87.3,494.2l1.2,-3.6M87.3,503.1l1.2,-3.6M87.3,507.0l1.2,-3.6M94.8,408.5l1.2,-3.6M94.8,430.8l1.2,-3.6M94.8,449.1l1.2,-3.6M94.8,468.3l1.2,-3.6M94.8,483.5l1.2,-3.6M94.8,496.7l1.2,-3.6M94.8,505.9l1.2,-3.6M94.8,509.9l1.2,-3.6M102.4,408.4l1.2,-3.6M102.4,430.7l1.2,-3.6M102.4,449.0l1.2,-3.6M102.4,468.2l1.2,-3.6M102.4,483.4l1.2,-3.6M102.4,496.6l1.2,-3.6M102.4,505.7l1.2,-3.6M102.4,509.8l1.2,-3.6M109.9,408.1l1.2,-3.6M109.9,429.6l1.2,-3.6M109.9,447.1l1.2,-3.6M109.9,465.7l1.2,-3.6M109.9,480.3l1.2,-3.6M109.9,493.0l1.2,-3.6M109.9,501.8l1.2,-3.6M109.9,505.7l1.2,-3.6M115.6,407.6l1.2,-3.6M115.6,427.5l1.2,-3.6M115.6,443.7l1.2,-3.6M115.6,460.8l1.2,-3.6M115.6,474.4l1.2,-3.6M115.6,486.1l1.2,-3.6M115.6,494.2l1.2,-3.6M115.6,497.8l1.2,-3.6M121.4,405.8l1.2,-3.6M121.4,423.4l1.2,-3.6M121.4,437.7l1.2,-3.6M121.4,452.9l1.2,-3.6M121.4,464.9l1.2,-3.6M121.4,475.2l1.2,-3.6M121.4,482.4l1.2,-3.6M127.1,404.0l1.2,-3.6M127.1,419.2l1.2,-3.6M127.1,431.7l1.2,-3.6M127.1,444.9l1.2,-3.6M127.1,455.3l1.2,-3.6M127.1,464.3l1.2,-3.6M127.1,470.6l1.2,-3.6M132.8,402.7l1.2,-3.6M132.8,416.1l1.2,-3.6M132.8,427.1l1.2,-3.6M132.8,438.6l1.2,-3.6M132.8,447.8l1.2,-3.6M132.8,455.7l1.2,-3.6M132.8,461.2l1.2,-3.6M138.5,401.8l1.2,-3.6M138.5,413.7l1.2,-3.6M138.5,423.4l1.2,-3.6M138.5,433.7l1.2,-3.6M138.5,441.8l1.2,-3.6M138.5,448.8l1.2,-3.6M138.5,453.7l1.2,-3.6M144.2,400.8l1.2,-3.6M144.2,411.3l1.2,-3.6M144.2,419.9l1.2,-3.6M144.2,428.9l1.2,-3.6M144.2,436.1l1.2,-3.6M144.2,442.2l1.2,-3.6M144.2,446.5l1.2,-3.6M149.9,400.1l1.2,-3.6M149.9,409.4l1.2,-3.6M149.9,417.1l1.2,-3.6M149.9,425.1l1.2,-3.6M149.9,431.5l1.2,-3.6M149.9,437.0l1.2,-3.6M149.9,440.8l1.2,-3.6M155.6,399.7l1.2,-3.6M155.6,407.8l1.2,-3.6M155.6,414.5l1.2,-3.6M155.6,421.5l1.2,-3.6M155.6,427.0l1.2,-3.6M155.6,431.8l1.2,-3.6M155.6,436.6l1.2,-3.6M161.3,399.3l1.2,-3.6M161.3,406.2l1.2,-3.6M161.3,411.9l1.2,-3.6M161.3,417.8l1.2,-3.6M161.3,422.6l1.2,-3.6M161.3,426.6l1.2,-3.6M161.3,430.7l1.2,-3.6M167.1,398.9l1.2,-3.6M167.1,404.9l1.2,-3.6M167.1,409.8l1.2,-3.6M167.1,415.0l1.2,-3.6M167.1,419.0l1.2,-3.6M167.1,422.6l1.2,-3.6M167.1,426.1l1.2,-3.6M172.8,398.6l1.2,-3.6M172.8,403.6l1.2,-3.6M172.8,407.8l1.2,-3.6M172.8,412.2l1.2,-3.6M172.8,415.6l1.2,-3.6M172.8,420.7l1.2,-3.6M178.5,398.3l1.2,-3.6M178.5,402.4l1.2,-3.6M178.5,409.4l1.2,-3.6M178.5,414.7l1.2,-3.6" stroke="#20262c" stroke-opacity="0.5" stroke-width="0.8" fill="none"/>
</g>
<path d="M49.6,400.2l0.3,-1.7M57.1,401.3l0.3,-1.7M64.7,403.5l0.3,-1.7M72.2,406.2l0.3,-1.7M79.7,407.3l0.3,-1.7M87.3,408.3l0.3,-1.7M94.8,408.4l0.3,-1.7M102.4,408.3l0.3,-1.7M109.9,408.0l0.3,-1.7M115.6,407.5l0.3,-1.7M121.4,405.7l0.3,-1.7M127.1,403.9l0.3,-1.7M132.8,402.6l0.3,-1.7M138.5,401.7l0.3,-1.7M144.2,400.7l0.3,-1.7M149.9,400.0l0.3,-1.7M155.6,399.6l0.3,-1.7M161.3,399.2l0.3,-1.7M167.1,398.8l0.3,-1.7M172.8,398.5l0.3,-1.7M178.5,398.2l0.3,-1.7" stroke="#b87858" stroke-opacity="0.7" stroke-width="0.8" fill="none"/>
<path d="M28.0,377.7 V523.3 H189.8" stroke="#a6a6a6" stroke-width="1" fill="none"/>
<path d="M28.0,377.7 h1.6 M28.0,392.3 h1.6 M28.0,406.8 h1.6 M28.0,421.4 h1.6 M28.0,435.9 h1.6 M28.0,450.5 h1.6 M28.0,465.1 h1.6 M28.0,479.6 h1.6 M28.0,494.2 h1.6 M28.0,508.7 h1.6 M28.0,523.3 h1.6 M28.0,523.3 v-1.6 M55.0,523.3 v-1.6 M81.9,523.3 v-1.6 M108.9,523.3 v-1.6 M135.9,523.3 v-1.6 M162.8,523.3 v-1.6 M189.8,523.3 v-1.6" stroke="#a6a6a6" stroke-width="0.8" fill="none"/>
<g font-size="8.4"><text x="24.0" y="379.9" text-anchor="end">4</text>
<text x="24.0" y="409.3" text-anchor="end">0</text>
<text x="24.0" y="438.7" text-anchor="end">-4</text>
<text x="24.0" y="468.1" text-anchor="end">-8</text>
<text x="24.0" y="497.5" text-anchor="end">-12</text>
<text x="24.0" y="523.8" text-anchor="end">-16</text>
<text x="28.5" y="531.7" text-anchor="middle">0</text>
<text x="81.2" y="531.7" text-anchor="middle">100</text>
<text x="136.3" y="531.7" text-anchor="middle">200</text>
<text x="189.4" y="531.7" text-anchor="middle">300</text>
<text x="47.7" y="542.0">Distance along cross-section (m)</text>
<text transform="translate(12.1,450.8) rotate(-90)" text-anchor="middle">Elevation (m)</text>
<text x="40.5" y="384.8">(e)</text>
<rect x="196.1" y="395.6" width="6.3" height="120.7" fill="url(#cb)"/>
<text x="205.6" y="518.2">0</text>
<text x="205.6" y="470.9">0.5</text>
<path d="M196.1,468.0 h1.2 M202.4,468.0 h-1.2" stroke="#444" stroke-opacity="0.6" stroke-width="0.6"/>
<text x="205.6" y="422.6">1.0</text>
<path d="M196.1,419.7 h1.2 M202.4,419.7 h-1.2" stroke="#444" stroke-opacity="0.6" stroke-width="0.6"/>
<text x="195.2" y="393.1">m/s</text></g>
<g clip-path="url(#cp_f)"><g filter="url(#hb)">
<rect x="276.5" y="390.1" width="2.6" height="30.0" fill="url(#gf0)"/>
<rect x="278.5" y="390.3" width="2.6" height="32.6" fill="url(#gf1)"/>
<rect x="280.5" y="390.5" width="2.6" height="35.3" fill="url(#gf2)"/>
<rect x="282.5" y="390.8" width="2.6" height="38.0" fill="url(#gf3)"/>
<rect x="284.5" y="391.0" width="2.6" height="40.4" fill="url(#gf4)"/>
<rect x="286.5" y="391.3" width="2.6" height="42.6" fill="url(#gf5)"/>
<rect x="288.5" y="391.5" width="2.6" height="44.9" fill="url(#gf6)"/>
<rect x="290.5" y="391.8" width="2.6" height="47.2" fill="url(#gf7)"/>
<rect x="292.5" y="392.0" width="2.6" height="48.6" fill="url(#gf8)"/>
<rect x="294.5" y="392.4" width="2.6" height="49.6" fill="url(#gf9)"/>
<rect x="296.5" y="392.7" width="2.6" height="50.5" fill="url(#gf10)"/>
<rect x="298.5" y="393.0" width="2.6" height="51.4" fill="url(#gf11)"/>
<rect x="300.5" y="393.3" width="2.6" height="53.4" fill="url(#gf12)"/>
<rect x="302.5" y="393.7" width="2.6" height="56.3" fill="url(#gf13)"/>
<rect x="304.5" y="394.0" width="2.6" height="59.1" fill="url(#gf14)"/>
<rect x="306.5" y="394.3" width="2.6" height="62.4" fill="url(#gf15)"/>
<rect x="308.5" y="394.8" width="2.6" height="66.7" fill="url(#gf16)"/>
<rect x="310.5" y="395.4" width="2.6" height="71.1" fill="url(#gf17)"/>
<rect x="312.5" y="395.9" width="2.6" height="77.3" fill="url(#gf18)"/>
<rect x="314.5" y="396.5" width="2.6" height="83.5" fill="url(#gf19)"/>
<rect x="316.5" y="397.1" width="2.6" height="89.3" fill="url(#gf20)"/>
<rect x="318.5" y="397.6" width="2.6" height="94.7" fill="url(#gf21)"/>
<rect x="320.5" y="398.2" width="2.6" height="100.0" fill="url(#gf22)"/>
<rect x="322.5" y="398.5" width="2.6" height="104.3" fill="url(#gf23)"/>
<rect x="324.5" y="398.8" width="2.6" height="108.1" fill="url(#gf24)"/>
<rect x="326.5" y="399.1" width="2.6" height="111.8" fill="url(#gf25)"/>
<rect x="328.5" y="399.4" width="2.6" height="114.8" fill="url(#gf26)"/>
<rect x="330.5" y="399.7" width="2.6" height="116.8" fill="url(#gf27)"/>
<rect x="332.5" y="400.0" width="2.6" height="118.8" fill="url(#gf28)"/>
<rect x="334.5" y="400.2" width="2.6" height="120.9" fill="url(#gf29)"/>
<rect x="336.5" y="400.3" width="2.6" height="122.1" fill="url(#gf30)"/>
<rect x="338.5" y="400.3" width="2.6" height="122.9" fill="url(#gf31)"/>
<rect x="340.5" y="400.4" width="2.6" height="123.6" fill="url(#gf32)"/>
<rect x="342.5" y="400.4" width="2.6" height="124.3" fill="url(#gf33)"/>
<rect x="344.5" y="400.5" width="2.6" height="124.7" fill="url(#gf34)"/>
<rect x="346.5" y="400.5" width="2.6" height="124.6" fill="url(#gf35)"/>
<rect x="348.5" y="400.4" width="2.6" height="124.6" fill="url(#gf36)"/>
<rect x="350.5" y="400.4" width="2.6" height="124.5" fill="url(#gf37)"/>
<rect x="352.5" y="400.3" width="2.6" height="124.2" fill="url(#gf38)"/>
<rect x="354.5" y="400.3" width="2.6" height="123.2" fill="url(#gf39)"/>
<rect x="356.5" y="400.3" width="2.6" height="122.2" fill="url(#gf40)"/>
<rect x="358.5" y="400.2" width="2.6" height="120.6" fill="url(#gf41)"/>
<rect x="360.5" y="399.7" width="2.6" height="119.0" fill="url(#gf42)"/>
<rect x="362.5" y="399.1" width="2.6" height="117.4" fill="url(#gf43)"/>
<rect x="364.5" y="398.5" width="2.6" height="114.0" fill="url(#gf44)"/>
<rect x="366.5" y="397.8" width="2.6" height="110.5" fill="url(#gf45)"/>
<rect x="368.5" y="397.2" width="2.6" height="106.9" fill="url(#gf46)"/>
<rect x="370.5" y="396.6" width="2.6" height="102.9" fill="url(#gf47)"/>
<rect x="372.5" y="396.0" width="2.6" height="98.9" fill="url(#gf48)"/>
<rect x="374.5" y="395.6" width="2.6" height="95.2" fill="url(#gf49)"/>
<rect x="376.5" y="395.3" width="2.6" height="91.5" fill="url(#gf50)"/>
<rect x="378.5" y="395.0" width="2.6" height="87.9" fill="url(#gf51)"/>
<rect x="380.5" y="394.8" width="2.6" height="85.0" fill="url(#gf52)"/>
<rect x="382.5" y="394.5" width="2.6" height="82.6" fill="url(#gf53)"/>
<rect x="384.5" y="394.2" width="2.6" height="80.2" fill="url(#gf54)"/>
<rect x="386.5" y="393.9" width="2.6" height="77.8" fill="url(#gf55)"/>
<rect x="388.5" y="393.6" width="2.6" height="75.4" fill="url(#gf56)"/>
<rect x="390.5" y="393.3" width="2.6" height="73.0" fill="url(#gf57)"/>
<rect x="392.5" y="393.1" width="2.6" height="70.6" fill="url(#gf58)"/>
<rect x="394.5" y="392.9" width="2.6" height="68.7" fill="url(#gf59)"/>
<rect x="396.5" y="392.8" width="2.6" height="66.8" fill="url(#gf60)"/>
<rect x="398.5" y="392.6" width="2.6" height="64.9" fill="url(#gf61)"/>
<rect x="400.5" y="392.5" width="2.6" height="63.0" fill="url(#gf62)"/>
<rect x="402.5" y="392.3" width="2.6" height="61.1" fill="url(#gf63)"/>
<rect x="404.5" y="392.2" width="2.6" height="59.2" fill="url(#gf64)"/>
<rect x="406.5" y="392.0" width="2.6" height="57.2" fill="url(#gf65)"/>
<rect x="408.5" y="391.9" width="2.6" height="55.3" fill="url(#gf66)"/>
<rect x="410.5" y="391.7" width="2.6" height="53.4" fill="url(#gf67)"/>
<rect x="412.5" y="391.5" width="2.6" height="52.0" fill="url(#gf68)"/>
<rect x="414.5" y="391.3" width="2.6" height="50.6" fill="url(#gf69)"/>
<rect x="416.5" y="391.2" width="2.6" height="49.2" fill="url(#gf70)"/>
<rect x="418.5" y="391.0" width="2.6" height="47.8" fill="url(#gf71)"/>
<rect x="420.5" y="390.8" width="2.6" height="46.4" fill="url(#gf72)"/>
<rect x="422.5" y="390.6" width="2.6" height="45.0" fill="url(#gf73)"/>
<rect x="424.5" y="390.4" width="2.6" height="43.6" fill="url(#gf74)"/>
<rect x="426.5" y="390.3" width="2.6" height="42.2" fill="url(#gf75)"/>
<rect x="428.5" y="390.1" width="2.6" height="40.8" fill="url(#gf76)"/>
<rect x="430.5" y="389.9" width="2.6" height="38.4" fill="url(#gf77)"/>
<rect x="432.5" y="389.7" width="2.6" height="30.0" fill="url(#gf78)"/>
<rect x="434.5" y="389.6" width="2.6" height="26.2" fill="url(#gf79)"/>
<rect x="436.5" y="389.6" width="2.6" height="26.2" fill="url(#gf80)"/>
</g>
<path d="M277.0,403.3 L284.1,413.6 L292.2,423.8 L300.3,429.0 L306.9,439.2 L311.2,449.5 L316.6,467.8 L322.1,483.9 L328.6,497.1 L336.2,505.9 L344.9,509.2 L353.0,508.9 L358.4,505.9 L363.3,500.8 L368.8,489.8 L374.2,477.3 L380.2,465.6 L387.2,456.1 L393.2,448.0 L402.4,438.5 L411.7,429.0 L420.9,421.6 L431.2,413.6 L434.9,397.6" stroke="#2438f0" stroke-width="7" stroke-opacity="0.55" fill="none" filter="url(#bl)"/>
<path d="M283.5,399.1l0.3,-1.0M283.5,403.4l0.3,-1.0M283.5,407.3l0.3,-1.0M283.5,411.3l0.3,-1.0M291.1,400.0l0.3,-1.0M291.1,405.0l0.3,-1.0M291.1,409.1l0.3,-1.0M291.1,413.4l0.3,-1.0M291.1,416.8l0.3,-1.0M291.1,420.9l0.3,-1.0M298.7,401.2l0.3,-1.0M298.7,407.1l0.3,-1.0M298.7,412.0l0.3,-1.0M298.7,417.1l0.3,-1.0M298.7,421.2l0.3,-1.0M298.7,424.7l0.3,-1.0M298.7,428.2l0.3,-1.0M306.3,402.4l0.3,-1.0M306.3,406.4l0.3,-1.0M306.3,410.4l0.3,-1.0M306.3,416.9l0.3,-1.0M306.3,420.5l0.3,-1.0M306.3,426.7l0.3,-1.0M306.3,431.8l0.3,-1.0M306.3,435.8l0.3,-1.0M313.9,404.3l0.3,-1.0M313.9,410.4l0.3,-1.0M313.9,416.4l0.3,-1.0M313.9,421.3l0.3,-1.0M313.9,426.2l0.3,-1.0M313.9,431.6l0.3,-1.0M313.9,436.6l0.3,-1.0M313.9,440.9l0.3,-1.0M313.9,444.7l0.3,-1.0M313.9,448.6l0.3,-1.0M313.9,454.6l0.3,-1.0M313.9,458.9l0.3,-1.0M321.5,406.5l0.3,-1.0M321.5,414.9l0.3,-1.0M321.5,423.3l0.3,-1.0M321.5,430.1l0.3,-1.0M321.5,437.0l0.3,-1.0M321.5,444.6l0.3,-1.0M321.5,451.4l0.3,-1.0M321.5,457.5l0.3,-1.0M321.5,462.8l0.3,-1.0M321.5,468.2l0.3,-1.0M321.5,472.7l0.3,-1.0M321.5,476.5l0.3,-1.0M321.5,482.6l0.3,-1.0M329.1,407.6l0.3,-1.0M329.1,417.6l0.3,-1.0M329.1,427.5l0.3,-1.0M329.1,435.7l0.3,-1.0M329.1,443.8l0.3,-1.0M329.1,452.9l0.3,-1.0M329.1,461.0l0.3,-1.0M329.1,468.2l0.3,-1.0M329.1,474.5l0.3,-1.0M329.1,480.9l0.3,-1.0M329.1,486.3l0.3,-1.0M329.1,490.8l0.3,-1.0M329.1,494.4l0.3,-1.0M329.1,498.1l0.3,-1.0M336.7,408.6l0.3,-1.0M336.7,419.3l0.3,-1.0M336.7,430.1l0.3,-1.0M336.7,438.9l0.3,-1.0M336.7,447.7l0.3,-1.0M336.7,457.5l0.3,-1.0M336.7,466.3l0.3,-1.0M336.7,474.1l0.3,-1.0M336.7,481.0l0.3,-1.0M336.7,487.8l0.3,-1.0M336.7,493.7l0.3,-1.0M336.7,498.6l0.3,-1.0M336.7,502.5l0.3,-1.0M336.7,506.4l0.3,-1.0M344.3,408.8l0.4,-1.1M344.3,419.8l0.4,-1.1M344.3,430.9l0.4,-1.1M344.3,439.9l0.4,-1.1M344.3,449.0l0.4,-1.1M344.3,459.0l0.4,-1.1M344.3,468.1l0.4,-1.1M344.3,476.1l0.4,-1.1M344.3,483.2l0.4,-1.1M344.3,490.2l0.4,-1.1M344.3,496.2l0.4,-1.1M344.3,501.3l0.4,-1.1M344.3,505.3l0.4,-1.1M344.3,509.3l0.4,-1.1M351.9,408.7l0.5,-1.5M351.9,419.7l0.5,-1.5M351.9,430.8l0.5,-1.5M351.9,439.8l0.5,-1.5M351.9,448.9l0.5,-1.5M351.9,458.9l0.5,-1.5M351.9,468.0l0.5,-1.5M351.9,476.0l0.5,-1.5M351.9,483.1l0.5,-1.5M351.9,490.1l0.5,-1.5M351.9,496.1l0.5,-1.5M351.9,501.2l0.5,-1.5M351.9,505.2l0.5,-1.5M351.9,509.2l0.5,-1.5M359.5,408.5l0.6,-1.7M359.5,419.1l0.6,-1.7M359.5,429.8l0.6,-1.7M359.5,438.5l0.6,-1.7M359.5,447.1l0.6,-1.7M359.5,456.8l0.6,-1.7M359.5,465.5l0.6,-1.7M359.5,473.2l0.6,-1.7M359.5,480.0l0.6,-1.7M359.5,486.7l0.6,-1.7M359.5,492.5l0.6,-1.7M359.5,497.4l0.6,-1.7M359.5,501.2l0.6,-1.7M359.5,505.1l0.6,-1.7M365.3,406.8l0.6,-1.7M365.3,416.8l0.6,-1.7M365.3,426.7l0.6,-1.7M365.3,434.8l0.6,-1.7M365.3,442.9l0.6,-1.7M365.3,452.0l0.6,-1.7M365.3,460.1l0.6,-1.7M365.3,467.3l0.6,-1.7M365.3,473.7l0.6,-1.7M365.3,480.0l0.6,-1.7M365.3,485.4l0.6,-1.7M365.3,489.9l0.6,-1.7M365.3,493.5l0.6,-1.7M365.3,497.1l0.6,-1.7M371.0,405.1l0.6,-1.7M371.0,413.8l0.6,-1.7M371.0,422.6l0.6,-1.7M371.0,429.8l0.6,-1.7M371.0,437.0l0.6,-1.7M371.0,445.0l0.6,-1.7M371.0,452.1l0.6,-1.7M371.0,458.5l0.6,-1.7M371.0,464.1l0.6,-1.7M371.0,469.7l0.6,-1.7M371.0,474.5l0.6,-1.7M371.0,478.5l0.6,-1.7M371.0,484.9l0.6,-1.7M376.8,403.7l0.6,-1.7M376.8,411.3l0.6,-1.7M376.8,418.9l0.6,-1.7M376.8,425.1l0.6,-1.7M376.8,431.2l0.6,-1.7M376.8,438.1l0.6,-1.7M376.8,444.3l0.6,-1.7M376.8,449.8l0.6,-1.7M376.8,454.6l0.6,-1.7M376.8,459.4l0.6,-1.7M376.8,463.6l0.6,-1.7M376.8,467.0l0.6,-1.7M376.8,472.5l0.6,-1.7M382.6,402.9l0.6,-1.7M382.6,409.5l0.6,-1.7M382.6,416.1l0.6,-1.7M382.6,421.4l0.6,-1.7M382.6,426.8l0.6,-1.7M382.6,432.8l0.6,-1.7M382.6,438.2l0.6,-1.7M382.6,443.0l0.6,-1.7M382.6,447.1l0.6,-1.7M382.6,451.3l0.6,-1.7M382.6,454.9l0.6,-1.7M382.6,460.3l0.6,-1.7M388.3,402.1l0.6,-1.7M388.3,407.9l0.6,-1.7M388.3,413.7l0.6,-1.7M388.3,418.5l0.6,-1.7M388.3,423.2l0.6,-1.7M388.3,428.5l0.6,-1.7M388.3,433.3l0.6,-1.7M388.3,437.5l0.6,-1.7M388.3,441.2l0.6,-1.7M388.3,444.9l0.6,-1.7M388.3,450.7l0.6,-1.7M388.3,454.9l0.6,-1.7M394.1,401.3l0.6,-1.7M394.1,406.4l0.6,-1.7M394.1,411.5l0.6,-1.7M394.1,415.6l0.6,-1.7M394.1,419.8l0.6,-1.7M394.1,424.4l0.6,-1.7M394.1,428.5l0.6,-1.7M394.1,432.2l0.6,-1.7M394.1,438.7l0.6,-1.7M394.1,443.7l0.6,-1.7M394.1,447.4l0.6,-1.7M399.8,400.9l0.6,-1.7M399.8,405.4l0.6,-1.7M399.8,409.8l0.6,-1.7M399.8,413.5l0.6,-1.7M399.8,417.1l0.6,-1.7M399.8,421.2l0.6,-1.7M399.8,424.8l0.6,-1.7M399.8,430.9l0.6,-1.7M399.8,436.2l0.6,-1.7M399.8,439.9l0.6,-1.7M405.6,400.5l0.6,-1.7M405.6,404.3l0.6,-1.7M405.6,408.2l0.6,-1.7M405.6,414.5l0.6,-1.7M405.6,418.0l0.6,-1.7M405.6,424.0l0.6,-1.7M405.6,428.9l0.6,-1.7M405.6,432.7l0.6,-1.7M411.3,400.0l0.6,-1.7M411.3,406.5l0.6,-1.7M411.3,411.8l0.6,-1.7M411.3,417.5l0.6,-1.7M411.3,421.9l0.6,-1.7M411.3,425.7l0.6,-1.7M411.3,429.6l0.6,-1.7M417.1,399.5l0.6,-1.7M417.1,405.1l0.6,-1.7M417.1,409.7l0.6,-1.7M417.1,414.5l0.6,-1.7M417.1,418.3l0.6,-1.7M417.1,422.9l0.6,-1.7M422.8,399.0l0.6,-1.7M422.8,403.7l0.6,-1.7M422.8,407.5l0.6,-1.7M422.8,411.6l0.6,-1.7M422.8,416.3l0.6,-1.7M422.8,420.4l0.6,-1.7M428.6,398.5l0.6,-1.7M428.6,402.3l0.6,-1.7M428.6,407.2l0.6,-1.7M428.6,411.4l0.6,-1.7M428.6,415.2l0.6,-1.7" stroke="#20262c" stroke-opacity="0.5" stroke-width="0.8" fill="none"/>
</g>
<path d="M298.7,401.1l0.3,-1.7M306.3,402.3l0.3,-1.7M313.9,404.2l0.3,-1.7M321.5,406.4l0.3,-1.7M329.1,407.5l0.3,-1.7M336.7,408.5l0.3,-1.7M344.3,408.7l0.3,-1.7M351.9,408.6l0.3,-1.7M359.5,408.4l0.3,-1.7M365.3,406.7l0.3,-1.7M371.0,405.0l0.3,-1.7M376.8,403.6l0.3,-1.7M382.6,402.8l0.3,-1.7M388.3,402.0l0.3,-1.7M394.1,401.2l0.3,-1.7M399.8,400.8l0.3,-1.7M405.6,400.4l0.3,-1.7M411.3,399.9l0.3,-1.7M417.1,399.4l0.3,-1.7M422.8,398.9l0.3,-1.7M428.6,398.4l0.3,-1.7" stroke="#b87858" stroke-opacity="0.7" stroke-width="0.8" fill="none"/>
<path d="M277.0,376.2 V522.9 H440.0" stroke="#a6a6a6" stroke-width="1" fill="none"/>
<path d="M277.0,376.2 h1.6 M277.0,390.9 h1.6 M277.0,405.5 h1.6 M277.0,420.2 h1.6 M277.0,434.9 h1.6 M277.0,449.5 h1.6 M277.0,464.2 h1.6 M277.0,478.9 h1.6 M277.0,493.6 h1.6 M277.0,508.2 h1.6 M277.0,522.9 h1.6 M277.0,522.9 v-1.6 M304.2,522.9 v-1.6 M331.3,522.9 v-1.6 M358.5,522.9 v-1.6 M385.7,522.9 v-1.6 M412.8,522.9 v-1.6 M440.0,522.9 v-1.6" stroke="#a6a6a6" stroke-width="0.8" fill="none"/>
<g font-size="8.5"><text x="270.8" y="380.0" text-anchor="end">4</text>
<text x="270.8" y="409.2" text-anchor="end">0</text>
<text x="270.8" y="438.5" text-anchor="end">-4</text>
<text x="270.8" y="467.8" text-anchor="end">-8</text>
<text x="270.8" y="497.0" text-anchor="end">-12</text>
<text x="270.8" y="525.2" text-anchor="end">-16</text>
<text x="276.8" y="533.0" text-anchor="middle">0</text>
<text x="329.4" y="533.0" text-anchor="middle">100</text>
<text x="384.5" y="533.0" text-anchor="middle">200</text>
<text x="438.4" y="533.0" text-anchor="middle">300</text>
<text x="295.9" y="542.7">Distance along cross-section (m)</text>
<text transform="translate(259.2,451.2) rotate(-90)" text-anchor="middle">Elevation (m)</text>
<text x="288.9" y="383.4">(f)</text>
<rect x="445.1" y="394.0" width="6.3" height="121.9" fill="url(#cb)"/>
<text x="454.6" y="517.8">0</text>
<text x="454.6" y="470.0">0.5</text>
<path d="M445.1,467.1 h1.2 M451.4,467.1 h-1.2" stroke="#444" stroke-opacity="0.6" stroke-width="0.6"/>
<text x="454.6" y="421.3">1.0</text>
<path d="M445.1,418.4 h1.2 M451.4,418.4 h-1.2" stroke="#444" stroke-opacity="0.6" stroke-width="0.6"/>
<text x="444.2" y="391.5">m/s</text></g>
</svg>
</body></html>
